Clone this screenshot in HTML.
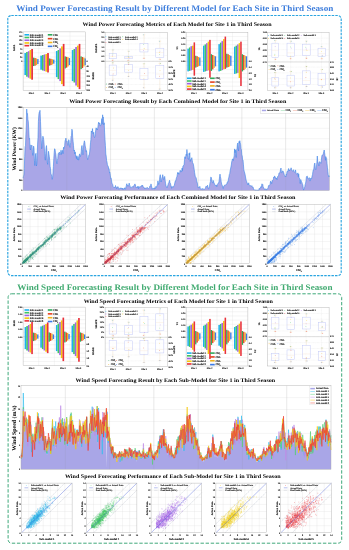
<!DOCTYPE html>
<html lang="en"><head><meta charset="utf-8"><title>Wind Power and Wind Speed Forecasting Result</title>
<style>html,body{margin:0;padding:0;background:#fff;}body{width:349px;height:550px;overflow:hidden;}svg{display:block;text-rendering:geometricPrecision;}</style>
</head><body>
<svg width="349" height="550" viewBox="0 0 349 550" font-family='"Liberation Serif","DejaVu Serif",serif'>
<defs><filter id="soft" x="0" y="0" width="349" height="550" filterUnits="userSpaceOnUse"><feGaussianBlur stdDeviation="0.3"/></filter></defs>
<rect x="0" y="0" width="349" height="550" fill="#fff"/>
<g filter="url(#soft)">
<text x="16.3" y="10.8" font-size="8.4" font-weight="bold" fill="#3d7ddc" text-anchor="start" textLength="317" lengthAdjust="spacingAndGlyphs">Wind Power Forecasting Result by Different Model for Each Site in Third Season</text>
<rect x="7.8" y="15.5" width="333.4" height="260.1" rx="3.5" fill="none" stroke="#2ba5e0" stroke-width="1.15" stroke-dasharray="2.5 1.1"/>
<text x="17.2" y="289.9" font-size="8.4" font-weight="bold" fill="#40aa70" text-anchor="start" textLength="315.3" lengthAdjust="spacingAndGlyphs">Wind Speed Forecasting Result by Different Model for Each Site in Third Season</text>
<rect x="8.1" y="293.8" width="333.6" height="249.4" rx="3.5" fill="none" stroke="#3fa87a" stroke-width="1.0" stroke-dasharray="3.4 1.7"/>
<text x="82.6" y="25.7" font-size="5.5" font-weight="bold" fill="#000" text-anchor="start" textLength="188.9" lengthAdjust="spacingAndGlyphs">Wind Power Forecating Metrics of Each Model for Site 1 in Third Season</text>
<text x="69.3" y="103.1" font-size="5.5" font-weight="bold" fill="#000" text-anchor="start" textLength="217" lengthAdjust="spacingAndGlyphs">Wind Power Forecating Result by Each Combined Model for Site 1 in Third Season</text>
<text x="60.2" y="198.8" font-size="5.5" font-weight="bold" fill="#000" text-anchor="start" textLength="235.2" lengthAdjust="spacingAndGlyphs">Wind Power Forecating Performance of Each Combined Model for Site 1 in Third Season</text>
<text x="83.7" y="302.7" font-size="5.5" font-weight="bold" fill="#000" text-anchor="start" textLength="189.3" lengthAdjust="spacingAndGlyphs">Wind Speed Forecating Metrics of Each Model for Site 1 in Third Season</text>
<text x="75.5" y="381.8" font-size="5.5" font-weight="bold" fill="#000" text-anchor="start" textLength="199.7" lengthAdjust="spacingAndGlyphs">Wind Speed Forecating Result by Each Sub-Model for Site 1 in Third Season</text>
<text x="64.9" y="477.5" font-size="5.5" font-weight="bold" fill="#000" text-anchor="start" textLength="215.8" lengthAdjust="spacingAndGlyphs">Wind Speed Forecating Performance of Each Sub-Model for Site 1 in Third Season</text>
<rect x="23.1" y="31.9" width="62.5" height="58.6" fill="#fff" stroke="none"/>
<line x1="38.73" y1="31.9" x2="38.73" y2="90.5" stroke="#dcdcdc" stroke-width="0.3"/>
<line x1="54.35" y1="31.9" x2="54.35" y2="90.5" stroke="#dcdcdc" stroke-width="0.3"/>
<line x1="69.97" y1="31.9" x2="69.97" y2="90.5" stroke="#dcdcdc" stroke-width="0.3"/>
<line x1="23.1" y1="36.09" x2="85.6" y2="36.09" stroke="#dcdcdc" stroke-width="0.3"/>
<line x1="23.1" y1="40.27" x2="85.6" y2="40.27" stroke="#dcdcdc" stroke-width="0.3"/>
<line x1="23.1" y1="44.46" x2="85.6" y2="44.46" stroke="#dcdcdc" stroke-width="0.3"/>
<line x1="23.1" y1="48.64" x2="85.6" y2="48.64" stroke="#dcdcdc" stroke-width="0.3"/>
<line x1="23.1" y1="52.83" x2="85.6" y2="52.83" stroke="#dcdcdc" stroke-width="0.3"/>
<line x1="23.1" y1="57.01" x2="85.6" y2="57.01" stroke="#dcdcdc" stroke-width="0.3"/>
<line x1="23.1" y1="61.2" x2="85.6" y2="61.2" stroke="#dcdcdc" stroke-width="0.3"/>
<line x1="23.1" y1="65.39" x2="85.6" y2="65.39" stroke="#dcdcdc" stroke-width="0.3"/>
<line x1="23.1" y1="69.57" x2="85.6" y2="69.57" stroke="#dcdcdc" stroke-width="0.3"/>
<line x1="23.1" y1="73.76" x2="85.6" y2="73.76" stroke="#dcdcdc" stroke-width="0.3"/>
<line x1="23.1" y1="77.94" x2="85.6" y2="77.94" stroke="#dcdcdc" stroke-width="0.3"/>
<line x1="23.1" y1="82.13" x2="85.6" y2="82.13" stroke="#dcdcdc" stroke-width="0.3"/>
<line x1="23.1" y1="86.31" x2="85.6" y2="86.31" stroke="#dcdcdc" stroke-width="0.3"/>
<line x1="23.1" y1="61.5" x2="85.6" y2="61.5" stroke="#bbb" stroke-width="0.3"/>
<rect x="24.37" y="53.03" width="1.72" height="22.06" fill="#1fb0ee"/>
<rect x="26.09" y="52.02" width="1.72" height="24.67" fill="#3fc564"/>
<rect x="27.81" y="51.22" width="1.72" height="26.47" fill="#a262e2"/>
<rect x="29.53" y="50.02" width="1.72" height="28.68" fill="#f4c70a"/>
<rect x="31.25" y="49.01" width="1.72" height="30.69" fill="#e8303a"/>
<rect x="32.97" y="57.64" width="1.4" height="8.42" fill="#2fa95a"/>
<rect x="34.37" y="58.04" width="1.4" height="7.62" fill="#e5401f"/>
<rect x="35.77" y="58.44" width="1.4" height="6.62" fill="#f1b21f"/>
<rect x="37.17" y="59.04" width="1.4" height="5.01" fill="#3b7ae8"/>
<text x="31.47" y="93.8" font-size="2.4" font-weight="bold" fill="#222" text-anchor="middle" stroke="#222" stroke-width="0.1">Site 1</text>
<rect x="40.26" y="55.63" width="1.72" height="14.04" fill="#1fb0ee"/>
<rect x="41.98" y="55.03" width="1.72" height="15.44" fill="#3fc564"/>
<rect x="43.7" y="54.43" width="1.72" height="16.65" fill="#a262e2"/>
<rect x="45.42" y="54.03" width="1.72" height="17.65" fill="#f4c70a"/>
<rect x="47.14" y="53.03" width="1.72" height="19.45" fill="#e8303a"/>
<rect x="48.86" y="58.44" width="1.4" height="7.22" fill="#2fa95a"/>
<rect x="50.26" y="58.84" width="1.4" height="6.22" fill="#e5401f"/>
<rect x="51.66" y="59.24" width="1.4" height="5.21" fill="#f1b21f"/>
<rect x="53.06" y="59.64" width="1.4" height="4.01" fill="#3b7ae8"/>
<text x="47.36" y="93.8" font-size="2.4" font-weight="bold" fill="#222" text-anchor="middle" stroke="#222" stroke-width="0.1">Site 2</text>
<rect x="55.89" y="51.02" width="1.72" height="26.07" fill="#1fb0ee"/>
<rect x="57.61" y="50.02" width="1.72" height="29.08" fill="#3fc564"/>
<rect x="59.33" y="48.41" width="1.72" height="32.69" fill="#a262e2"/>
<rect x="61.05" y="46.41" width="1.72" height="37.71" fill="#f4c70a"/>
<rect x="62.77" y="43.9" width="1.72" height="42.22" fill="#e8303a"/>
<rect x="64.49" y="56.43" width="1.4" height="12.03" fill="#2fa95a"/>
<rect x="65.89" y="56.84" width="1.4" height="10.83" fill="#e5401f"/>
<rect x="67.29" y="57.24" width="1.4" height="9.23" fill="#f1b21f"/>
<rect x="68.69" y="58.04" width="1.4" height="7.02" fill="#3b7ae8"/>
<text x="62.99" y="93.8" font-size="2.4" font-weight="bold" fill="#222" text-anchor="middle" stroke="#222" stroke-width="0.1">Site 3</text>
<rect x="71.78" y="50.02" width="1.72" height="31.09" fill="#1fb0ee"/>
<rect x="73.5" y="49.01" width="1.72" height="33.49" fill="#3fc564"/>
<rect x="75.22" y="47.01" width="1.72" height="38.51" fill="#a262e2"/>
<rect x="76.94" y="45.6" width="1.72" height="41.52" fill="#f4c70a"/>
<rect x="78.66" y="43.9" width="1.72" height="45.23" fill="#e8303a"/>
<rect x="80.38" y="56.43" width="1.4" height="12.64" fill="#2fa95a"/>
<rect x="81.78" y="57.04" width="1.4" height="11.03" fill="#e5401f"/>
<rect x="83.18" y="57.64" width="1.4" height="8.82" fill="#f1b21f"/>
<rect x="84.58" y="58.44" width="1.4" height="6.62" fill="#3b7ae8"/>
<text x="78.88" y="93.8" font-size="2.4" font-weight="bold" fill="#222" text-anchor="middle" stroke="#222" stroke-width="0.1">Site 4</text>
<rect x="23.1" y="31.9" width="62.5" height="58.6" fill="none" stroke="#a8a8a8" stroke-width="0.4"/>
<rect x="24.5" y="34" width="4.6" height="1.6" fill="#1fb0ee"/>
<text x="29.8" y="35.6" font-size="2.5" font-weight="bold" fill="#222" text-anchor="start" stroke="#222" stroke-width="0.1">Sub-model 1</text>
<rect x="24.5" y="36.72" width="4.6" height="1.6" fill="#3fc564"/>
<text x="29.8" y="38.32" font-size="2.5" font-weight="bold" fill="#222" text-anchor="start" stroke="#222" stroke-width="0.1">Sub-model 2</text>
<rect x="24.5" y="39.44" width="4.6" height="1.6" fill="#a262e2"/>
<text x="29.8" y="41.04" font-size="2.5" font-weight="bold" fill="#222" text-anchor="start" stroke="#222" stroke-width="0.1">Sub-model 3</text>
<rect x="24.5" y="42.16" width="4.6" height="1.6" fill="#f4c70a"/>
<text x="29.8" y="43.76" font-size="2.5" font-weight="bold" fill="#222" text-anchor="start" stroke="#222" stroke-width="0.1">Sub-model 4</text>
<rect x="24.5" y="44.88" width="4.6" height="1.6" fill="#e8303a"/>
<text x="29.8" y="46.48" font-size="2.5" font-weight="bold" fill="#222" text-anchor="start" stroke="#222" stroke-width="0.1">Sub-model 5</text>
<rect x="47.8" y="34" width="4.6" height="1.6" fill="#2fa95a"/>
<text x="53.1" y="35.65" font-size="2.5" font-weight="bold" fill="#222" text-anchor="start" stroke="#222" stroke-width="0.1">CM<tspan font-size="1.8" dy="0.6">1</tspan></text>
<rect x="47.8" y="37.85" width="4.6" height="1.6" fill="#e5401f"/>
<text x="53.1" y="39.5" font-size="2.5" font-weight="bold" fill="#222" text-anchor="start" stroke="#222" stroke-width="0.1">CM<tspan font-size="1.8" dy="0.6">2</tspan></text>
<rect x="47.8" y="41.7" width="4.6" height="1.6" fill="#f1b21f"/>
<text x="53.1" y="43.35" font-size="2.5" font-weight="bold" fill="#222" text-anchor="start" stroke="#222" stroke-width="0.1">CM<tspan font-size="1.8" dy="0.6">3</tspan></text>
<rect x="47.8" y="45.55" width="4.6" height="1.6" fill="#3b7ae8"/>
<text x="53.1" y="47.2" font-size="2.5" font-weight="bold" fill="#222" text-anchor="start" stroke="#222" stroke-width="0.1">CM<tspan font-size="1.8" dy="0.6">4</tspan></text>
<text x="22.3" y="32.7" font-size="2.25" font-weight="bold" fill="#111" text-anchor="end" stroke="#111" stroke-width="0.1">175</text>
<text x="22.3" y="36.93" font-size="2.25" font-weight="bold" fill="#111" text-anchor="end" stroke="#111" stroke-width="0.1">150</text>
<text x="22.3" y="41.16" font-size="2.25" font-weight="bold" fill="#111" text-anchor="end" stroke="#111" stroke-width="0.1">125</text>
<text x="22.3" y="45.39" font-size="2.25" font-weight="bold" fill="#111" text-anchor="end" stroke="#111" stroke-width="0.1">100</text>
<text x="22.3" y="49.61" font-size="2.25" font-weight="bold" fill="#111" text-anchor="end" stroke="#111" stroke-width="0.1">75</text>
<text x="22.3" y="53.84" font-size="2.25" font-weight="bold" fill="#111" text-anchor="end" stroke="#111" stroke-width="0.1">50</text>
<text x="22.3" y="58.07" font-size="2.25" font-weight="bold" fill="#111" text-anchor="end" stroke="#111" stroke-width="0.1">25</text>
<text x="22.3" y="62.3" font-size="2.25" font-weight="bold" fill="#111" text-anchor="end" stroke="#111" stroke-width="0.1">0</text>
<text x="86.4" y="62.3" font-size="2.25" font-weight="bold" fill="#111" text-anchor="start" stroke="#111" stroke-width="0.1">0</text>
<text x="86.4" y="67.13" font-size="2.25" font-weight="bold" fill="#111" text-anchor="start" stroke="#111" stroke-width="0.1">40</text>
<text x="86.4" y="71.97" font-size="2.25" font-weight="bold" fill="#111" text-anchor="start" stroke="#111" stroke-width="0.1">80</text>
<text x="86.4" y="76.8" font-size="2.25" font-weight="bold" fill="#111" text-anchor="start" stroke="#111" stroke-width="0.1">120</text>
<text x="86.4" y="81.63" font-size="2.25" font-weight="bold" fill="#111" text-anchor="start" stroke="#111" stroke-width="0.1">160</text>
<text x="86.4" y="86.47" font-size="2.25" font-weight="bold" fill="#111" text-anchor="start" stroke="#111" stroke-width="0.1">200</text>
<text x="86.4" y="91.3" font-size="2.25" font-weight="bold" fill="#111" text-anchor="start" stroke="#111" stroke-width="0.1">240</text>
<text x="15.3" y="47.9" font-size="2.6" font-weight="bold" fill="#222" text-anchor="middle" transform="rotate(-90 15.3 47.9)" stroke="#222" stroke-width="0.1">MAE</text>
<text x="93.9" y="75.7" font-size="2.6" font-weight="bold" fill="#222" text-anchor="middle" transform="rotate(-90 93.9 75.7)" stroke="#222" stroke-width="0.1">RMSE</text>
<rect x="186.1" y="32.3" width="61.8" height="58" fill="#fff" stroke="none"/>
<line x1="201.55" y1="32.3" x2="201.55" y2="90.3" stroke="#dcdcdc" stroke-width="0.3"/>
<line x1="217" y1="32.3" x2="217" y2="90.3" stroke="#dcdcdc" stroke-width="0.3"/>
<line x1="232.45" y1="32.3" x2="232.45" y2="90.3" stroke="#dcdcdc" stroke-width="0.3"/>
<line x1="186.1" y1="36.44" x2="247.9" y2="36.44" stroke="#dcdcdc" stroke-width="0.3"/>
<line x1="186.1" y1="40.59" x2="247.9" y2="40.59" stroke="#dcdcdc" stroke-width="0.3"/>
<line x1="186.1" y1="44.73" x2="247.9" y2="44.73" stroke="#dcdcdc" stroke-width="0.3"/>
<line x1="186.1" y1="48.87" x2="247.9" y2="48.87" stroke="#dcdcdc" stroke-width="0.3"/>
<line x1="186.1" y1="53.01" x2="247.9" y2="53.01" stroke="#dcdcdc" stroke-width="0.3"/>
<line x1="186.1" y1="57.16" x2="247.9" y2="57.16" stroke="#dcdcdc" stroke-width="0.3"/>
<line x1="186.1" y1="61.3" x2="247.9" y2="61.3" stroke="#dcdcdc" stroke-width="0.3"/>
<line x1="186.1" y1="65.44" x2="247.9" y2="65.44" stroke="#dcdcdc" stroke-width="0.3"/>
<line x1="186.1" y1="69.59" x2="247.9" y2="69.59" stroke="#dcdcdc" stroke-width="0.3"/>
<line x1="186.1" y1="73.73" x2="247.9" y2="73.73" stroke="#dcdcdc" stroke-width="0.3"/>
<line x1="186.1" y1="77.87" x2="247.9" y2="77.87" stroke="#dcdcdc" stroke-width="0.3"/>
<line x1="186.1" y1="82.01" x2="247.9" y2="82.01" stroke="#dcdcdc" stroke-width="0.3"/>
<line x1="186.1" y1="86.16" x2="247.9" y2="86.16" stroke="#dcdcdc" stroke-width="0.3"/>
<line x1="186.1" y1="61.3" x2="247.9" y2="61.3" stroke="#bbb" stroke-width="0.3"/>
<rect x="187.35" y="48.69" width="1.55" height="22.69" fill="#1fb0ee"/>
<rect x="188.9" y="47.43" width="1.55" height="23.45" fill="#3fc564"/>
<rect x="190.45" y="46.17" width="1.55" height="24.21" fill="#a262e2"/>
<rect x="192" y="45.67" width="1.55" height="24.21" fill="#f4c70a"/>
<rect x="193.55" y="42.39" width="1.55" height="33.28" fill="#e8303a"/>
<rect x="195.1" y="55.75" width="1.35" height="11.85" fill="#2fa95a"/>
<rect x="196.45" y="56.26" width="1.35" height="10.59" fill="#e5401f"/>
<rect x="197.8" y="57.01" width="1.35" height="9.33" fill="#f1b21f"/>
<rect x="199.15" y="57.52" width="1.35" height="8.32" fill="#3b7ae8"/>
<text x="193.92" y="93.6" font-size="2.4" font-weight="bold" fill="#222" text-anchor="middle" stroke="#222" stroke-width="0.1">Site 1</text>
<rect x="202.98" y="45.67" width="1.55" height="26.22" fill="#1fb0ee"/>
<rect x="204.53" y="44.41" width="1.55" height="26.98" fill="#3fc564"/>
<rect x="206.08" y="43.15" width="1.55" height="27.74" fill="#a262e2"/>
<rect x="207.63" y="41.63" width="1.55" height="28.74" fill="#f4c70a"/>
<rect x="209.18" y="39.87" width="1.55" height="37.82" fill="#e8303a"/>
<rect x="210.73" y="54.24" width="1.35" height="16.64" fill="#2fa95a"/>
<rect x="212.08" y="55" width="1.35" height="14.37" fill="#e5401f"/>
<rect x="213.43" y="55.75" width="1.35" height="12.1" fill="#f1b21f"/>
<rect x="214.78" y="56.26" width="1.35" height="10.09" fill="#3b7ae8"/>
<text x="209.55" y="93.6" font-size="2.4" font-weight="bold" fill="#222" text-anchor="middle" stroke="#222" stroke-width="0.1">Site 2</text>
<rect x="218.36" y="44.15" width="1.55" height="27.23" fill="#1fb0ee"/>
<rect x="219.91" y="42.64" width="1.55" height="28.24" fill="#3fc564"/>
<rect x="221.46" y="41.13" width="1.55" height="29" fill="#a262e2"/>
<rect x="223.01" y="39.11" width="1.55" height="30.26" fill="#f4c70a"/>
<rect x="224.56" y="36.59" width="1.55" height="32.27" fill="#e8303a"/>
<rect x="226.11" y="53.74" width="1.35" height="13.87" fill="#2fa95a"/>
<rect x="227.46" y="54.24" width="1.35" height="12.86" fill="#e5401f"/>
<rect x="228.81" y="55" width="1.35" height="11.6" fill="#f1b21f"/>
<rect x="230.16" y="55.75" width="1.35" height="10.09" fill="#3b7ae8"/>
<text x="224.94" y="93.6" font-size="2.4" font-weight="bold" fill="#222" text-anchor="middle" stroke="#222" stroke-width="0.1">Site 3</text>
<rect x="233.99" y="46.68" width="1.55" height="27.23" fill="#1fb0ee"/>
<rect x="235.54" y="45.67" width="1.55" height="27.74" fill="#3fc564"/>
<rect x="237.09" y="44.41" width="1.55" height="28.49" fill="#a262e2"/>
<rect x="238.64" y="43.15" width="1.55" height="34.8" fill="#f4c70a"/>
<rect x="240.19" y="41.63" width="1.55" height="44.38" fill="#e8303a"/>
<rect x="241.74" y="54.24" width="1.35" height="17.15" fill="#2fa95a"/>
<rect x="243.09" y="55" width="1.35" height="15.13" fill="#e5401f"/>
<rect x="244.44" y="55.75" width="1.35" height="13.11" fill="#f1b21f"/>
<rect x="245.79" y="56.26" width="1.35" height="11.35" fill="#3b7ae8"/>
<text x="240.57" y="93.6" font-size="2.4" font-weight="bold" fill="#222" text-anchor="middle" stroke="#222" stroke-width="0.1">Site 4</text>
<rect x="186.1" y="32.3" width="61.8" height="58" fill="none" stroke="#a8a8a8" stroke-width="0.4"/>
<rect x="187" y="77.5" width="4.6" height="1.6" fill="#1fb0ee"/>
<text x="192.3" y="79.1" font-size="2.5" font-weight="bold" fill="#222" text-anchor="start" stroke="#222" stroke-width="0.1">Sub-model 1</text>
<rect x="187" y="80.2" width="4.6" height="1.6" fill="#3fc564"/>
<text x="192.3" y="81.8" font-size="2.5" font-weight="bold" fill="#222" text-anchor="start" stroke="#222" stroke-width="0.1">Sub-model 2</text>
<rect x="187" y="82.9" width="4.6" height="1.6" fill="#a262e2"/>
<text x="192.3" y="84.5" font-size="2.5" font-weight="bold" fill="#222" text-anchor="start" stroke="#222" stroke-width="0.1">Sub-model 3</text>
<rect x="187" y="85.6" width="4.6" height="1.6" fill="#f4c70a"/>
<text x="192.3" y="87.2" font-size="2.5" font-weight="bold" fill="#222" text-anchor="start" stroke="#222" stroke-width="0.1">Sub-model 4</text>
<rect x="187" y="88.3" width="4.6" height="1.6" fill="#e8303a"/>
<text x="192.3" y="89.9" font-size="2.5" font-weight="bold" fill="#222" text-anchor="start" stroke="#222" stroke-width="0.1">Sub-model 5</text>
<rect x="210.1" y="77.5" width="4.6" height="1.6" fill="#2fa95a"/>
<text x="215.4" y="79.15" font-size="2.5" font-weight="bold" fill="#222" text-anchor="start" stroke="#222" stroke-width="0.1">CM<tspan font-size="1.8" dy="0.6">1</tspan></text>
<rect x="210.1" y="81.3" width="4.6" height="1.6" fill="#e5401f"/>
<text x="215.4" y="82.95" font-size="2.5" font-weight="bold" fill="#222" text-anchor="start" stroke="#222" stroke-width="0.1">CM<tspan font-size="1.8" dy="0.6">2</tspan></text>
<rect x="210.1" y="85.1" width="4.6" height="1.6" fill="#f1b21f"/>
<text x="215.4" y="86.75" font-size="2.5" font-weight="bold" fill="#222" text-anchor="start" stroke="#222" stroke-width="0.1">CM<tspan font-size="1.8" dy="0.6">3</tspan></text>
<rect x="210.1" y="88.9" width="4.6" height="1.6" fill="#3b7ae8"/>
<text x="215.4" y="90.55" font-size="2.5" font-weight="bold" fill="#222" text-anchor="start" stroke="#222" stroke-width="0.1">CM<tspan font-size="1.8" dy="0.6">4</tspan></text>
<text x="185.3" y="33.1" font-size="2.25" font-weight="bold" fill="#111" text-anchor="end" stroke="#111" stroke-width="0.1">0.25</text>
<text x="185.3" y="38.9" font-size="2.25" font-weight="bold" fill="#111" text-anchor="end" stroke="#111" stroke-width="0.1">0.20</text>
<text x="185.3" y="44.7" font-size="2.25" font-weight="bold" fill="#111" text-anchor="end" stroke="#111" stroke-width="0.1">0.15</text>
<text x="185.3" y="50.5" font-size="2.25" font-weight="bold" fill="#111" text-anchor="end" stroke="#111" stroke-width="0.1">0.10</text>
<text x="185.3" y="56.3" font-size="2.25" font-weight="bold" fill="#111" text-anchor="end" stroke="#111" stroke-width="0.1">0.05</text>
<text x="185.3" y="62.1" font-size="2.25" font-weight="bold" fill="#111" text-anchor="end" stroke="#111" stroke-width="0.1">0.00</text>
<text x="248.7" y="62.1" font-size="2.25" font-weight="bold" fill="#111" text-anchor="start" stroke="#111" stroke-width="0.1">0.0</text>
<text x="248.7" y="67.9" font-size="2.25" font-weight="bold" fill="#111" text-anchor="start" stroke="#111" stroke-width="0.1">0.4</text>
<text x="248.7" y="73.7" font-size="2.25" font-weight="bold" fill="#111" text-anchor="start" stroke="#111" stroke-width="0.1">0.8</text>
<text x="248.7" y="79.5" font-size="2.25" font-weight="bold" fill="#111" text-anchor="start" stroke="#111" stroke-width="0.1">1.2</text>
<text x="248.7" y="85.3" font-size="2.25" font-weight="bold" fill="#111" text-anchor="start" stroke="#111" stroke-width="0.1">1.6</text>
<text x="248.7" y="91.1" font-size="2.25" font-weight="bold" fill="#111" text-anchor="start" stroke="#111" stroke-width="0.1">2.0</text>
<text x="178.3" y="48" font-size="2.6" font-weight="bold" fill="#222" text-anchor="middle" transform="rotate(-90 178.3 48)" stroke="#222" stroke-width="0.1">U1</text>
<text x="256.2" y="75.5" font-size="2.6" font-weight="bold" fill="#222" text-anchor="middle" transform="rotate(-90 256.2 75.5)" stroke="#222" stroke-width="0.1">U2</text>
<rect x="23.1" y="307.1" width="62.5" height="58.6" fill="#fff" stroke="none"/>
<line x1="38.73" y1="307.1" x2="38.73" y2="365.7" stroke="#dcdcdc" stroke-width="0.3"/>
<line x1="54.35" y1="307.1" x2="54.35" y2="365.7" stroke="#dcdcdc" stroke-width="0.3"/>
<line x1="69.97" y1="307.1" x2="69.97" y2="365.7" stroke="#dcdcdc" stroke-width="0.3"/>
<line x1="23.1" y1="311.29" x2="85.6" y2="311.29" stroke="#dcdcdc" stroke-width="0.3"/>
<line x1="23.1" y1="315.47" x2="85.6" y2="315.47" stroke="#dcdcdc" stroke-width="0.3"/>
<line x1="23.1" y1="319.66" x2="85.6" y2="319.66" stroke="#dcdcdc" stroke-width="0.3"/>
<line x1="23.1" y1="323.84" x2="85.6" y2="323.84" stroke="#dcdcdc" stroke-width="0.3"/>
<line x1="23.1" y1="328.03" x2="85.6" y2="328.03" stroke="#dcdcdc" stroke-width="0.3"/>
<line x1="23.1" y1="332.21" x2="85.6" y2="332.21" stroke="#dcdcdc" stroke-width="0.3"/>
<line x1="23.1" y1="336.4" x2="85.6" y2="336.4" stroke="#dcdcdc" stroke-width="0.3"/>
<line x1="23.1" y1="340.59" x2="85.6" y2="340.59" stroke="#dcdcdc" stroke-width="0.3"/>
<line x1="23.1" y1="344.77" x2="85.6" y2="344.77" stroke="#dcdcdc" stroke-width="0.3"/>
<line x1="23.1" y1="348.96" x2="85.6" y2="348.96" stroke="#dcdcdc" stroke-width="0.3"/>
<line x1="23.1" y1="353.14" x2="85.6" y2="353.14" stroke="#dcdcdc" stroke-width="0.3"/>
<line x1="23.1" y1="357.33" x2="85.6" y2="357.33" stroke="#dcdcdc" stroke-width="0.3"/>
<line x1="23.1" y1="361.51" x2="85.6" y2="361.51" stroke="#dcdcdc" stroke-width="0.3"/>
<line x1="23.1" y1="336.8" x2="85.6" y2="336.8" stroke="#bbb" stroke-width="0.3"/>
<rect x="24.62" y="327.03" width="1.65" height="22.06" fill="#1fb0ee"/>
<rect x="26.27" y="326.03" width="1.65" height="24.47" fill="#3fc564"/>
<rect x="27.92" y="325.03" width="1.65" height="26.67" fill="#a262e2"/>
<rect x="29.57" y="324.02" width="1.65" height="28.48" fill="#f4c70a"/>
<rect x="31.22" y="322.02" width="1.65" height="32.09" fill="#e8303a"/>
<rect x="32.87" y="332.65" width="1.4" height="8.42" fill="#2fa95a"/>
<rect x="34.27" y="333.05" width="1.4" height="7.42" fill="#e5401f"/>
<rect x="35.67" y="333.65" width="1.4" height="6.02" fill="#f1b21f"/>
<rect x="37.07" y="334.45" width="1.4" height="4.21" fill="#3b7ae8"/>
<text x="31.55" y="369" font-size="2.4" font-weight="bold" fill="#222" text-anchor="middle" stroke="#222" stroke-width="0.1">Site 1</text>
<rect x="40.26" y="326.43" width="1.65" height="21.26" fill="#1fb0ee"/>
<rect x="41.91" y="325.63" width="1.65" height="23.47" fill="#3fc564"/>
<rect x="43.56" y="324.82" width="1.65" height="25.67" fill="#a262e2"/>
<rect x="45.21" y="324.02" width="1.65" height="27.68" fill="#f4c70a"/>
<rect x="46.86" y="322.42" width="1.65" height="30.69" fill="#e8303a"/>
<rect x="48.51" y="332.45" width="1.4" height="9.23" fill="#2fa95a"/>
<rect x="49.91" y="333.05" width="1.4" height="7.82" fill="#e5401f"/>
<rect x="51.31" y="333.65" width="1.4" height="6.42" fill="#f1b21f"/>
<rect x="52.71" y="334.45" width="1.4" height="4.61" fill="#3b7ae8"/>
<text x="47.18" y="369" font-size="2.4" font-weight="bold" fill="#222" text-anchor="middle" stroke="#222" stroke-width="0.1">Site 2</text>
<rect x="55.89" y="325.03" width="1.65" height="26.07" fill="#1fb0ee"/>
<rect x="57.54" y="323.62" width="1.65" height="29.48" fill="#3fc564"/>
<rect x="59.19" y="322.02" width="1.65" height="33.09" fill="#a262e2"/>
<rect x="60.84" y="320.41" width="1.65" height="37.71" fill="#f4c70a"/>
<rect x="62.49" y="317.6" width="1.65" height="43.52" fill="#e8303a"/>
<rect x="64.14" y="331.64" width="1.4" height="10.83" fill="#2fa95a"/>
<rect x="65.54" y="332.45" width="1.4" height="9.23" fill="#e5401f"/>
<rect x="66.94" y="333.05" width="1.4" height="7.42" fill="#f1b21f"/>
<rect x="68.34" y="334.05" width="1.4" height="5.21" fill="#3b7ae8"/>
<text x="62.82" y="369" font-size="2.4" font-weight="bold" fill="#222" text-anchor="middle" stroke="#222" stroke-width="0.1">Site 3</text>
<rect x="71.52" y="325.63" width="1.65" height="26.47" fill="#1fb0ee"/>
<rect x="73.17" y="324.02" width="1.65" height="30.08" fill="#3fc564"/>
<rect x="74.82" y="322.42" width="1.65" height="33.69" fill="#a262e2"/>
<rect x="76.47" y="320.41" width="1.65" height="37.71" fill="#f4c70a"/>
<rect x="78.12" y="318.01" width="1.65" height="43.72" fill="#e8303a"/>
<rect x="79.77" y="332.45" width="1.4" height="9.23" fill="#2fa95a"/>
<rect x="81.17" y="333.05" width="1.4" height="7.82" fill="#e5401f"/>
<rect x="82.57" y="333.65" width="1.4" height="6.42" fill="#f1b21f"/>
<rect x="83.97" y="334.45" width="1.4" height="4.61" fill="#3b7ae8"/>
<text x="78.45" y="369" font-size="2.4" font-weight="bold" fill="#222" text-anchor="middle" stroke="#222" stroke-width="0.1">Site 4</text>
<rect x="23.1" y="307.1" width="62.5" height="58.6" fill="none" stroke="#a8a8a8" stroke-width="0.4"/>
<rect x="24.5" y="309.2" width="4.6" height="1.6" fill="#1fb0ee"/>
<text x="29.8" y="310.8" font-size="2.5" font-weight="bold" fill="#222" text-anchor="start" stroke="#222" stroke-width="0.1">Sub-model 1</text>
<rect x="24.5" y="311.92" width="4.6" height="1.6" fill="#3fc564"/>
<text x="29.8" y="313.52" font-size="2.5" font-weight="bold" fill="#222" text-anchor="start" stroke="#222" stroke-width="0.1">Sub-model 2</text>
<rect x="24.5" y="314.64" width="4.6" height="1.6" fill="#a262e2"/>
<text x="29.8" y="316.24" font-size="2.5" font-weight="bold" fill="#222" text-anchor="start" stroke="#222" stroke-width="0.1">Sub-model 3</text>
<rect x="24.5" y="317.36" width="4.6" height="1.6" fill="#f4c70a"/>
<text x="29.8" y="318.96" font-size="2.5" font-weight="bold" fill="#222" text-anchor="start" stroke="#222" stroke-width="0.1">Sub-model 4</text>
<rect x="24.5" y="320.08" width="4.6" height="1.6" fill="#e8303a"/>
<text x="29.8" y="321.68" font-size="2.5" font-weight="bold" fill="#222" text-anchor="start" stroke="#222" stroke-width="0.1">Sub-model 5</text>
<rect x="47.8" y="309.2" width="4.6" height="1.6" fill="#2fa95a"/>
<text x="53.1" y="310.85" font-size="2.5" font-weight="bold" fill="#222" text-anchor="start" stroke="#222" stroke-width="0.1">CM<tspan font-size="1.8" dy="0.6">1</tspan></text>
<rect x="47.8" y="313.05" width="4.6" height="1.6" fill="#e5401f"/>
<text x="53.1" y="314.7" font-size="2.5" font-weight="bold" fill="#222" text-anchor="start" stroke="#222" stroke-width="0.1">CM<tspan font-size="1.8" dy="0.6">2</tspan></text>
<rect x="47.8" y="316.9" width="4.6" height="1.6" fill="#f1b21f"/>
<text x="53.1" y="318.55" font-size="2.5" font-weight="bold" fill="#222" text-anchor="start" stroke="#222" stroke-width="0.1">CM<tspan font-size="1.8" dy="0.6">3</tspan></text>
<rect x="47.8" y="320.75" width="4.6" height="1.6" fill="#3b7ae8"/>
<text x="53.1" y="322.4" font-size="2.5" font-weight="bold" fill="#222" text-anchor="start" stroke="#222" stroke-width="0.1">CM<tspan font-size="1.8" dy="0.6">4</tspan></text>
<text x="22.3" y="307.9" font-size="2.25" font-weight="bold" fill="#111" text-anchor="end" stroke="#111" stroke-width="0.1">2.00</text>
<text x="22.3" y="315.33" font-size="2.25" font-weight="bold" fill="#111" text-anchor="end" stroke="#111" stroke-width="0.1">1.50</text>
<text x="22.3" y="322.75" font-size="2.25" font-weight="bold" fill="#111" text-anchor="end" stroke="#111" stroke-width="0.1">1.00</text>
<text x="22.3" y="330.18" font-size="2.25" font-weight="bold" fill="#111" text-anchor="end" stroke="#111" stroke-width="0.1">0.50</text>
<text x="22.3" y="337.6" font-size="2.25" font-weight="bold" fill="#111" text-anchor="end" stroke="#111" stroke-width="0.1">0.00</text>
<text x="86.4" y="337.6" font-size="2.25" font-weight="bold" fill="#111" text-anchor="start" stroke="#111" stroke-width="0.1">0.0</text>
<text x="86.4" y="344.82" font-size="2.25" font-weight="bold" fill="#111" text-anchor="start" stroke="#111" stroke-width="0.1">0.6</text>
<text x="86.4" y="352.05" font-size="2.25" font-weight="bold" fill="#111" text-anchor="start" stroke="#111" stroke-width="0.1">1.2</text>
<text x="86.4" y="359.28" font-size="2.25" font-weight="bold" fill="#111" text-anchor="start" stroke="#111" stroke-width="0.1">1.8</text>
<text x="86.4" y="366.5" font-size="2.25" font-weight="bold" fill="#111" text-anchor="start" stroke="#111" stroke-width="0.1">2.4</text>
<text x="15.3" y="323.15" font-size="2.6" font-weight="bold" fill="#222" text-anchor="middle" transform="rotate(-90 15.3 323.15)" stroke="#222" stroke-width="0.1">MAE</text>
<text x="93.9" y="350.95" font-size="2.6" font-weight="bold" fill="#222" text-anchor="middle" transform="rotate(-90 93.9 350.95)" stroke="#222" stroke-width="0.1">RMSE</text>
<rect x="186.1" y="307.6" width="61.8" height="58.4" fill="#fff" stroke="none"/>
<line x1="201.55" y1="307.6" x2="201.55" y2="366" stroke="#dcdcdc" stroke-width="0.3"/>
<line x1="217" y1="307.6" x2="217" y2="366" stroke="#dcdcdc" stroke-width="0.3"/>
<line x1="232.45" y1="307.6" x2="232.45" y2="366" stroke="#dcdcdc" stroke-width="0.3"/>
<line x1="186.1" y1="311.77" x2="247.9" y2="311.77" stroke="#dcdcdc" stroke-width="0.3"/>
<line x1="186.1" y1="315.94" x2="247.9" y2="315.94" stroke="#dcdcdc" stroke-width="0.3"/>
<line x1="186.1" y1="320.11" x2="247.9" y2="320.11" stroke="#dcdcdc" stroke-width="0.3"/>
<line x1="186.1" y1="324.29" x2="247.9" y2="324.29" stroke="#dcdcdc" stroke-width="0.3"/>
<line x1="186.1" y1="328.46" x2="247.9" y2="328.46" stroke="#dcdcdc" stroke-width="0.3"/>
<line x1="186.1" y1="332.63" x2="247.9" y2="332.63" stroke="#dcdcdc" stroke-width="0.3"/>
<line x1="186.1" y1="336.8" x2="247.9" y2="336.8" stroke="#dcdcdc" stroke-width="0.3"/>
<line x1="186.1" y1="340.97" x2="247.9" y2="340.97" stroke="#dcdcdc" stroke-width="0.3"/>
<line x1="186.1" y1="345.14" x2="247.9" y2="345.14" stroke="#dcdcdc" stroke-width="0.3"/>
<line x1="186.1" y1="349.31" x2="247.9" y2="349.31" stroke="#dcdcdc" stroke-width="0.3"/>
<line x1="186.1" y1="353.49" x2="247.9" y2="353.49" stroke="#dcdcdc" stroke-width="0.3"/>
<line x1="186.1" y1="357.66" x2="247.9" y2="357.66" stroke="#dcdcdc" stroke-width="0.3"/>
<line x1="186.1" y1="361.83" x2="247.9" y2="361.83" stroke="#dcdcdc" stroke-width="0.3"/>
<line x1="186.1" y1="337.3" x2="247.9" y2="337.3" stroke="#bbb" stroke-width="0.3"/>
<rect x="187.35" y="326.48" width="1.55" height="19.67" fill="#1fb0ee"/>
<rect x="188.9" y="325.72" width="1.55" height="21.18" fill="#3fc564"/>
<rect x="190.45" y="324.71" width="1.55" height="23.2" fill="#a262e2"/>
<rect x="192" y="323.45" width="1.55" height="26.22" fill="#f4c70a"/>
<rect x="193.55" y="321.43" width="1.55" height="30.26" fill="#e8303a"/>
<rect x="195.1" y="331.01" width="1.35" height="13.36" fill="#2fa95a"/>
<rect x="196.45" y="331.77" width="1.35" height="10.84" fill="#e5401f"/>
<rect x="197.8" y="332.53" width="1.35" height="8.32" fill="#f1b21f"/>
<rect x="199.15" y="333.28" width="1.35" height="6.05" fill="#3b7ae8"/>
<text x="193.92" y="369.3" font-size="2.4" font-weight="bold" fill="#222" text-anchor="middle" stroke="#222" stroke-width="0.1">Site 1</text>
<rect x="202.98" y="325.72" width="1.55" height="21.18" fill="#1fb0ee"/>
<rect x="204.53" y="324.71" width="1.55" height="23.7" fill="#3fc564"/>
<rect x="206.08" y="323.45" width="1.55" height="26.48" fill="#a262e2"/>
<rect x="207.63" y="321.94" width="1.55" height="32.02" fill="#f4c70a"/>
<rect x="209.18" y="318.91" width="1.55" height="40.09" fill="#e8303a"/>
<rect x="210.73" y="330.01" width="1.35" height="14.88" fill="#2fa95a"/>
<rect x="212.08" y="330.76" width="1.35" height="12.36" fill="#e5401f"/>
<rect x="213.43" y="331.52" width="1.35" height="10.09" fill="#f1b21f"/>
<rect x="214.78" y="332.53" width="1.35" height="7.56" fill="#3b7ae8"/>
<text x="209.55" y="369.3" font-size="2.4" font-weight="bold" fill="#222" text-anchor="middle" stroke="#222" stroke-width="0.1">Site 2</text>
<rect x="218.36" y="324.96" width="1.55" height="20.68" fill="#1fb0ee"/>
<rect x="219.91" y="323.95" width="1.55" height="22.95" fill="#3fc564"/>
<rect x="221.46" y="322.95" width="1.55" height="25.47" fill="#a262e2"/>
<rect x="223.01" y="320.93" width="1.55" height="30.01" fill="#f4c70a"/>
<rect x="224.56" y="317.65" width="1.55" height="36.31" fill="#e8303a"/>
<rect x="226.11" y="329.75" width="1.35" height="14.62" fill="#2fa95a"/>
<rect x="227.46" y="330.51" width="1.35" height="12.1" fill="#e5401f"/>
<rect x="228.81" y="331.52" width="1.35" height="9.33" fill="#f1b21f"/>
<rect x="230.16" y="332.53" width="1.35" height="6.81" fill="#3b7ae8"/>
<text x="224.94" y="369.3" font-size="2.4" font-weight="bold" fill="#222" text-anchor="middle" stroke="#222" stroke-width="0.1">Site 3</text>
<rect x="233.99" y="326.98" width="1.55" height="21.94" fill="#1fb0ee"/>
<rect x="235.54" y="325.97" width="1.55" height="24.46" fill="#3fc564"/>
<rect x="237.09" y="324.96" width="1.55" height="26.73" fill="#a262e2"/>
<rect x="238.64" y="323.7" width="1.55" height="30.01" fill="#f4c70a"/>
<rect x="240.19" y="321.43" width="1.55" height="34.54" fill="#e8303a"/>
<rect x="241.74" y="331.01" width="1.35" height="13.87" fill="#2fa95a"/>
<rect x="243.09" y="331.77" width="1.35" height="11.35" fill="#e5401f"/>
<rect x="244.44" y="332.53" width="1.35" height="9.08" fill="#f1b21f"/>
<rect x="245.79" y="333.54" width="1.35" height="6.56" fill="#3b7ae8"/>
<text x="240.57" y="369.3" font-size="2.4" font-weight="bold" fill="#222" text-anchor="middle" stroke="#222" stroke-width="0.1">Site 4</text>
<rect x="186.1" y="307.6" width="61.8" height="58.4" fill="none" stroke="#a8a8a8" stroke-width="0.4"/>
<rect x="187" y="352.3" width="4.6" height="1.6" fill="#1fb0ee"/>
<text x="192.3" y="353.9" font-size="2.5" font-weight="bold" fill="#222" text-anchor="start" stroke="#222" stroke-width="0.1">Sub-model 1</text>
<rect x="187" y="355.02" width="4.6" height="1.6" fill="#3fc564"/>
<text x="192.3" y="356.62" font-size="2.5" font-weight="bold" fill="#222" text-anchor="start" stroke="#222" stroke-width="0.1">Sub-model 2</text>
<rect x="187" y="357.74" width="4.6" height="1.6" fill="#a262e2"/>
<text x="192.3" y="359.34" font-size="2.5" font-weight="bold" fill="#222" text-anchor="start" stroke="#222" stroke-width="0.1">Sub-model 3</text>
<rect x="187" y="360.46" width="4.6" height="1.6" fill="#f4c70a"/>
<text x="192.3" y="362.06" font-size="2.5" font-weight="bold" fill="#222" text-anchor="start" stroke="#222" stroke-width="0.1">Sub-model 4</text>
<rect x="187" y="363.18" width="4.6" height="1.6" fill="#e8303a"/>
<text x="192.3" y="364.78" font-size="2.5" font-weight="bold" fill="#222" text-anchor="start" stroke="#222" stroke-width="0.1">Sub-model 5</text>
<rect x="210.1" y="352.3" width="4.6" height="1.6" fill="#2fa95a"/>
<text x="215.4" y="353.95" font-size="2.5" font-weight="bold" fill="#222" text-anchor="start" stroke="#222" stroke-width="0.1">CM<tspan font-size="1.8" dy="0.6">1</tspan></text>
<rect x="210.1" y="356.13" width="4.6" height="1.6" fill="#e5401f"/>
<text x="215.4" y="357.78" font-size="2.5" font-weight="bold" fill="#222" text-anchor="start" stroke="#222" stroke-width="0.1">CM<tspan font-size="1.8" dy="0.6">2</tspan></text>
<rect x="210.1" y="359.96" width="4.6" height="1.6" fill="#f1b21f"/>
<text x="215.4" y="361.61" font-size="2.5" font-weight="bold" fill="#222" text-anchor="start" stroke="#222" stroke-width="0.1">CM<tspan font-size="1.8" dy="0.6">3</tspan></text>
<rect x="210.1" y="363.79" width="4.6" height="1.6" fill="#3b7ae8"/>
<text x="215.4" y="365.44" font-size="2.5" font-weight="bold" fill="#222" text-anchor="start" stroke="#222" stroke-width="0.1">CM<tspan font-size="1.8" dy="0.6">4</tspan></text>
<text x="185.3" y="308.4" font-size="2.25" font-weight="bold" fill="#111" text-anchor="end" stroke="#111" stroke-width="0.1">0.25</text>
<text x="185.3" y="314.34" font-size="2.25" font-weight="bold" fill="#111" text-anchor="end" stroke="#111" stroke-width="0.1">0.20</text>
<text x="185.3" y="320.28" font-size="2.25" font-weight="bold" fill="#111" text-anchor="end" stroke="#111" stroke-width="0.1">0.15</text>
<text x="185.3" y="326.22" font-size="2.25" font-weight="bold" fill="#111" text-anchor="end" stroke="#111" stroke-width="0.1">0.10</text>
<text x="185.3" y="332.16" font-size="2.25" font-weight="bold" fill="#111" text-anchor="end" stroke="#111" stroke-width="0.1">0.05</text>
<text x="185.3" y="338.1" font-size="2.25" font-weight="bold" fill="#111" text-anchor="end" stroke="#111" stroke-width="0.1">0.00</text>
<text x="248.7" y="338.1" font-size="2.25" font-weight="bold" fill="#111" text-anchor="start" stroke="#111" stroke-width="0.1">0.0</text>
<text x="248.7" y="343.84" font-size="2.25" font-weight="bold" fill="#111" text-anchor="start" stroke="#111" stroke-width="0.1">0.4</text>
<text x="248.7" y="349.58" font-size="2.25" font-weight="bold" fill="#111" text-anchor="start" stroke="#111" stroke-width="0.1">0.8</text>
<text x="248.7" y="355.32" font-size="2.25" font-weight="bold" fill="#111" text-anchor="start" stroke="#111" stroke-width="0.1">1.2</text>
<text x="248.7" y="361.06" font-size="2.25" font-weight="bold" fill="#111" text-anchor="start" stroke="#111" stroke-width="0.1">1.6</text>
<text x="248.7" y="366.8" font-size="2.25" font-weight="bold" fill="#111" text-anchor="start" stroke="#111" stroke-width="0.1">2.0</text>
<text x="178.3" y="323.65" font-size="2.6" font-weight="bold" fill="#222" text-anchor="middle" transform="rotate(-90 178.3 323.65)" stroke="#222" stroke-width="0.1">U1</text>
<text x="256.2" y="351.35" font-size="2.6" font-weight="bold" fill="#222" text-anchor="middle" transform="rotate(-90 256.2 351.35)" stroke="#222" stroke-width="0.1">U2</text>
<rect x="105.1" y="32.3" width="62.5" height="58" fill="#fff" stroke="none"/>
<line x1="112.91" y1="32.3" x2="112.91" y2="90.3" stroke="#dcdcdc" stroke-width="0.3" stroke-dasharray="0.8 0.5"/>
<line x1="128.54" y1="32.3" x2="128.54" y2="90.3" stroke="#dcdcdc" stroke-width="0.3" stroke-dasharray="0.8 0.5"/>
<line x1="144.16" y1="32.3" x2="144.16" y2="90.3" stroke="#dcdcdc" stroke-width="0.3" stroke-dasharray="0.8 0.5"/>
<line x1="159.79" y1="32.3" x2="159.79" y2="90.3" stroke="#dcdcdc" stroke-width="0.3" stroke-dasharray="0.8 0.5"/>
<line x1="105.1" y1="38.1" x2="167.6" y2="38.1" stroke="#dcdcdc" stroke-width="0.3" stroke-dasharray="0.8 0.5"/>
<line x1="105.1" y1="43.9" x2="167.6" y2="43.9" stroke="#dcdcdc" stroke-width="0.3" stroke-dasharray="0.8 0.5"/>
<line x1="105.1" y1="49.7" x2="167.6" y2="49.7" stroke="#dcdcdc" stroke-width="0.3" stroke-dasharray="0.8 0.5"/>
<line x1="105.1" y1="55.5" x2="167.6" y2="55.5" stroke="#dcdcdc" stroke-width="0.3" stroke-dasharray="0.8 0.5"/>
<line x1="105.1" y1="61.3" x2="167.6" y2="61.3" stroke="#dcdcdc" stroke-width="0.3" stroke-dasharray="0.8 0.5"/>
<line x1="105.1" y1="67.1" x2="167.6" y2="67.1" stroke="#dcdcdc" stroke-width="0.3" stroke-dasharray="0.8 0.5"/>
<line x1="105.1" y1="72.9" x2="167.6" y2="72.9" stroke="#dcdcdc" stroke-width="0.3" stroke-dasharray="0.8 0.5"/>
<line x1="105.1" y1="78.7" x2="167.6" y2="78.7" stroke="#dcdcdc" stroke-width="0.3" stroke-dasharray="0.8 0.5"/>
<line x1="105.1" y1="84.5" x2="167.6" y2="84.5" stroke="#dcdcdc" stroke-width="0.3" stroke-dasharray="0.8 0.5"/>
<line x1="105.1" y1="61.3" x2="167.6" y2="61.3" stroke="#aaa" stroke-width="0.35"/>
<line x1="112.8" y1="49.95" x2="112.8" y2="53.74" stroke="#f5d29a" stroke-width="0.35" stroke-dasharray="0.7 0.5"/>
<line x1="112.8" y1="58.78" x2="112.8" y2="60.29" stroke="#f5d29a" stroke-width="0.35" stroke-dasharray="0.7 0.5"/>
<line x1="111.5" y1="49.95" x2="114.1" y2="49.95" stroke="#f5d29a" stroke-width="0.35"/>
<line x1="111.5" y1="60.29" x2="114.1" y2="60.29" stroke="#f5d29a" stroke-width="0.35"/>
<rect x="109.15" y="53.74" width="7.31" height="5.04" fill="#fff" fill-opacity="0.6" stroke="#bcc4f5" stroke-width="0.45"/>
<line x1="109.15" y1="56.49" x2="116.46" y2="56.49" stroke="#f6dcc0" stroke-width="0.25"/>
<circle cx="112.98" cy="49.95" r="0.4" fill="#1fb0ee" fill-opacity="0.75"/>
<circle cx="112.84" cy="54.1" r="0.4" fill="#3fc564" fill-opacity="0.75"/>
<circle cx="112.27" cy="55.58" r="0.4" fill="#a262e2" fill-opacity="0.75"/>
<circle cx="112.25" cy="56.29" r="0.4" fill="#f4c70a" fill-opacity="0.75"/>
<circle cx="112.29" cy="60.29" r="0.4" fill="#e8303a" fill-opacity="0.75"/>
<line x1="128.56" y1="51.21" x2="128.56" y2="56.26" stroke="#f5d29a" stroke-width="0.35" stroke-dasharray="0.7 0.5"/>
<line x1="128.56" y1="58.78" x2="128.56" y2="60.29" stroke="#f5d29a" stroke-width="0.35" stroke-dasharray="0.7 0.5"/>
<line x1="127.26" y1="51.21" x2="129.86" y2="51.21" stroke="#f5d29a" stroke-width="0.35"/>
<line x1="127.26" y1="60.29" x2="129.86" y2="60.29" stroke="#f5d29a" stroke-width="0.35"/>
<rect x="124.78" y="56.26" width="7.56" height="2.52" fill="#fff" fill-opacity="0.6" stroke="#bcc4f5" stroke-width="0.45"/>
<line x1="124.78" y1="57.46" x2="132.34" y2="57.46" stroke="#f6dcc0" stroke-width="0.25"/>
<circle cx="128.95" cy="51.21" r="0.4" fill="#1fb0ee" fill-opacity="0.75"/>
<circle cx="128.23" cy="56.57" r="0.4" fill="#3fc564" fill-opacity="0.75"/>
<circle cx="129.1" cy="57.84" r="0.4" fill="#a262e2" fill-opacity="0.75"/>
<circle cx="128.44" cy="57.71" r="0.4" fill="#f4c70a" fill-opacity="0.75"/>
<circle cx="128.02" cy="60.29" r="0.4" fill="#e8303a" fill-opacity="0.75"/>
<line x1="143.94" y1="34.83" x2="143.94" y2="43.65" stroke="#f5d29a" stroke-width="0.35" stroke-dasharray="0.7 0.5"/>
<line x1="143.94" y1="51.97" x2="143.94" y2="58.27" stroke="#f5d29a" stroke-width="0.35" stroke-dasharray="0.7 0.5"/>
<line x1="142.64" y1="34.83" x2="145.24" y2="34.83" stroke="#f5d29a" stroke-width="0.35"/>
<line x1="142.64" y1="58.27" x2="145.24" y2="58.27" stroke="#f5d29a" stroke-width="0.35"/>
<rect x="139.91" y="43.65" width="8.07" height="8.32" fill="#fff" fill-opacity="0.6" stroke="#bcc4f5" stroke-width="0.45"/>
<line x1="139.91" y1="49.54" x2="147.98" y2="49.54" stroke="#f6dcc0" stroke-width="0.25"/>
<circle cx="143.51" cy="34.83" r="0.4" fill="#1fb0ee" fill-opacity="0.75"/>
<circle cx="143.71" cy="44.63" r="0.4" fill="#3fc564" fill-opacity="0.75"/>
<circle cx="143.56" cy="50.44" r="0.4" fill="#a262e2" fill-opacity="0.75"/>
<circle cx="144.11" cy="48.49" r="0.4" fill="#f4c70a" fill-opacity="0.75"/>
<circle cx="144" cy="58.27" r="0.4" fill="#e8303a" fill-opacity="0.75"/>
<line x1="159.83" y1="41.13" x2="159.83" y2="48.19" stroke="#f5d29a" stroke-width="0.35" stroke-dasharray="0.7 0.5"/>
<line x1="159.83" y1="57.52" x2="159.83" y2="59.28" stroke="#f5d29a" stroke-width="0.35" stroke-dasharray="0.7 0.5"/>
<line x1="158.53" y1="41.13" x2="161.13" y2="41.13" stroke="#f5d29a" stroke-width="0.35"/>
<line x1="158.53" y1="59.28" x2="161.13" y2="59.28" stroke="#f5d29a" stroke-width="0.35"/>
<rect x="155.79" y="48.19" width="8.07" height="9.33" fill="#fff" fill-opacity="0.6" stroke="#bcc4f5" stroke-width="0.45"/>
<line x1="155.79" y1="52.56" x2="163.86" y2="52.56" stroke="#f6dcc0" stroke-width="0.25"/>
<circle cx="159.47" cy="41.13" r="0.4" fill="#1fb0ee" fill-opacity="0.75"/>
<circle cx="159.74" cy="54.54" r="0.4" fill="#3fc564" fill-opacity="0.75"/>
<circle cx="159.93" cy="51.12" r="0.4" fill="#a262e2" fill-opacity="0.75"/>
<circle cx="159.59" cy="52.42" r="0.4" fill="#f4c70a" fill-opacity="0.75"/>
<circle cx="160.07" cy="59.28" r="0.4" fill="#e8303a" fill-opacity="0.75"/>
<line x1="112.8" y1="62.81" x2="112.8" y2="65.08" stroke="#f5d29a" stroke-width="0.35" stroke-dasharray="0.7 0.5"/>
<line x1="112.8" y1="75.17" x2="112.8" y2="80.21" stroke="#f5d29a" stroke-width="0.35" stroke-dasharray="0.7 0.5"/>
<line x1="111.5" y1="62.81" x2="114.1" y2="62.81" stroke="#f5d29a" stroke-width="0.35"/>
<line x1="111.5" y1="80.21" x2="114.1" y2="80.21" stroke="#f5d29a" stroke-width="0.35"/>
<rect x="109.15" y="65.08" width="7.31" height="10.09" fill="#fff" fill-opacity="0.6" stroke="#bcc4f5" stroke-width="0.45"/>
<line x1="109.15" y1="70.36" x2="116.46" y2="70.36" stroke="#f6dcc0" stroke-width="0.25"/>
<circle cx="112.83" cy="62.81" r="0.4" fill="#2fa95a" fill-opacity="0.75"/>
<circle cx="113.08" cy="73.91" r="0.4" fill="#e5401f" fill-opacity="0.75"/>
<circle cx="113.38" cy="67.99" r="0.4" fill="#f1b21f" fill-opacity="0.75"/>
<circle cx="112.7" cy="80.21" r="0.4" fill="#3b7ae8" fill-opacity="0.75"/>
<line x1="128.56" y1="62.81" x2="128.56" y2="64.33" stroke="#f5d29a" stroke-width="0.35" stroke-dasharray="0.7 0.5"/>
<line x1="128.56" y1="72.14" x2="128.56" y2="76.43" stroke="#f5d29a" stroke-width="0.35" stroke-dasharray="0.7 0.5"/>
<line x1="127.26" y1="62.81" x2="129.86" y2="62.81" stroke="#f5d29a" stroke-width="0.35"/>
<line x1="127.26" y1="76.43" x2="129.86" y2="76.43" stroke="#f5d29a" stroke-width="0.35"/>
<rect x="124.78" y="64.33" width="7.56" height="7.82" fill="#fff" fill-opacity="0.6" stroke="#bcc4f5" stroke-width="0.45"/>
<line x1="124.78" y1="69.62" x2="132.34" y2="69.62" stroke="#f6dcc0" stroke-width="0.25"/>
<circle cx="128.55" cy="62.81" r="0.4" fill="#2fa95a" fill-opacity="0.75"/>
<circle cx="128.76" cy="64.63" r="0.4" fill="#e5401f" fill-opacity="0.75"/>
<circle cx="128.65" cy="70.3" r="0.4" fill="#f1b21f" fill-opacity="0.75"/>
<circle cx="128.34" cy="76.43" r="0.4" fill="#3b7ae8" fill-opacity="0.75"/>
<line x1="143.94" y1="63.82" x2="143.94" y2="68.36" stroke="#f5d29a" stroke-width="0.35" stroke-dasharray="0.7 0.5"/>
<line x1="143.94" y1="79.45" x2="143.94" y2="87.78" stroke="#f5d29a" stroke-width="0.35" stroke-dasharray="0.7 0.5"/>
<line x1="142.64" y1="63.82" x2="145.24" y2="63.82" stroke="#f5d29a" stroke-width="0.35"/>
<line x1="142.64" y1="87.78" x2="145.24" y2="87.78" stroke="#f5d29a" stroke-width="0.35"/>
<rect x="139.91" y="68.36" width="8.07" height="11.09" fill="#fff" fill-opacity="0.6" stroke="#bcc4f5" stroke-width="0.45"/>
<line x1="139.91" y1="75.67" x2="147.98" y2="75.67" stroke="#f6dcc0" stroke-width="0.25"/>
<circle cx="144.04" cy="63.82" r="0.4" fill="#2fa95a" fill-opacity="0.75"/>
<circle cx="144.35" cy="73.42" r="0.4" fill="#e5401f" fill-opacity="0.75"/>
<circle cx="143.91" cy="78.84" r="0.4" fill="#f1b21f" fill-opacity="0.75"/>
<circle cx="143.41" cy="87.78" r="0.4" fill="#3b7ae8" fill-opacity="0.75"/>
<line x1="159.83" y1="63.32" x2="159.83" y2="65.59" stroke="#f5d29a" stroke-width="0.35" stroke-dasharray="0.7 0.5"/>
<line x1="159.83" y1="78.45" x2="159.83" y2="89.04" stroke="#f5d29a" stroke-width="0.35" stroke-dasharray="0.7 0.5"/>
<line x1="158.53" y1="63.32" x2="161.13" y2="63.32" stroke="#f5d29a" stroke-width="0.35"/>
<line x1="158.53" y1="89.04" x2="161.13" y2="89.04" stroke="#f5d29a" stroke-width="0.35"/>
<rect x="155.79" y="65.59" width="8.07" height="12.86" fill="#fff" fill-opacity="0.6" stroke="#bcc4f5" stroke-width="0.45"/>
<line x1="155.79" y1="74.08" x2="163.86" y2="74.08" stroke="#f6dcc0" stroke-width="0.25"/>
<circle cx="160.42" cy="63.32" r="0.4" fill="#2fa95a" fill-opacity="0.75"/>
<circle cx="159.57" cy="76.16" r="0.4" fill="#e5401f" fill-opacity="0.75"/>
<circle cx="160.03" cy="70.55" r="0.4" fill="#f1b21f" fill-opacity="0.75"/>
<circle cx="159.78" cy="89.04" r="0.4" fill="#3b7ae8" fill-opacity="0.75"/>
<text x="112.91" y="93.6" font-size="2.4" font-weight="bold" fill="#222" text-anchor="middle" stroke="#222" stroke-width="0.1">Site 1</text>
<text x="128.54" y="93.6" font-size="2.4" font-weight="bold" fill="#222" text-anchor="middle" stroke="#222" stroke-width="0.1">Site 2</text>
<text x="144.16" y="93.6" font-size="2.4" font-weight="bold" fill="#222" text-anchor="middle" stroke="#222" stroke-width="0.1">Site 3</text>
<text x="159.79" y="93.6" font-size="2.4" font-weight="bold" fill="#222" text-anchor="middle" stroke="#222" stroke-width="0.1">Site 4</text>
<rect x="105.1" y="32.3" width="62.5" height="58" fill="none" stroke="#a8a8a8" stroke-width="0.4"/>
<text x="104.3" y="33.1" font-size="2.25" font-weight="bold" fill="#111" text-anchor="end" stroke="#111" stroke-width="0.1">3.0</text>
<text x="104.3" y="37.93" font-size="2.25" font-weight="bold" fill="#111" text-anchor="end" stroke="#111" stroke-width="0.1">2.5</text>
<text x="104.3" y="42.77" font-size="2.25" font-weight="bold" fill="#111" text-anchor="end" stroke="#111" stroke-width="0.1">2.0</text>
<text x="104.3" y="47.6" font-size="2.25" font-weight="bold" fill="#111" text-anchor="end" stroke="#111" stroke-width="0.1">1.5</text>
<text x="104.3" y="52.43" font-size="2.25" font-weight="bold" fill="#111" text-anchor="end" stroke="#111" stroke-width="0.1">1.0</text>
<text x="104.3" y="57.27" font-size="2.25" font-weight="bold" fill="#111" text-anchor="end" stroke="#111" stroke-width="0.1">0.5</text>
<text x="104.3" y="62.1" font-size="2.25" font-weight="bold" fill="#111" text-anchor="end" stroke="#111" stroke-width="0.1">0.0</text>
<text x="168.4" y="62.1" font-size="2.25" font-weight="bold" fill="#111" text-anchor="start" stroke="#111" stroke-width="0.1">0%</text>
<text x="168.4" y="67.9" font-size="2.25" font-weight="bold" fill="#111" text-anchor="start" stroke="#111" stroke-width="0.1">10%</text>
<text x="168.4" y="73.7" font-size="2.25" font-weight="bold" fill="#111" text-anchor="start" stroke="#111" stroke-width="0.1">20%</text>
<text x="168.4" y="79.5" font-size="2.25" font-weight="bold" fill="#111" text-anchor="start" stroke="#111" stroke-width="0.1">30%</text>
<text x="168.4" y="85.3" font-size="2.25" font-weight="bold" fill="#111" text-anchor="start" stroke="#111" stroke-width="0.1">40%</text>
<text x="168.4" y="91.1" font-size="2.25" font-weight="bold" fill="#111" text-anchor="start" stroke="#111" stroke-width="0.1">50%</text>
<text x="97.3" y="48.4" font-size="2.6" font-weight="bold" fill="#222" text-anchor="middle" transform="rotate(-90 97.3 48.4)" stroke="#222" stroke-width="0.1">SMAPE</text>
<text x="174.6" y="73.3" font-size="2.6" font-weight="bold" fill="#222" text-anchor="middle" transform="rotate(-90 174.6 73.3)" stroke="#222" stroke-width="0.1">MAPE</text>
<circle cx="105.9" cy="36.75" r="0.45" fill="#1fb0ee"/>
<text x="108.2" y="37.5" font-size="2.35" font-weight="bold" fill="#222" text-anchor="start" stroke="#222" stroke-width="0.1">Sub-model 1</text>
<circle cx="122.8" cy="36.75" r="0.45" fill="#3fc564"/>
<text x="125.1" y="37.5" font-size="2.35" font-weight="bold" fill="#222" text-anchor="start" stroke="#222" stroke-width="0.1">Sub-model 2</text>
<circle cx="105.9" cy="39.55" r="0.45" fill="#a262e2"/>
<text x="108.2" y="40.3" font-size="2.35" font-weight="bold" fill="#222" text-anchor="start" stroke="#222" stroke-width="0.1">Sub-model 3</text>
<circle cx="122.8" cy="39.55" r="0.45" fill="#f4c70a"/>
<text x="125.1" y="40.3" font-size="2.35" font-weight="bold" fill="#222" text-anchor="start" stroke="#222" stroke-width="0.1">Sub-model 4</text>
<circle cx="105.9" cy="42.35" r="0.45" fill="#e8303a"/>
<text x="108.2" y="43.1" font-size="2.35" font-weight="bold" fill="#222" text-anchor="start" stroke="#222" stroke-width="0.1">Sub-model 5</text>
<circle cx="106.3" cy="84.05" r="0.45" fill="#2fa95a"/>
<text x="108.6" y="84.8" font-size="2.5" font-weight="bold" fill="#222" text-anchor="start" stroke="#222" stroke-width="0.1">CM<tspan font-size="1.7" dy="0.55">1</tspan></text>
<circle cx="115.2" cy="84.05" r="0.45" fill="#e5401f"/>
<text x="117.5" y="84.8" font-size="2.5" font-weight="bold" fill="#222" text-anchor="start" stroke="#222" stroke-width="0.1">CM<tspan font-size="1.7" dy="0.55">2</tspan></text>
<circle cx="106.3" cy="87.65" r="0.45" fill="#f1b21f"/>
<text x="108.6" y="88.4" font-size="2.5" font-weight="bold" fill="#222" text-anchor="start" stroke="#222" stroke-width="0.1">CM<tspan font-size="1.7" dy="0.55">3</tspan></text>
<circle cx="115.2" cy="87.65" r="0.45" fill="#3b7ae8"/>
<text x="117.5" y="88.4" font-size="2.5" font-weight="bold" fill="#222" text-anchor="start" stroke="#222" stroke-width="0.1">CM<tspan font-size="1.7" dy="0.55">4</tspan></text>
<rect x="267.6" y="32.3" width="61.5" height="58" fill="#fff" stroke="none"/>
<line x1="275.29" y1="32.3" x2="275.29" y2="90.3" stroke="#dcdcdc" stroke-width="0.3" stroke-dasharray="0.8 0.5"/>
<line x1="290.66" y1="32.3" x2="290.66" y2="90.3" stroke="#dcdcdc" stroke-width="0.3" stroke-dasharray="0.8 0.5"/>
<line x1="306.04" y1="32.3" x2="306.04" y2="90.3" stroke="#dcdcdc" stroke-width="0.3" stroke-dasharray="0.8 0.5"/>
<line x1="321.41" y1="32.3" x2="321.41" y2="90.3" stroke="#dcdcdc" stroke-width="0.3" stroke-dasharray="0.8 0.5"/>
<line x1="267.6" y1="38.1" x2="329.1" y2="38.1" stroke="#dcdcdc" stroke-width="0.3" stroke-dasharray="0.8 0.5"/>
<line x1="267.6" y1="43.9" x2="329.1" y2="43.9" stroke="#dcdcdc" stroke-width="0.3" stroke-dasharray="0.8 0.5"/>
<line x1="267.6" y1="49.7" x2="329.1" y2="49.7" stroke="#dcdcdc" stroke-width="0.3" stroke-dasharray="0.8 0.5"/>
<line x1="267.6" y1="55.5" x2="329.1" y2="55.5" stroke="#dcdcdc" stroke-width="0.3" stroke-dasharray="0.8 0.5"/>
<line x1="267.6" y1="61.3" x2="329.1" y2="61.3" stroke="#dcdcdc" stroke-width="0.3" stroke-dasharray="0.8 0.5"/>
<line x1="267.6" y1="67.1" x2="329.1" y2="67.1" stroke="#dcdcdc" stroke-width="0.3" stroke-dasharray="0.8 0.5"/>
<line x1="267.6" y1="72.9" x2="329.1" y2="72.9" stroke="#dcdcdc" stroke-width="0.3" stroke-dasharray="0.8 0.5"/>
<line x1="267.6" y1="78.7" x2="329.1" y2="78.7" stroke="#dcdcdc" stroke-width="0.3" stroke-dasharray="0.8 0.5"/>
<line x1="267.6" y1="84.5" x2="329.1" y2="84.5" stroke="#dcdcdc" stroke-width="0.3" stroke-dasharray="0.8 0.5"/>
<line x1="267.6" y1="62" x2="329.1" y2="62" stroke="#aaa" stroke-width="0.35"/>
<line x1="275.27" y1="40.62" x2="275.27" y2="43.15" stroke="#f5d29a" stroke-width="0.35" stroke-dasharray="0.7 0.5"/>
<line x1="275.27" y1="57.52" x2="275.27" y2="59.28" stroke="#f5d29a" stroke-width="0.35" stroke-dasharray="0.7 0.5"/>
<line x1="273.97" y1="40.62" x2="276.57" y2="40.62" stroke="#f5d29a" stroke-width="0.35"/>
<line x1="273.97" y1="59.28" x2="276.57" y2="59.28" stroke="#f5d29a" stroke-width="0.35"/>
<rect x="271.87" y="43.15" width="6.81" height="14.37" fill="#fff" fill-opacity="0.6" stroke="#bcc4f5" stroke-width="0.45"/>
<line x1="271.87" y1="50.34" x2="278.68" y2="50.34" stroke="#f6dcc0" stroke-width="0.25"/>
<circle cx="274.74" cy="40.62" r="0.4" fill="#1fb0ee" fill-opacity="0.75"/>
<circle cx="274.83" cy="54.19" r="0.4" fill="#3fc564" fill-opacity="0.75"/>
<circle cx="275.14" cy="46.7" r="0.4" fill="#a262e2" fill-opacity="0.75"/>
<circle cx="274.77" cy="55.67" r="0.4" fill="#f4c70a" fill-opacity="0.75"/>
<circle cx="275.33" cy="59.28" r="0.4" fill="#e8303a" fill-opacity="0.75"/>
<line x1="290.78" y1="41.13" x2="290.78" y2="43.15" stroke="#f5d29a" stroke-width="0.35" stroke-dasharray="0.7 0.5"/>
<line x1="290.78" y1="56.76" x2="290.78" y2="58.78" stroke="#f5d29a" stroke-width="0.35" stroke-dasharray="0.7 0.5"/>
<line x1="289.48" y1="41.13" x2="292.08" y2="41.13" stroke="#f5d29a" stroke-width="0.35"/>
<line x1="289.48" y1="58.78" x2="292.08" y2="58.78" stroke="#f5d29a" stroke-width="0.35"/>
<rect x="287" y="43.15" width="7.56" height="13.62" fill="#fff" fill-opacity="0.6" stroke="#bcc4f5" stroke-width="0.45"/>
<line x1="287" y1="52.88" x2="294.56" y2="52.88" stroke="#f6dcc0" stroke-width="0.25"/>
<circle cx="291.22" cy="41.13" r="0.4" fill="#1fb0ee" fill-opacity="0.75"/>
<circle cx="290.68" cy="46.94" r="0.4" fill="#3fc564" fill-opacity="0.75"/>
<circle cx="291.24" cy="48.03" r="0.4" fill="#a262e2" fill-opacity="0.75"/>
<circle cx="290.36" cy="56.19" r="0.4" fill="#f4c70a" fill-opacity="0.75"/>
<circle cx="290.46" cy="58.78" r="0.4" fill="#e8303a" fill-opacity="0.75"/>
<line x1="306.41" y1="41.13" x2="306.41" y2="44.15" stroke="#f5d29a" stroke-width="0.35" stroke-dasharray="0.7 0.5"/>
<line x1="306.41" y1="55.75" x2="306.41" y2="58.27" stroke="#f5d29a" stroke-width="0.35" stroke-dasharray="0.7 0.5"/>
<line x1="305.11" y1="41.13" x2="307.71" y2="41.13" stroke="#f5d29a" stroke-width="0.35"/>
<line x1="305.11" y1="58.27" x2="307.71" y2="58.27" stroke="#f5d29a" stroke-width="0.35"/>
<rect x="302.63" y="44.15" width="7.56" height="11.6" fill="#fff" fill-opacity="0.6" stroke="#bcc4f5" stroke-width="0.45"/>
<line x1="302.63" y1="50.19" x2="310.19" y2="50.19" stroke="#f6dcc0" stroke-width="0.25"/>
<circle cx="306.52" cy="41.13" r="0.4" fill="#1fb0ee" fill-opacity="0.75"/>
<circle cx="305.82" cy="47.2" r="0.4" fill="#3fc564" fill-opacity="0.75"/>
<circle cx="306.25" cy="49.01" r="0.4" fill="#a262e2" fill-opacity="0.75"/>
<circle cx="306.96" cy="50.72" r="0.4" fill="#f4c70a" fill-opacity="0.75"/>
<circle cx="306.43" cy="58.27" r="0.4" fill="#e8303a" fill-opacity="0.75"/>
<line x1="321.79" y1="46.68" x2="321.79" y2="48.19" stroke="#f5d29a" stroke-width="0.35" stroke-dasharray="0.7 0.5"/>
<line x1="321.79" y1="56.76" x2="321.79" y2="58.78" stroke="#f5d29a" stroke-width="0.35" stroke-dasharray="0.7 0.5"/>
<line x1="320.49" y1="46.68" x2="323.09" y2="46.68" stroke="#f5d29a" stroke-width="0.35"/>
<line x1="320.49" y1="58.78" x2="323.09" y2="58.78" stroke="#f5d29a" stroke-width="0.35"/>
<rect x="318.01" y="48.19" width="7.56" height="8.57" fill="#fff" fill-opacity="0.6" stroke="#bcc4f5" stroke-width="0.45"/>
<line x1="318.01" y1="53.63" x2="325.57" y2="53.63" stroke="#f6dcc0" stroke-width="0.25"/>
<circle cx="321.26" cy="46.68" r="0.4" fill="#1fb0ee" fill-opacity="0.75"/>
<circle cx="322.13" cy="55.9" r="0.4" fill="#3fc564" fill-opacity="0.75"/>
<circle cx="322.15" cy="55.69" r="0.4" fill="#a262e2" fill-opacity="0.75"/>
<circle cx="321.67" cy="51.55" r="0.4" fill="#f4c70a" fill-opacity="0.75"/>
<circle cx="321.95" cy="58.78" r="0.4" fill="#e8303a" fill-opacity="0.75"/>
<line x1="275.27" y1="72.65" x2="275.27" y2="77.69" stroke="#f5d29a" stroke-width="0.35" stroke-dasharray="0.7 0.5"/>
<line x1="275.27" y1="86.01" x2="275.27" y2="87.78" stroke="#f5d29a" stroke-width="0.35" stroke-dasharray="0.7 0.5"/>
<line x1="273.97" y1="72.65" x2="276.57" y2="72.65" stroke="#f5d29a" stroke-width="0.35"/>
<line x1="273.97" y1="87.78" x2="276.57" y2="87.78" stroke="#f5d29a" stroke-width="0.35"/>
<rect x="271.87" y="77.69" width="6.81" height="8.32" fill="#fff" fill-opacity="0.6" stroke="#bcc4f5" stroke-width="0.45"/>
<line x1="271.87" y1="81.59" x2="278.68" y2="81.59" stroke="#f6dcc0" stroke-width="0.25"/>
<circle cx="274.92" cy="72.65" r="0.4" fill="#2fa95a" fill-opacity="0.75"/>
<circle cx="275.08" cy="79.04" r="0.4" fill="#e5401f" fill-opacity="0.75"/>
<circle cx="274.67" cy="78.13" r="0.4" fill="#f1b21f" fill-opacity="0.75"/>
<circle cx="274.79" cy="87.78" r="0.4" fill="#3b7ae8" fill-opacity="0.75"/>
<line x1="290.78" y1="71.39" x2="290.78" y2="75.17" stroke="#f5d29a" stroke-width="0.35" stroke-dasharray="0.7 0.5"/>
<line x1="290.78" y1="86.01" x2="290.78" y2="87.78" stroke="#f5d29a" stroke-width="0.35" stroke-dasharray="0.7 0.5"/>
<line x1="289.48" y1="71.39" x2="292.08" y2="71.39" stroke="#f5d29a" stroke-width="0.35"/>
<line x1="289.48" y1="87.78" x2="292.08" y2="87.78" stroke="#f5d29a" stroke-width="0.35"/>
<rect x="287" y="75.17" width="7.56" height="10.84" fill="#fff" fill-opacity="0.6" stroke="#bcc4f5" stroke-width="0.45"/>
<line x1="287" y1="81.23" x2="294.56" y2="81.23" stroke="#f6dcc0" stroke-width="0.25"/>
<circle cx="291.23" cy="71.39" r="0.4" fill="#2fa95a" fill-opacity="0.75"/>
<circle cx="290.36" cy="81.83" r="0.4" fill="#e5401f" fill-opacity="0.75"/>
<circle cx="290.6" cy="77.9" r="0.4" fill="#f1b21f" fill-opacity="0.75"/>
<circle cx="290.33" cy="87.78" r="0.4" fill="#3b7ae8" fill-opacity="0.75"/>
<line x1="306.41" y1="66.34" x2="306.41" y2="70.88" stroke="#f5d29a" stroke-width="0.35" stroke-dasharray="0.7 0.5"/>
<line x1="306.41" y1="84.5" x2="306.41" y2="86.51" stroke="#f5d29a" stroke-width="0.35" stroke-dasharray="0.7 0.5"/>
<line x1="305.11" y1="66.34" x2="307.71" y2="66.34" stroke="#f5d29a" stroke-width="0.35"/>
<line x1="305.11" y1="86.51" x2="307.71" y2="86.51" stroke="#f5d29a" stroke-width="0.35"/>
<rect x="302.63" y="70.88" width="7.56" height="13.62" fill="#fff" fill-opacity="0.6" stroke="#bcc4f5" stroke-width="0.45"/>
<line x1="302.63" y1="80.48" x2="310.19" y2="80.48" stroke="#f6dcc0" stroke-width="0.25"/>
<circle cx="306.37" cy="66.34" r="0.4" fill="#2fa95a" fill-opacity="0.75"/>
<circle cx="305.91" cy="77.47" r="0.4" fill="#e5401f" fill-opacity="0.75"/>
<circle cx="306.22" cy="72.27" r="0.4" fill="#f1b21f" fill-opacity="0.75"/>
<circle cx="306.81" cy="86.51" r="0.4" fill="#3b7ae8" fill-opacity="0.75"/>
<line x1="321.79" y1="69.37" x2="321.79" y2="73.4" stroke="#f5d29a" stroke-width="0.35" stroke-dasharray="0.7 0.5"/>
<line x1="321.79" y1="85.25" x2="321.79" y2="87.02" stroke="#f5d29a" stroke-width="0.35" stroke-dasharray="0.7 0.5"/>
<line x1="320.49" y1="69.37" x2="323.09" y2="69.37" stroke="#f5d29a" stroke-width="0.35"/>
<line x1="320.49" y1="87.02" x2="323.09" y2="87.02" stroke="#f5d29a" stroke-width="0.35"/>
<rect x="318.01" y="73.4" width="7.56" height="11.85" fill="#fff" fill-opacity="0.6" stroke="#bcc4f5" stroke-width="0.45"/>
<line x1="318.01" y1="79.31" x2="325.57" y2="79.31" stroke="#f6dcc0" stroke-width="0.25"/>
<circle cx="322.33" cy="69.37" r="0.4" fill="#2fa95a" fill-opacity="0.75"/>
<circle cx="321.37" cy="79.66" r="0.4" fill="#e5401f" fill-opacity="0.75"/>
<circle cx="321.22" cy="79.84" r="0.4" fill="#f1b21f" fill-opacity="0.75"/>
<circle cx="322.37" cy="87.02" r="0.4" fill="#3b7ae8" fill-opacity="0.75"/>
<text x="275.29" y="93.6" font-size="2.4" font-weight="bold" fill="#222" text-anchor="middle" stroke="#222" stroke-width="0.1">Site 1</text>
<text x="290.66" y="93.6" font-size="2.4" font-weight="bold" fill="#222" text-anchor="middle" stroke="#222" stroke-width="0.1">Site 2</text>
<text x="306.04" y="93.6" font-size="2.4" font-weight="bold" fill="#222" text-anchor="middle" stroke="#222" stroke-width="0.1">Site 3</text>
<text x="321.41" y="93.6" font-size="2.4" font-weight="bold" fill="#222" text-anchor="middle" stroke="#222" stroke-width="0.1">Site 4</text>
<rect x="267.6" y="32.3" width="61.5" height="58" fill="none" stroke="#a8a8a8" stroke-width="0.4"/>
<text x="266.8" y="33.1" font-size="2.25" font-weight="bold" fill="#111" text-anchor="end" stroke="#111" stroke-width="0.1">1.00</text>
<text x="266.8" y="39.04" font-size="2.25" font-weight="bold" fill="#111" text-anchor="end" stroke="#111" stroke-width="0.1">0.95</text>
<text x="266.8" y="44.98" font-size="2.25" font-weight="bold" fill="#111" text-anchor="end" stroke="#111" stroke-width="0.1">0.90</text>
<text x="266.8" y="50.92" font-size="2.25" font-weight="bold" fill="#111" text-anchor="end" stroke="#111" stroke-width="0.1">0.85</text>
<text x="266.8" y="56.86" font-size="2.25" font-weight="bold" fill="#111" text-anchor="end" stroke="#111" stroke-width="0.1">0.80</text>
<text x="266.8" y="62.8" font-size="2.25" font-weight="bold" fill="#111" text-anchor="end" stroke="#111" stroke-width="0.1">0.75</text>
<text x="329.9" y="62.8" font-size="2.25" font-weight="bold" fill="#111" text-anchor="start" stroke="#111" stroke-width="0.1">0.75</text>
<text x="329.9" y="68.46" font-size="2.25" font-weight="bold" fill="#111" text-anchor="start" stroke="#111" stroke-width="0.1">0.60</text>
<text x="329.9" y="74.12" font-size="2.25" font-weight="bold" fill="#111" text-anchor="start" stroke="#111" stroke-width="0.1">0.45</text>
<text x="329.9" y="79.78" font-size="2.25" font-weight="bold" fill="#111" text-anchor="start" stroke="#111" stroke-width="0.1">0.30</text>
<text x="329.9" y="85.44" font-size="2.25" font-weight="bold" fill="#111" text-anchor="start" stroke="#111" stroke-width="0.1">0.15</text>
<text x="329.9" y="91.1" font-size="2.25" font-weight="bold" fill="#111" text-anchor="start" stroke="#111" stroke-width="0.1">0.00</text>
<text x="259.8" y="48.75" font-size="2.6" font-weight="bold" fill="#222" text-anchor="middle" transform="rotate(-90 259.8 48.75)" stroke="#222" stroke-width="0.1">IA</text>
<text x="338.1" y="79.15" font-size="2.6" font-weight="bold" fill="#222" text-anchor="middle" transform="rotate(-90 338.1 79.15)" stroke="#222" stroke-width="0.1">R²</text>
<circle cx="268.4" cy="35.35" r="0.45" fill="#1fb0ee"/>
<text x="270.6" y="36.1" font-size="2.35" font-weight="bold" fill="#222" text-anchor="start" stroke="#222" stroke-width="0.1">Sub-model 1</text>
<circle cx="284.8" cy="35.35" r="0.45" fill="#3fc564"/>
<text x="287" y="36.1" font-size="2.35" font-weight="bold" fill="#222" text-anchor="start" stroke="#222" stroke-width="0.1">Sub-model 2</text>
<circle cx="301.2" cy="35.35" r="0.45" fill="#a262e2"/>
<text x="303.4" y="36.1" font-size="2.35" font-weight="bold" fill="#222" text-anchor="start" stroke="#222" stroke-width="0.1">Sub-model 3</text>
<circle cx="268.4" cy="38.35" r="0.45" fill="#f4c70a"/>
<text x="270.6" y="39.1" font-size="2.35" font-weight="bold" fill="#222" text-anchor="start" stroke="#222" stroke-width="0.1">Sub-model 4</text>
<circle cx="284.8" cy="38.35" r="0.45" fill="#e8303a"/>
<text x="287" y="39.1" font-size="2.35" font-weight="bold" fill="#222" text-anchor="start" stroke="#222" stroke-width="0.1">Sub-model 5</text>
<circle cx="269.1" cy="65.85" r="0.45" fill="#2fa95a"/>
<text x="270.6" y="66.6" font-size="2.5" font-weight="bold" fill="#222" text-anchor="start" stroke="#222" stroke-width="0.1">CM<tspan font-size="1.7" dy="0.55">1</tspan></text>
<circle cx="277.9" cy="65.85" r="0.45" fill="#e5401f"/>
<text x="279.4" y="66.6" font-size="2.5" font-weight="bold" fill="#222" text-anchor="start" stroke="#222" stroke-width="0.1">CM<tspan font-size="1.7" dy="0.55">2</tspan></text>
<circle cx="269.1" cy="69.65" r="0.45" fill="#f1b21f"/>
<text x="270.6" y="70.4" font-size="2.5" font-weight="bold" fill="#222" text-anchor="start" stroke="#222" stroke-width="0.1">CM<tspan font-size="1.7" dy="0.55">3</tspan></text>
<circle cx="277.9" cy="69.65" r="0.45" fill="#3b7ae8"/>
<text x="279.4" y="70.4" font-size="2.5" font-weight="bold" fill="#222" text-anchor="start" stroke="#222" stroke-width="0.1">CM<tspan font-size="1.7" dy="0.55">4</tspan></text>
<rect x="105.1" y="307.6" width="62.5" height="59.2" fill="#fff" stroke="none"/>
<line x1="112.91" y1="307.6" x2="112.91" y2="366.8" stroke="#dcdcdc" stroke-width="0.3" stroke-dasharray="0.8 0.5"/>
<line x1="128.54" y1="307.6" x2="128.54" y2="366.8" stroke="#dcdcdc" stroke-width="0.3" stroke-dasharray="0.8 0.5"/>
<line x1="144.16" y1="307.6" x2="144.16" y2="366.8" stroke="#dcdcdc" stroke-width="0.3" stroke-dasharray="0.8 0.5"/>
<line x1="159.79" y1="307.6" x2="159.79" y2="366.8" stroke="#dcdcdc" stroke-width="0.3" stroke-dasharray="0.8 0.5"/>
<line x1="105.1" y1="313.52" x2="167.6" y2="313.52" stroke="#dcdcdc" stroke-width="0.3" stroke-dasharray="0.8 0.5"/>
<line x1="105.1" y1="319.44" x2="167.6" y2="319.44" stroke="#dcdcdc" stroke-width="0.3" stroke-dasharray="0.8 0.5"/>
<line x1="105.1" y1="325.36" x2="167.6" y2="325.36" stroke="#dcdcdc" stroke-width="0.3" stroke-dasharray="0.8 0.5"/>
<line x1="105.1" y1="331.28" x2="167.6" y2="331.28" stroke="#dcdcdc" stroke-width="0.3" stroke-dasharray="0.8 0.5"/>
<line x1="105.1" y1="337.2" x2="167.6" y2="337.2" stroke="#dcdcdc" stroke-width="0.3" stroke-dasharray="0.8 0.5"/>
<line x1="105.1" y1="343.12" x2="167.6" y2="343.12" stroke="#dcdcdc" stroke-width="0.3" stroke-dasharray="0.8 0.5"/>
<line x1="105.1" y1="349.04" x2="167.6" y2="349.04" stroke="#dcdcdc" stroke-width="0.3" stroke-dasharray="0.8 0.5"/>
<line x1="105.1" y1="354.96" x2="167.6" y2="354.96" stroke="#dcdcdc" stroke-width="0.3" stroke-dasharray="0.8 0.5"/>
<line x1="105.1" y1="360.88" x2="167.6" y2="360.88" stroke="#dcdcdc" stroke-width="0.3" stroke-dasharray="0.8 0.5"/>
<line x1="105.1" y1="337.3" x2="167.6" y2="337.3" stroke="#aaa" stroke-width="0.35"/>
<line x1="112.8" y1="320.17" x2="112.8" y2="323.95" stroke="#f5d29a" stroke-width="0.35" stroke-dasharray="0.7 0.5"/>
<line x1="112.8" y1="334.04" x2="112.8" y2="335.8" stroke="#f5d29a" stroke-width="0.35" stroke-dasharray="0.7 0.5"/>
<line x1="111.5" y1="320.17" x2="114.1" y2="320.17" stroke="#f5d29a" stroke-width="0.35"/>
<line x1="111.5" y1="335.8" x2="114.1" y2="335.8" stroke="#f5d29a" stroke-width="0.35"/>
<rect x="109.15" y="323.95" width="7.31" height="10.09" fill="#fff" fill-opacity="0.6" stroke="#bcc4f5" stroke-width="0.45"/>
<line x1="109.15" y1="331.1" x2="116.46" y2="331.1" stroke="#f6dcc0" stroke-width="0.25"/>
<circle cx="112.52" cy="320.17" r="0.4" fill="#1fb0ee" fill-opacity="0.75"/>
<circle cx="112.4" cy="327.65" r="0.4" fill="#3fc564" fill-opacity="0.75"/>
<circle cx="112.84" cy="331.74" r="0.4" fill="#a262e2" fill-opacity="0.75"/>
<circle cx="112.6" cy="331.81" r="0.4" fill="#f4c70a" fill-opacity="0.75"/>
<circle cx="113.18" cy="335.8" r="0.4" fill="#e8303a" fill-opacity="0.75"/>
<line x1="128.56" y1="322.19" x2="128.56" y2="325.21" stroke="#f5d29a" stroke-width="0.35" stroke-dasharray="0.7 0.5"/>
<line x1="128.56" y1="334.8" x2="128.56" y2="335.8" stroke="#f5d29a" stroke-width="0.35" stroke-dasharray="0.7 0.5"/>
<line x1="127.26" y1="322.19" x2="129.86" y2="322.19" stroke="#f5d29a" stroke-width="0.35"/>
<line x1="127.26" y1="335.8" x2="129.86" y2="335.8" stroke="#f5d29a" stroke-width="0.35"/>
<rect x="124.78" y="325.21" width="7.56" height="9.58" fill="#fff" fill-opacity="0.6" stroke="#bcc4f5" stroke-width="0.45"/>
<line x1="124.78" y1="332.36" x2="132.34" y2="332.36" stroke="#f6dcc0" stroke-width="0.25"/>
<circle cx="128.93" cy="322.19" r="0.4" fill="#1fb0ee" fill-opacity="0.75"/>
<circle cx="128.85" cy="333.06" r="0.4" fill="#3fc564" fill-opacity="0.75"/>
<circle cx="128.58" cy="327.39" r="0.4" fill="#a262e2" fill-opacity="0.75"/>
<circle cx="128" cy="328.62" r="0.4" fill="#f4c70a" fill-opacity="0.75"/>
<circle cx="128.3" cy="335.8" r="0.4" fill="#e8303a" fill-opacity="0.75"/>
<line x1="143.94" y1="310.09" x2="143.94" y2="316.39" stroke="#f5d29a" stroke-width="0.35" stroke-dasharray="0.7 0.5"/>
<line x1="143.94" y1="332.78" x2="143.94" y2="335.3" stroke="#f5d29a" stroke-width="0.35" stroke-dasharray="0.7 0.5"/>
<line x1="142.64" y1="310.09" x2="145.24" y2="310.09" stroke="#f5d29a" stroke-width="0.35"/>
<line x1="142.64" y1="335.3" x2="145.24" y2="335.3" stroke="#f5d29a" stroke-width="0.35"/>
<rect x="139.91" y="316.39" width="8.07" height="16.39" fill="#fff" fill-opacity="0.6" stroke="#bcc4f5" stroke-width="0.45"/>
<line x1="139.91" y1="325.04" x2="147.98" y2="325.04" stroke="#f6dcc0" stroke-width="0.25"/>
<circle cx="144.49" cy="310.09" r="0.4" fill="#1fb0ee" fill-opacity="0.75"/>
<circle cx="144.47" cy="323.72" r="0.4" fill="#3fc564" fill-opacity="0.75"/>
<circle cx="144.49" cy="332.58" r="0.4" fill="#a262e2" fill-opacity="0.75"/>
<circle cx="143.61" cy="322.37" r="0.4" fill="#f4c70a" fill-opacity="0.75"/>
<circle cx="143.58" cy="335.3" r="0.4" fill="#e8303a" fill-opacity="0.75"/>
<line x1="159.83" y1="308.83" x2="159.83" y2="313.87" stroke="#f5d29a" stroke-width="0.35" stroke-dasharray="0.7 0.5"/>
<line x1="159.83" y1="330.76" x2="159.83" y2="334.04" stroke="#f5d29a" stroke-width="0.35" stroke-dasharray="0.7 0.5"/>
<line x1="158.53" y1="308.83" x2="161.13" y2="308.83" stroke="#f5d29a" stroke-width="0.35"/>
<line x1="158.53" y1="334.04" x2="161.13" y2="334.04" stroke="#f5d29a" stroke-width="0.35"/>
<rect x="155.79" y="313.87" width="8.07" height="16.89" fill="#fff" fill-opacity="0.6" stroke="#bcc4f5" stroke-width="0.45"/>
<line x1="155.79" y1="322.51" x2="163.86" y2="322.51" stroke="#f6dcc0" stroke-width="0.25"/>
<circle cx="160.31" cy="308.83" r="0.4" fill="#1fb0ee" fill-opacity="0.75"/>
<circle cx="159.8" cy="328.07" r="0.4" fill="#3fc564" fill-opacity="0.75"/>
<circle cx="160.19" cy="324.9" r="0.4" fill="#a262e2" fill-opacity="0.75"/>
<circle cx="160.02" cy="315.3" r="0.4" fill="#f4c70a" fill-opacity="0.75"/>
<circle cx="160.17" cy="334.04" r="0.4" fill="#e8303a" fill-opacity="0.75"/>
<line x1="112.8" y1="338.33" x2="112.8" y2="340.34" stroke="#f5d29a" stroke-width="0.35" stroke-dasharray="0.7 0.5"/>
<line x1="112.8" y1="350.43" x2="112.8" y2="356.73" stroke="#f5d29a" stroke-width="0.35" stroke-dasharray="0.7 0.5"/>
<line x1="111.5" y1="338.33" x2="114.1" y2="338.33" stroke="#f5d29a" stroke-width="0.35"/>
<line x1="111.5" y1="356.73" x2="114.1" y2="356.73" stroke="#f5d29a" stroke-width="0.35"/>
<rect x="109.15" y="340.34" width="7.31" height="10.09" fill="#fff" fill-opacity="0.6" stroke="#bcc4f5" stroke-width="0.45"/>
<line x1="109.15" y1="347.15" x2="116.46" y2="347.15" stroke="#f6dcc0" stroke-width="0.25"/>
<circle cx="112.42" cy="338.33" r="0.4" fill="#2fa95a" fill-opacity="0.75"/>
<circle cx="112.6" cy="348.3" r="0.4" fill="#e5401f" fill-opacity="0.75"/>
<circle cx="113.37" cy="348.42" r="0.4" fill="#f1b21f" fill-opacity="0.75"/>
<circle cx="112.68" cy="356.73" r="0.4" fill="#3b7ae8" fill-opacity="0.75"/>
<line x1="128.56" y1="338.33" x2="128.56" y2="340.85" stroke="#f5d29a" stroke-width="0.35" stroke-dasharray="0.7 0.5"/>
<line x1="128.56" y1="350.43" x2="128.56" y2="356.73" stroke="#f5d29a" stroke-width="0.35" stroke-dasharray="0.7 0.5"/>
<line x1="127.26" y1="338.33" x2="129.86" y2="338.33" stroke="#f5d29a" stroke-width="0.35"/>
<line x1="127.26" y1="356.73" x2="129.86" y2="356.73" stroke="#f5d29a" stroke-width="0.35"/>
<rect x="124.78" y="340.85" width="7.56" height="9.58" fill="#fff" fill-opacity="0.6" stroke="#bcc4f5" stroke-width="0.45"/>
<line x1="124.78" y1="347.88" x2="132.34" y2="347.88" stroke="#f6dcc0" stroke-width="0.25"/>
<circle cx="128.16" cy="338.33" r="0.4" fill="#2fa95a" fill-opacity="0.75"/>
<circle cx="128.14" cy="342.06" r="0.4" fill="#e5401f" fill-opacity="0.75"/>
<circle cx="128.93" cy="349.52" r="0.4" fill="#f1b21f" fill-opacity="0.75"/>
<circle cx="128.95" cy="356.73" r="0.4" fill="#3b7ae8" fill-opacity="0.75"/>
<line x1="143.94" y1="338.33" x2="143.94" y2="340.34" stroke="#f5d29a" stroke-width="0.35" stroke-dasharray="0.7 0.5"/>
<line x1="143.94" y1="354.21" x2="143.94" y2="362.53" stroke="#f5d29a" stroke-width="0.35" stroke-dasharray="0.7 0.5"/>
<line x1="142.64" y1="338.33" x2="145.24" y2="338.33" stroke="#f5d29a" stroke-width="0.35"/>
<line x1="142.64" y1="362.53" x2="145.24" y2="362.53" stroke="#f5d29a" stroke-width="0.35"/>
<rect x="139.91" y="340.34" width="8.07" height="13.87" fill="#fff" fill-opacity="0.6" stroke="#bcc4f5" stroke-width="0.45"/>
<line x1="139.91" y1="350.66" x2="147.98" y2="350.66" stroke="#f6dcc0" stroke-width="0.25"/>
<circle cx="143.76" cy="338.33" r="0.4" fill="#2fa95a" fill-opacity="0.75"/>
<circle cx="143.5" cy="347.95" r="0.4" fill="#e5401f" fill-opacity="0.75"/>
<circle cx="144.51" cy="340.54" r="0.4" fill="#f1b21f" fill-opacity="0.75"/>
<circle cx="143.97" cy="362.53" r="0.4" fill="#3b7ae8" fill-opacity="0.75"/>
<line x1="159.83" y1="337.82" x2="159.83" y2="339.84" stroke="#f5d29a" stroke-width="0.35" stroke-dasharray="0.7 0.5"/>
<line x1="159.83" y1="352.95" x2="159.83" y2="360.51" stroke="#f5d29a" stroke-width="0.35" stroke-dasharray="0.7 0.5"/>
<line x1="158.53" y1="337.82" x2="161.13" y2="337.82" stroke="#f5d29a" stroke-width="0.35"/>
<line x1="158.53" y1="360.51" x2="161.13" y2="360.51" stroke="#f5d29a" stroke-width="0.35"/>
<rect x="155.79" y="339.84" width="8.07" height="13.11" fill="#fff" fill-opacity="0.6" stroke="#bcc4f5" stroke-width="0.45"/>
<line x1="155.79" y1="349.41" x2="163.86" y2="349.41" stroke="#f6dcc0" stroke-width="0.25"/>
<circle cx="160.27" cy="337.82" r="0.4" fill="#2fa95a" fill-opacity="0.75"/>
<circle cx="159.48" cy="350.67" r="0.4" fill="#e5401f" fill-opacity="0.75"/>
<circle cx="159.58" cy="343.14" r="0.4" fill="#f1b21f" fill-opacity="0.75"/>
<circle cx="159.93" cy="360.51" r="0.4" fill="#3b7ae8" fill-opacity="0.75"/>
<text x="112.91" y="370.1" font-size="2.4" font-weight="bold" fill="#222" text-anchor="middle" stroke="#222" stroke-width="0.1">Site 1</text>
<text x="128.54" y="370.1" font-size="2.4" font-weight="bold" fill="#222" text-anchor="middle" stroke="#222" stroke-width="0.1">Site 2</text>
<text x="144.16" y="370.1" font-size="2.4" font-weight="bold" fill="#222" text-anchor="middle" stroke="#222" stroke-width="0.1">Site 3</text>
<text x="159.79" y="370.1" font-size="2.4" font-weight="bold" fill="#222" text-anchor="middle" stroke="#222" stroke-width="0.1">Site 4</text>
<rect x="105.1" y="307.6" width="62.5" height="59.2" fill="none" stroke="#a8a8a8" stroke-width="0.4"/>
<text x="104.3" y="308.4" font-size="2.25" font-weight="bold" fill="#111" text-anchor="end" stroke="#111" stroke-width="0.1">30%</text>
<text x="104.3" y="313.35" font-size="2.25" font-weight="bold" fill="#111" text-anchor="end" stroke="#111" stroke-width="0.1">25%</text>
<text x="104.3" y="318.3" font-size="2.25" font-weight="bold" fill="#111" text-anchor="end" stroke="#111" stroke-width="0.1">20%</text>
<text x="104.3" y="323.25" font-size="2.25" font-weight="bold" fill="#111" text-anchor="end" stroke="#111" stroke-width="0.1">15%</text>
<text x="104.3" y="328.2" font-size="2.25" font-weight="bold" fill="#111" text-anchor="end" stroke="#111" stroke-width="0.1">10%</text>
<text x="104.3" y="333.15" font-size="2.25" font-weight="bold" fill="#111" text-anchor="end" stroke="#111" stroke-width="0.1">5%</text>
<text x="104.3" y="338.1" font-size="2.25" font-weight="bold" fill="#111" text-anchor="end" stroke="#111" stroke-width="0.1">0%</text>
<text x="168.4" y="338.1" font-size="2.25" font-weight="bold" fill="#111" text-anchor="start" stroke="#111" stroke-width="0.1">0%</text>
<text x="168.4" y="344" font-size="2.25" font-weight="bold" fill="#111" text-anchor="start" stroke="#111" stroke-width="0.1">10%</text>
<text x="168.4" y="349.9" font-size="2.25" font-weight="bold" fill="#111" text-anchor="start" stroke="#111" stroke-width="0.1">20%</text>
<text x="168.4" y="355.8" font-size="2.25" font-weight="bold" fill="#111" text-anchor="start" stroke="#111" stroke-width="0.1">30%</text>
<text x="168.4" y="361.7" font-size="2.25" font-weight="bold" fill="#111" text-anchor="start" stroke="#111" stroke-width="0.1">40%</text>
<text x="168.4" y="367.6" font-size="2.25" font-weight="bold" fill="#111" text-anchor="start" stroke="#111" stroke-width="0.1">50%</text>
<text x="97.3" y="324.05" font-size="2.6" font-weight="bold" fill="#222" text-anchor="middle" transform="rotate(-90 97.3 324.05)" stroke="#222" stroke-width="0.1">SMAPE</text>
<text x="174.6" y="349.55" font-size="2.6" font-weight="bold" fill="#222" text-anchor="middle" transform="rotate(-90 174.6 349.55)" stroke="#222" stroke-width="0.1">MAPE</text>
<circle cx="105.9" cy="311.25" r="0.45" fill="#1fb0ee"/>
<text x="108.2" y="312" font-size="2.35" font-weight="bold" fill="#222" text-anchor="start" stroke="#222" stroke-width="0.1">Sub-model 1</text>
<circle cx="122.8" cy="311.25" r="0.45" fill="#3fc564"/>
<text x="125.1" y="312" font-size="2.35" font-weight="bold" fill="#222" text-anchor="start" stroke="#222" stroke-width="0.1">Sub-model 2</text>
<circle cx="105.9" cy="313.95" r="0.45" fill="#a262e2"/>
<text x="108.2" y="314.7" font-size="2.35" font-weight="bold" fill="#222" text-anchor="start" stroke="#222" stroke-width="0.1">Sub-model 3</text>
<circle cx="122.8" cy="313.95" r="0.45" fill="#f4c70a"/>
<text x="125.1" y="314.7" font-size="2.35" font-weight="bold" fill="#222" text-anchor="start" stroke="#222" stroke-width="0.1">Sub-model 4</text>
<circle cx="105.9" cy="316.65" r="0.45" fill="#e8303a"/>
<text x="108.2" y="317.4" font-size="2.35" font-weight="bold" fill="#222" text-anchor="start" stroke="#222" stroke-width="0.1">Sub-model 5</text>
<circle cx="108.8" cy="360.65" r="0.45" fill="#2fa95a"/>
<text x="110.7" y="361.4" font-size="2.5" font-weight="bold" fill="#222" text-anchor="start" stroke="#222" stroke-width="0.1">CM<tspan font-size="1.7" dy="0.55">1</tspan></text>
<circle cx="116.5" cy="360.65" r="0.45" fill="#e5401f"/>
<text x="118.4" y="361.4" font-size="2.5" font-weight="bold" fill="#222" text-anchor="start" stroke="#222" stroke-width="0.1">CM<tspan font-size="1.7" dy="0.55">2</tspan></text>
<circle cx="108.8" cy="364.45" r="0.45" fill="#f1b21f"/>
<text x="110.7" y="365.2" font-size="2.5" font-weight="bold" fill="#222" text-anchor="start" stroke="#222" stroke-width="0.1">CM<tspan font-size="1.7" dy="0.55">3</tspan></text>
<circle cx="116.5" cy="364.45" r="0.45" fill="#3b7ae8"/>
<text x="118.4" y="365.2" font-size="2.5" font-weight="bold" fill="#222" text-anchor="start" stroke="#222" stroke-width="0.1">CM<tspan font-size="1.7" dy="0.55">4</tspan></text>
<rect x="267.6" y="307.6" width="61.5" height="58.4" fill="#fff" stroke="none"/>
<line x1="275.29" y1="307.6" x2="275.29" y2="366" stroke="#dcdcdc" stroke-width="0.3" stroke-dasharray="0.8 0.5"/>
<line x1="290.66" y1="307.6" x2="290.66" y2="366" stroke="#dcdcdc" stroke-width="0.3" stroke-dasharray="0.8 0.5"/>
<line x1="306.04" y1="307.6" x2="306.04" y2="366" stroke="#dcdcdc" stroke-width="0.3" stroke-dasharray="0.8 0.5"/>
<line x1="321.41" y1="307.6" x2="321.41" y2="366" stroke="#dcdcdc" stroke-width="0.3" stroke-dasharray="0.8 0.5"/>
<line x1="267.6" y1="313.44" x2="329.1" y2="313.44" stroke="#dcdcdc" stroke-width="0.3" stroke-dasharray="0.8 0.5"/>
<line x1="267.6" y1="319.28" x2="329.1" y2="319.28" stroke="#dcdcdc" stroke-width="0.3" stroke-dasharray="0.8 0.5"/>
<line x1="267.6" y1="325.12" x2="329.1" y2="325.12" stroke="#dcdcdc" stroke-width="0.3" stroke-dasharray="0.8 0.5"/>
<line x1="267.6" y1="330.96" x2="329.1" y2="330.96" stroke="#dcdcdc" stroke-width="0.3" stroke-dasharray="0.8 0.5"/>
<line x1="267.6" y1="336.8" x2="329.1" y2="336.8" stroke="#dcdcdc" stroke-width="0.3" stroke-dasharray="0.8 0.5"/>
<line x1="267.6" y1="342.64" x2="329.1" y2="342.64" stroke="#dcdcdc" stroke-width="0.3" stroke-dasharray="0.8 0.5"/>
<line x1="267.6" y1="348.48" x2="329.1" y2="348.48" stroke="#dcdcdc" stroke-width="0.3" stroke-dasharray="0.8 0.5"/>
<line x1="267.6" y1="354.32" x2="329.1" y2="354.32" stroke="#dcdcdc" stroke-width="0.3" stroke-dasharray="0.8 0.5"/>
<line x1="267.6" y1="360.16" x2="329.1" y2="360.16" stroke="#dcdcdc" stroke-width="0.3" stroke-dasharray="0.8 0.5"/>
<line x1="267.6" y1="336.6" x2="329.1" y2="336.6" stroke="#aaa" stroke-width="0.35"/>
<line x1="275.15" y1="315.13" x2="275.15" y2="317.65" stroke="#f5d29a" stroke-width="0.35" stroke-dasharray="0.7 0.5"/>
<line x1="275.15" y1="329" x2="275.15" y2="331.52" stroke="#f5d29a" stroke-width="0.35" stroke-dasharray="0.7 0.5"/>
<line x1="273.85" y1="315.13" x2="276.45" y2="315.13" stroke="#f5d29a" stroke-width="0.35"/>
<line x1="273.85" y1="331.52" x2="276.45" y2="331.52" stroke="#f5d29a" stroke-width="0.35"/>
<rect x="271.36" y="317.65" width="7.56" height="11.35" fill="#fff" fill-opacity="0.6" stroke="#bcc4f5" stroke-width="0.45"/>
<line x1="271.36" y1="323.64" x2="278.93" y2="323.64" stroke="#f6dcc0" stroke-width="0.25"/>
<circle cx="274.7" cy="315.13" r="0.4" fill="#1fb0ee" fill-opacity="0.75"/>
<circle cx="274.97" cy="327.98" r="0.4" fill="#3fc564" fill-opacity="0.75"/>
<circle cx="275.25" cy="322.85" r="0.4" fill="#a262e2" fill-opacity="0.75"/>
<circle cx="275.05" cy="327.91" r="0.4" fill="#f4c70a" fill-opacity="0.75"/>
<circle cx="275.15" cy="331.52" r="0.4" fill="#e8303a" fill-opacity="0.75"/>
<line x1="290.78" y1="314.62" x2="290.78" y2="317.15" stroke="#f5d29a" stroke-width="0.35" stroke-dasharray="0.7 0.5"/>
<line x1="290.78" y1="329.75" x2="290.78" y2="332.27" stroke="#f5d29a" stroke-width="0.35" stroke-dasharray="0.7 0.5"/>
<line x1="289.48" y1="314.62" x2="292.08" y2="314.62" stroke="#f5d29a" stroke-width="0.35"/>
<line x1="289.48" y1="332.27" x2="292.08" y2="332.27" stroke="#f5d29a" stroke-width="0.35"/>
<rect x="287" y="317.15" width="7.56" height="12.61" fill="#fff" fill-opacity="0.6" stroke="#bcc4f5" stroke-width="0.45"/>
<line x1="287" y1="324.83" x2="294.56" y2="324.83" stroke="#f6dcc0" stroke-width="0.25"/>
<circle cx="290.2" cy="314.62" r="0.4" fill="#1fb0ee" fill-opacity="0.75"/>
<circle cx="290.4" cy="322.69" r="0.4" fill="#3fc564" fill-opacity="0.75"/>
<circle cx="291.14" cy="317.2" r="0.4" fill="#a262e2" fill-opacity="0.75"/>
<circle cx="290.75" cy="319.32" r="0.4" fill="#f4c70a" fill-opacity="0.75"/>
<circle cx="290.85" cy="332.27" r="0.4" fill="#e8303a" fill-opacity="0.75"/>
<line x1="306.41" y1="313.87" x2="306.41" y2="317.15" stroke="#f5d29a" stroke-width="0.35" stroke-dasharray="0.7 0.5"/>
<line x1="306.41" y1="329" x2="306.41" y2="331.52" stroke="#f5d29a" stroke-width="0.35" stroke-dasharray="0.7 0.5"/>
<line x1="305.11" y1="313.87" x2="307.71" y2="313.87" stroke="#f5d29a" stroke-width="0.35"/>
<line x1="305.11" y1="331.52" x2="307.71" y2="331.52" stroke="#f5d29a" stroke-width="0.35"/>
<rect x="302.63" y="317.15" width="7.56" height="11.85" fill="#fff" fill-opacity="0.6" stroke="#bcc4f5" stroke-width="0.45"/>
<line x1="302.63" y1="323.64" x2="310.19" y2="323.64" stroke="#f6dcc0" stroke-width="0.25"/>
<circle cx="306.48" cy="313.87" r="0.4" fill="#1fb0ee" fill-opacity="0.75"/>
<circle cx="305.94" cy="326.44" r="0.4" fill="#3fc564" fill-opacity="0.75"/>
<circle cx="306.11" cy="323.79" r="0.4" fill="#a262e2" fill-opacity="0.75"/>
<circle cx="306.74" cy="320.43" r="0.4" fill="#f4c70a" fill-opacity="0.75"/>
<circle cx="306.49" cy="331.52" r="0.4" fill="#e8303a" fill-opacity="0.75"/>
<line x1="322.04" y1="321.18" x2="322.04" y2="322.69" stroke="#f5d29a" stroke-width="0.35" stroke-dasharray="0.7 0.5"/>
<line x1="322.04" y1="330.76" x2="322.04" y2="333.28" stroke="#f5d29a" stroke-width="0.35" stroke-dasharray="0.7 0.5"/>
<line x1="320.74" y1="321.18" x2="323.34" y2="321.18" stroke="#f5d29a" stroke-width="0.35"/>
<line x1="320.74" y1="333.28" x2="323.34" y2="333.28" stroke="#f5d29a" stroke-width="0.35"/>
<rect x="318.51" y="322.69" width="7.06" height="8.07" fill="#fff" fill-opacity="0.6" stroke="#bcc4f5" stroke-width="0.45"/>
<line x1="318.51" y1="328.16" x2="325.57" y2="328.16" stroke="#f6dcc0" stroke-width="0.25"/>
<circle cx="321.98" cy="321.18" r="0.4" fill="#1fb0ee" fill-opacity="0.75"/>
<circle cx="322.05" cy="327.64" r="0.4" fill="#3fc564" fill-opacity="0.75"/>
<circle cx="322.28" cy="326.83" r="0.4" fill="#a262e2" fill-opacity="0.75"/>
<circle cx="322.08" cy="326.34" r="0.4" fill="#f4c70a" fill-opacity="0.75"/>
<circle cx="322.57" cy="333.28" r="0.4" fill="#e8303a" fill-opacity="0.75"/>
<line x1="275.15" y1="348.41" x2="275.15" y2="353.45" stroke="#f5d29a" stroke-width="0.35" stroke-dasharray="0.7 0.5"/>
<line x1="275.15" y1="360.51" x2="275.15" y2="362.53" stroke="#f5d29a" stroke-width="0.35" stroke-dasharray="0.7 0.5"/>
<line x1="273.85" y1="348.41" x2="276.45" y2="348.41" stroke="#f5d29a" stroke-width="0.35"/>
<line x1="273.85" y1="362.53" x2="276.45" y2="362.53" stroke="#f5d29a" stroke-width="0.35"/>
<rect x="271.36" y="353.45" width="7.56" height="7.06" fill="#fff" fill-opacity="0.6" stroke="#bcc4f5" stroke-width="0.45"/>
<line x1="271.36" y1="358.11" x2="278.93" y2="358.11" stroke="#f6dcc0" stroke-width="0.25"/>
<circle cx="275.68" cy="348.41" r="0.4" fill="#2fa95a" fill-opacity="0.75"/>
<circle cx="275.22" cy="355.29" r="0.4" fill="#e5401f" fill-opacity="0.75"/>
<circle cx="275.55" cy="360.11" r="0.4" fill="#f1b21f" fill-opacity="0.75"/>
<circle cx="274.69" cy="362.53" r="0.4" fill="#3b7ae8" fill-opacity="0.75"/>
<line x1="290.78" y1="346.65" x2="290.78" y2="349.92" stroke="#f5d29a" stroke-width="0.35" stroke-dasharray="0.7 0.5"/>
<line x1="290.78" y1="359.25" x2="290.78" y2="361.78" stroke="#f5d29a" stroke-width="0.35" stroke-dasharray="0.7 0.5"/>
<line x1="289.48" y1="346.65" x2="292.08" y2="346.65" stroke="#f5d29a" stroke-width="0.35"/>
<line x1="289.48" y1="361.78" x2="292.08" y2="361.78" stroke="#f5d29a" stroke-width="0.35"/>
<rect x="287" y="349.92" width="7.56" height="9.33" fill="#fff" fill-opacity="0.6" stroke="#bcc4f5" stroke-width="0.45"/>
<line x1="287" y1="355.36" x2="294.56" y2="355.36" stroke="#f6dcc0" stroke-width="0.25"/>
<circle cx="290.47" cy="346.65" r="0.4" fill="#2fa95a" fill-opacity="0.75"/>
<circle cx="290.98" cy="350.61" r="0.4" fill="#e5401f" fill-opacity="0.75"/>
<circle cx="291.26" cy="357.24" r="0.4" fill="#f1b21f" fill-opacity="0.75"/>
<circle cx="291.04" cy="361.78" r="0.4" fill="#3b7ae8" fill-opacity="0.75"/>
<line x1="306.41" y1="340.85" x2="306.41" y2="345.39" stroke="#f5d29a" stroke-width="0.35" stroke-dasharray="0.7 0.5"/>
<line x1="306.41" y1="358.5" x2="306.41" y2="361.02" stroke="#f5d29a" stroke-width="0.35" stroke-dasharray="0.7 0.5"/>
<line x1="305.11" y1="340.85" x2="307.71" y2="340.85" stroke="#f5d29a" stroke-width="0.35"/>
<line x1="305.11" y1="361.02" x2="307.71" y2="361.02" stroke="#f5d29a" stroke-width="0.35"/>
<rect x="302.63" y="345.39" width="7.56" height="13.11" fill="#fff" fill-opacity="0.6" stroke="#bcc4f5" stroke-width="0.45"/>
<line x1="302.63" y1="353.88" x2="310.19" y2="353.88" stroke="#f6dcc0" stroke-width="0.25"/>
<circle cx="306.87" cy="340.85" r="0.4" fill="#2fa95a" fill-opacity="0.75"/>
<circle cx="306.08" cy="358.07" r="0.4" fill="#e5401f" fill-opacity="0.75"/>
<circle cx="306.29" cy="357.87" r="0.4" fill="#f1b21f" fill-opacity="0.75"/>
<circle cx="307" cy="361.02" r="0.4" fill="#3b7ae8" fill-opacity="0.75"/>
<line x1="322.04" y1="347.91" x2="322.04" y2="351.69" stroke="#f5d29a" stroke-width="0.35" stroke-dasharray="0.7 0.5"/>
<line x1="322.04" y1="360.51" x2="322.04" y2="362.53" stroke="#f5d29a" stroke-width="0.35" stroke-dasharray="0.7 0.5"/>
<line x1="320.74" y1="347.91" x2="323.34" y2="347.91" stroke="#f5d29a" stroke-width="0.35"/>
<line x1="320.74" y1="362.53" x2="323.34" y2="362.53" stroke="#f5d29a" stroke-width="0.35"/>
<rect x="318.51" y="351.69" width="7.06" height="8.83" fill="#fff" fill-opacity="0.6" stroke="#bcc4f5" stroke-width="0.45"/>
<line x1="318.51" y1="357.86" x2="325.57" y2="357.86" stroke="#f6dcc0" stroke-width="0.25"/>
<circle cx="321.96" cy="347.91" r="0.4" fill="#2fa95a" fill-opacity="0.75"/>
<circle cx="321.85" cy="356.24" r="0.4" fill="#e5401f" fill-opacity="0.75"/>
<circle cx="321.83" cy="353.42" r="0.4" fill="#f1b21f" fill-opacity="0.75"/>
<circle cx="321.47" cy="362.53" r="0.4" fill="#3b7ae8" fill-opacity="0.75"/>
<text x="275.29" y="369.3" font-size="2.4" font-weight="bold" fill="#222" text-anchor="middle" stroke="#222" stroke-width="0.1">Site 1</text>
<text x="290.66" y="369.3" font-size="2.4" font-weight="bold" fill="#222" text-anchor="middle" stroke="#222" stroke-width="0.1">Site 2</text>
<text x="306.04" y="369.3" font-size="2.4" font-weight="bold" fill="#222" text-anchor="middle" stroke="#222" stroke-width="0.1">Site 3</text>
<text x="321.41" y="369.3" font-size="2.4" font-weight="bold" fill="#222" text-anchor="middle" stroke="#222" stroke-width="0.1">Site 4</text>
<rect x="267.6" y="307.6" width="61.5" height="58.4" fill="none" stroke="#a8a8a8" stroke-width="0.4"/>
<text x="266.8" y="308.4" font-size="2.25" font-weight="bold" fill="#111" text-anchor="end" stroke="#111" stroke-width="0.1">1.00</text>
<text x="266.8" y="314.2" font-size="2.25" font-weight="bold" fill="#111" text-anchor="end" stroke="#111" stroke-width="0.1">0.95</text>
<text x="266.8" y="320" font-size="2.25" font-weight="bold" fill="#111" text-anchor="end" stroke="#111" stroke-width="0.1">0.90</text>
<text x="266.8" y="325.8" font-size="2.25" font-weight="bold" fill="#111" text-anchor="end" stroke="#111" stroke-width="0.1">0.85</text>
<text x="266.8" y="331.6" font-size="2.25" font-weight="bold" fill="#111" text-anchor="end" stroke="#111" stroke-width="0.1">0.80</text>
<text x="266.8" y="337.4" font-size="2.25" font-weight="bold" fill="#111" text-anchor="end" stroke="#111" stroke-width="0.1">0.75</text>
<text x="329.9" y="337.4" font-size="2.25" font-weight="bold" fill="#111" text-anchor="start" stroke="#111" stroke-width="0.1">0.75</text>
<text x="329.9" y="343.28" font-size="2.25" font-weight="bold" fill="#111" text-anchor="start" stroke="#111" stroke-width="0.1">0.60</text>
<text x="329.9" y="349.16" font-size="2.25" font-weight="bold" fill="#111" text-anchor="start" stroke="#111" stroke-width="0.1">0.45</text>
<text x="329.9" y="355.04" font-size="2.25" font-weight="bold" fill="#111" text-anchor="start" stroke="#111" stroke-width="0.1">0.30</text>
<text x="329.9" y="360.92" font-size="2.25" font-weight="bold" fill="#111" text-anchor="start" stroke="#111" stroke-width="0.1">0.15</text>
<text x="329.9" y="366.8" font-size="2.25" font-weight="bold" fill="#111" text-anchor="start" stroke="#111" stroke-width="0.1">0.00</text>
<text x="259.8" y="323.7" font-size="2.6" font-weight="bold" fill="#222" text-anchor="middle" transform="rotate(-90 259.8 323.7)" stroke="#222" stroke-width="0.1">IA</text>
<text x="338.1" y="354.3" font-size="2.6" font-weight="bold" fill="#222" text-anchor="middle" transform="rotate(-90 338.1 354.3)" stroke="#222" stroke-width="0.1">R²</text>
<circle cx="268.4" cy="310.65" r="0.45" fill="#1fb0ee"/>
<text x="270.6" y="311.4" font-size="2.35" font-weight="bold" fill="#222" text-anchor="start" stroke="#222" stroke-width="0.1">Sub-model 1</text>
<circle cx="284.8" cy="310.65" r="0.45" fill="#3fc564"/>
<text x="287" y="311.4" font-size="2.35" font-weight="bold" fill="#222" text-anchor="start" stroke="#222" stroke-width="0.1">Sub-model 2</text>
<circle cx="301.2" cy="310.65" r="0.45" fill="#a262e2"/>
<text x="303.4" y="311.4" font-size="2.35" font-weight="bold" fill="#222" text-anchor="start" stroke="#222" stroke-width="0.1">Sub-model 3</text>
<circle cx="268.4" cy="313.65" r="0.45" fill="#f4c70a"/>
<text x="270.6" y="314.4" font-size="2.35" font-weight="bold" fill="#222" text-anchor="start" stroke="#222" stroke-width="0.1">Sub-model 4</text>
<circle cx="284.8" cy="313.65" r="0.45" fill="#e8303a"/>
<text x="287" y="314.4" font-size="2.35" font-weight="bold" fill="#222" text-anchor="start" stroke="#222" stroke-width="0.1">Sub-model 5</text>
<circle cx="269.1" cy="340.05" r="0.45" fill="#2fa95a"/>
<text x="270.6" y="340.8" font-size="2.5" font-weight="bold" fill="#222" text-anchor="start" stroke="#222" stroke-width="0.1">CM<tspan font-size="1.7" dy="0.55">1</tspan></text>
<circle cx="277.9" cy="340.05" r="0.45" fill="#e5401f"/>
<text x="279.4" y="340.8" font-size="2.5" font-weight="bold" fill="#222" text-anchor="start" stroke="#222" stroke-width="0.1">CM<tspan font-size="1.7" dy="0.55">2</tspan></text>
<circle cx="269.1" cy="343.75" r="0.45" fill="#f1b21f"/>
<text x="270.6" y="344.5" font-size="2.5" font-weight="bold" fill="#222" text-anchor="start" stroke="#222" stroke-width="0.1">CM<tspan font-size="1.7" dy="0.55">3</tspan></text>
<circle cx="277.9" cy="343.75" r="0.45" fill="#3b7ae8"/>
<text x="279.4" y="344.5" font-size="2.5" font-weight="bold" fill="#222" text-anchor="start" stroke="#222" stroke-width="0.1">CM<tspan font-size="1.7" dy="0.55">4</tspan></text>
<rect x="23.1" y="107.6" width="306.3" height="82.9" fill="#fff" stroke="none"/>
<line x1="66.86" y1="107.6" x2="66.86" y2="190.5" stroke="#dcdcdc" stroke-width="0.3"/>
<line x1="110.61" y1="107.6" x2="110.61" y2="190.5" stroke="#dcdcdc" stroke-width="0.3"/>
<line x1="154.37" y1="107.6" x2="154.37" y2="190.5" stroke="#dcdcdc" stroke-width="0.3"/>
<line x1="198.13" y1="107.6" x2="198.13" y2="190.5" stroke="#dcdcdc" stroke-width="0.3"/>
<line x1="241.89" y1="107.6" x2="241.89" y2="190.5" stroke="#dcdcdc" stroke-width="0.3"/>
<line x1="285.64" y1="107.6" x2="285.64" y2="190.5" stroke="#dcdcdc" stroke-width="0.3"/>
<line x1="23.1" y1="117.96" x2="329.4" y2="117.96" stroke="#dcdcdc" stroke-width="0.3"/>
<line x1="23.1" y1="128.32" x2="329.4" y2="128.32" stroke="#dcdcdc" stroke-width="0.3"/>
<line x1="23.1" y1="138.69" x2="329.4" y2="138.69" stroke="#dcdcdc" stroke-width="0.3"/>
<line x1="23.1" y1="149.05" x2="329.4" y2="149.05" stroke="#dcdcdc" stroke-width="0.3"/>
<line x1="23.1" y1="159.41" x2="329.4" y2="159.41" stroke="#dcdcdc" stroke-width="0.3"/>
<line x1="23.1" y1="169.78" x2="329.4" y2="169.78" stroke="#dcdcdc" stroke-width="0.3"/>
<line x1="23.1" y1="180.14" x2="329.4" y2="180.14" stroke="#dcdcdc" stroke-width="0.3"/>
<path d="M23.1 190.5 L23.1 178.1 L23.5 176.2 L23.9 175.0 L24.3 168.3 L24.7 156.8 L25.1 146.8 L25.5 145.8 L25.9 134.8 L26.3 125.9 L26.7 109.1 L27.1 114.2 L27.5 113.6 L27.9 119.6 L28.3 121.4 L28.7 129.0 L29.2 139.2 L29.6 138.4 L30.0 148.2 L30.4 150.0 L30.8 144.9 L31.2 145.6 L31.6 145.9 L32.0 145.4 L32.4 152.5 L32.8 155.4 L33.2 151.2 L33.6 146.1 L34.0 147.9 L34.4 160.1 L34.8 165.5 L35.2 160.0 L35.6 153.9 L36.0 153.3 L36.4 166.0 L36.8 164.3 L37.2 155.1 L37.6 144.1 L38.0 137.4 L38.4 121.4 L38.8 115.2 L39.2 112.2 L39.6 112.3 L40.0 110.3 L40.5 121.3 L40.9 132.5 L41.3 140.3 L41.7 148.8 L42.1 146.2 L42.5 139.5 L42.9 136.2 L43.3 137.5 L43.7 139.7 L44.1 144.3 L44.5 151.1 L44.9 156.6 L45.3 160.2 L45.7 153.6 L46.1 147.4 L46.5 145.6 L46.9 151.9 L47.3 162.6 L47.7 164.4 L48.1 158.0 L48.5 151.3 L48.9 153.9 L49.3 156.5 L49.7 160.3 L50.1 166.4 L50.5 168.5 L50.9 173.5 L51.3 174.6 L51.8 176.2 L52.2 179.4 L52.6 178.0 L53.0 172.6 L53.4 166.3 L53.8 158.7 L54.2 152.6 L54.6 148.8 L55.0 149.1 L55.4 152.2 L55.8 154.1 L56.2 157.8 L56.6 163.4 L57.0 163.9 L57.4 160.7 L57.8 158.4 L58.2 153.5 L58.6 153.3 L59.0 153.4 L59.4 152.1 L59.8 154.8 L60.2 153.9 L60.6 153.3 L61.0 150.2 L61.4 154.5 L61.8 152.6 L62.2 150.5 L62.6 150.4 L63.1 153.7 L63.5 147.2 L63.9 148.6 L64.3 148.0 L64.7 145.3 L65.1 140.4 L65.5 140.2 L65.9 138.1 L66.3 140.9 L66.7 141.4 L67.1 141.1 L67.5 144.4 L67.9 145.3 L68.3 144.1 L68.7 139.7 L69.1 140.7 L69.5 146.5 L69.9 147.4 L70.3 145.2 L70.7 142.4 L71.1 136.0 L71.5 135.5 L71.9 129.2 L72.3 130.6 L72.7 137.5 L73.1 141.4 L73.5 145.6 L73.9 150.8 L74.4 150.0 L74.8 154.0 L75.2 151.9 L75.6 156.0 L76.0 156.1 L76.4 158.5 L76.8 155.7 L77.2 159.2 L77.6 159.8 L78.0 156.5 L78.4 160.0 L78.8 160.1 L79.2 155.3 L79.6 153.9 L80.0 155.5 L80.4 156.6 L80.8 154.9 L81.2 151.8 L81.6 147.0 L82.0 145.5 L82.4 149.6 L82.8 154.8 L83.2 154.3 L83.6 145.5 L84.0 142.4 L84.4 140.8 L84.8 142.4 L85.2 145.9 L85.7 148.3 L86.1 151.6 L86.5 150.6 L86.9 153.7 L87.3 158.0 L87.7 159.7 L88.1 158.4 L88.5 157.5 L88.9 154.9 L89.3 154.8 L89.7 151.8 L90.1 147.9 L90.5 142.7 L90.9 139.6 L91.3 131.0 L91.7 132.3 L92.1 132.2 L92.5 128.6 L92.9 133.4 L93.3 134.1 L93.7 132.2 L94.1 136.4 L94.5 137.5 L94.9 136.4 L95.3 133.9 L95.7 130.2 L96.1 127.8 L96.5 129.1 L97.0 128.7 L97.4 129.9 L97.8 128.0 L98.2 124.7 L98.6 122.2 L99.0 123.9 L99.4 123.2 L99.8 122.9 L100.2 126.0 L100.6 125.7 L101.0 124.8 L101.4 123.5 L101.8 118.6 L102.2 124.2 L102.6 114.8 L103.0 118.1 L103.4 117.3 L103.8 124.8 L104.2 122.8 L104.6 132.1 L105.0 139.4 L105.4 145.4 L105.8 154.0 L106.2 156.1 L106.6 160.5 L107.0 162.1 L107.4 164.7 L107.8 165.8 L108.3 166.6 L108.7 169.0 L109.1 168.8 L109.5 172.8 L109.9 172.2 L110.3 175.1 L110.7 178.3 L111.1 178.0 L111.5 180.3 L111.9 183.1 L112.3 183.8 L112.7 184.5 L113.1 186.4 L113.5 187.2 L113.9 187.6 L114.3 187.2 L114.7 187.9 L115.1 187.1 L115.5 185.5 L115.9 186.7 L116.3 187.3 L116.7 188.9 L117.1 187.2 L117.5 187.3 L117.9 186.6 L118.3 187.3 L118.7 188.8 L119.1 189.4 L119.6 188.5 L120.0 187.9 L120.4 188.5 L120.8 187.9 L121.2 187.9 L121.6 188.7 L122.0 188.6 L122.4 188.0 L122.8 189.6 L123.2 188.7 L123.6 189.2 L124.0 188.4 L124.4 188.6 L124.8 187.7 L125.2 189.4 L125.6 189.1 L126.0 186.9 L126.4 185.3 L126.8 183.7 L127.2 185.5 L127.6 185.3 L128.0 186.4 L128.4 185.5 L128.8 184.7 L129.2 183.1 L129.6 185.2 L130.0 185.7 L130.4 187.6 L130.8 187.7 L131.3 187.7 L131.7 187.2 L132.1 186.7 L132.5 187.1 L132.9 186.5 L133.3 187.2 L133.7 186.2 L134.1 185.2 L134.5 184.5 L134.9 183.9 L135.3 184.6 L135.7 186.2 L136.1 187.8 L136.5 187.6 L136.9 187.2 L137.3 187.8 L137.7 186.3 L138.1 187.0 L138.5 188.7 L138.9 186.3 L139.3 187.3 L139.7 187.6 L140.1 187.2 L140.5 186.9 L140.9 186.1 L141.3 186.1 L141.7 185.5 L142.1 186.2 L142.6 185.2 L143.0 186.3 L143.4 187.3 L143.8 187.3 L144.2 187.8 L144.6 188.6 L145.0 187.8 L145.4 188.3 L145.8 188.3 L146.2 187.9 L146.6 188.0 L147.0 187.9 L147.4 187.4 L147.8 188.3 L148.2 188.8 L148.6 188.5 L149.0 188.2 L149.4 187.8 L149.8 186.1 L150.2 186.2 L150.6 186.2 L151.0 183.9 L151.4 185.8 L151.8 187.1 L152.2 189.2 L152.6 188.6 L153.0 189.0 L153.4 188.3 L153.9 188.7 L154.3 188.8 L154.7 187.7 L155.1 189.0 L155.5 188.3 L155.9 186.4 L156.3 187.4 L156.7 186.5 L157.1 185.5 L157.5 183.8 L157.9 180.9 L158.3 182.6 L158.7 184.5 L159.1 183.4 L159.5 179.7 L159.9 176.1 L160.3 174.7 L160.7 178.5 L161.1 182.0 L161.5 180.9 L161.9 178.0 L162.3 177.1 L162.7 174.7 L163.1 176.6 L163.5 179.7 L163.9 179.5 L164.3 177.3 L164.7 176.4 L165.2 180.7 L165.6 183.8 L166.0 185.8 L166.4 186.9 L166.8 187.1 L167.2 187.6 L167.6 186.1 L168.0 184.9 L168.4 183.3 L168.8 182.7 L169.2 181.4 L169.6 180.3 L170.0 182.8 L170.4 183.3 L170.8 185.2 L171.2 186.8 L171.6 188.4 L172.0 186.3 L172.4 186.9 L172.8 187.4 L173.2 186.7 L173.6 186.7 L174.0 185.5 L174.4 185.2 L174.8 183.0 L175.2 181.1 L175.6 181.1 L176.0 179.7 L176.5 177.4 L176.9 177.1 L177.3 174.4 L177.7 172.4 L178.1 173.9 L178.5 172.7 L178.9 174.4 L179.3 173.4 L179.7 172.7 L180.1 170.4 L180.5 171.3 L180.9 170.6 L181.3 171.6 L181.7 171.9 L182.1 168.0 L182.5 170.6 L182.9 166.2 L183.3 166.2 L183.7 165.1 L184.1 164.6 L184.5 159.9 L184.9 156.7 L185.3 158.6 L185.7 156.9 L186.1 154.3 L186.5 155.4 L186.9 149.5 L187.3 153.2 L187.8 157.8 L188.2 159.1 L188.6 159.5 L189.0 153.4 L189.4 154.9 L189.8 152.7 L190.2 161.5 L190.6 159.6 L191.0 159.5 L191.4 159.4 L191.8 157.7 L192.2 160.2 L192.6 162.7 L193.0 163.3 L193.4 164.3 L193.8 166.9 L194.2 169.4 L194.6 172.6 L195.0 175.1 L195.4 176.9 L195.8 177.3 L196.2 178.0 L196.6 180.7 L197.0 182.1 L197.4 183.2 L197.8 186.5 L198.2 187.5 L198.6 186.9 L199.1 187.6 L199.5 186.8 L199.9 186.4 L200.3 188.9 L200.7 189.0 L201.1 189.3 L201.5 189.1 L201.9 189.0 L202.3 188.4 L202.7 189.7 L203.1 189.3 L203.5 189.0 L203.9 189.3 L204.3 189.0 L204.7 189.3 L205.1 188.7 L205.5 188.3 L205.9 186.3 L206.3 186.4 L206.7 186.6 L207.1 186.6 L207.5 185.2 L207.9 186.7 L208.3 188.9 L208.7 188.8 L209.1 187.6 L209.5 186.5 L209.9 183.4 L210.4 181.5 L210.8 177.1 L211.2 177.3 L211.6 179.1 L212.0 181.3 L212.4 182.5 L212.8 183.1 L213.2 180.4 L213.6 181.3 L214.0 183.3 L214.4 183.5 L214.8 184.9 L215.2 185.4 L215.6 185.2 L216.0 186.1 L216.4 185.3 L216.8 186.7 L217.2 184.6 L217.6 184.2 L218.0 183.5 L218.4 182.8 L218.8 182.9 L219.2 180.1 L219.6 176.5 L220.0 174.1 L220.4 176.7 L220.8 178.4 L221.2 181.9 L221.7 184.2 L222.1 185.2 L222.5 185.8 L222.9 188.4 L223.3 188.6 L223.7 186.3 L224.1 186.2 L224.5 185.2 L224.9 185.0 L225.3 185.2 L225.7 185.0 L226.1 184.3 L226.5 184.2 L226.9 184.0 L227.3 182.0 L227.7 181.7 L228.1 182.0 L228.5 178.3 L228.9 177.2 L229.3 174.6 L229.7 173.9 L230.1 171.1 L230.5 169.0 L230.9 167.1 L231.3 165.1 L231.7 161.9 L232.1 160.4 L232.5 159.0 L232.9 158.9 L233.4 160.5 L233.8 157.6 L234.2 155.9 L234.6 148.9 L235.0 152.7 L235.4 149.8 L235.8 153.8 L236.2 157.5 L236.6 150.1 L237.0 148.7 L237.4 144.4 L237.8 143.0 L238.2 149.0 L238.6 150.9 L239.0 141.5 L239.4 143.1 L239.8 140.7 L240.2 142.9 L240.6 144.4 L241.0 148.8 L241.4 149.6 L241.8 155.1 L242.2 155.7 L242.6 159.8 L243.0 160.0 L243.4 164.2 L243.8 169.6 L244.2 171.2 L244.7 173.0 L245.1 174.5 L245.5 177.0 L245.9 179.0 L246.3 180.8 L246.7 181.6 L247.1 182.9 L247.5 183.7 L247.9 184.9 L248.3 183.3 L248.7 182.8 L249.1 184.6 L249.5 185.2 L249.9 186.2 L250.3 185.8 L250.7 185.6 L251.1 185.8 L251.5 186.1 L251.9 185.7 L252.3 187.1 L252.7 187.3 L253.1 187.1 L253.5 188.8 L253.9 189.1 L254.3 189.8 L254.7 190.2 L255.1 190.2 L255.5 190.0 L256.0 190.2 L256.4 190.2 L256.8 190.2 L257.2 190.2 L257.6 190.2 L258.0 189.9 L258.4 190.2 L258.8 190.2 L259.2 188.3 L259.6 188.7 L260.0 188.6 L260.4 187.6 L260.8 186.7 L261.2 187.7 L261.6 185.7 L262.0 183.8 L262.4 185.1 L262.8 184.7 L263.2 187.6 L263.6 187.5 L264.0 188.3 L264.4 189.3 L264.8 189.1 L265.2 188.8 L265.6 189.0 L266.0 190.2 L266.4 189.9 L266.8 188.9 L267.3 189.2 L267.7 188.5 L268.1 188.0 L268.5 185.6 L268.9 185.8 L269.3 185.8 L269.7 184.9 L270.1 184.2 L270.5 181.2 L270.9 182.7 L271.3 182.5 L271.7 183.6 L272.1 180.6 L272.5 180.7 L272.9 180.0 L273.3 179.5 L273.7 177.2 L274.1 178.0 L274.5 175.9 L274.9 176.5 L275.3 177.0 L275.7 178.8 L276.1 179.0 L276.5 177.9 L276.9 179.7 L277.3 178.4 L277.7 176.4 L278.1 175.9 L278.6 175.6 L279.0 172.9 L279.4 173.0 L279.8 172.6 L280.2 171.4 L280.6 169.2 L281.0 168.0 L281.4 172.8 L281.8 173.0 L282.2 172.0 L282.6 170.9 L283.0 170.9 L283.4 171.8 L283.8 172.9 L284.2 174.6 L284.6 175.5 L285.0 176.4 L285.4 176.0 L285.8 176.8 L286.2 174.2 L286.6 174.7 L287.0 171.4 L287.4 171.3 L287.8 171.7 L288.2 170.0 L288.6 168.5 L289.0 170.1 L289.4 171.0 L289.9 169.7 L290.3 169.7 L290.7 169.3 L291.1 167.8 L291.5 169.3 L291.9 170.8 L292.3 171.2 L292.7 170.9 L293.1 170.2 L293.5 169.7 L293.9 171.2 L294.3 172.1 L294.7 172.2 L295.1 171.9 L295.5 169.9 L295.9 172.3 L296.3 173.9 L296.7 174.1 L297.1 174.2 L297.5 173.9 L297.9 172.9 L298.3 176.7 L298.7 173.9 L299.1 177.7 L299.5 178.1 L299.9 181.9 L300.3 183.7 L300.7 179.5 L301.2 181.0 L301.6 182.0 L302.0 182.6 L302.4 184.4 L302.8 184.6 L303.2 188.4 L303.6 190.1 L304.0 188.8 L304.4 187.2 L304.8 186.7 L305.2 184.4 L305.6 183.2 L306.0 180.8 L306.4 176.9 L306.8 176.3 L307.2 176.0 L307.6 178.1 L308.0 178.3 L308.4 179.1 L308.8 178.8 L309.2 177.6 L309.6 179.4 L310.0 181.1 L310.4 180.0 L310.8 178.1 L311.2 179.1 L311.6 178.5 L312.0 176.4 L312.5 174.7 L312.9 171.7 L313.3 169.9 L313.7 170.1 L314.1 166.4 L314.5 163.6 L314.9 163.0 L315.3 168.2 L315.7 169.7 L316.1 169.1 L316.5 166.0 L316.9 162.3 L317.3 156.0 L317.7 161.5 L318.1 162.8 L318.5 164.4 L318.9 165.9 L319.3 161.8 L319.7 161.8 L320.1 162.3 L320.5 162.7 L320.9 163.4 L321.3 160.4 L321.7 157.1 L322.1 155.1 L322.5 155.2 L322.9 154.7 L323.3 153.8 L323.8 151.5 L324.2 150.0 L324.6 152.8 L325.0 155.8 L325.4 160.3 L325.8 156.6 L326.2 157.8 L326.6 158.4 L327.0 163.2 L327.4 167.2 L327.8 171.1 L328.2 174.7 L328.6 176.2 L329.0 177.0 L329.4 175.6 L329.4 190.5 Z" fill="#a9a6e7" stroke="none"/>
<path d="M23.1 178.1 L23.5 176.2 L23.9 175.0 L24.3 168.3 L24.7 156.8 L25.1 146.8 L25.5 145.8 L25.9 134.8 L26.3 125.9 L26.7 109.1 L27.1 114.2 L27.5 113.6 L27.9 119.6 L28.3 121.4 L28.7 129.0 L29.2 139.2 L29.6 138.4 L30.0 148.2 L30.4 150.0 L30.8 144.9 L31.2 145.6 L31.6 145.9 L32.0 145.4 L32.4 152.5 L32.8 155.4 L33.2 151.2 L33.6 146.1 L34.0 147.9 L34.4 160.1 L34.8 165.5 L35.2 160.0 L35.6 153.9 L36.0 153.3 L36.4 166.0 L36.8 164.3 L37.2 155.1 L37.6 144.1 L38.0 137.4 L38.4 121.4 L38.8 115.2 L39.2 112.2 L39.6 112.3 L40.0 110.3 L40.5 121.3 L40.9 132.5 L41.3 140.3 L41.7 148.8 L42.1 146.2 L42.5 139.5 L42.9 136.2 L43.3 137.5 L43.7 139.7 L44.1 144.3 L44.5 151.1 L44.9 156.6 L45.3 160.2 L45.7 153.6 L46.1 147.4 L46.5 145.6 L46.9 151.9 L47.3 162.6 L47.7 164.4 L48.1 158.0 L48.5 151.3 L48.9 153.9 L49.3 156.5 L49.7 160.3 L50.1 166.4 L50.5 168.5 L50.9 173.5 L51.3 174.6 L51.8 176.2 L52.2 179.4 L52.6 178.0 L53.0 172.6 L53.4 166.3 L53.8 158.7 L54.2 152.6 L54.6 148.8 L55.0 149.1 L55.4 152.2 L55.8 154.1 L56.2 157.8 L56.6 163.4 L57.0 163.9 L57.4 160.7 L57.8 158.4 L58.2 153.5 L58.6 153.3 L59.0 153.4 L59.4 152.1 L59.8 154.8 L60.2 153.9 L60.6 153.3 L61.0 150.2 L61.4 154.5 L61.8 152.6 L62.2 150.5 L62.6 150.4 L63.1 153.7 L63.5 147.2 L63.9 148.6 L64.3 148.0 L64.7 145.3 L65.1 140.4 L65.5 140.2 L65.9 138.1 L66.3 140.9 L66.7 141.4 L67.1 141.1 L67.5 144.4 L67.9 145.3 L68.3 144.1 L68.7 139.7 L69.1 140.7 L69.5 146.5 L69.9 147.4 L70.3 145.2 L70.7 142.4 L71.1 136.0 L71.5 135.5 L71.9 129.2 L72.3 130.6 L72.7 137.5 L73.1 141.4 L73.5 145.6 L73.9 150.8 L74.4 150.0 L74.8 154.0 L75.2 151.9 L75.6 156.0 L76.0 156.1 L76.4 158.5 L76.8 155.7 L77.2 159.2 L77.6 159.8 L78.0 156.5 L78.4 160.0 L78.8 160.1 L79.2 155.3 L79.6 153.9 L80.0 155.5 L80.4 156.6 L80.8 154.9 L81.2 151.8 L81.6 147.0 L82.0 145.5 L82.4 149.6 L82.8 154.8 L83.2 154.3 L83.6 145.5 L84.0 142.4 L84.4 140.8 L84.8 142.4 L85.2 145.9 L85.7 148.3 L86.1 151.6 L86.5 150.6 L86.9 153.7 L87.3 158.0 L87.7 159.7 L88.1 158.4 L88.5 157.5 L88.9 154.9 L89.3 154.8 L89.7 151.8 L90.1 147.9 L90.5 142.7 L90.9 139.6 L91.3 131.0 L91.7 132.3 L92.1 132.2 L92.5 128.6 L92.9 133.4 L93.3 134.1 L93.7 132.2 L94.1 136.4 L94.5 137.5 L94.9 136.4 L95.3 133.9 L95.7 130.2 L96.1 127.8 L96.5 129.1 L97.0 128.7 L97.4 129.9 L97.8 128.0 L98.2 124.7 L98.6 122.2 L99.0 123.9 L99.4 123.2 L99.8 122.9 L100.2 126.0 L100.6 125.7 L101.0 124.8 L101.4 123.5 L101.8 118.6 L102.2 124.2 L102.6 114.8 L103.0 118.1 L103.4 117.3 L103.8 124.8 L104.2 122.8 L104.6 132.1 L105.0 139.4 L105.4 145.4 L105.8 154.0 L106.2 156.1 L106.6 160.5 L107.0 162.1 L107.4 164.7 L107.8 165.8 L108.3 166.6 L108.7 169.0 L109.1 168.8 L109.5 172.8 L109.9 172.2 L110.3 175.1 L110.7 178.3 L111.1 178.0 L111.5 180.3 L111.9 183.1 L112.3 183.8 L112.7 184.5 L113.1 186.4 L113.5 187.2 L113.9 187.6 L114.3 187.2 L114.7 187.9 L115.1 187.1 L115.5 185.5 L115.9 186.7 L116.3 187.3 L116.7 188.9 L117.1 187.2 L117.5 187.3 L117.9 186.6 L118.3 187.3 L118.7 188.8 L119.1 189.4 L119.6 188.5 L120.0 187.9 L120.4 188.5 L120.8 187.9 L121.2 187.9 L121.6 188.7 L122.0 188.6 L122.4 188.0 L122.8 189.6 L123.2 188.7 L123.6 189.2 L124.0 188.4 L124.4 188.6 L124.8 187.7 L125.2 189.4 L125.6 189.1 L126.0 186.9 L126.4 185.3 L126.8 183.7 L127.2 185.5 L127.6 185.3 L128.0 186.4 L128.4 185.5 L128.8 184.7 L129.2 183.1 L129.6 185.2 L130.0 185.7 L130.4 187.6 L130.8 187.7 L131.3 187.7 L131.7 187.2 L132.1 186.7 L132.5 187.1 L132.9 186.5 L133.3 187.2 L133.7 186.2 L134.1 185.2 L134.5 184.5 L134.9 183.9 L135.3 184.6 L135.7 186.2 L136.1 187.8 L136.5 187.6 L136.9 187.2 L137.3 187.8 L137.7 186.3 L138.1 187.0 L138.5 188.7 L138.9 186.3 L139.3 187.3 L139.7 187.6 L140.1 187.2 L140.5 186.9 L140.9 186.1 L141.3 186.1 L141.7 185.5 L142.1 186.2 L142.6 185.2 L143.0 186.3 L143.4 187.3 L143.8 187.3 L144.2 187.8 L144.6 188.6 L145.0 187.8 L145.4 188.3 L145.8 188.3 L146.2 187.9 L146.6 188.0 L147.0 187.9 L147.4 187.4 L147.8 188.3 L148.2 188.8 L148.6 188.5 L149.0 188.2 L149.4 187.8 L149.8 186.1 L150.2 186.2 L150.6 186.2 L151.0 183.9 L151.4 185.8 L151.8 187.1 L152.2 189.2 L152.6 188.6 L153.0 189.0 L153.4 188.3 L153.9 188.7 L154.3 188.8 L154.7 187.7 L155.1 189.0 L155.5 188.3 L155.9 186.4 L156.3 187.4 L156.7 186.5 L157.1 185.5 L157.5 183.8 L157.9 180.9 L158.3 182.6 L158.7 184.5 L159.1 183.4 L159.5 179.7 L159.9 176.1 L160.3 174.7 L160.7 178.5 L161.1 182.0 L161.5 180.9 L161.9 178.0 L162.3 177.1 L162.7 174.7 L163.1 176.6 L163.5 179.7 L163.9 179.5 L164.3 177.3 L164.7 176.4 L165.2 180.7 L165.6 183.8 L166.0 185.8 L166.4 186.9 L166.8 187.1 L167.2 187.6 L167.6 186.1 L168.0 184.9 L168.4 183.3 L168.8 182.7 L169.2 181.4 L169.6 180.3 L170.0 182.8 L170.4 183.3 L170.8 185.2 L171.2 186.8 L171.6 188.4 L172.0 186.3 L172.4 186.9 L172.8 187.4 L173.2 186.7 L173.6 186.7 L174.0 185.5 L174.4 185.2 L174.8 183.0 L175.2 181.1 L175.6 181.1 L176.0 179.7 L176.5 177.4 L176.9 177.1 L177.3 174.4 L177.7 172.4 L178.1 173.9 L178.5 172.7 L178.9 174.4 L179.3 173.4 L179.7 172.7 L180.1 170.4 L180.5 171.3 L180.9 170.6 L181.3 171.6 L181.7 171.9 L182.1 168.0 L182.5 170.6 L182.9 166.2 L183.3 166.2 L183.7 165.1 L184.1 164.6 L184.5 159.9 L184.9 156.7 L185.3 158.6 L185.7 156.9 L186.1 154.3 L186.5 155.4 L186.9 149.5 L187.3 153.2 L187.8 157.8 L188.2 159.1 L188.6 159.5 L189.0 153.4 L189.4 154.9 L189.8 152.7 L190.2 161.5 L190.6 159.6 L191.0 159.5 L191.4 159.4 L191.8 157.7 L192.2 160.2 L192.6 162.7 L193.0 163.3 L193.4 164.3 L193.8 166.9 L194.2 169.4 L194.6 172.6 L195.0 175.1 L195.4 176.9 L195.8 177.3 L196.2 178.0 L196.6 180.7 L197.0 182.1 L197.4 183.2 L197.8 186.5 L198.2 187.5 L198.6 186.9 L199.1 187.6 L199.5 186.8 L199.9 186.4 L200.3 188.9 L200.7 189.0 L201.1 189.3 L201.5 189.1 L201.9 189.0 L202.3 188.4 L202.7 189.7 L203.1 189.3 L203.5 189.0 L203.9 189.3 L204.3 189.0 L204.7 189.3 L205.1 188.7 L205.5 188.3 L205.9 186.3 L206.3 186.4 L206.7 186.6 L207.1 186.6 L207.5 185.2 L207.9 186.7 L208.3 188.9 L208.7 188.8 L209.1 187.6 L209.5 186.5 L209.9 183.4 L210.4 181.5 L210.8 177.1 L211.2 177.3 L211.6 179.1 L212.0 181.3 L212.4 182.5 L212.8 183.1 L213.2 180.4 L213.6 181.3 L214.0 183.3 L214.4 183.5 L214.8 184.9 L215.2 185.4 L215.6 185.2 L216.0 186.1 L216.4 185.3 L216.8 186.7 L217.2 184.6 L217.6 184.2 L218.0 183.5 L218.4 182.8 L218.8 182.9 L219.2 180.1 L219.6 176.5 L220.0 174.1 L220.4 176.7 L220.8 178.4 L221.2 181.9 L221.7 184.2 L222.1 185.2 L222.5 185.8 L222.9 188.4 L223.3 188.6 L223.7 186.3 L224.1 186.2 L224.5 185.2 L224.9 185.0 L225.3 185.2 L225.7 185.0 L226.1 184.3 L226.5 184.2 L226.9 184.0 L227.3 182.0 L227.7 181.7 L228.1 182.0 L228.5 178.3 L228.9 177.2 L229.3 174.6 L229.7 173.9 L230.1 171.1 L230.5 169.0 L230.9 167.1 L231.3 165.1 L231.7 161.9 L232.1 160.4 L232.5 159.0 L232.9 158.9 L233.4 160.5 L233.8 157.6 L234.2 155.9 L234.6 148.9 L235.0 152.7 L235.4 149.8 L235.8 153.8 L236.2 157.5 L236.6 150.1 L237.0 148.7 L237.4 144.4 L237.8 143.0 L238.2 149.0 L238.6 150.9 L239.0 141.5 L239.4 143.1 L239.8 140.7 L240.2 142.9 L240.6 144.4 L241.0 148.8 L241.4 149.6 L241.8 155.1 L242.2 155.7 L242.6 159.8 L243.0 160.0 L243.4 164.2 L243.8 169.6 L244.2 171.2 L244.7 173.0 L245.1 174.5 L245.5 177.0 L245.9 179.0 L246.3 180.8 L246.7 181.6 L247.1 182.9 L247.5 183.7 L247.9 184.9 L248.3 183.3 L248.7 182.8 L249.1 184.6 L249.5 185.2 L249.9 186.2 L250.3 185.8 L250.7 185.6 L251.1 185.8 L251.5 186.1 L251.9 185.7 L252.3 187.1 L252.7 187.3 L253.1 187.1 L253.5 188.8 L253.9 189.1 L254.3 189.8 L254.7 190.2 L255.1 190.2 L255.5 190.0 L256.0 190.2 L256.4 190.2 L256.8 190.2 L257.2 190.2 L257.6 190.2 L258.0 189.9 L258.4 190.2 L258.8 190.2 L259.2 188.3 L259.6 188.7 L260.0 188.6 L260.4 187.6 L260.8 186.7 L261.2 187.7 L261.6 185.7 L262.0 183.8 L262.4 185.1 L262.8 184.7 L263.2 187.6 L263.6 187.5 L264.0 188.3 L264.4 189.3 L264.8 189.1 L265.2 188.8 L265.6 189.0 L266.0 190.2 L266.4 189.9 L266.8 188.9 L267.3 189.2 L267.7 188.5 L268.1 188.0 L268.5 185.6 L268.9 185.8 L269.3 185.8 L269.7 184.9 L270.1 184.2 L270.5 181.2 L270.9 182.7 L271.3 182.5 L271.7 183.6 L272.1 180.6 L272.5 180.7 L272.9 180.0 L273.3 179.5 L273.7 177.2 L274.1 178.0 L274.5 175.9 L274.9 176.5 L275.3 177.0 L275.7 178.8 L276.1 179.0 L276.5 177.9 L276.9 179.7 L277.3 178.4 L277.7 176.4 L278.1 175.9 L278.6 175.6 L279.0 172.9 L279.4 173.0 L279.8 172.6 L280.2 171.4 L280.6 169.2 L281.0 168.0 L281.4 172.8 L281.8 173.0 L282.2 172.0 L282.6 170.9 L283.0 170.9 L283.4 171.8 L283.8 172.9 L284.2 174.6 L284.6 175.5 L285.0 176.4 L285.4 176.0 L285.8 176.8 L286.2 174.2 L286.6 174.7 L287.0 171.4 L287.4 171.3 L287.8 171.7 L288.2 170.0 L288.6 168.5 L289.0 170.1 L289.4 171.0 L289.9 169.7 L290.3 169.7 L290.7 169.3 L291.1 167.8 L291.5 169.3 L291.9 170.8 L292.3 171.2 L292.7 170.9 L293.1 170.2 L293.5 169.7 L293.9 171.2 L294.3 172.1 L294.7 172.2 L295.1 171.9 L295.5 169.9 L295.9 172.3 L296.3 173.9 L296.7 174.1 L297.1 174.2 L297.5 173.9 L297.9 172.9 L298.3 176.7 L298.7 173.9 L299.1 177.7 L299.5 178.1 L299.9 181.9 L300.3 183.7 L300.7 179.5 L301.2 181.0 L301.6 182.0 L302.0 182.6 L302.4 184.4 L302.8 184.6 L303.2 188.4 L303.6 190.1 L304.0 188.8 L304.4 187.2 L304.8 186.7 L305.2 184.4 L305.6 183.2 L306.0 180.8 L306.4 176.9 L306.8 176.3 L307.2 176.0 L307.6 178.1 L308.0 178.3 L308.4 179.1 L308.8 178.8 L309.2 177.6 L309.6 179.4 L310.0 181.1 L310.4 180.0 L310.8 178.1 L311.2 179.1 L311.6 178.5 L312.0 176.4 L312.5 174.7 L312.9 171.7 L313.3 169.9 L313.7 170.1 L314.1 166.4 L314.5 163.6 L314.9 163.0 L315.3 168.2 L315.7 169.7 L316.1 169.1 L316.5 166.0 L316.9 162.3 L317.3 156.0 L317.7 161.5 L318.1 162.8 L318.5 164.4 L318.9 165.9 L319.3 161.8 L319.7 161.8 L320.1 162.3 L320.5 162.7 L320.9 163.4 L321.3 160.4 L321.7 157.1 L322.1 155.1 L322.5 155.2 L322.9 154.7 L323.3 153.8 L323.8 151.5 L324.2 150.0 L324.6 152.8 L325.0 155.8 L325.4 160.3 L325.8 156.6 L326.2 157.8 L326.6 158.4 L327.0 163.2 L327.4 167.2 L327.8 171.1 L328.2 174.7 L328.6 176.2 L329.0 177.0 L329.4 175.6" fill="none" stroke="#4389e8" stroke-width="0.62" stroke-linejoin="round"/>
<line x1="66.86" y1="107.6" x2="66.86" y2="190.5" stroke="#888" stroke-opacity="0.35" stroke-width="0.3"/>
<line x1="110.61" y1="107.6" x2="110.61" y2="190.5" stroke="#888" stroke-opacity="0.35" stroke-width="0.3"/>
<line x1="154.37" y1="107.6" x2="154.37" y2="190.5" stroke="#888" stroke-opacity="0.35" stroke-width="0.3"/>
<line x1="198.13" y1="107.6" x2="198.13" y2="190.5" stroke="#888" stroke-opacity="0.35" stroke-width="0.3"/>
<line x1="241.89" y1="107.6" x2="241.89" y2="190.5" stroke="#888" stroke-opacity="0.35" stroke-width="0.3"/>
<line x1="285.64" y1="107.6" x2="285.64" y2="190.5" stroke="#888" stroke-opacity="0.35" stroke-width="0.3"/>
<rect x="23.1" y="107.6" width="306.3" height="82.9" fill="none" stroke="#a8a8a8" stroke-width="0.4"/>
<text x="22.3" y="108.4" font-size="2.25" font-weight="bold" fill="#111" text-anchor="end" stroke="#111" stroke-width="0.1">1600</text>
<text x="22.3" y="118.76" font-size="2.25" font-weight="bold" fill="#111" text-anchor="end" stroke="#111" stroke-width="0.1">1400</text>
<text x="22.3" y="129.12" font-size="2.25" font-weight="bold" fill="#111" text-anchor="end" stroke="#111" stroke-width="0.1">1200</text>
<text x="22.3" y="139.49" font-size="2.25" font-weight="bold" fill="#111" text-anchor="end" stroke="#111" stroke-width="0.1">1000</text>
<text x="22.3" y="149.85" font-size="2.25" font-weight="bold" fill="#111" text-anchor="end" stroke="#111" stroke-width="0.1">800</text>
<text x="22.3" y="160.21" font-size="2.25" font-weight="bold" fill="#111" text-anchor="end" stroke="#111" stroke-width="0.1">600</text>
<text x="22.3" y="170.58" font-size="2.25" font-weight="bold" fill="#111" text-anchor="end" stroke="#111" stroke-width="0.1">400</text>
<text x="22.3" y="180.94" font-size="2.25" font-weight="bold" fill="#111" text-anchor="end" stroke="#111" stroke-width="0.1">200</text>
<text x="22.3" y="191.3" font-size="2.25" font-weight="bold" fill="#111" text-anchor="end" stroke="#111" stroke-width="0.1">0</text>
<text x="16.2" y="148.85" font-size="5.4" font-weight="bold" fill="#000" text-anchor="middle" transform="rotate(-90 16.2 148.85)">Wind Power (KW)</text>
<rect x="260.7" y="107.9" width="68.5" height="5.3" fill="#fff" stroke="#bbb" stroke-width="0.3"/>
<rect x="261.9" y="109.7" width="4.2" height="1.5" fill="#a9a6e7"/>
<text x="266.9" y="111.2" font-size="2.35" font-weight="bold" fill="#222" text-anchor="start" stroke="#222" stroke-width="0.1">Actual Data</text>
<line x1="280.7" y1="110.5" x2="285" y2="110.5" stroke="#7fd49c" stroke-width="0.45"/>
<text x="285.4" y="111.3" font-size="2.8" font-weight="bold" fill="#222" text-anchor="start" stroke="#222" stroke-width="0.1">CM<tspan font-size="2" dy="0.6">1</tspan></text>
<line x1="292.9" y1="110.5" x2="297.2" y2="110.5" stroke="#f09a88" stroke-width="0.45"/>
<text x="297.6" y="111.3" font-size="2.8" font-weight="bold" fill="#222" text-anchor="start" stroke="#222" stroke-width="0.1">CM<tspan font-size="2" dy="0.6">2</tspan></text>
<line x1="305.1" y1="110.5" x2="309.4" y2="110.5" stroke="#f0cc66" stroke-width="0.45"/>
<text x="309.8" y="111.3" font-size="2.8" font-weight="bold" fill="#222" text-anchor="start" stroke="#222" stroke-width="0.1">CM<tspan font-size="2" dy="0.6">3</tspan></text>
<line x1="317.3" y1="110.5" x2="321.6" y2="110.5" stroke="#92b8f0" stroke-width="0.45"/>
<text x="322" y="111.3" font-size="2.8" font-weight="bold" fill="#222" text-anchor="start" stroke="#222" stroke-width="0.1">CM<tspan font-size="2" dy="0.6">4</tspan></text>
<rect x="21" y="385.7" width="310" height="83.5" fill="#fff" stroke="none"/>
<line x1="65.29" y1="385.7" x2="65.29" y2="469.2" stroke="#dcdcdc" stroke-width="0.3"/>
<line x1="109.57" y1="385.7" x2="109.57" y2="469.2" stroke="#dcdcdc" stroke-width="0.3"/>
<line x1="153.86" y1="385.7" x2="153.86" y2="469.2" stroke="#dcdcdc" stroke-width="0.3"/>
<line x1="198.14" y1="385.7" x2="198.14" y2="469.2" stroke="#dcdcdc" stroke-width="0.3"/>
<line x1="242.43" y1="385.7" x2="242.43" y2="469.2" stroke="#dcdcdc" stroke-width="0.3"/>
<line x1="286.71" y1="385.7" x2="286.71" y2="469.2" stroke="#dcdcdc" stroke-width="0.3"/>
<line x1="21" y1="397.63" x2="331" y2="397.63" stroke="#dcdcdc" stroke-width="0.3"/>
<line x1="21" y1="409.56" x2="331" y2="409.56" stroke="#dcdcdc" stroke-width="0.3"/>
<line x1="21" y1="421.49" x2="331" y2="421.49" stroke="#dcdcdc" stroke-width="0.3"/>
<line x1="21" y1="433.41" x2="331" y2="433.41" stroke="#dcdcdc" stroke-width="0.3"/>
<line x1="21" y1="445.34" x2="331" y2="445.34" stroke="#dcdcdc" stroke-width="0.3"/>
<line x1="21" y1="457.27" x2="331" y2="457.27" stroke="#dcdcdc" stroke-width="0.3"/>
<path d="M21 469.2 L21.0 457.2 L21.5 457.7 L21.9 456.9 L22.4 453.1 L22.8 443.1 L23.3 406.2 L23.7 407.7 L24.2 429.6 L24.7 425.1 L25.1 424.3 L25.6 427.2 L26.0 427.2 L26.5 423.4 L26.9 426.1 L27.4 430.8 L27.8 443.4 L28.3 429.8 L28.8 421.7 L29.2 428.9 L29.7 431.0 L30.1 429.4 L30.6 427.4 L31.0 433.0 L31.5 449.0 L32.0 437.7 L32.4 446.9 L32.9 438.0 L33.3 444.1 L33.8 447.4 L34.2 441.6 L34.7 439.0 L35.2 430.9 L35.6 438.1 L36.1 431.3 L36.5 431.6 L37.0 429.1 L37.4 424.7 L37.9 419.0 L38.3 424.4 L38.8 424.9 L39.3 432.1 L39.7 438.4 L40.2 438.5 L40.6 425.1 L41.1 432.7 L41.5 435.1 L42.0 426.0 L42.5 423.5 L42.9 431.9 L43.4 435.3 L43.8 437.7 L44.3 437.5 L44.7 444.1 L45.2 450.1 L45.7 439.1 L46.1 447.1 L46.6 447.1 L47.0 455.3 L47.5 449.6 L47.9 447.7 L48.4 439.7 L48.8 438.1 L49.3 443.1 L49.8 443.6 L50.2 440.4 L50.7 452.7 L51.1 449.8 L51.6 437.8 L52.0 430.6 L52.5 420.6 L53.0 437.3 L53.4 439.3 L53.9 433.8 L54.3 429.9 L54.8 437.8 L55.2 438.8 L55.7 448.7 L56.2 445.0 L56.6 434.5 L57.1 427.5 L57.5 432.3 L58.0 434.1 L58.4 427.9 L58.9 426.9 L59.4 437.5 L59.8 428.6 L60.3 430.5 L60.7 420.7 L61.2 429.5 L61.6 428.7 L62.1 435.0 L62.5 422.2 L63.0 426.3 L63.5 425.5 L63.9 430.8 L64.4 423.7 L64.8 437.1 L65.3 441.2 L65.7 422.6 L66.2 430.4 L66.7 420.5 L67.1 441.3 L67.6 446.2 L68.0 446.0 L68.5 440.1 L68.9 432.1 L69.4 431.0 L69.9 438.9 L70.3 420.5 L70.8 426.4 L71.2 416.0 L71.7 430.1 L72.1 436.1 L72.6 423.7 L73.0 439.0 L73.5 433.0 L74.0 427.4 L74.4 440.6 L74.9 435.0 L75.3 441.5 L75.8 441.4 L76.2 438.7 L76.7 439.8 L77.2 432.8 L77.6 440.9 L78.1 439.4 L78.5 444.8 L79.0 430.2 L79.4 428.9 L79.9 423.0 L80.4 426.1 L80.8 435.1 L81.3 438.5 L81.7 442.2 L82.2 435.4 L82.6 430.5 L83.1 428.8 L83.5 430.7 L84.0 440.0 L84.5 434.0 L84.9 434.7 L85.4 425.9 L85.8 439.2 L86.3 430.1 L86.7 418.4 L87.2 436.1 L87.7 435.6 L88.1 443.7 L88.6 441.2 L89.0 444.0 L89.5 431.6 L89.9 434.8 L90.4 424.2 L90.9 416.5 L91.3 434.3 L91.8 418.9 L92.2 414.7 L92.7 415.3 L93.1 419.5 L93.6 417.3 L94.0 428.3 L94.5 410.3 L95.0 421.7 L95.4 424.4 L95.9 415.1 L96.3 411.8 L96.8 428.9 L97.2 407.4 L97.7 445.0 L98.2 416.6 L98.6 421.0 L99.1 428.5 L99.5 448.8 L100.0 431.8 L100.4 423.7 L100.9 425.3 L101.4 433.1 L101.8 429.5 L102.3 431.7 L102.7 422.0 L103.2 419.8 L103.6 436.0 L104.1 416.6 L104.5 431.0 L105.0 415.1 L105.5 429.6 L105.9 432.0 L106.4 468.8 L106.8 418.3 L107.3 414.5 L107.7 428.6 L108.2 433.8 L108.7 431.7 L109.1 431.7 L109.6 437.1 L110.0 441.5 L110.5 449.8 L110.9 444.7 L111.4 451.8 L111.9 449.3 L112.3 451.8 L112.8 447.0 L113.2 454.1 L113.7 456.1 L114.1 456.6 L114.6 453.0 L115.1 454.2 L115.5 456.2 L116.0 456.2 L116.4 455.4 L116.9 462.4 L117.3 458.3 L117.8 457.7 L118.2 458.2 L118.7 459.7 L119.2 455.5 L119.6 451.3 L120.1 457.4 L120.5 456.4 L121.0 455.2 L121.4 456.4 L121.9 453.4 L122.4 454.5 L122.8 456.1 L123.3 458.4 L123.7 454.9 L124.2 456.6 L124.6 454.7 L125.1 457.7 L125.6 451.4 L126.0 454.4 L126.5 453.8 L126.9 453.2 L127.4 457.1 L127.8 456.3 L128.3 456.2 L128.7 457.6 L129.2 453.9 L129.7 457.5 L130.1 450.7 L130.6 456.9 L131.0 451.1 L131.5 450.3 L131.9 454.4 L132.4 453.3 L132.9 454.2 L133.3 453.9 L133.8 458.3 L134.2 454.8 L134.7 453.1 L135.1 454.4 L135.6 456.6 L136.1 462.0 L136.5 454.7 L137.0 458.5 L137.4 453.0 L137.9 455.6 L138.3 455.4 L138.8 456.3 L139.2 454.1 L139.7 454.5 L140.2 453.7 L140.6 455.0 L141.1 456.8 L141.5 455.9 L142.0 456.4 L142.4 455.9 L142.9 457.5 L143.4 450.0 L143.8 454.6 L144.3 458.3 L144.7 456.5 L145.2 457.8 L145.6 458.5 L146.1 455.6 L146.6 459.6 L147.0 455.0 L147.5 455.9 L147.9 455.6 L148.4 455.2 L148.8 448.5 L149.3 448.3 L149.7 453.0 L150.2 452.1 L150.7 447.4 L151.1 451.6 L151.6 453.8 L152.0 453.4 L152.5 457.4 L152.9 456.4 L153.4 460.4 L153.9 456.6 L154.3 460.0 L154.8 456.3 L155.2 451.7 L155.7 455.1 L156.1 452.5 L156.6 455.1 L157.1 456.1 L157.5 456.1 L158.0 453.8 L158.4 443.3 L158.9 446.4 L159.3 450.7 L159.8 436.4 L160.2 448.3 L160.7 434.6 L161.2 436.3 L161.6 442.9 L162.1 442.6 L162.5 439.8 L163.0 441.0 L163.4 435.8 L163.9 436.5 L164.4 438.1 L164.8 445.2 L165.3 444.9 L165.7 446.0 L166.2 444.4 L166.6 448.3 L167.1 454.9 L167.6 452.4 L168.0 450.8 L168.5 450.5 L168.9 451.5 L169.4 455.4 L169.8 450.5 L170.3 454.1 L170.7 453.8 L171.2 447.5 L171.7 451.1 L172.1 456.1 L172.6 455.2 L173.0 456.1 L173.5 456.1 L173.9 459.3 L174.4 456.1 L174.9 455.9 L175.3 453.2 L175.8 451.7 L176.2 452.3 L176.7 445.9 L177.1 440.3 L177.6 447.1 L178.1 440.4 L178.5 444.5 L179.0 450.0 L179.4 441.3 L179.9 437.0 L180.3 439.2 L180.8 429.3 L181.3 428.2 L181.7 433.5 L182.2 451.7 L182.6 434.8 L183.1 428.8 L183.5 435.9 L184.0 443.3 L184.4 432.4 L184.9 432.9 L185.4 442.4 L185.8 430.3 L186.3 432.2 L186.7 429.7 L187.2 411.2 L187.6 427.1 L188.1 430.7 L188.6 426.4 L189.0 429.7 L189.5 419.3 L189.9 424.2 L190.4 429.8 L190.8 423.0 L191.3 435.1 L191.8 437.3 L192.2 429.9 L192.7 436.3 L193.1 429.8 L193.6 441.5 L194.0 434.1 L194.5 437.5 L194.9 442.1 L195.4 441.2 L195.9 444.4 L196.3 445.9 L196.8 446.6 L197.2 446.2 L197.7 443.2 L198.1 452.9 L198.6 450.9 L199.1 451.1 L199.5 457.9 L200.0 455.6 L200.4 456.9 L200.9 458.3 L201.3 456.7 L201.8 457.9 L202.3 461.5 L202.7 459.7 L203.2 461.9 L203.6 460.1 L204.1 459.3 L204.5 460.6 L205.0 459.9 L205.4 458.0 L205.9 458.2 L206.4 458.3 L206.8 457.7 L207.3 456.1 L207.7 449.6 L208.2 451.2 L208.6 447.8 L209.1 452.2 L209.6 457.7 L210.0 457.0 L210.5 453.1 L210.9 456.3 L211.4 453.8 L211.8 450.0 L212.3 451.6 L212.8 437.7 L213.2 443.5 L213.7 450.7 L214.1 445.9 L214.6 452.2 L215.0 457.6 L215.5 453.3 L215.9 449.8 L216.4 457.4 L216.9 453.5 L217.3 458.2 L217.8 456.8 L218.2 454.7 L218.7 452.6 L219.1 455.6 L219.6 449.8 L220.1 447.4 L220.5 448.7 L221.0 445.9 L221.4 448.4 L221.9 447.2 L222.3 457.7 L222.8 450.8 L223.3 454.2 L223.7 456.5 L224.2 454.0 L224.6 459.1 L225.1 457.9 L225.5 455.6 L226.0 461.9 L226.4 454.7 L226.9 452.8 L227.4 450.3 L227.8 446.9 L228.3 446.5 L228.7 445.2 L229.2 454.5 L229.6 449.0 L230.1 451.3 L230.6 437.9 L231.0 442.6 L231.5 445.0 L231.9 435.1 L232.4 446.6 L232.8 441.8 L233.3 429.3 L233.8 438.3 L234.2 439.0 L234.7 419.8 L235.1 439.6 L235.6 433.5 L236.0 432.6 L236.5 430.4 L236.9 440.8 L237.4 424.2 L237.9 418.5 L238.3 422.7 L238.8 425.5 L239.2 443.2 L239.7 424.3 L240.1 427.7 L240.6 423.8 L241.1 434.8 L241.5 425.1 L242.0 433.0 L242.4 430.2 L242.9 424.1 L243.3 437.4 L243.8 435.2 L244.3 435.6 L244.7 433.9 L245.2 437.5 L245.6 438.4 L246.1 447.1 L246.5 443.3 L247.0 448.1 L247.5 450.2 L247.9 450.5 L248.4 451.5 L248.8 454.5 L249.3 454.7 L249.7 451.5 L250.2 454.7 L250.6 458.1 L251.1 450.2 L251.6 452.2 L252.0 453.9 L252.5 450.7 L252.9 457.7 L253.4 453.9 L253.8 455.7 L254.3 455.0 L254.8 453.7 L255.2 458.6 L255.7 458.9 L256.1 458.8 L256.6 461.9 L257.0 462.1 L257.5 461.1 L258.0 459.9 L258.4 460.3 L258.9 459.5 L259.3 460.4 L259.8 460.9 L260.2 458.2 L260.7 459.2 L261.1 457.1 L261.6 461.5 L262.1 456.2 L262.5 455.8 L263.0 453.7 L263.4 452.0 L263.9 448.5 L264.3 453.5 L264.8 457.4 L265.3 452.9 L265.7 456.9 L266.2 451.1 L266.6 453.9 L267.1 450.4 L267.5 454.4 L268.0 452.3 L268.5 451.0 L268.9 447.1 L269.4 446.3 L269.8 450.8 L270.3 447.2 L270.7 454.3 L271.2 449.7 L271.6 451.1 L272.1 452.9 L272.6 451.0 L273.0 451.7 L273.5 452.4 L273.9 449.0 L274.4 450.1 L274.8 446.8 L275.3 450.9 L275.8 447.7 L276.2 443.2 L276.7 440.8 L277.1 440.3 L277.6 441.3 L278.0 448.4 L278.5 441.5 L279.0 440.5 L279.4 452.4 L279.9 442.6 L280.3 440.6 L280.8 436.7 L281.2 447.8 L281.7 444.7 L282.1 431.4 L282.6 422.5 L283.1 428.3 L283.5 420.7 L284.0 435.2 L284.4 438.8 L284.9 441.4 L285.3 438.4 L285.8 446.5 L286.3 446.5 L286.7 449.1 L287.2 442.9 L287.6 443.5 L288.1 442.5 L288.5 437.3 L289.0 436.8 L289.5 446.6 L289.9 445.8 L290.4 447.0 L290.8 444.1 L291.3 442.1 L291.7 444.2 L292.2 440.1 L292.6 431.4 L293.1 443.7 L293.6 445.0 L294.0 431.1 L294.5 436.1 L294.9 428.9 L295.4 435.1 L295.8 434.7 L296.3 446.9 L296.8 440.7 L297.2 434.3 L297.7 441.8 L298.1 439.8 L298.6 447.8 L299.0 437.3 L299.5 442.4 L300.0 432.8 L300.4 441.1 L300.9 441.8 L301.3 439.8 L301.8 443.3 L302.2 443.7 L302.7 440.3 L303.2 444.3 L303.6 448.8 L304.1 448.8 L304.5 450.9 L305.0 442.5 L305.4 451.0 L305.9 451.3 L306.3 450.4 L306.8 453.6 L307.3 459.3 L307.7 455.5 L308.2 453.5 L308.6 450.3 L309.1 451.4 L309.5 449.4 L310.0 447.0 L310.5 436.9 L310.9 455.0 L311.4 447.7 L311.8 444.5 L312.3 441.3 L312.7 448.4 L313.2 443.4 L313.7 445.8 L314.1 445.2 L314.6 439.9 L315.0 438.2 L315.5 440.9 L315.9 442.9 L316.4 434.4 L316.8 443.4 L317.3 439.0 L317.8 436.6 L318.2 438.4 L318.7 440.3 L319.1 438.9 L319.6 439.1 L320.0 428.0 L320.5 437.7 L321.0 437.7 L321.4 439.5 L321.9 436.6 L322.3 435.7 L322.8 431.2 L323.2 435.4 L323.7 425.4 L324.2 432.9 L324.6 429.7 L325.1 429.2 L325.5 439.3 L326.0 424.0 L326.4 435.3 L326.9 423.1 L327.3 433.7 L327.8 431.9 L328.3 439.5 L328.7 433.0 L329.2 441.2 L329.6 438.3 L330.1 440.9 L330.5 443.5 L331.0 444.1 L331 469.2 Z" fill="#a9a6e7" stroke="none"/>
<line x1="65.29" y1="385.7" x2="65.29" y2="469.2" stroke="#888" stroke-opacity="0.35" stroke-width="0.3"/>
<line x1="109.57" y1="385.7" x2="109.57" y2="469.2" stroke="#888" stroke-opacity="0.35" stroke-width="0.3"/>
<line x1="153.86" y1="385.7" x2="153.86" y2="469.2" stroke="#888" stroke-opacity="0.35" stroke-width="0.3"/>
<line x1="198.14" y1="385.7" x2="198.14" y2="469.2" stroke="#888" stroke-opacity="0.35" stroke-width="0.3"/>
<line x1="242.43" y1="385.7" x2="242.43" y2="469.2" stroke="#888" stroke-opacity="0.35" stroke-width="0.3"/>
<line x1="286.71" y1="385.7" x2="286.71" y2="469.2" stroke="#888" stroke-opacity="0.35" stroke-width="0.3"/>
<path d="M21.0 456.1 L21.5 453.4 L21.9 457.3 L22.4 451.1 L22.8 441.2 L23.3 393.0 L23.7 409.4 L24.2 430.6 L24.7 421.4 L25.1 424.7 L25.6 425.9 L26.0 430.5 L26.5 417.6 L26.9 427.6 L27.4 428.4 L27.8 436.7 L28.3 427.0 L28.8 427.7 L29.2 422.6 L29.7 425.9 L30.1 421.9 L30.6 431.3 L31.0 437.0 L31.5 452.1 L32.0 434.7 L32.4 439.3 L32.9 438.1 L33.3 443.6 L33.8 442.9 L34.2 438.5 L34.7 438.0 L35.2 431.4 L35.6 433.5 L36.1 436.8 L36.5 435.8 L37.0 436.0 L37.4 420.9 L37.9 415.5 L38.3 413.4 L38.8 428.4 L39.3 443.2 L39.7 436.1 L40.2 425.1 L40.6 427.5 L41.1 428.8 L41.5 431.2 L42.0 427.4 L42.5 437.4 L42.9 438.3 L43.4 432.5 L43.8 437.3 L44.3 436.3 L44.7 446.5 L45.2 449.3 L45.7 439.4 L46.1 445.8 L46.6 443.4 L47.0 454.0 L47.5 450.4 L47.9 439.5 L48.4 443.0 L48.8 441.3 L49.3 437.6 L49.8 442.0 L50.2 443.2 L50.7 451.2 L51.1 451.4 L51.6 437.8 L52.0 431.6 L52.5 420.2 L53.0 431.5 L53.4 446.1 L53.9 435.5 L54.3 426.3 L54.8 443.1 L55.2 439.4 L55.7 421.5 L56.2 443.0 L56.6 434.0 L57.1 437.0 L57.5 432.9 L58.0 436.0 L58.4 422.8 L58.9 428.7 L59.4 436.6 L59.8 435.9 L60.3 428.7 L60.7 427.1 L61.2 435.6 L61.6 419.7 L62.1 428.6 L62.5 422.2 L63.0 433.5 L63.5 424.7 L63.9 429.2 L64.4 435.7 L64.8 422.0 L65.3 436.9 L65.7 427.6 L66.2 423.1 L66.7 419.1 L67.1 429.5 L67.6 445.9 L68.0 440.3 L68.5 432.3 L68.9 427.3 L69.4 425.9 L69.9 429.8 L70.3 415.1 L70.8 413.9 L71.2 420.8 L71.7 432.5 L72.1 424.5 L72.6 420.1 L73.0 439.9 L73.5 440.2 L74.0 435.1 L74.4 437.5 L74.9 428.6 L75.3 437.8 L75.8 439.3 L76.2 436.8 L76.7 435.7 L77.2 429.4 L77.6 435.0 L78.1 437.8 L78.5 436.1 L79.0 429.7 L79.4 434.4 L79.9 427.3 L80.4 423.7 L80.8 431.7 L81.3 436.0 L81.7 446.9 L82.2 432.5 L82.6 426.7 L83.1 429.5 L83.5 427.4 L84.0 434.1 L84.5 433.7 L84.9 433.7 L85.4 430.3 L85.8 437.4 L86.3 427.2 L86.7 418.3 L87.2 435.5 L87.7 437.4 L88.1 445.7 L88.6 441.0 L89.0 436.9 L89.5 427.5 L89.9 423.6 L90.4 422.2 L90.9 427.6 L91.3 424.3 L91.8 417.6 L92.2 406.7 L92.7 414.1 L93.1 417.0 L93.6 427.7 L94.0 414.8 L94.5 424.6 L95.0 420.6 L95.4 427.3 L95.9 421.1 L96.3 414.5 L96.8 431.9 L97.2 406.0 L97.7 442.1 L98.2 409.8 L98.6 408.0 L99.1 425.7 L99.5 440.2 L100.0 424.9 L100.4 430.5 L100.9 427.0 L101.4 436.3 L101.8 431.5 L102.3 454.2 L102.7 427.3 L103.2 427.1 L103.6 432.7 L104.1 422.0 L104.5 429.8 L105.0 419.5 L105.5 436.9 L105.9 437.5 L106.4 412.6 L106.8 411.9 L107.3 411.9 L107.7 430.8 L108.2 442.8 L108.7 435.5 L109.1 434.7 L109.6 437.8 L110.0 438.6 L110.5 449.2 L110.9 449.3 L111.4 450.5 L111.9 450.6 L112.3 455.5 L112.8 446.8 L113.2 456.7 L113.7 454.8 L114.1 456.4 L114.6 455.1 L115.1 452.0 L115.5 457.8 L116.0 456.8 L116.4 457.0 L116.9 456.6 L117.3 457.0 L117.8 456.5 L118.2 457.5 L118.7 458.8 L119.2 454.4 L119.6 452.2 L120.1 461.8 L120.5 455.3 L121.0 452.1 L121.4 453.7 L121.9 455.2 L122.4 454.0 L122.8 458.4 L123.3 456.9 L123.7 455.9 L124.2 457.5 L124.6 454.8 L125.1 455.0 L125.6 450.0 L126.0 455.3 L126.5 451.5 L126.9 450.1 L127.4 457.0 L127.8 458.6 L128.3 457.2 L128.7 456.3 L129.2 452.2 L129.7 454.7 L130.1 451.7 L130.6 453.9 L131.0 449.6 L131.5 458.4 L131.9 449.4 L132.4 450.3 L132.9 453.4 L133.3 457.6 L133.8 455.2 L134.2 454.3 L134.7 450.4 L135.1 457.1 L135.6 457.8 L136.1 460.1 L136.5 451.2 L137.0 457.6 L137.4 452.4 L137.9 453.8 L138.3 452.3 L138.8 452.6 L139.2 450.3 L139.7 453.5 L140.2 452.8 L140.6 455.8 L141.1 458.8 L141.5 454.0 L142.0 456.3 L142.4 457.2 L142.9 454.2 L143.4 450.8 L143.8 455.2 L144.3 454.0 L144.7 457.4 L145.2 458.3 L145.6 458.4 L146.1 456.1 L146.6 457.7 L147.0 452.2 L147.5 456.9 L147.9 453.5 L148.4 457.7 L148.8 450.2 L149.3 450.4 L149.7 449.8 L150.2 451.6 L150.7 450.9 L151.1 449.9 L151.6 452.2 L152.0 453.4 L152.5 457.2 L152.9 456.8 L153.4 458.7 L153.9 456.6 L154.3 457.8 L154.8 454.8 L155.2 453.1 L155.7 453.3 L156.1 453.4 L156.6 453.3 L157.1 452.5 L157.5 451.4 L158.0 448.8 L158.4 441.2 L158.9 450.7 L159.3 453.6 L159.8 438.9 L160.2 448.9 L160.7 436.3 L161.2 441.2 L161.6 438.7 L162.1 443.2 L162.5 434.8 L163.0 432.4 L163.4 429.1 L163.9 438.2 L164.4 439.1 L164.8 447.4 L165.3 447.8 L165.7 443.7 L166.2 449.6 L166.6 442.1 L167.1 451.7 L167.6 452.0 L168.0 452.1 L168.5 448.9 L168.9 451.8 L169.4 456.4 L169.8 451.0 L170.3 453.5 L170.7 453.1 L171.2 447.6 L171.7 453.7 L172.1 457.3 L172.6 455.5 L173.0 455.0 L173.5 455.8 L173.9 458.2 L174.4 453.1 L174.9 453.0 L175.3 452.8 L175.8 453.3 L176.2 449.3 L176.7 444.8 L177.1 443.4 L177.6 453.4 L178.1 444.6 L178.5 436.6 L179.0 442.6 L179.4 442.3 L179.9 440.2 L180.3 438.6 L180.8 435.5 L181.3 432.8 L181.7 439.4 L182.2 441.6 L182.6 434.1 L183.1 432.2 L183.5 432.7 L184.0 451.0 L184.4 435.4 L184.9 427.0 L185.4 431.6 L185.8 426.9 L186.3 437.0 L186.7 426.3 L187.2 414.5 L187.6 432.6 L188.1 433.4 L188.6 428.1 L189.0 426.1 L189.5 418.8 L189.9 428.1 L190.4 426.3 L190.8 423.3 L191.3 426.4 L191.8 434.4 L192.2 433.6 L192.7 439.8 L193.1 433.5 L193.6 435.1 L194.0 434.9 L194.5 428.4 L194.9 447.4 L195.4 436.3 L195.9 432.0 L196.3 445.4 L196.8 439.9 L197.2 448.5 L197.7 448.7 L198.1 449.9 L198.6 449.3 L199.1 451.5 L199.5 455.3 L200.0 452.6 L200.4 455.1 L200.9 457.3 L201.3 456.3 L201.8 457.5 L202.3 457.5 L202.7 458.1 L203.2 459.8 L203.6 459.3 L204.1 460.3 L204.5 458.9 L205.0 457.0 L205.4 456.9 L205.9 457.1 L206.4 457.3 L206.8 457.5 L207.3 454.7 L207.7 449.1 L208.2 451.9 L208.6 447.3 L209.1 451.7 L209.6 458.2 L210.0 454.2 L210.5 454.2 L210.9 456.9 L211.4 452.8 L211.8 448.3 L212.3 449.4 L212.8 434.6 L213.2 442.8 L213.7 448.5 L214.1 450.1 L214.6 450.9 L215.0 452.3 L215.5 454.0 L215.9 451.7 L216.4 456.0 L216.9 452.6 L217.3 456.1 L217.8 452.6 L218.2 454.3 L218.7 451.8 L219.1 454.3 L219.6 449.7 L220.1 447.4 L220.5 444.2 L221.0 446.6 L221.4 447.9 L221.9 450.4 L222.3 454.0 L222.8 452.0 L223.3 454.4 L223.7 455.4 L224.2 455.3 L224.6 457.3 L225.1 457.5 L225.5 456.3 L226.0 455.5 L226.4 457.2 L226.9 449.5 L227.4 449.0 L227.8 449.5 L228.3 449.3 L228.7 444.8 L229.2 455.5 L229.6 445.2 L230.1 448.3 L230.6 444.5 L231.0 438.9 L231.5 448.7 L231.9 442.3 L232.4 450.1 L232.8 443.1 L233.3 427.3 L233.8 438.4 L234.2 434.0 L234.7 433.1 L235.1 437.7 L235.6 434.2 L236.0 437.1 L236.5 422.8 L236.9 427.8 L237.4 430.7 L237.9 416.8 L238.3 418.2 L238.8 426.1 L239.2 426.3 L239.7 435.7 L240.1 420.9 L240.6 420.3 L241.1 435.0 L241.5 415.8 L242.0 432.5 L242.4 440.1 L242.9 428.9 L243.3 432.4 L243.8 427.1 L244.3 431.9 L244.7 424.9 L245.2 432.3 L245.6 439.8 L246.1 441.0 L246.5 448.5 L247.0 443.2 L247.5 451.3 L247.9 452.4 L248.4 450.7 L248.8 459.4 L249.3 453.0 L249.7 449.4 L250.2 451.2 L250.6 453.7 L251.1 450.3 L251.6 449.1 L252.0 454.7 L252.5 450.4 L252.9 456.7 L253.4 454.8 L253.8 454.6 L254.3 455.4 L254.8 454.5 L255.2 458.0 L255.7 458.3 L256.1 459.2 L256.6 459.8 L257.0 460.5 L257.5 458.9 L258.0 456.3 L258.4 458.6 L258.9 461.9 L259.3 458.7 L259.8 458.1 L260.2 456.9 L260.7 459.4 L261.1 454.9 L261.6 460.8 L262.1 457.0 L262.5 454.0 L263.0 453.2 L263.4 451.2 L263.9 451.1 L264.3 451.9 L264.8 454.5 L265.3 454.3 L265.7 454.3 L266.2 452.7 L266.6 453.5 L267.1 449.5 L267.5 453.0 L268.0 449.7 L268.5 449.0 L268.9 442.2 L269.4 449.1 L269.8 448.1 L270.3 451.4 L270.7 454.3 L271.2 450.2 L271.6 450.7 L272.1 452.4 L272.6 452.0 L273.0 453.1 L273.5 450.2 L273.9 452.0 L274.4 447.5 L274.8 444.9 L275.3 446.3 L275.8 446.8 L276.2 439.3 L276.7 436.2 L277.1 446.1 L277.6 453.1 L278.0 448.8 L278.5 447.5 L279.0 440.8 L279.4 439.6 L279.9 446.4 L280.3 437.8 L280.8 439.5 L281.2 449.8 L281.7 441.5 L282.1 437.0 L282.6 433.6 L283.1 435.8 L283.5 420.4 L284.0 430.6 L284.4 435.6 L284.9 439.8 L285.3 440.8 L285.8 444.1 L286.3 441.0 L286.7 445.3 L287.2 440.3 L287.6 438.2 L288.1 443.3 L288.5 429.7 L289.0 442.7 L289.5 442.7 L289.9 441.8 L290.4 441.4 L290.8 439.5 L291.3 447.1 L291.7 445.6 L292.2 437.6 L292.6 426.8 L293.1 441.2 L293.6 438.0 L294.0 435.8 L294.5 430.1 L294.9 435.5 L295.4 432.2 L295.8 438.5 L296.3 440.1 L296.8 439.7 L297.2 433.4 L297.7 443.8 L298.1 444.3 L298.6 439.9 L299.0 438.5 L299.5 438.6 L300.0 433.4 L300.4 443.1 L300.9 444.5 L301.3 442.2 L301.8 442.6 L302.2 447.6 L302.7 439.6 L303.2 446.9 L303.6 443.6 L304.1 454.8 L304.5 456.1 L305.0 448.0 L305.4 453.1 L305.9 447.2 L306.3 449.1 L306.8 453.9 L307.3 457.4 L307.7 455.6 L308.2 452.6 L308.6 449.4 L309.1 454.9 L309.5 447.7 L310.0 445.2 L310.5 439.6 L310.9 452.1 L311.4 450.1 L311.8 443.4 L312.3 437.5 L312.7 451.5 L313.2 438.8 L313.7 442.2 L314.1 441.3 L314.6 442.9 L315.0 439.4 L315.5 437.6 L315.9 438.3 L316.4 437.8 L316.8 435.7 L317.3 438.9 L317.8 439.1 L318.2 438.4 L318.7 426.5 L319.1 435.9 L319.6 443.0 L320.0 426.8 L320.5 440.1 L321.0 431.3 L321.4 436.1 L321.9 437.0 L322.3 431.7 L322.8 434.5 L323.2 430.8 L323.7 429.6 L324.2 431.6 L324.6 437.7 L325.1 431.5 L325.5 437.7 L326.0 419.6 L326.4 431.2 L326.9 421.9 L327.3 443.8 L327.8 437.8 L328.3 442.6 L328.7 432.6 L329.2 432.2 L329.6 437.2 L330.1 436.0 L330.5 440.5 L331.0 441.7" fill="none" stroke="#35c0ee" stroke-width="0.68" stroke-linejoin="round" stroke-opacity="0.95"/>
<path d="M21.0 457.7 L21.5 458.5 L21.9 455.0 L22.4 449.6 L22.8 446.1 L23.3 407.3 L23.7 419.2 L24.2 421.6 L24.7 417.8 L25.1 429.0 L25.6 419.9 L26.0 426.5 L26.5 426.0 L26.9 418.9 L27.4 425.0 L27.8 437.0 L28.3 420.1 L28.8 424.7 L29.2 421.8 L29.7 436.5 L30.1 424.4 L30.6 422.0 L31.0 431.6 L31.5 443.5 L32.0 437.5 L32.4 439.6 L32.9 433.8 L33.3 442.2 L33.8 448.6 L34.2 434.9 L34.7 439.3 L35.2 434.9 L35.6 441.9 L36.1 422.6 L36.5 438.7 L37.0 436.1 L37.4 429.9 L37.9 420.0 L38.3 417.5 L38.8 432.4 L39.3 427.3 L39.7 433.9 L40.2 430.7 L40.6 423.8 L41.1 426.0 L41.5 427.8 L42.0 417.3 L42.5 434.0 L42.9 431.7 L43.4 440.7 L43.8 436.6 L44.3 444.7 L44.7 443.7 L45.2 451.5 L45.7 441.2 L46.1 444.6 L46.6 453.0 L47.0 452.6 L47.5 443.4 L47.9 446.8 L48.4 441.9 L48.8 442.3 L49.3 444.3 L49.8 440.7 L50.2 448.2 L50.7 453.3 L51.1 447.7 L51.6 441.8 L52.0 428.6 L52.5 427.6 L53.0 431.2 L53.4 438.4 L53.9 434.0 L54.3 431.6 L54.8 433.5 L55.2 438.1 L55.7 443.0 L56.2 447.0 L56.6 431.4 L57.1 434.8 L57.5 429.1 L58.0 439.7 L58.4 429.7 L58.9 433.4 L59.4 421.3 L59.8 433.4 L60.3 441.9 L60.7 427.1 L61.2 434.2 L61.6 438.0 L62.1 436.9 L62.5 418.2 L63.0 426.6 L63.5 427.4 L63.9 431.7 L64.4 427.5 L64.8 444.6 L65.3 424.8 L65.7 428.6 L66.2 422.9 L66.7 417.0 L67.1 430.8 L67.6 437.1 L68.0 441.0 L68.5 436.7 L68.9 438.9 L69.4 424.8 L69.9 438.3 L70.3 425.3 L70.8 419.6 L71.2 412.6 L71.7 432.2 L72.1 433.9 L72.6 423.6 L73.0 435.9 L73.5 439.8 L74.0 430.5 L74.4 439.1 L74.9 431.5 L75.3 437.1 L75.8 441.4 L76.2 432.4 L76.7 439.4 L77.2 436.1 L77.6 441.7 L78.1 434.6 L78.5 435.1 L79.0 432.3 L79.4 433.2 L79.9 425.0 L80.4 430.5 L80.8 442.3 L81.3 434.9 L81.7 437.0 L82.2 439.4 L82.6 437.1 L83.1 434.1 L83.5 432.2 L84.0 435.7 L84.5 435.9 L84.9 424.8 L85.4 428.6 L85.8 437.7 L86.3 428.0 L86.7 416.9 L87.2 437.2 L87.7 432.1 L88.1 445.6 L88.6 443.4 L89.0 437.8 L89.5 431.6 L89.9 438.8 L90.4 425.2 L90.9 419.1 L91.3 433.1 L91.8 423.9 L92.2 411.8 L92.7 409.4 L93.1 418.5 L93.6 422.1 L94.0 415.6 L94.5 412.8 L95.0 432.2 L95.4 425.7 L95.9 415.8 L96.3 417.9 L96.8 422.3 L97.2 415.1 L97.7 427.8 L98.2 425.4 L98.6 424.4 L99.1 422.7 L99.5 431.0 L100.0 426.5 L100.4 420.8 L100.9 424.2 L101.4 427.6 L101.8 424.0 L102.3 433.8 L102.7 422.8 L103.2 421.2 L103.6 432.8 L104.1 421.3 L104.5 420.8 L105.0 417.0 L105.5 421.7 L105.9 427.0 L106.4 411.7 L106.8 414.9 L107.3 418.8 L107.7 428.2 L108.2 440.2 L108.7 437.6 L109.1 437.7 L109.6 440.9 L110.0 440.4 L110.5 447.2 L110.9 450.1 L111.4 451.0 L111.9 446.1 L112.3 449.7 L112.8 447.4 L113.2 454.6 L113.7 455.7 L114.1 456.7 L114.6 452.8 L115.1 453.1 L115.5 454.1 L116.0 457.8 L116.4 454.5 L116.9 459.1 L117.3 454.3 L117.8 456.6 L118.2 454.7 L118.7 458.5 L119.2 452.6 L119.6 451.6 L120.1 456.2 L120.5 453.3 L121.0 457.0 L121.4 453.2 L121.9 460.5 L122.4 454.0 L122.8 456.1 L123.3 455.2 L123.7 454.2 L124.2 455.7 L124.6 453.1 L125.1 454.5 L125.6 449.1 L126.0 452.1 L126.5 453.6 L126.9 449.2 L127.4 452.6 L127.8 454.0 L128.3 455.1 L128.7 452.9 L129.2 448.9 L129.7 454.4 L130.1 451.4 L130.6 455.0 L131.0 450.2 L131.5 452.7 L131.9 453.2 L132.4 453.1 L132.9 454.0 L133.3 454.9 L133.8 455.1 L134.2 452.7 L134.7 454.4 L135.1 448.1 L135.6 450.8 L136.1 459.8 L136.5 454.5 L137.0 454.5 L137.4 452.0 L137.9 456.5 L138.3 455.2 L138.8 454.5 L139.2 450.3 L139.7 456.5 L140.2 453.0 L140.6 456.9 L141.1 453.8 L141.5 454.1 L142.0 457.7 L142.4 451.3 L142.9 453.8 L143.4 448.0 L143.8 452.3 L144.3 452.7 L144.7 454.2 L145.2 458.6 L145.6 457.7 L146.1 454.6 L146.6 458.5 L147.0 451.8 L147.5 453.0 L147.9 453.2 L148.4 454.9 L148.8 449.6 L149.3 447.9 L149.7 451.3 L150.2 447.1 L150.7 448.1 L151.1 451.6 L151.6 453.2 L152.0 450.7 L152.5 464.5 L152.9 454.7 L153.4 458.7 L153.9 453.8 L154.3 459.5 L154.8 452.6 L155.2 451.4 L155.7 453.8 L156.1 453.2 L156.6 452.2 L157.1 453.4 L157.5 450.6 L158.0 451.4 L158.4 442.6 L158.9 450.0 L159.3 450.1 L159.8 435.6 L160.2 439.9 L160.7 437.4 L161.2 444.1 L161.6 443.9 L162.1 443.5 L162.5 437.3 L163.0 442.1 L163.4 444.6 L163.9 432.0 L164.4 438.6 L164.8 445.4 L165.3 447.7 L165.7 444.9 L166.2 447.4 L166.6 450.0 L167.1 449.4 L167.6 450.3 L168.0 452.2 L168.5 448.9 L168.9 452.5 L169.4 452.3 L169.8 448.4 L170.3 455.7 L170.7 454.3 L171.2 452.4 L171.7 450.8 L172.1 456.2 L172.6 454.3 L173.0 456.0 L173.5 457.1 L173.9 457.7 L174.4 454.4 L174.9 453.8 L175.3 447.7 L175.8 452.9 L176.2 448.2 L176.7 449.8 L177.1 439.0 L177.6 445.2 L178.1 436.7 L178.5 448.6 L179.0 445.4 L179.4 439.0 L179.9 436.1 L180.3 437.0 L180.8 434.5 L181.3 427.8 L181.7 432.5 L182.2 442.1 L182.6 429.4 L183.1 430.2 L183.5 440.2 L184.0 440.2 L184.4 433.8 L184.9 440.2 L185.4 431.1 L185.8 442.0 L186.3 438.0 L186.7 431.3 L187.2 420.0 L187.6 421.4 L188.1 422.3 L188.6 432.8 L189.0 419.7 L189.5 425.0 L189.9 423.7 L190.4 423.4 L190.8 422.8 L191.3 424.3 L191.8 435.0 L192.2 431.5 L192.7 437.8 L193.1 428.9 L193.6 449.1 L194.0 430.2 L194.5 427.5 L194.9 443.2 L195.4 441.9 L195.9 439.9 L196.3 444.4 L196.8 446.6 L197.2 445.3 L197.7 438.7 L198.1 447.6 L198.6 449.9 L199.1 454.5 L199.5 453.4 L200.0 455.0 L200.4 454.0 L200.9 452.7 L201.3 457.7 L201.8 457.5 L202.3 459.8 L202.7 456.9 L203.2 458.5 L203.6 459.9 L204.1 458.4 L204.5 459.9 L205.0 458.3 L205.4 457.7 L205.9 455.4 L206.4 457.7 L206.8 454.1 L207.3 458.5 L207.7 451.6 L208.2 450.0 L208.6 450.9 L209.1 450.2 L209.6 452.9 L210.0 453.9 L210.5 450.1 L210.9 452.7 L211.4 449.7 L211.8 449.4 L212.3 448.3 L212.8 443.5 L213.2 441.1 L213.7 451.5 L214.1 446.3 L214.6 452.7 L215.0 451.4 L215.5 453.8 L215.9 452.2 L216.4 455.1 L216.9 454.3 L217.3 454.1 L217.8 455.2 L218.2 453.4 L218.7 452.8 L219.1 455.6 L219.6 446.6 L220.1 448.0 L220.5 450.7 L221.0 447.3 L221.4 441.2 L221.9 446.3 L222.3 451.4 L222.8 453.5 L223.3 452.5 L223.7 454.6 L224.2 453.9 L224.6 456.8 L225.1 457.7 L225.5 457.4 L226.0 458.7 L226.4 453.7 L226.9 452.6 L227.4 450.0 L227.8 448.6 L228.3 446.0 L228.7 442.0 L229.2 454.7 L229.6 443.4 L230.1 446.8 L230.6 440.3 L231.0 440.2 L231.5 439.5 L231.9 433.2 L232.4 440.6 L232.8 440.0 L233.3 435.4 L233.8 439.3 L234.2 443.2 L234.7 422.8 L235.1 434.9 L235.6 435.0 L236.0 432.4 L236.5 435.2 L236.9 432.3 L237.4 428.1 L237.9 425.5 L238.3 426.7 L238.8 428.5 L239.2 430.2 L239.7 425.3 L240.1 426.2 L240.6 440.4 L241.1 438.7 L241.5 434.2 L242.0 431.1 L242.4 447.1 L242.9 423.7 L243.3 434.8 L243.8 431.1 L244.3 436.9 L244.7 434.7 L245.2 428.3 L245.6 438.7 L246.1 446.2 L246.5 443.3 L247.0 454.9 L247.5 449.0 L247.9 454.3 L248.4 450.7 L248.8 454.0 L249.3 453.0 L249.7 450.9 L250.2 452.9 L250.6 454.8 L251.1 452.2 L251.6 454.2 L252.0 453.7 L252.5 451.8 L252.9 454.9 L253.4 449.7 L253.8 454.2 L254.3 455.2 L254.8 455.3 L255.2 455.7 L255.7 458.7 L256.1 459.3 L256.6 461.0 L257.0 461.0 L257.5 460.4 L258.0 459.3 L258.4 457.2 L258.9 458.0 L259.3 459.6 L259.8 458.4 L260.2 457.9 L260.7 455.8 L261.1 456.1 L261.6 457.6 L262.1 455.8 L262.5 453.3 L263.0 451.4 L263.4 454.0 L263.9 448.7 L264.3 454.0 L264.8 456.9 L265.3 456.9 L265.7 453.9 L266.2 451.2 L266.6 454.8 L267.1 452.8 L267.5 452.9 L268.0 451.0 L268.5 450.1 L268.9 446.0 L269.4 444.8 L269.8 449.6 L270.3 446.6 L270.7 448.6 L271.2 446.2 L271.6 459.0 L272.1 451.2 L272.6 448.8 L273.0 451.8 L273.5 448.4 L273.9 450.9 L274.4 449.5 L274.8 450.2 L275.3 444.1 L275.8 440.8 L276.2 450.2 L276.7 443.9 L277.1 443.7 L277.6 444.2 L278.0 445.4 L278.5 438.8 L279.0 440.1 L279.4 446.8 L279.9 435.7 L280.3 444.0 L280.8 438.4 L281.2 448.2 L281.7 436.0 L282.1 426.0 L282.6 424.3 L283.1 429.8 L283.5 420.2 L284.0 440.5 L284.4 436.7 L284.9 449.1 L285.3 438.2 L285.8 447.1 L286.3 444.8 L286.7 444.1 L287.2 445.8 L287.6 442.6 L288.1 440.5 L288.5 435.0 L289.0 435.7 L289.5 448.6 L289.9 445.5 L290.4 445.1 L290.8 438.4 L291.3 440.1 L291.7 446.3 L292.2 434.6 L292.6 436.2 L293.1 434.9 L293.6 438.7 L294.0 431.5 L294.5 436.5 L294.9 429.7 L295.4 455.1 L295.8 432.8 L296.3 441.2 L296.8 442.4 L297.2 435.9 L297.7 430.9 L298.1 443.6 L298.6 439.4 L299.0 441.1 L299.5 437.6 L300.0 431.6 L300.4 438.4 L300.9 442.1 L301.3 437.8 L301.8 437.8 L302.2 451.5 L302.7 434.8 L303.2 443.8 L303.6 444.8 L304.1 443.6 L304.5 450.5 L305.0 446.4 L305.4 451.1 L305.9 451.2 L306.3 451.3 L306.8 452.2 L307.3 457.1 L307.7 453.0 L308.2 458.4 L308.6 447.9 L309.1 454.4 L309.5 448.5 L310.0 445.0 L310.5 431.5 L310.9 453.9 L311.4 446.1 L311.8 444.2 L312.3 441.1 L312.7 453.3 L313.2 451.2 L313.7 442.4 L314.1 443.7 L314.6 434.9 L315.0 444.8 L315.5 444.2 L315.9 431.6 L316.4 437.9 L316.8 429.6 L317.3 431.2 L317.8 435.7 L318.2 433.0 L318.7 435.1 L319.1 437.6 L319.6 437.5 L320.0 426.5 L320.5 433.4 L321.0 444.4 L321.4 439.0 L321.9 436.1 L322.3 433.4 L322.8 424.3 L323.2 434.4 L323.7 434.0 L324.2 424.7 L324.6 422.4 L325.1 428.6 L325.5 441.9 L326.0 435.3 L326.4 426.1 L326.9 428.0 L327.3 435.4 L327.8 436.6 L328.3 431.1 L328.7 432.3 L329.2 443.1 L329.6 431.0 L330.1 435.0 L330.5 444.9 L331.0 435.2" fill="none" stroke="#57cf78" stroke-width="0.68" stroke-linejoin="round" stroke-opacity="0.95"/>
<path d="M21.0 455.3 L21.5 457.8 L21.9 454.8 L22.4 449.8 L22.8 439.7 L23.3 409.4 L23.7 413.6 L24.2 418.6 L24.7 423.9 L25.1 429.8 L25.6 424.6 L26.0 434.7 L26.5 426.6 L26.9 433.5 L27.4 423.6 L27.8 446.3 L28.3 427.7 L28.8 423.5 L29.2 428.4 L29.7 425.1 L30.1 424.5 L30.6 431.6 L31.0 424.8 L31.5 440.8 L32.0 437.6 L32.4 447.8 L32.9 436.5 L33.3 437.6 L33.8 450.8 L34.2 440.8 L34.7 434.8 L35.2 433.9 L35.6 440.3 L36.1 434.5 L36.5 423.6 L37.0 427.6 L37.4 428.7 L37.9 418.2 L38.3 422.7 L38.8 424.0 L39.3 420.4 L39.7 444.2 L40.2 428.6 L40.6 421.9 L41.1 429.3 L41.5 430.7 L42.0 430.4 L42.5 422.5 L42.9 417.4 L43.4 435.8 L43.8 431.4 L44.3 441.7 L44.7 439.2 L45.2 451.7 L45.7 442.9 L46.1 448.7 L46.6 447.3 L47.0 449.6 L47.5 451.3 L47.9 442.6 L48.4 438.9 L48.8 437.6 L49.3 437.1 L49.8 442.5 L50.2 439.1 L50.7 449.2 L51.1 451.0 L51.6 440.6 L52.0 435.1 L52.5 428.3 L53.0 428.4 L53.4 438.0 L53.9 440.1 L54.3 433.0 L54.8 439.2 L55.2 446.2 L55.7 434.6 L56.2 448.3 L56.6 431.7 L57.1 428.6 L57.5 430.9 L58.0 430.3 L58.4 441.8 L58.9 425.3 L59.4 417.4 L59.8 432.0 L60.3 425.0 L60.7 405.6 L61.2 429.3 L61.6 439.5 L62.1 432.7 L62.5 424.8 L63.0 430.1 L63.5 428.9 L63.9 431.3 L64.4 418.8 L64.8 424.0 L65.3 432.3 L65.7 423.4 L66.2 428.0 L66.7 430.4 L67.1 437.9 L67.6 437.4 L68.0 437.2 L68.5 437.1 L68.9 424.7 L69.4 433.2 L69.9 431.4 L70.3 418.7 L70.8 418.6 L71.2 420.9 L71.7 420.0 L72.1 440.5 L72.6 428.1 L73.0 431.6 L73.5 434.7 L74.0 434.7 L74.4 439.1 L74.9 442.0 L75.3 437.4 L75.8 437.4 L76.2 434.4 L76.7 440.7 L77.2 434.9 L77.6 446.4 L78.1 433.8 L78.5 442.1 L79.0 433.4 L79.4 419.4 L79.9 422.2 L80.4 430.6 L80.8 438.4 L81.3 431.8 L81.7 433.2 L82.2 440.7 L82.6 430.9 L83.1 421.4 L83.5 428.5 L84.0 431.7 L84.5 432.3 L84.9 423.2 L85.4 426.8 L85.8 434.4 L86.3 423.2 L86.7 429.7 L87.2 436.8 L87.7 439.8 L88.1 447.9 L88.6 434.7 L89.0 440.1 L89.5 430.6 L89.9 433.0 L90.4 427.2 L90.9 415.3 L91.3 428.3 L91.8 431.9 L92.2 411.9 L92.7 420.7 L93.1 407.6 L93.6 415.7 L94.0 421.5 L94.5 415.9 L95.0 435.6 L95.4 415.1 L95.9 424.8 L96.3 419.6 L96.8 428.3 L97.2 412.5 L97.7 432.2 L98.2 414.0 L98.6 410.0 L99.1 422.3 L99.5 449.9 L100.0 433.7 L100.4 420.8 L100.9 421.6 L101.4 440.1 L101.8 423.9 L102.3 432.9 L102.7 412.0 L103.2 415.1 L103.6 441.4 L104.1 423.7 L104.5 429.1 L105.0 422.1 L105.5 418.1 L105.9 423.2 L106.4 419.4 L106.8 421.2 L107.3 412.8 L107.7 436.3 L108.2 435.7 L108.7 430.2 L109.1 436.3 L109.6 439.4 L110.0 443.6 L110.5 446.2 L110.9 442.7 L111.4 447.8 L111.9 448.5 L112.3 448.1 L112.8 449.0 L113.2 453.7 L113.7 455.1 L114.1 456.2 L114.6 452.6 L115.1 453.0 L115.5 454.7 L116.0 454.5 L116.4 453.7 L116.9 458.8 L117.3 456.1 L117.8 455.1 L118.2 456.3 L118.7 461.0 L119.2 453.5 L119.6 455.1 L120.1 458.9 L120.5 454.0 L121.0 454.5 L121.4 451.6 L121.9 451.5 L122.4 454.4 L122.8 457.1 L123.3 453.4 L123.7 453.8 L124.2 455.3 L124.6 456.1 L125.1 456.9 L125.6 452.8 L126.0 452.6 L126.5 452.8 L126.9 454.2 L127.4 458.9 L127.8 454.8 L128.3 455.0 L128.7 456.3 L129.2 452.9 L129.7 454.4 L130.1 450.4 L130.6 455.4 L131.0 448.9 L131.5 451.2 L131.9 456.1 L132.4 454.2 L132.9 452.9 L133.3 453.3 L133.8 453.2 L134.2 451.7 L134.7 455.3 L135.1 450.4 L135.6 456.6 L136.1 460.0 L136.5 454.0 L137.0 456.4 L137.4 454.0 L137.9 450.9 L138.3 453.1 L138.8 454.5 L139.2 452.6 L139.7 453.1 L140.2 453.9 L140.6 455.3 L141.1 457.7 L141.5 453.8 L142.0 456.8 L142.4 453.3 L142.9 456.5 L143.4 443.4 L143.8 451.4 L144.3 455.7 L144.7 455.4 L145.2 457.2 L145.6 457.0 L146.1 454.4 L146.6 458.2 L147.0 456.3 L147.5 456.0 L147.9 453.6 L148.4 453.1 L148.8 447.8 L149.3 449.0 L149.7 450.0 L150.2 447.3 L150.7 446.7 L151.1 449.4 L151.6 454.4 L152.0 452.6 L152.5 458.4 L152.9 453.8 L153.4 459.7 L153.9 456.8 L154.3 458.4 L154.8 454.7 L155.2 453.2 L155.7 455.5 L156.1 452.4 L156.6 450.6 L157.1 452.1 L157.5 451.4 L158.0 452.2 L158.4 445.9 L158.9 445.0 L159.3 445.2 L159.8 436.5 L160.2 445.5 L160.7 439.7 L161.2 435.6 L161.6 450.0 L162.1 441.3 L162.5 437.2 L163.0 436.1 L163.4 438.4 L163.9 434.3 L164.4 440.1 L164.8 441.8 L165.3 447.4 L165.7 436.0 L166.2 441.8 L166.6 449.1 L167.1 453.8 L167.6 447.3 L168.0 452.3 L168.5 450.1 L168.9 450.9 L169.4 457.3 L169.8 450.7 L170.3 457.4 L170.7 449.6 L171.2 448.9 L171.7 454.3 L172.1 454.4 L172.6 457.2 L173.0 456.7 L173.5 456.5 L173.9 458.6 L174.4 455.5 L174.9 454.9 L175.3 454.7 L175.8 453.5 L176.2 448.8 L176.7 444.3 L177.1 440.2 L177.6 447.2 L178.1 446.5 L178.5 443.4 L179.0 448.0 L179.4 435.2 L179.9 435.4 L180.3 436.8 L180.8 432.2 L181.3 434.9 L181.7 437.5 L182.2 448.3 L182.6 434.7 L183.1 433.0 L183.5 429.0 L184.0 440.9 L184.4 434.6 L184.9 434.7 L185.4 442.4 L185.8 425.5 L186.3 435.3 L186.7 429.2 L187.2 416.9 L187.6 425.5 L188.1 432.2 L188.6 437.5 L189.0 435.7 L189.5 415.1 L189.9 419.6 L190.4 414.0 L190.8 423.0 L191.3 427.9 L191.8 425.2 L192.2 429.2 L192.7 436.8 L193.1 433.0 L193.6 445.5 L194.0 433.7 L194.5 428.4 L194.9 431.4 L195.4 443.9 L195.9 447.3 L196.3 449.7 L196.8 445.1 L197.2 443.4 L197.7 445.0 L198.1 450.1 L198.6 453.3 L199.1 451.7 L199.5 454.1 L200.0 452.8 L200.4 453.6 L200.9 457.8 L201.3 457.3 L201.8 457.0 L202.3 458.6 L202.7 458.7 L203.2 460.5 L203.6 459.4 L204.1 459.1 L204.5 457.7 L205.0 458.3 L205.4 455.6 L205.9 457.3 L206.4 457.0 L206.8 455.6 L207.3 455.1 L207.7 447.5 L208.2 450.7 L208.6 447.9 L209.1 448.3 L209.6 451.1 L210.0 457.1 L210.5 453.3 L210.9 454.1 L211.4 455.4 L211.8 443.1 L212.3 447.4 L212.8 436.4 L213.2 441.0 L213.7 451.7 L214.1 443.8 L214.6 453.7 L215.0 454.3 L215.5 451.9 L215.9 447.7 L216.4 455.9 L216.9 452.7 L217.3 457.6 L217.8 456.1 L218.2 454.0 L218.7 451.0 L219.1 454.1 L219.6 450.4 L220.1 455.6 L220.5 446.3 L221.0 445.3 L221.4 444.8 L221.9 450.0 L222.3 456.7 L222.8 451.8 L223.3 453.6 L223.7 455.5 L224.2 453.5 L224.6 456.8 L225.1 456.1 L225.5 456.3 L226.0 459.3 L226.4 454.8 L226.9 449.4 L227.4 451.6 L227.8 448.1 L228.3 448.1 L228.7 445.4 L229.2 454.0 L229.6 446.5 L230.1 448.7 L230.6 438.1 L231.0 444.0 L231.5 447.2 L231.9 434.6 L232.4 439.0 L232.8 439.0 L233.3 434.1 L233.8 444.1 L234.2 430.4 L234.7 421.2 L235.1 444.8 L235.6 419.0 L236.0 428.1 L236.5 423.7 L236.9 434.9 L237.4 432.4 L237.9 418.3 L238.3 427.4 L238.8 426.9 L239.2 443.3 L239.7 427.4 L240.1 435.7 L240.6 424.6 L241.1 426.2 L241.5 430.8 L242.0 433.9 L242.4 419.7 L242.9 425.7 L243.3 434.8 L243.8 427.9 L244.3 436.8 L244.7 433.9 L245.2 434.5 L245.6 436.2 L246.1 450.4 L246.5 440.5 L247.0 452.0 L247.5 449.4 L247.9 449.4 L248.4 450.8 L248.8 450.7 L249.3 453.7 L249.7 450.2 L250.2 454.8 L250.6 458.1 L251.1 449.9 L251.6 454.4 L252.0 452.7 L252.5 449.1 L252.9 451.4 L253.4 450.7 L253.8 458.0 L254.3 455.8 L254.8 453.9 L255.2 455.5 L255.7 458.8 L256.1 459.0 L256.6 460.3 L257.0 458.7 L257.5 460.0 L258.0 460.6 L258.4 459.1 L258.9 457.5 L259.3 459.2 L259.8 458.6 L260.2 455.9 L260.7 457.6 L261.1 456.1 L261.6 457.5 L262.1 453.5 L262.5 451.6 L263.0 453.6 L263.4 451.2 L263.9 446.9 L264.3 449.6 L264.8 453.7 L265.3 456.3 L265.7 452.7 L266.2 451.2 L266.6 451.6 L267.1 452.8 L267.5 450.8 L268.0 452.9 L268.5 447.3 L268.9 449.6 L269.4 446.3 L269.8 449.6 L270.3 444.5 L270.7 450.1 L271.2 450.3 L271.6 452.5 L272.1 451.8 L272.6 448.3 L273.0 452.7 L273.5 457.7 L273.9 445.0 L274.4 448.8 L274.8 444.2 L275.3 446.7 L275.8 443.0 L276.2 441.8 L276.7 443.5 L277.1 444.6 L277.6 443.6 L278.0 446.3 L278.5 440.3 L279.0 431.6 L279.4 441.6 L279.9 436.4 L280.3 437.8 L280.8 431.2 L281.2 434.8 L281.7 438.4 L282.1 428.1 L282.6 433.3 L283.1 421.2 L283.5 426.6 L284.0 437.4 L284.4 434.6 L284.9 438.1 L285.3 432.6 L285.8 460.3 L286.3 445.6 L286.7 449.6 L287.2 442.8 L287.6 447.9 L288.1 445.0 L288.5 433.0 L289.0 437.3 L289.5 443.8 L289.9 439.3 L290.4 444.4 L290.8 438.7 L291.3 432.6 L291.7 439.2 L292.2 437.8 L292.6 426.8 L293.1 445.2 L293.6 435.0 L294.0 424.9 L294.5 433.1 L294.9 433.7 L295.4 441.9 L295.8 434.0 L296.3 448.9 L296.8 431.9 L297.2 436.1 L297.7 443.6 L298.1 437.3 L298.6 441.7 L299.0 440.7 L299.5 451.5 L300.0 439.1 L300.4 440.5 L300.9 433.0 L301.3 442.9 L301.8 445.2 L302.2 440.9 L302.7 440.2 L303.2 440.7 L303.6 450.7 L304.1 443.9 L304.5 457.4 L305.0 442.6 L305.4 455.1 L305.9 449.1 L306.3 452.5 L306.8 454.1 L307.3 457.8 L307.7 455.1 L308.2 453.9 L308.6 450.2 L309.1 450.4 L309.5 447.6 L310.0 445.3 L310.5 441.0 L310.9 450.8 L311.4 442.8 L311.8 440.3 L312.3 443.2 L312.7 444.0 L313.2 440.6 L313.7 446.3 L314.1 442.1 L314.6 441.2 L315.0 441.2 L315.5 445.2 L315.9 437.1 L316.4 442.9 L316.8 441.8 L317.3 442.0 L317.8 437.8 L318.2 433.1 L318.7 439.7 L319.1 429.7 L319.6 447.1 L320.0 433.7 L320.5 429.4 L321.0 433.9 L321.4 438.4 L321.9 430.5 L322.3 429.7 L322.8 428.3 L323.2 427.2 L323.7 427.5 L324.2 437.5 L324.6 438.5 L325.1 431.9 L325.5 435.3 L326.0 428.6 L326.4 431.8 L326.9 431.7 L327.3 433.6 L327.8 431.1 L328.3 439.4 L328.7 433.5 L329.2 440.8 L329.6 429.4 L330.1 440.5 L330.5 443.9 L331.0 439.0" fill="none" stroke="#c08be8" stroke-width="0.68" stroke-linejoin="round" stroke-opacity="0.95"/>
<path d="M21.0 457.0 L21.5 455.9 L21.9 457.4 L22.4 448.9 L22.8 443.9 L23.3 411.1 L23.7 421.9 L24.2 430.2 L24.7 431.5 L25.1 423.0 L25.6 424.9 L26.0 418.4 L26.5 426.6 L26.9 428.2 L27.4 438.6 L27.8 437.1 L28.3 436.3 L28.8 414.8 L29.2 421.7 L29.7 421.2 L30.1 436.4 L30.6 425.8 L31.0 436.0 L31.5 441.1 L32.0 441.9 L32.4 438.2 L32.9 436.5 L33.3 441.6 L33.8 442.3 L34.2 443.8 L34.7 427.1 L35.2 429.8 L35.6 438.3 L36.1 431.7 L36.5 436.2 L37.0 438.5 L37.4 412.3 L37.9 421.3 L38.3 420.7 L38.8 419.1 L39.3 437.6 L39.7 440.7 L40.2 434.0 L40.6 424.6 L41.1 421.1 L41.5 433.3 L42.0 431.8 L42.5 420.0 L42.9 427.4 L43.4 435.8 L43.8 437.6 L44.3 436.2 L44.7 443.1 L45.2 443.2 L45.7 443.8 L46.1 449.2 L46.6 449.2 L47.0 450.8 L47.5 443.3 L47.9 449.2 L48.4 441.8 L48.8 437.1 L49.3 440.4 L49.8 439.4 L50.2 439.5 L50.7 454.0 L51.1 447.7 L51.6 435.0 L52.0 432.9 L52.5 419.3 L53.0 444.8 L53.4 434.7 L53.9 435.6 L54.3 428.6 L54.8 439.5 L55.2 440.9 L55.7 445.0 L56.2 435.2 L56.6 438.6 L57.1 437.1 L57.5 438.2 L58.0 425.9 L58.4 429.1 L58.9 423.8 L59.4 440.3 L59.8 424.3 L60.3 429.2 L60.7 419.5 L61.2 433.1 L61.6 428.6 L62.1 427.0 L62.5 428.2 L63.0 427.2 L63.5 422.2 L63.9 425.3 L64.4 430.4 L64.8 438.2 L65.3 438.0 L65.7 423.3 L66.2 432.8 L66.7 418.6 L67.1 435.1 L67.6 443.2 L68.0 441.3 L68.5 433.2 L68.9 438.0 L69.4 424.9 L69.9 421.1 L70.3 416.5 L70.8 432.8 L71.2 415.6 L71.7 416.1 L72.1 431.9 L72.6 421.2 L73.0 428.0 L73.5 444.9 L74.0 429.3 L74.4 438.7 L74.9 432.7 L75.3 443.2 L75.8 449.2 L76.2 443.4 L76.7 430.0 L77.2 434.9 L77.6 436.2 L78.1 441.4 L78.5 435.5 L79.0 438.0 L79.4 426.0 L79.9 420.5 L80.4 424.7 L80.8 434.0 L81.3 431.9 L81.7 426.4 L82.2 432.7 L82.6 437.4 L83.1 423.4 L83.5 440.0 L84.0 432.3 L84.5 421.5 L84.9 426.3 L85.4 419.7 L85.8 443.6 L86.3 427.6 L86.7 433.2 L87.2 431.8 L87.7 442.7 L88.1 439.9 L88.6 438.2 L89.0 442.4 L89.5 429.4 L89.9 433.2 L90.4 410.6 L90.9 419.8 L91.3 425.6 L91.8 418.0 L92.2 416.2 L92.7 420.3 L93.1 418.6 L93.6 429.5 L94.0 431.4 L94.5 409.1 L95.0 418.7 L95.4 429.8 L95.9 418.0 L96.3 415.6 L96.8 423.3 L97.2 406.3 L97.7 429.9 L98.2 414.4 L98.6 424.2 L99.1 422.8 L99.5 424.6 L100.0 435.9 L100.4 427.0 L100.9 419.8 L101.4 428.6 L101.8 433.1 L102.3 429.0 L102.7 423.5 L103.2 431.3 L103.6 425.4 L104.1 427.7 L104.5 430.7 L105.0 422.7 L105.5 421.6 L105.9 432.8 L106.4 409.3 L106.8 420.2 L107.3 414.4 L107.7 430.1 L108.2 441.0 L108.7 438.2 L109.1 426.9 L109.6 438.5 L110.0 438.0 L110.5 446.6 L110.9 445.6 L111.4 444.5 L111.9 447.7 L112.3 451.7 L112.8 446.3 L113.2 454.5 L113.7 454.3 L114.1 452.4 L114.6 454.6 L115.1 453.3 L115.5 455.8 L116.0 453.7 L116.4 454.7 L116.9 462.0 L117.3 457.4 L117.8 455.3 L118.2 457.8 L118.7 457.2 L119.2 452.7 L119.6 456.4 L120.1 453.6 L120.5 456.0 L121.0 453.5 L121.4 452.3 L121.9 451.4 L122.4 453.1 L122.8 456.8 L123.3 455.3 L123.7 453.0 L124.2 456.4 L124.6 455.6 L125.1 457.6 L125.6 450.9 L126.0 451.7 L126.5 451.7 L126.9 456.5 L127.4 454.1 L127.8 455.1 L128.3 455.8 L128.7 457.7 L129.2 453.1 L129.7 454.8 L130.1 450.8 L130.6 452.4 L131.0 452.7 L131.5 452.4 L131.9 449.5 L132.4 451.1 L132.9 452.9 L133.3 455.1 L133.8 458.1 L134.2 452.3 L134.7 452.7 L135.1 452.1 L135.6 455.7 L136.1 458.8 L136.5 453.2 L137.0 459.9 L137.4 453.8 L137.9 455.7 L138.3 455.1 L138.8 455.6 L139.2 453.0 L139.7 455.7 L140.2 453.5 L140.6 455.5 L141.1 457.8 L141.5 454.6 L142.0 455.8 L142.4 454.1 L142.9 451.6 L143.4 449.4 L143.8 452.5 L144.3 454.6 L144.7 455.3 L145.2 453.8 L145.6 455.1 L146.1 456.1 L146.6 456.5 L147.0 455.6 L147.5 451.8 L147.9 452.5 L148.4 454.8 L148.8 450.7 L149.3 452.5 L149.7 450.9 L150.2 456.3 L150.7 442.9 L151.1 447.6 L151.6 450.9 L152.0 453.9 L152.5 455.0 L152.9 458.7 L153.4 458.0 L153.9 454.8 L154.3 457.8 L154.8 455.4 L155.2 452.8 L155.7 456.0 L156.1 452.7 L156.6 452.8 L157.1 449.9 L157.5 457.6 L158.0 451.4 L158.4 446.8 L158.9 443.9 L159.3 448.4 L159.8 445.0 L160.2 441.6 L160.7 439.8 L161.2 437.1 L161.6 443.8 L162.1 435.5 L162.5 440.6 L163.0 444.1 L163.4 436.2 L163.9 436.6 L164.4 433.6 L164.8 444.8 L165.3 446.9 L165.7 438.7 L166.2 444.9 L166.6 445.6 L167.1 451.4 L167.6 450.6 L168.0 446.2 L168.5 447.6 L168.9 449.3 L169.4 453.0 L169.8 448.7 L170.3 455.2 L170.7 453.9 L171.2 450.8 L171.7 450.0 L172.1 454.7 L172.6 453.4 L173.0 455.4 L173.5 457.0 L173.9 458.2 L174.4 454.7 L174.9 453.7 L175.3 452.3 L175.8 454.4 L176.2 451.9 L176.7 447.4 L177.1 440.2 L177.6 441.4 L178.1 444.1 L178.5 443.8 L179.0 450.1 L179.4 438.1 L179.9 437.3 L180.3 431.8 L180.8 427.9 L181.3 427.6 L181.7 425.8 L182.2 447.9 L182.6 429.0 L183.1 431.8 L183.5 443.4 L184.0 438.5 L184.4 428.8 L184.9 435.3 L185.4 434.7 L185.8 425.0 L186.3 429.8 L186.7 425.6 L187.2 407.0 L187.6 427.3 L188.1 424.1 L188.6 419.2 L189.0 429.0 L189.5 415.9 L189.9 431.4 L190.4 421.4 L190.8 436.8 L191.3 433.7 L191.8 441.4 L192.2 426.2 L192.7 431.5 L193.1 436.4 L193.6 435.8 L194.0 430.4 L194.5 437.2 L194.9 448.6 L195.4 437.6 L195.9 445.0 L196.3 437.8 L196.8 444.5 L197.2 443.8 L197.7 446.2 L198.1 454.7 L198.6 452.9 L199.1 449.5 L199.5 453.3 L200.0 452.5 L200.4 457.2 L200.9 458.9 L201.3 454.9 L201.8 457.2 L202.3 460.7 L202.7 457.8 L203.2 459.0 L203.6 459.0 L204.1 457.2 L204.5 460.3 L205.0 456.3 L205.4 457.4 L205.9 456.8 L206.4 456.5 L206.8 457.2 L207.3 456.0 L207.7 453.5 L208.2 450.0 L208.6 445.8 L209.1 452.3 L209.6 451.3 L210.0 454.1 L210.5 450.4 L210.9 457.7 L211.4 453.1 L211.8 449.7 L212.3 446.3 L212.8 439.9 L213.2 448.2 L213.7 451.8 L214.1 444.2 L214.6 452.6 L215.0 452.8 L215.5 453.2 L215.9 448.1 L216.4 454.6 L216.9 451.7 L217.3 454.8 L217.8 456.4 L218.2 453.9 L218.7 453.0 L219.1 454.5 L219.6 452.0 L220.1 446.4 L220.5 448.0 L221.0 451.6 L221.4 445.2 L221.9 444.3 L222.3 457.2 L222.8 449.7 L223.3 453.9 L223.7 453.0 L224.2 458.5 L224.6 457.2 L225.1 455.5 L225.5 455.8 L226.0 457.4 L226.4 448.4 L226.9 451.1 L227.4 450.7 L227.8 447.0 L228.3 451.3 L228.7 448.7 L229.2 452.0 L229.6 451.8 L230.1 447.6 L230.6 442.2 L231.0 444.0 L231.5 438.0 L231.9 433.1 L232.4 449.4 L232.8 429.6 L233.3 428.4 L233.8 436.5 L234.2 436.2 L234.7 430.8 L235.1 439.4 L235.6 431.6 L236.0 431.6 L236.5 420.0 L236.9 439.3 L237.4 430.5 L237.9 424.0 L238.3 424.8 L238.8 427.3 L239.2 433.3 L239.7 420.4 L240.1 426.2 L240.6 423.7 L241.1 426.1 L241.5 426.7 L242.0 423.3 L242.4 430.8 L242.9 434.0 L243.3 436.9 L243.8 435.4 L244.3 433.7 L244.7 427.1 L245.2 439.7 L245.6 431.7 L246.1 445.7 L246.5 444.2 L247.0 442.3 L247.5 453.2 L247.9 451.0 L248.4 453.7 L248.8 452.4 L249.3 455.2 L249.7 452.7 L250.2 454.2 L250.6 457.2 L251.1 450.9 L251.6 450.9 L252.0 456.0 L252.5 449.2 L252.9 454.6 L253.4 456.3 L253.8 456.6 L254.3 456.8 L254.8 453.2 L255.2 458.0 L255.7 458.5 L256.1 458.4 L256.6 461.0 L257.0 461.2 L257.5 459.5 L258.0 458.5 L258.4 460.0 L258.9 457.7 L259.3 456.0 L259.8 458.0 L260.2 455.4 L260.7 456.4 L261.1 454.9 L261.6 460.7 L262.1 454.3 L262.5 455.3 L263.0 455.7 L263.4 455.3 L263.9 450.4 L264.3 453.8 L264.8 454.4 L265.3 453.3 L265.7 456.6 L266.2 452.7 L266.6 452.2 L267.1 455.3 L267.5 453.3 L268.0 452.6 L268.5 450.8 L268.9 444.9 L269.4 450.2 L269.8 451.2 L270.3 444.6 L270.7 448.1 L271.2 446.0 L271.6 449.3 L272.1 451.5 L272.6 447.5 L273.0 453.2 L273.5 447.3 L273.9 445.6 L274.4 447.8 L274.8 451.4 L275.3 450.0 L275.8 449.8 L276.2 439.9 L276.7 443.7 L277.1 439.4 L277.6 443.6 L278.0 447.6 L278.5 439.7 L279.0 441.8 L279.4 444.3 L279.9 443.1 L280.3 433.2 L280.8 441.1 L281.2 437.7 L281.7 441.3 L282.1 432.2 L282.6 418.7 L283.1 431.2 L283.5 423.4 L284.0 429.8 L284.4 430.4 L284.9 437.7 L285.3 438.3 L285.8 443.8 L286.3 447.5 L286.7 442.3 L287.2 450.0 L287.6 447.1 L288.1 443.4 L288.5 446.6 L289.0 438.8 L289.5 443.1 L289.9 439.2 L290.4 448.7 L290.8 444.6 L291.3 440.8 L291.7 438.7 L292.2 435.5 L292.6 428.9 L293.1 441.0 L293.6 442.0 L294.0 429.2 L294.5 432.5 L294.9 437.1 L295.4 430.9 L295.8 446.8 L296.3 445.6 L296.8 439.2 L297.2 435.5 L297.7 445.2 L298.1 441.7 L298.6 452.8 L299.0 432.4 L299.5 443.9 L300.0 433.3 L300.4 434.3 L300.9 443.5 L301.3 440.3 L301.8 437.0 L302.2 445.9 L302.7 441.2 L303.2 439.5 L303.6 448.6 L304.1 450.6 L304.5 451.3 L305.0 445.3 L305.4 446.2 L305.9 452.0 L306.3 451.8 L306.8 453.7 L307.3 460.4 L307.7 457.9 L308.2 453.1 L308.6 450.4 L309.1 449.1 L309.5 447.0 L310.0 442.9 L310.5 440.5 L310.9 449.8 L311.4 443.1 L311.8 443.5 L312.3 436.2 L312.7 444.9 L313.2 446.0 L313.7 445.0 L314.1 441.1 L314.6 439.6 L315.0 439.3 L315.5 442.0 L315.9 438.2 L316.4 435.0 L316.8 450.2 L317.3 426.4 L317.8 437.1 L318.2 441.3 L318.7 434.6 L319.1 433.9 L319.6 434.9 L320.0 428.8 L320.5 434.7 L321.0 434.5 L321.4 431.5 L321.9 439.4 L322.3 434.2 L322.8 433.6 L323.2 431.8 L323.7 427.8 L324.2 432.0 L324.6 433.2 L325.1 430.9 L325.5 438.7 L326.0 427.2 L326.4 433.8 L326.9 421.6 L327.3 432.9 L327.8 424.6 L328.3 446.3 L328.7 433.8 L329.2 442.3 L329.6 439.3 L330.1 437.8 L330.5 441.1 L331.0 450.0" fill="none" stroke="#f6c80c" stroke-width="0.68" stroke-linejoin="round" stroke-opacity="0.95"/>
<path d="M21.0 458.4 L21.5 454.9 L21.9 456.5 L22.4 444.3 L22.8 440.8 L23.3 416.3 L23.7 416.7 L24.2 426.0 L24.7 414.3 L25.1 411.6 L25.6 416.0 L26.0 421.6 L26.5 422.1 L26.9 427.7 L27.4 438.8 L27.8 442.0 L28.3 427.0 L28.8 424.5 L29.2 415.6 L29.7 433.4 L30.1 416.1 L30.6 425.0 L31.0 434.2 L31.5 436.0 L32.0 436.6 L32.4 456.8 L32.9 440.1 L33.3 440.8 L33.8 442.1 L34.2 442.2 L34.7 449.7 L35.2 433.8 L35.6 441.0 L36.1 426.6 L36.5 433.2 L37.0 428.7 L37.4 420.6 L37.9 416.3 L38.3 423.9 L38.8 418.2 L39.3 430.2 L39.7 438.2 L40.2 438.0 L40.6 424.1 L41.1 436.5 L41.5 429.3 L42.0 424.4 L42.5 421.3 L42.9 440.7 L43.4 427.1 L43.8 435.6 L44.3 450.1 L44.7 445.4 L45.2 440.5 L45.7 436.0 L46.1 442.0 L46.6 447.7 L47.0 445.7 L47.5 441.1 L47.9 444.4 L48.4 433.2 L48.8 436.0 L49.3 441.7 L49.8 442.5 L50.2 441.0 L50.7 450.7 L51.1 447.7 L51.6 441.2 L52.0 432.1 L52.5 427.7 L53.0 434.2 L53.4 438.6 L53.9 432.0 L54.3 431.4 L54.8 435.5 L55.2 438.0 L55.7 441.8 L56.2 444.0 L56.6 432.8 L57.1 428.0 L57.5 427.5 L58.0 426.6 L58.4 422.6 L58.9 432.7 L59.4 438.1 L59.8 428.1 L60.3 434.4 L60.7 423.3 L61.2 424.7 L61.6 437.0 L62.1 433.7 L62.5 435.3 L63.0 426.4 L63.5 427.8 L63.9 434.2 L64.4 428.7 L64.8 441.1 L65.3 440.7 L65.7 426.3 L66.2 427.4 L66.7 427.4 L67.1 443.9 L67.6 443.5 L68.0 440.7 L68.5 438.8 L68.9 434.9 L69.4 431.9 L69.9 441.7 L70.3 423.9 L70.8 433.0 L71.2 420.9 L71.7 434.9 L72.1 436.6 L72.6 432.4 L73.0 444.4 L73.5 424.9 L74.0 432.5 L74.4 437.5 L74.9 433.3 L75.3 443.3 L75.8 443.6 L76.2 440.3 L76.7 437.0 L77.2 430.3 L77.6 435.4 L78.1 435.5 L78.5 432.0 L79.0 435.6 L79.4 432.8 L79.9 425.6 L80.4 431.5 L80.8 435.0 L81.3 435.6 L81.7 443.5 L82.2 436.4 L82.6 432.1 L83.1 434.3 L83.5 425.0 L84.0 437.2 L84.5 430.4 L84.9 434.7 L85.4 431.7 L85.8 431.2 L86.3 429.4 L86.7 416.6 L87.2 435.4 L87.7 434.5 L88.1 450.6 L88.6 442.0 L89.0 437.9 L89.5 424.0 L89.9 424.1 L90.4 422.8 L90.9 416.0 L91.3 417.5 L91.8 430.5 L92.2 414.0 L92.7 418.2 L93.1 430.7 L93.6 429.6 L94.0 425.5 L94.5 417.3 L95.0 425.4 L95.4 427.4 L95.9 422.5 L96.3 420.5 L96.8 426.3 L97.2 409.1 L97.7 434.5 L98.2 425.7 L98.6 411.7 L99.1 432.9 L99.5 449.1 L100.0 426.3 L100.4 419.7 L100.9 423.1 L101.4 430.2 L101.8 434.1 L102.3 421.9 L102.7 424.0 L103.2 417.4 L103.6 437.2 L104.1 412.6 L104.5 426.2 L105.0 416.3 L105.5 415.1 L105.9 419.8 L106.4 408.1 L106.8 438.3 L107.3 426.9 L107.7 436.6 L108.2 431.4 L108.7 433.2 L109.1 436.4 L109.6 440.1 L110.0 446.3 L110.5 447.2 L110.9 448.6 L111.4 453.5 L111.9 446.7 L112.3 450.1 L112.8 446.7 L113.2 453.6 L113.7 458.2 L114.1 457.4 L114.6 453.1 L115.1 452.7 L115.5 455.1 L116.0 455.2 L116.4 457.7 L116.9 456.5 L117.3 456.0 L117.8 455.4 L118.2 453.8 L118.7 457.0 L119.2 455.5 L119.6 451.4 L120.1 455.4 L120.5 457.2 L121.0 456.7 L121.4 454.2 L121.9 455.6 L122.4 454.3 L122.8 455.5 L123.3 456.4 L123.7 454.0 L124.2 452.0 L124.6 448.9 L125.1 457.2 L125.6 449.9 L126.0 453.4 L126.5 454.0 L126.9 451.5 L127.4 451.8 L127.8 454.7 L128.3 456.0 L128.7 456.4 L129.2 447.5 L129.7 451.1 L130.1 448.0 L130.6 456.0 L131.0 451.2 L131.5 450.2 L131.9 457.1 L132.4 454.2 L132.9 453.9 L133.3 451.2 L133.8 454.0 L134.2 451.8 L134.7 450.8 L135.1 450.2 L135.6 453.6 L136.1 457.0 L136.5 452.3 L137.0 457.1 L137.4 452.4 L137.9 454.4 L138.3 454.5 L138.8 453.5 L139.2 451.3 L139.7 451.7 L140.2 453.4 L140.6 456.2 L141.1 456.1 L141.5 454.4 L142.0 456.6 L142.4 454.5 L142.9 453.8 L143.4 452.3 L143.8 456.9 L144.3 455.8 L144.7 458.4 L145.2 455.1 L145.6 453.4 L146.1 456.2 L146.6 455.1 L147.0 456.0 L147.5 457.0 L147.9 454.1 L148.4 454.6 L148.8 451.2 L149.3 447.6 L149.7 451.5 L150.2 447.7 L150.7 444.3 L151.1 452.7 L151.6 452.5 L152.0 456.0 L152.5 457.9 L152.9 455.3 L153.4 458.7 L153.9 456.0 L154.3 460.1 L154.8 457.0 L155.2 452.5 L155.7 453.8 L156.1 454.2 L156.6 454.4 L157.1 450.0 L157.5 452.5 L158.0 446.0 L158.4 446.0 L158.9 447.5 L159.3 448.8 L159.8 439.4 L160.2 442.9 L160.7 440.6 L161.2 435.2 L161.6 447.8 L162.1 438.8 L162.5 435.4 L163.0 438.0 L163.4 445.8 L163.9 429.4 L164.4 440.8 L164.8 445.7 L165.3 443.0 L165.7 445.1 L166.2 444.0 L166.6 446.5 L167.1 452.4 L167.6 453.1 L168.0 448.2 L168.5 444.4 L168.9 450.8 L169.4 450.8 L169.8 454.6 L170.3 453.6 L170.7 452.3 L171.2 445.9 L171.7 452.9 L172.1 456.5 L172.6 456.0 L173.0 454.4 L173.5 455.6 L173.9 458.2 L174.4 457.5 L174.9 457.8 L175.3 453.7 L175.8 450.2 L176.2 454.4 L176.7 446.0 L177.1 448.1 L177.6 445.6 L178.1 441.4 L178.5 442.3 L179.0 447.3 L179.4 435.8 L179.9 435.6 L180.3 440.2 L180.8 429.9 L181.3 430.1 L181.7 437.5 L182.2 438.9 L182.6 428.0 L183.1 424.8 L183.5 429.9 L184.0 445.0 L184.4 424.1 L184.9 432.6 L185.4 443.4 L185.8 432.4 L186.3 431.5 L186.7 429.4 L187.2 416.2 L187.6 425.2 L188.1 441.4 L188.6 420.9 L189.0 415.1 L189.5 418.7 L189.9 414.7 L190.4 432.5 L190.8 428.8 L191.3 436.7 L191.8 443.5 L192.2 425.2 L192.7 430.1 L193.1 433.3 L193.6 430.7 L194.0 437.0 L194.5 433.0 L194.9 434.0 L195.4 439.2 L195.9 443.8 L196.3 445.4 L196.8 440.0 L197.2 440.4 L197.7 443.8 L198.1 450.3 L198.6 448.5 L199.1 446.6 L199.5 453.2 L200.0 458.3 L200.4 456.3 L200.9 456.0 L201.3 455.7 L201.8 457.5 L202.3 460.5 L202.7 459.9 L203.2 459.7 L203.6 458.8 L204.1 458.4 L204.5 459.4 L205.0 458.2 L205.4 457.6 L205.9 457.2 L206.4 458.0 L206.8 458.8 L207.3 455.6 L207.7 451.3 L208.2 453.4 L208.6 448.2 L209.1 448.2 L209.6 457.3 L210.0 455.1 L210.5 451.6 L210.9 456.8 L211.4 451.9 L211.8 450.2 L212.3 451.1 L212.8 437.3 L213.2 439.0 L213.7 451.4 L214.1 444.1 L214.6 453.7 L215.0 454.5 L215.5 453.0 L215.9 452.9 L216.4 455.2 L216.9 452.5 L217.3 455.3 L217.8 456.0 L218.2 451.6 L218.7 454.4 L219.1 449.5 L219.6 451.1 L220.1 448.7 L220.5 447.8 L221.0 441.1 L221.4 448.3 L221.9 445.1 L222.3 457.1 L222.8 452.0 L223.3 452.6 L223.7 453.1 L224.2 456.6 L224.6 460.1 L225.1 457.3 L225.5 454.0 L226.0 459.3 L226.4 453.3 L226.9 448.7 L227.4 448.2 L227.8 448.3 L228.3 448.5 L228.7 446.1 L229.2 450.1 L229.6 451.6 L230.1 454.1 L230.6 439.7 L231.0 439.4 L231.5 441.0 L231.9 431.3 L232.4 434.4 L232.8 444.5 L233.3 431.4 L233.8 430.7 L234.2 438.1 L234.7 423.3 L235.1 431.6 L235.6 436.5 L236.0 433.0 L236.5 426.8 L236.9 440.6 L237.4 424.6 L237.9 429.8 L238.3 424.8 L238.8 427.6 L239.2 439.1 L239.7 430.5 L240.1 432.0 L240.6 437.1 L241.1 434.5 L241.5 436.8 L242.0 432.9 L242.4 424.1 L242.9 435.1 L243.3 433.0 L243.8 436.6 L244.3 433.8 L244.7 433.3 L245.2 428.7 L245.6 431.2 L246.1 446.5 L246.5 451.0 L247.0 446.2 L247.5 449.0 L247.9 450.5 L248.4 448.2 L248.8 454.2 L249.3 453.1 L249.7 451.9 L250.2 452.9 L250.6 456.7 L251.1 453.4 L251.6 451.8 L252.0 452.9 L252.5 452.1 L252.9 458.4 L253.4 448.4 L253.8 454.6 L254.3 455.7 L254.8 454.9 L255.2 456.1 L255.7 458.5 L256.1 458.8 L256.6 458.6 L257.0 460.3 L257.5 461.0 L258.0 457.7 L258.4 459.0 L258.9 458.7 L259.3 458.0 L259.8 458.7 L260.2 456.8 L260.7 456.1 L261.1 457.5 L261.6 459.2 L262.1 455.1 L262.5 454.1 L263.0 454.1 L263.4 448.8 L263.9 451.4 L264.3 453.8 L264.8 453.0 L265.3 451.0 L265.7 455.2 L266.2 453.3 L266.6 447.9 L267.1 449.9 L267.5 449.4 L268.0 451.4 L268.5 446.6 L268.9 449.4 L269.4 447.1 L269.8 449.0 L270.3 440.7 L270.7 451.2 L271.2 448.4 L271.6 453.0 L272.1 455.5 L272.6 451.3 L273.0 452.0 L273.5 452.3 L273.9 452.0 L274.4 451.5 L274.8 444.0 L275.3 450.8 L275.8 443.5 L276.2 440.7 L276.7 443.7 L277.1 439.5 L277.6 443.8 L278.0 451.8 L278.5 439.7 L279.0 439.5 L279.4 443.2 L279.9 440.6 L280.3 441.4 L280.8 439.6 L281.2 439.8 L281.7 439.4 L282.1 439.7 L282.6 423.6 L283.1 429.6 L283.5 416.2 L284.0 438.5 L284.4 437.0 L284.9 441.5 L285.3 440.7 L285.8 446.2 L286.3 446.8 L286.7 446.9 L287.2 443.9 L287.6 444.6 L288.1 443.7 L288.5 439.5 L289.0 435.6 L289.5 449.2 L289.9 440.8 L290.4 442.2 L290.8 442.5 L291.3 435.5 L291.7 444.3 L292.2 440.2 L292.6 437.8 L293.1 434.9 L293.6 442.4 L294.0 427.7 L294.5 430.5 L294.9 438.0 L295.4 436.9 L295.8 433.2 L296.3 442.3 L296.8 440.2 L297.2 434.1 L297.7 439.1 L298.1 438.1 L298.6 447.9 L299.0 440.9 L299.5 450.3 L300.0 435.9 L300.4 442.8 L300.9 443.7 L301.3 438.8 L301.8 442.7 L302.2 442.8 L302.7 443.5 L303.2 445.6 L303.6 447.4 L304.1 447.0 L304.5 448.0 L305.0 440.6 L305.4 451.0 L305.9 449.4 L306.3 453.4 L306.8 453.4 L307.3 456.2 L307.7 453.4 L308.2 452.6 L308.6 454.0 L309.1 446.9 L309.5 451.6 L310.0 448.6 L310.5 444.3 L310.9 451.7 L311.4 443.5 L311.8 449.5 L312.3 438.8 L312.7 445.2 L313.2 444.8 L313.7 442.4 L314.1 446.4 L314.6 440.6 L315.0 438.8 L315.5 447.9 L315.9 435.8 L316.4 434.9 L316.8 438.0 L317.3 430.7 L317.8 441.0 L318.2 434.3 L318.7 435.1 L319.1 432.7 L319.6 437.8 L320.0 437.4 L320.5 433.0 L321.0 435.7 L321.4 436.4 L321.9 446.4 L322.3 428.8 L322.8 436.9 L323.2 439.7 L323.7 427.8 L324.2 430.3 L324.6 432.9 L325.1 430.2 L325.5 441.7 L326.0 420.4 L326.4 435.1 L326.9 427.7 L327.3 429.9 L327.8 432.7 L328.3 440.7 L328.7 432.6 L329.2 436.3 L329.6 435.5 L330.1 438.0 L330.5 440.8 L331.0 442.4" fill="none" stroke="#f03c34" stroke-width="0.68" stroke-linejoin="round" stroke-opacity="0.95"/>
<rect x="21" y="385.7" width="310" height="83.5" fill="none" stroke="#a8a8a8" stroke-width="0.4"/>
<text x="20.2" y="386.5" font-size="2.25" font-weight="bold" fill="#111" text-anchor="end" stroke="#111" stroke-width="0.1">14</text>
<text x="20.2" y="398.43" font-size="2.25" font-weight="bold" fill="#111" text-anchor="end" stroke="#111" stroke-width="0.1">12</text>
<text x="20.2" y="410.36" font-size="2.25" font-weight="bold" fill="#111" text-anchor="end" stroke="#111" stroke-width="0.1">10</text>
<text x="20.2" y="422.29" font-size="2.25" font-weight="bold" fill="#111" text-anchor="end" stroke="#111" stroke-width="0.1">8</text>
<text x="20.2" y="434.21" font-size="2.25" font-weight="bold" fill="#111" text-anchor="end" stroke="#111" stroke-width="0.1">6</text>
<text x="20.2" y="446.14" font-size="2.25" font-weight="bold" fill="#111" text-anchor="end" stroke="#111" stroke-width="0.1">4</text>
<text x="20.2" y="458.07" font-size="2.25" font-weight="bold" fill="#111" text-anchor="end" stroke="#111" stroke-width="0.1">2</text>
<text x="20.2" y="470" font-size="2.25" font-weight="bold" fill="#111" text-anchor="end" stroke="#111" stroke-width="0.1">0</text>
<text x="15.8" y="428.1" font-size="5.95" font-weight="bold" fill="#000" text-anchor="middle" transform="rotate(-90 15.8 428.1)">Wind Speed (m/s)</text>
<rect x="309.3" y="386.0" width="21.6" height="18.8" fill="#fff" stroke="#ccc" stroke-width="0.25"/>
<rect x="310.3" y="387.85" width="4.6" height="1.5" fill="#a9a6e7"/>
<text x="316" y="389.4" font-size="2.45" font-weight="bold" fill="#222" text-anchor="start" stroke="#222" stroke-width="0.1">Actual Data</text>
<line x1="310.3" y1="391.5" x2="314.9" y2="391.5" stroke="#35c0ee" stroke-width="0.45"/>
<text x="316" y="392.3" font-size="2.45" font-weight="bold" fill="#222" text-anchor="start" stroke="#222" stroke-width="0.1">Sub-model 1</text>
<line x1="310.3" y1="394.37" x2="314.9" y2="394.37" stroke="#57cf78" stroke-width="0.45"/>
<text x="316" y="395.17" font-size="2.45" font-weight="bold" fill="#222" text-anchor="start" stroke="#222" stroke-width="0.1">Sub-model 2</text>
<line x1="310.3" y1="397.24" x2="314.9" y2="397.24" stroke="#c08be8" stroke-width="0.45"/>
<text x="316" y="398.04" font-size="2.45" font-weight="bold" fill="#222" text-anchor="start" stroke="#222" stroke-width="0.1">Sub-model 3</text>
<line x1="310.3" y1="400.11" x2="314.9" y2="400.11" stroke="#f6c80c" stroke-width="0.45"/>
<text x="316" y="400.91" font-size="2.45" font-weight="bold" fill="#222" text-anchor="start" stroke="#222" stroke-width="0.1">Sub-model 4</text>
<line x1="310.3" y1="402.98" x2="314.9" y2="402.98" stroke="#f03c34" stroke-width="0.45"/>
<text x="316" y="403.78" font-size="2.45" font-weight="bold" fill="#222" text-anchor="start" stroke="#222" stroke-width="0.1">Sub-model 5</text>
<rect x="22.2" y="204.4" width="63.3" height="59.3" fill="#fff" stroke="none"/>
<line x1="30.11" y1="204.4" x2="30.11" y2="263.7" stroke="#dcdcdc" stroke-width="0.3"/>
<line x1="38.02" y1="204.4" x2="38.02" y2="263.7" stroke="#dcdcdc" stroke-width="0.3"/>
<line x1="45.94" y1="204.4" x2="45.94" y2="263.7" stroke="#dcdcdc" stroke-width="0.3"/>
<line x1="53.85" y1="204.4" x2="53.85" y2="263.7" stroke="#dcdcdc" stroke-width="0.3"/>
<line x1="61.76" y1="204.4" x2="61.76" y2="263.7" stroke="#dcdcdc" stroke-width="0.3"/>
<line x1="69.67" y1="204.4" x2="69.67" y2="263.7" stroke="#dcdcdc" stroke-width="0.3"/>
<line x1="77.59" y1="204.4" x2="77.59" y2="263.7" stroke="#dcdcdc" stroke-width="0.3"/>
<line x1="22.2" y1="211.81" x2="85.5" y2="211.81" stroke="#dcdcdc" stroke-width="0.3"/>
<line x1="22.2" y1="219.22" x2="85.5" y2="219.22" stroke="#dcdcdc" stroke-width="0.3"/>
<line x1="22.2" y1="226.64" x2="85.5" y2="226.64" stroke="#dcdcdc" stroke-width="0.3"/>
<line x1="22.2" y1="234.05" x2="85.5" y2="234.05" stroke="#dcdcdc" stroke-width="0.3"/>
<line x1="22.2" y1="241.46" x2="85.5" y2="241.46" stroke="#dcdcdc" stroke-width="0.3"/>
<line x1="22.2" y1="248.88" x2="85.5" y2="248.88" stroke="#dcdcdc" stroke-width="0.3"/>
<line x1="22.2" y1="256.29" x2="85.5" y2="256.29" stroke="#dcdcdc" stroke-width="0.3"/>
<line x1="26.75" y1="263.7" x2="85.5" y2="208.66" stroke="#8a93a8" stroke-width="0.35" stroke-dasharray="0.5 0.4"/>
<line x1="22.2" y1="259.44" x2="80.95" y2="204.4" stroke="#8a93a8" stroke-width="0.35" stroke-dasharray="0.5 0.4"/>
<path d="M61.7 227.0h0M23.5 262.5h0M59.5 230.3h0M27.7 258.7h0M54.7 229.7h0M28.5 257.6h0M24.9 261.5h0M26.0 259.4h0M27.4 257.6h0M37.8 249.8h0M23.7 262.9h0M23.0 262.7h0M26.7 259.3h0M48.5 239.3h0M49.5 238.2h0M22.8 263.4h0M41.2 247.5h0M75.3 210.8h0M25.0 260.7h0M22.4 263.2h0M37.2 249.0h0M37.5 248.6h0M24.0 262.2h0M26.7 260.1h0M48.7 238.8h0M25.0 259.2h0M54.4 234.2h0M24.5 263.1h0M25.5 260.8h0M26.7 261.5h0M52.6 234.9h0M25.7 260.9h0M36.8 249.9h0M37.9 249.2h0M23.3 262.8h0M43.6 243.9h0M40.2 247.3h0M51.4 236.4h0M49.6 239.9h0M57.7 228.7h0M54.3 237.6h0M31.8 250.0h0M39.8 245.5h0M47.3 240.4h0M25.6 259.7h0M31.4 254.7h0M44.7 244.7h0M36.0 249.8h0M24.1 262.5h0M32.7 253.9h0M60.5 228.8h0M56.4 229.2h0M35.2 256.8h0M44.5 242.9h0M32.1 255.7h0M34.2 252.7h0M37.7 249.0h0M55.7 236.6h0M22.3 263.7h0M56.2 232.1h0M32.4 253.5h0M27.5 258.7h0M30.7 255.2h0M49.3 237.8h0M25.6 260.5h0M23.9 261.1h0M33.6 253.0h0M35.5 250.9h0M27.7 257.5h0M51.6 235.8h0M27.4 258.9h0M65.4 223.8h0M22.3 263.7h0M38.8 247.1h0M29.9 256.6h0M30.7 255.2h0M23.4 262.7h0M57.2 228.3h0M23.4 263.0h0M32.4 254.2h0M30.4 256.6h0M39.3 247.4h0M48.6 238.6h0M28.7 257.3h0M59.8 228.6h0M45.6 241.2h0M26.9 258.2h0M40.9 246.0h0M52.2 235.2h0M22.7 262.4h0M22.3 262.9h0M23.2 262.7h0M43.1 244.2h0M56.8 230.3h0M40.1 247.0h0M25.8 261.4h0M54.8 233.6h0M28.2 259.6h0M41.0 245.4h0M28.5 258.2h0M29.0 259.7h0M40.3 246.0h0M29.6 256.4h0M29.1 257.2h0M25.7 260.2h0M22.6 263.0h0M42.4 245.4h0M33.5 253.8h0M27.8 258.4h0M24.0 262.2h0M38.6 247.4h0M39.2 246.6h0M25.0 261.8h0M53.8 233.1h0M57.0 231.0h0M69.2 220.8h0M60.7 229.7h0M35.2 252.8h0M28.0 257.5h0M24.7 261.4h0M26.3 260.1h0M38.4 248.6h0M50.7 237.7h0M43.8 242.9h0M24.1 261.1h0M27.8 257.7h0M29.6 257.0h0M46.0 240.7h0M69.5 217.7h0M31.9 251.1h0M48.1 238.4h0M44.6 238.4h0M23.7 262.7h0M59.5 228.8h0M32.3 254.5h0M51.5 237.6h0M36.1 251.9h0M51.4 235.8h0M50.8 238.2h0M34.5 252.2h0M26.3 260.2h0M25.4 261.3h0M26.6 262.4h0M57.6 229.4h0M60.4 227.8h0M42.8 245.3h0M23.3 258.3h0M38.3 249.0h0M37.2 251.9h0M52.3 235.1h0M45.8 240.1h0M25.2 260.6h0M32.9 257.7h0M24.3 261.8h0M45.1 238.9h0M34.0 251.8h0M25.4 260.0h0M24.8 260.8h0M26.8 259.6h0M23.1 263.2h0M26.3 260.2h0M61.1 226.1h0M33.5 252.5h0M25.2 260.4h0M36.0 253.7h0M24.2 261.4h0M27.7 258.4h0M51.7 240.2h0M51.4 236.9h0M38.0 247.6h0M23.8 261.1h0M32.4 254.7h0M43.9 243.4h0M30.6 255.3h0M24.0 261.9h0M44.6 242.3h0M29.9 251.8h0M26.7 258.6h0M26.2 260.0h0M22.7 263.1h0M52.0 235.3h0M24.5 261.4h0M23.3 262.2h0M32.6 253.5h0M33.1 252.3h0M51.1 237.7h0M49.4 238.3h0M57.3 230.0h0M58.2 230.0h0M26.6 259.4h0M24.3 261.6h0M31.6 254.8h0M56.7 232.3h0M36.2 252.0h0M27.2 259.9h0M30.7 255.0h0M55.6 232.4h0M55.4 232.7h0M36.8 254.2h0M54.4 233.8h0M23.6 262.4h0M31.5 254.8h0M67.4 220.7h0M33.0 253.4h0M25.2 261.0h0M36.9 249.8h0M26.1 260.6h0M31.7 254.5h0M36.2 251.3h0M30.4 256.4h0M23.2 262.9h0M61.1 227.8h0M31.8 252.7h0M47.6 243.6h0M46.2 240.2h0M30.4 256.1h0M60.3 228.4h0M23.4 263.1h0M25.6 260.2h0M39.5 243.9h0M49.0 237.2h0M24.6 261.1h0M26.7 259.5h0M36.1 251.7h0M44.1 242.4h0M26.4 259.1h0M26.2 262.2h0M23.2 262.5h0M55.1 231.6h0M25.2 261.0h0M24.2 261.5h0M27.3 258.7h0M45.2 244.1h0M54.9 232.8h0M23.7 261.8h0M24.0 262.2h0M27.7 259.4h0M26.8 259.5h0M27.5 259.0h0M45.0 243.3h0M48.0 239.5h0M37.9 247.9h0M24.8 261.6h0M27.2 259.2h0M24.6 261.4h0M54.0 229.5h0M34.9 251.7h0M30.9 255.4h0M38.1 249.5h0M53.7 235.4h0M24.9 261.2h0M65.5 223.7h0M62.0 227.8h0M54.9 233.4h0M26.5 259.9h0M25.9 260.4h0M22.6 263.1h0M23.6 262.1h0M23.8 261.8h0M34.1 252.9h0M37.5 248.6h0M32.9 253.7h0M25.5 258.5h0M49.0 238.6h0M36.9 248.8h0M23.4 262.5h0M26.0 260.3h0M46.7 241.5h0M40.9 245.2h0M60.2 228.6h0M37.3 249.9h0M49.2 236.1h0M42.3 244.5h0M48.6 239.3h0M54.4 231.9h0M40.1 248.5h0M61.7 231.2h0M33.2 254.2h0M30.7 256.1h0M55.1 233.7h0M38.2 249.0h0M25.1 257.1h0M29.4 255.3h0M24.3 261.4h0M25.6 259.8h0M49.1 238.8h0M35.4 250.2h0M24.2 262.1h0M52.1 236.7h0M30.5 254.5h0M31.5 255.3h0M53.7 232.7h0M55.6 237.3h0M32.7 252.0h0M22.3 263.3h0M53.4 234.3h0M33.0 253.4h0M40.7 246.3h0M34.4 251.9h0M51.6 236.9h0M24.3 259.3h0M30.7 256.5h0M37.9 248.7h0M23.8 262.3h0M54.2 236.9h0M68.0 219.6h0M24.4 261.5h0M38.4 247.6h0M57.9 227.7h0M44.2 242.6h0M59.9 228.8h0M36.2 251.1h0M38.1 248.6h0M43.9 244.4h0M27.0 259.4h0M35.1 251.9h0M51.4 238.1h0M69.4 219.0h0M28.5 257.4h0M27.4 257.0h0M52.6 235.9h0M28.2 257.4h0M60.0 228.4h0M26.0 260.6h0M23.2 262.1h0M31.7 257.7h0M32.2 253.6h0M27.3 258.6h0M44.1 244.4h0M27.6 258.5h0M38.4 246.9h0M56.7 230.0h0M34.2 252.6h0M32.2 259.1h0M42.5 245.3h0M48.6 239.3h0M29.5 257.0h0M67.4 222.5h0M54.6 230.2h0M51.7 234.7h0M48.8 238.5h0M30.6 254.5h0M39.3 247.9h0M30.1 256.0h0M23.0 262.7h0M46.9 240.6h0M23.0 260.5h0M39.0 249.2h0M30.0 256.4h0M57.9 231.3h0M27.2 259.6h0M47.6 237.7h0M23.0 262.9h0M22.9 263.1h0M52.3 235.9h0M27.7 258.9h0M22.5 263.1h0M24.9 260.8h0M31.2 255.0h0M26.6 259.2h0M39.0 248.4h0M32.3 253.8h0M26.8 260.0h0M23.1 262.8h0M54.9 233.0h0M59.6 228.2h0M45.8 242.4h0M35.3 251.4h0M53.4 235.5h0M44.0 244.0h0M30.2 257.8h0M37.2 248.0h0M47.9 238.8h0M29.1 257.0h0M23.9 261.5h0M25.1 261.2h0M26.3 259.4h0M26.9 259.2h0M49.1 239.5h0M25.7 262.4h0M45.8 241.1h0M37.0 249.2h0M50.9 236.8h0M25.3 260.6h0M35.3 251.6h0M24.4 262.0h0M32.7 252.1h0M30.6 257.5h0M30.5 255.9h0M50.7 235.6h0M44.4 242.7h0M25.2 259.3h0M38.7 251.2h0M25.5 256.2h0M24.8 261.7h0M50.3 236.9h0M37.7 248.6h0M35.0 252.1h0M31.8 255.4h0M30.1 257.1h0M24.5 261.7h0M27.8 258.5h0M60.6 229.2h0M47.1 241.1h0M24.1 262.0h0M26.6 259.7h0M33.2 254.0h0M41.3 246.5h0M33.8 255.6h0M43.5 244.9h0M52.4 231.2h0M38.7 250.3h0M52.6 234.9h0M24.0 261.8h0M23.8 262.6h0M34.8 252.1h0M41.3 246.7h0M22.4 258.8h0M60.4 228.9h0M78.7 210.3h0M32.8 254.2h0M74.0 216.0h0M23.6 262.3h0M38.7 249.0h0M42.4 245.6h0M50.0 236.2h0M24.7 261.5h0M29.4 255.8h0M45.8 242.9h0M79.0 210.3h0M58.1 229.4h0M28.6 258.2h0M61.6 228.6h0M29.1 256.8h0M56.5 234.2h0M25.0 261.5h0M26.3 259.1h0M52.6 236.1h0M26.7 259.6h0M23.9 262.0h0M46.8 239.6h0M26.9 259.8h0M25.9 260.1h0M25.8 260.7h0M26.5 260.4h0M22.8 262.9h0M26.7 255.5h0M66.4 226.8h0M37.9 249.6h0M40.9 245.7h0M29.5 259.9h0M29.5 256.9h0M55.3 233.9h0M58.7 230.0h0M27.7 259.3h0M55.7 233.1h0M26.1 260.3h0M29.9 255.1h0M36.2 251.2h0M36.7 249.2h0M24.5 261.4h0M24.6 261.7h0M63.3 224.1h0M47.2 237.3h0M31.0 256.1h0M45.2 241.4h0M55.5 233.0h0M37.3 249.5h0M24.1 261.9h0M37.4 247.9h0M36.6 250.6h0M24.3 263.1h0M47.2 238.9h0M43.3 246.8h0M36.0 250.5h0M52.6 236.6h0M60.3 230.0h0M33.0 254.1h0M26.1 260.3h0M49.6 239.3h0M24.0 261.3h0M32.1 252.7h0M52.9 235.3h0M32.4 258.0h0M27.1 259.2h0M58.2 233.4h0M51.6 239.2h0M55.1 229.5h0M23.2 262.3h0M30.1 256.1h0M51.9 236.4h0M52.5 235.6h0M31.3 255.4h0M43.1 243.7h0M42.6 244.0h0M58.7 230.2h0M35.4 253.1h0M55.3 233.7h0M26.5 258.1h0M51.0 238.2h0M37.4 249.1h0M26.0 257.7h0M49.1 237.9h0M48.3 239.4h0M24.2 261.5h0M24.0 262.2h0M27.8 255.8h0M46.8 236.4h0M28.7 257.8h0M27.7 258.9h0M53.8 234.1h0M60.4 228.0h0M35.8 247.7h0M44.1 241.1h0M22.7 263.6h0M45.9 240.7h0M26.0 259.8h0M36.8 250.3h0M32.9 253.0h0M68.8 221.8h0M22.4 263.0h0M52.9 232.9h0M25.5 260.1h0M38.4 248.8h0M33.7 252.9h0M29.8 255.3h0M24.5 261.2h0M41.1 245.5h0M44.6 243.7h0M53.3 234.2h0M23.9 261.9h0M27.7 258.3h0M53.9 235.1h0M24.8 260.5h0M52.3 236.1h0M27.3 258.8h0M58.3 229.4h0M29.5 256.4h0M23.6 263.2h0M47.1 240.3h0M56.6 233.5h0M62.9 225.2h0M28.5 262.0h0M26.8 259.2h0M54.6 233.8h0M35.6 251.6h0M28.3 257.6h0M51.7 235.6h0M54.2 232.7h0M26.9 259.6h0M53.2 235.0h0M38.9 249.0h0M25.9 260.6h0M24.1 262.1h0M43.9 242.2h0M50.1 236.0h0M24.9 261.0h0M26.0 258.1h0M23.0 262.8h0M39.3 248.1h0M63.6 227.9h0M22.4 263.5h0M49.1 238.5h0M47.4 240.4h0M41.5 245.5h0M59.3 228.9h0M45.3 242.1h0M33.9 250.6h0M45.7 242.9h0M25.3 263.3h0M23.5 262.6h0M25.7 259.7h0M24.1 262.3h0M46.0 241.2h0M49.3 238.4h0M24.0 260.0h0M22.6 263.5h0M33.0 253.3h0M33.2 251.8h0M24.9 261.6h0M52.1 235.1h0M50.9 236.5h0M45.4 243.0h0M22.7 262.5h0M44.2 242.8h0M26.7 259.9h0M30.2 259.3h0M23.3 262.1h0M30.5 256.0h0M60.2 228.0h0M24.0 261.6h0M40.6 246.2h0M25.0 261.5h0M22.9 263.0h0M22.4 263.3h0M29.7 256.0h0M49.4 238.6h0M45.6 239.8h0M42.9 245.8h0M38.9 247.3h0M23.8 260.1h0M57.6 229.8h0M42.8 244.3h0M46.0 246.2h0M30.1 256.7h0M57.2 232.3h0M26.9 259.6h0M32.1 254.1h0M52.1 234.2h0M55.0 234.8h0M32.9 251.9h0M23.6 261.2h0M51.2 236.0h0M27.8 258.8h0M27.6 256.6h0M24.2 261.8h0M29.7 261.5h0M70.9 216.0h0M37.1 248.8h0M57.8 228.3h0M64.1 227.4h0M54.5 232.0h0M39.6 247.9h0M39.3 246.6h0M48.1 239.5h0M55.1 232.7h0M33.4 251.8h0M26.3 259.7h0M55.7 232.4h0M52.2 234.3h0M24.7 261.6h0M39.1 247.1h0M24.7 261.3h0M25.6 260.1h0M36.3 250.9h0M58.0 229.4h0M70.8 219.5h0M24.3 261.5h0M53.9 233.3h0M25.3 260.0h0M31.9 254.1h0M25.3 261.3h0M34.6 255.3h0M37.4 249.5h0M30.7 253.6h0M44.8 242.3h0M35.7 250.9h0M43.6 245.8h0M31.2 256.0h0M41.4 246.0h0M50.5 235.8h0M31.4 253.3h0M59.3 228.1h0M26.1 259.4h0M22.8 263.3h0M49.3 244.6h0M26.0 260.2h0M42.4 247.0h0M42.2 244.8h0M31.1 257.4h0M38.3 248.8h0M24.5 261.5h0M47.5 240.3h0M29.9 257.0h0M26.0 259.4h0M63.4 225.5h0M52.7 237.1h0M38.1 248.1h0M68.1 217.3h0M26.2 262.4h0M27.4 259.0h0M28.6 260.0h0M45.9 241.3h0M27.4 259.1h0M42.7 245.2h0M33.0 252.5h0M24.5 262.4h0M36.2 249.6h0M34.5 251.4h0M57.2 232.0h0M25.1 262.5h0M51.6 237.0h0M41.4 246.1h0M26.4 260.2h0M49.6 237.7h0M52.5 234.8h0M38.7 248.9h0M52.2 235.7h0M44.2 241.7h0M22.6 263.2h0M38.8 250.0h0M60.2 226.8h0M37.0 249.6h0M59.9 228.2h0M22.4 263.6h0M48.9 239.2h0M41.9 245.2h0M58.5 228.3h0M22.8 262.2h0M36.1 251.1h0M54.1 233.8h0M41.3 246.3h0M54.5 234.7h0M34.6 252.3h0M51.1 238.8h0M26.9 254.5h0M51.0 236.4h0M23.0 262.9h0M56.2 230.7h0M26.4 260.6h0M41.7 246.2h0M33.5 249.0h0M23.9 261.6h0M27.3 259.1h0M36.6 250.6h0M43.9 243.0h0M70.6 218.4h0M26.1 260.1h0M26.9 260.7h0M51.8 237.5h0M26.9 257.1h0M44.1 243.7h0M23.7 263.3h0M35.8 250.4h0M24.5 262.4h0M77.4 212.3h0M39.9 247.0h0M30.9 255.6h0M55.9 231.2h0M22.6 263.6h0M26.5 259.8h0M52.7 234.8h0M33.0 253.6h0M31.5 255.1h0M31.9 255.0h0M33.1 247.8h0M56.8 231.1h0M25.2 263.2h0M57.1 230.8h0M52.4 235.4h0M24.3 261.8h0M38.1 249.1h0M34.6 253.5h0M39.2 247.0h0M29.4 256.0h0M39.3 246.8h0M30.9 256.1h0M22.2 262.7h0M27.4 259.7h0M49.1 238.8h0M26.7 259.7h0M47.8 238.6h0M22.4 263.4h0M55.4 232.2h0M53.9 234.6h0M48.8 239.0h0M38.2 247.3h0M32.6 252.9h0M24.1 261.0h0M24.8 260.5h0M23.7 262.1h0M47.1 240.2h0M57.6 230.0h0M46.8 240.3h0M24.1 261.5h0M29.0 256.3h0M52.9 234.0h0M22.6 263.2h0M64.0 226.0h0M30.7 256.1h0M32.1 253.3h0M54.7 231.8h0M32.1 254.8h0M52.0 236.0h0M39.3 247.5h0M22.3 263.7h0M33.0 253.9h0M47.1 240.7h0M35.0 252.8h0M32.2 256.3h0M58.1 229.6h0M58.0 229.0h0M25.1 260.8h0M44.3 243.3h0M24.7 261.2h0M38.3 249.1h0M32.4 258.4h0M31.8 254.9h0M38.3 248.1h0M51.7 236.9h0M57.7 230.5h0M35.3 251.0h0M43.5 244.0h0M23.8 262.0h0M49.3 238.8h0M59.3 228.8h0M23.6 261.7h0M55.6 234.4h0M30.6 258.8h0M55.9 231.9h0M43.4 244.7h0M28.2 258.1h0M28.5 258.0h0M42.0 244.8h0M36.9 250.6h0M30.2 256.5h0M37.1 249.5h0M34.0 252.1h0M49.1 238.8h0M27.2 259.1h0M48.1 240.2h0M34.1 254.0h0M35.8 251.6h0M23.6 262.1h0M75.1 213.3h0M26.7 259.6h0M44.5 242.3h0M70.6 223.2h0M66.2 221.3h0M34.7 252.9h0M31.1 254.9h0M45.5 242.9h0M47.9 239.7h0M22.8 263.4h0M36.9 250.0h0M27.2 259.4h0M61.7 228.7h0M28.5 256.6h0M44.2 243.6h0M38.5 244.8h0M24.9 259.8h0M49.3 238.6h0M22.9 262.6h0M62.0 226.4h0M35.5 254.4h0M41.3 245.6h0M44.0 243.3h0M61.9 228.1h0M48.3 240.2h0M44.1 242.9h0M23.7 262.5h0M52.8 233.7h0M23.2 262.9h0M49.7 238.4h0M45.9 242.0h0M26.3 259.7h0M43.2 245.0h0M31.4 255.3h0M46.6 239.7h0M45.2 243.8h0M45.6 240.7h0M59.2 226.3h0M26.7 260.3h0M26.6 259.2h0M34.4 252.8h0M46.2 240.9h0M25.8 260.9h0M28.7 258.2h0M54.7 233.3h0M43.3 244.5h0M22.4 263.4h0M32.8 253.7h0M52.2 235.8h0M38.6 247.9h0M30.7 254.6h0M60.6 227.4h0M54.6 232.6h0M27.9 258.0h0M47.7 239.9h0M58.7 229.7h0M58.4 229.0h0M36.7 251.2h0M56.2 230.4h0M22.4 259.8h0M37.4 248.7h0M28.4 260.8h0M34.3 251.9h0M25.5 260.9h0M26.2 260.6h0M43.2 246.7h0M30.8 256.3h0M36.4 251.0h0M28.1 258.4h0M56.1 229.6h0M46.0 242.5h0M65.3 221.3h0M61.1 227.5h0M32.9 257.3h0M75.4 214.8h0M52.7 237.2h0M25.0 260.9h0M41.0 248.1h0M37.0 250.3h0M26.1 260.0h0M54.1 232.6h0M36.9 250.1h0M27.1 258.8h0M44.7 240.6h0M78.9 211.0h0M56.8 230.1h0M27.9 258.4h0M40.1 246.9h0M22.3 263.5h0M51.2 236.2h0M42.3 244.6h0M39.1 248.2h0M53.9 234.0h0M24.3 261.4h0M32.6 252.9h0M30.6 256.1h0M60.5 229.3h0M35.6 251.0h0M43.1 244.2h0M27.6 260.8h0M60.3 226.7h0M78.6 211.9h0M43.6 244.2h0M24.8 261.6h0M47.6 239.8h0M24.8 260.7h0M30.4 258.1h0M38.7 248.8h0M36.3 250.5h0M40.7 246.2h0M26.9 259.1h0M26.2 259.1h0M77.1 213.3h0M27.2 259.5h0M29.7 257.2h0M33.3 256.0h0M37.1 250.6h0M48.0 239.6h0M44.5 242.2h0M36.6 250.8h0M49.3 238.9h0M29.9 256.6h0M68.9 220.1h0M28.0 258.9h0M45.0 242.6h0M27.9 257.9h0M42.7 244.5h0M32.6 253.5h0M24.8 261.0h0M36.2 251.5h0M49.7 236.1h0M48.3 239.3h0M49.7 238.0h0M64.0 226.3h0M48.5 237.2h0M26.6 258.8h0M68.4 220.3h0M44.6 242.4h0M50.3 237.7h0M30.0 254.6h0M42.1 244.5h0M29.5 258.4h0M48.8 238.2h0M44.1 241.8h0M23.0 263.1h0M33.6 252.7h0M33.7 253.8h0M46.8 237.7h0M48.6 241.3h0M27.0 259.6h0M33.6 259.4h0M53.3 234.3h0M24.3 261.5h0M29.1 256.8h0M42.1 244.9h0M52.5 234.0h0M33.9 253.8h0M40.9 247.1h0M31.9 253.9h0M51.4 235.1h0M22.5 261.9h0M24.7 260.6h0M26.6 258.7h0M39.7 247.3h0M24.4 260.3h0M47.1 241.4h0M25.2 260.6h0M55.4 232.6h0M32.3 258.0h0M26.6 260.7h0M54.5 233.7h0M40.5 245.9h0M38.6 248.8h0M22.6 263.5h0M48.4 239.6h0M28.8 261.5h0M46.3 240.1h0M43.4 244.3h0M26.9 259.4h0M41.0 245.7h0M48.3 241.0h0M26.4 259.3h0M49.5 237.1h0M32.3 253.9h0M43.7 245.1h0M27.0 259.4h0M30.9 255.2h0M45.0 242.1h0M36.8 249.3h0M23.3 262.6h0M34.7 250.9h0M30.1 254.9h0M59.9 229.5h0M57.5 231.4h0M46.8 241.5h0M58.2 230.3h0M39.0 248.5h0M27.0 258.7h0M33.0 253.6h0M28.4 257.1h0M27.6 259.2h0M22.5 262.8h0M24.7 261.0h0M32.3 254.3h0M33.2 252.5h0M27.0 259.7h0M31.1 258.1h0M24.4 261.6h0M36.0 254.0h0M71.8 217.1h0M46.1 241.7h0M52.3 236.4h0M46.6 241.5h0M25.4 261.5h0M27.9 260.4h0M27.4 259.4h0M40.4 248.8h0M31.2 257.0h0M26.1 260.7h0M33.8 253.2h0M42.9 242.4h0M56.6 231.6h0M42.3 244.9h0M45.8 241.9h0M44.4 241.9h0M36.5 250.2h0M35.1 252.2h0M32.1 254.4h0M45.4 244.5h0M51.6 239.4h0M36.5 249.2h0M57.8 229.4h0M29.5 257.7h0M59.5 227.6h0M30.2 256.5h0M36.3 251.5h0M49.5 238.3h0M23.1 263.1h0M24.5 261.1h0M25.5 260.6h0M50.4 237.9h0M26.9 260.0h0M45.7 240.5h0M24.7 261.6h0M37.7 249.6h0M47.2 237.2h0M57.7 230.1h0M42.3 245.3h0M39.2 247.3h0M60.2 229.0h0M46.8 241.5h0M38.7 247.4h0M60.5 228.0h0M23.0 262.9h0M22.6 262.5h0M59.7 227.7h0M25.2 261.3h0" fill="none" stroke="#2e9f6e" stroke-opacity="0.5" stroke-width="0.64" stroke-linecap="round"/>
<line x1="22.2" y1="263.7" x2="85.5" y2="204.4" stroke="#4b63d8" stroke-width="0.4"/>
<rect x="22.2" y="204.4" width="63.3" height="59.3" fill="none" stroke="#a8a8a8" stroke-width="0.4"/>
<text x="22.2" y="266.5" font-size="2.25" font-weight="bold" fill="#111" text-anchor="middle" stroke="#111" stroke-width="0.1">0</text>
<text x="21.4" y="264.5" font-size="2.25" font-weight="bold" fill="#111" text-anchor="end" stroke="#111" stroke-width="0.1">0</text>
<text x="30.11" y="266.5" font-size="2.25" font-weight="bold" fill="#111" text-anchor="middle" stroke="#111" stroke-width="0.1">200</text>
<text x="21.4" y="257.09" font-size="2.25" font-weight="bold" fill="#111" text-anchor="end" stroke="#111" stroke-width="0.1">200</text>
<text x="38.02" y="266.5" font-size="2.25" font-weight="bold" fill="#111" text-anchor="middle" stroke="#111" stroke-width="0.1">400</text>
<text x="21.4" y="249.68" font-size="2.25" font-weight="bold" fill="#111" text-anchor="end" stroke="#111" stroke-width="0.1">400</text>
<text x="45.94" y="266.5" font-size="2.25" font-weight="bold" fill="#111" text-anchor="middle" stroke="#111" stroke-width="0.1">600</text>
<text x="21.4" y="242.26" font-size="2.25" font-weight="bold" fill="#111" text-anchor="end" stroke="#111" stroke-width="0.1">600</text>
<text x="53.85" y="266.5" font-size="2.25" font-weight="bold" fill="#111" text-anchor="middle" stroke="#111" stroke-width="0.1">800</text>
<text x="21.4" y="234.85" font-size="2.25" font-weight="bold" fill="#111" text-anchor="end" stroke="#111" stroke-width="0.1">800</text>
<text x="61.76" y="266.5" font-size="2.25" font-weight="bold" fill="#111" text-anchor="middle" stroke="#111" stroke-width="0.1">1000</text>
<text x="21.4" y="227.44" font-size="2.25" font-weight="bold" fill="#111" text-anchor="end" stroke="#111" stroke-width="0.1">1000</text>
<text x="69.67" y="266.5" font-size="2.25" font-weight="bold" fill="#111" text-anchor="middle" stroke="#111" stroke-width="0.1">1200</text>
<text x="21.4" y="220.03" font-size="2.25" font-weight="bold" fill="#111" text-anchor="end" stroke="#111" stroke-width="0.1">1200</text>
<text x="77.59" y="266.5" font-size="2.25" font-weight="bold" fill="#111" text-anchor="middle" stroke="#111" stroke-width="0.1">1400</text>
<text x="21.4" y="212.61" font-size="2.25" font-weight="bold" fill="#111" text-anchor="end" stroke="#111" stroke-width="0.1">1400</text>
<text x="85.5" y="266.5" font-size="2.25" font-weight="bold" fill="#111" text-anchor="middle" stroke="#111" stroke-width="0.1">1600</text>
<text x="21.4" y="205.2" font-size="2.25" font-weight="bold" fill="#111" text-anchor="end" stroke="#111" stroke-width="0.1">1600</text>
<text x="53.85" y="271" font-size="2.8" font-weight="bold" fill="#111" text-anchor="middle" stroke="#111" stroke-width="0.1">CM<tspan font-size="1.8" dy="0.6">1</tspan></text>
<text x="14.9" y="234.45" font-size="2.65" font-weight="bold" fill="#111" text-anchor="middle" transform="rotate(-90 14.9 234.45)" stroke="#111" stroke-width="0.1">Actual Data</text>
<circle cx="28.9" cy="206.6" r="0.35" fill="#2e9f6e"/>
<text x="33.6" y="207.3" font-size="2.3" font-weight="bold" fill="#222" text-anchor="start" stroke="#222" stroke-width="0.1">CM<tspan font-size="1.6" dy="0.5">1</tspan><tspan dy="-0.5"> vs. Actual Data</tspan></text>
<line x1="27.2" y1="209.1" x2="30.8" y2="209.1" stroke="#4b63d8" stroke-width="0.4"/>
<text x="33.6" y="209.8" font-size="2.3" font-weight="bold" fill="#222" text-anchor="start" stroke="#222" stroke-width="0.1">Actual Data</text>
<line x1="27.2" y1="211.6" x2="30.8" y2="211.6" stroke="#8a93a8" stroke-width="0.35" stroke-dasharray="0.5 0.4"/>
<text x="33.6" y="212.3" font-size="2.3" font-weight="bold" fill="#222" text-anchor="start" stroke="#222" stroke-width="0.1">Pred bnds (95%)</text>
<rect x="104.4" y="204.4" width="63.3" height="59.3" fill="#fff" stroke="none"/>
<line x1="112.31" y1="204.4" x2="112.31" y2="263.7" stroke="#dcdcdc" stroke-width="0.3"/>
<line x1="120.22" y1="204.4" x2="120.22" y2="263.7" stroke="#dcdcdc" stroke-width="0.3"/>
<line x1="128.14" y1="204.4" x2="128.14" y2="263.7" stroke="#dcdcdc" stroke-width="0.3"/>
<line x1="136.05" y1="204.4" x2="136.05" y2="263.7" stroke="#dcdcdc" stroke-width="0.3"/>
<line x1="143.96" y1="204.4" x2="143.96" y2="263.7" stroke="#dcdcdc" stroke-width="0.3"/>
<line x1="151.88" y1="204.4" x2="151.88" y2="263.7" stroke="#dcdcdc" stroke-width="0.3"/>
<line x1="159.79" y1="204.4" x2="159.79" y2="263.7" stroke="#dcdcdc" stroke-width="0.3"/>
<line x1="104.4" y1="211.81" x2="167.7" y2="211.81" stroke="#dcdcdc" stroke-width="0.3"/>
<line x1="104.4" y1="219.22" x2="167.7" y2="219.22" stroke="#dcdcdc" stroke-width="0.3"/>
<line x1="104.4" y1="226.64" x2="167.7" y2="226.64" stroke="#dcdcdc" stroke-width="0.3"/>
<line x1="104.4" y1="234.05" x2="167.7" y2="234.05" stroke="#dcdcdc" stroke-width="0.3"/>
<line x1="104.4" y1="241.46" x2="167.7" y2="241.46" stroke="#dcdcdc" stroke-width="0.3"/>
<line x1="104.4" y1="248.88" x2="167.7" y2="248.88" stroke="#dcdcdc" stroke-width="0.3"/>
<line x1="104.4" y1="256.29" x2="167.7" y2="256.29" stroke="#dcdcdc" stroke-width="0.3"/>
<line x1="110.33" y1="263.7" x2="167.7" y2="209.96" stroke="#8a93a8" stroke-width="0.35" stroke-dasharray="0.5 0.4"/>
<line x1="104.4" y1="258.14" x2="161.77" y2="204.4" stroke="#8a93a8" stroke-width="0.35" stroke-dasharray="0.5 0.4"/>
<path d="M134.9 234.8h0M113.2 257.2h0M129.1 241.8h0M107.9 261.6h0M137.4 231.3h0M110.9 255.7h0M110.1 259.3h0M133.4 235.4h0M132.9 233.0h0M118.7 250.3h0M128.2 242.2h0M124.8 245.9h0M141.7 227.5h0M116.1 252.6h0M106.1 261.2h0M106.0 261.4h0M138.1 230.8h0M125.5 241.3h0M114.8 254.1h0M140.3 231.8h0M113.6 254.4h0M105.1 262.9h0M111.5 256.9h0M120.6 248.1h0M110.6 258.9h0M120.3 247.4h0M142.6 228.1h0M109.2 253.8h0M111.5 257.4h0M131.7 238.6h0M106.4 261.2h0M112.3 255.1h0M130.6 238.8h0M133.0 235.3h0M130.7 242.2h0M110.9 257.4h0M116.6 253.2h0M145.6 227.4h0M154.7 217.1h0M109.3 259.3h0M122.5 248.6h0M113.3 255.9h0M140.3 231.3h0M144.8 217.7h0M108.0 256.3h0M139.1 233.4h0M129.5 241.1h0M131.0 240.5h0M143.2 227.8h0M118.9 250.3h0M127.9 242.7h0M106.1 262.5h0M109.5 259.2h0M142.4 228.4h0M116.5 252.6h0M146.9 227.5h0M119.0 247.0h0M109.6 255.3h0M140.1 228.4h0M105.1 259.2h0M121.6 249.9h0M113.9 253.5h0M139.7 227.7h0M108.5 260.6h0M133.6 236.0h0M129.6 240.4h0M112.8 257.0h0M106.1 262.6h0M115.2 253.6h0M140.7 231.9h0M107.1 261.0h0M111.9 253.6h0M126.0 244.0h0M111.0 256.0h0M105.2 261.7h0M137.4 229.5h0M104.8 261.7h0M129.0 241.6h0M109.2 258.5h0M134.8 234.1h0M113.1 256.1h0M124.5 245.4h0M111.9 249.9h0M128.2 241.7h0M121.0 249.5h0M106.7 261.5h0M105.5 263.1h0M137.0 232.2h0M114.2 254.5h0M145.6 225.0h0M125.2 246.3h0M116.8 251.9h0M132.5 240.6h0M113.2 259.7h0M112.3 259.6h0M138.0 233.1h0M127.1 244.0h0M105.9 262.1h0M135.4 234.9h0M105.9 262.6h0M135.3 234.4h0M105.9 262.9h0M132.1 237.9h0M150.4 219.5h0M114.0 254.7h0M157.3 213.2h0M152.0 218.3h0M117.6 253.2h0M106.3 261.4h0M106.8 260.7h0M148.9 222.0h0M139.4 229.7h0M118.5 250.5h0M132.4 235.5h0M145.0 227.7h0M115.3 256.6h0M132.7 237.5h0M137.5 232.0h0M117.0 253.6h0M117.2 255.2h0M131.9 238.3h0M104.8 262.3h0M111.6 257.4h0M107.1 261.5h0M121.2 246.7h0M120.3 247.6h0M111.9 251.2h0M138.7 230.6h0M134.4 239.3h0M115.4 254.5h0M110.6 257.9h0M108.1 260.1h0M132.0 237.0h0M127.8 243.3h0M140.2 229.8h0M114.0 258.7h0M104.9 263.6h0M109.4 259.2h0M146.9 222.0h0M120.9 249.9h0M110.4 257.8h0M113.1 255.0h0M127.9 240.0h0M122.2 246.0h0M113.9 255.8h0M143.8 229.1h0M121.3 247.4h0M118.0 251.4h0M131.2 238.5h0M132.6 236.9h0M156.6 213.0h0M122.0 247.6h0M106.3 262.2h0M143.1 230.8h0M115.1 253.2h0M127.9 250.4h0M113.1 257.0h0M139.5 235.6h0M160.5 213.5h0M108.0 260.1h0M115.1 254.3h0M129.0 244.3h0M141.6 231.6h0M106.9 261.1h0M114.3 254.3h0M126.1 246.3h0M126.1 245.0h0M129.3 239.5h0M108.2 263.0h0M105.5 259.4h0M116.4 252.9h0M131.9 239.4h0M123.0 250.5h0M144.9 227.8h0M110.4 258.4h0M107.4 261.2h0M112.9 257.7h0M111.8 256.6h0M117.9 251.9h0M130.2 239.0h0M105.6 263.0h0M137.4 232.2h0M110.4 258.7h0M145.5 224.8h0M118.6 252.0h0M123.4 244.5h0M110.1 259.8h0M114.5 252.2h0M110.7 257.0h0M142.0 228.1h0M156.5 215.7h0M112.1 256.2h0M125.9 243.9h0M122.1 246.6h0M142.0 228.3h0M110.6 258.6h0M112.3 256.9h0M120.0 249.6h0M104.8 262.2h0M133.0 236.9h0M140.7 229.9h0M121.1 248.1h0M108.5 259.8h0M110.8 258.2h0M138.9 230.3h0M164.5 211.7h0M110.7 257.1h0M114.1 252.1h0M108.7 253.9h0M129.2 238.9h0M126.8 243.8h0M110.7 259.8h0M146.0 224.6h0M135.1 234.6h0M119.0 249.7h0M139.1 229.2h0M115.0 253.1h0M110.1 257.8h0M114.5 257.5h0M137.7 234.6h0M104.8 263.7h0M122.5 245.7h0M163.4 211.2h0M107.7 259.4h0M107.7 260.5h0M106.8 260.8h0M142.6 229.8h0M126.1 243.0h0M109.4 260.0h0M129.8 238.8h0M108.2 259.3h0M135.6 237.4h0M109.2 259.6h0M140.6 228.9h0M109.5 258.5h0M139.9 230.3h0M110.8 259.0h0M104.8 262.8h0M106.6 262.9h0M105.2 263.3h0M126.2 242.6h0M106.0 263.5h0M109.1 254.0h0M150.7 221.6h0M132.6 236.3h0M135.7 234.4h0M111.6 257.7h0M134.1 236.8h0M111.2 257.9h0M105.7 263.4h0M104.8 262.8h0M111.4 258.4h0M118.0 252.0h0M126.9 243.6h0M104.8 263.6h0M119.6 245.6h0M107.9 260.6h0M130.0 240.0h0M122.2 253.1h0M106.5 262.5h0M135.3 235.1h0M106.8 260.9h0M117.9 251.5h0M140.1 235.3h0M125.0 243.8h0M118.9 248.1h0M111.0 258.1h0M161.4 213.5h0M138.9 230.5h0M115.7 253.7h0M139.8 232.4h0M109.0 259.6h0M126.5 243.1h0M128.6 238.4h0M141.2 228.7h0M107.8 260.7h0M146.0 227.6h0M130.3 239.0h0M127.3 247.3h0M115.6 259.5h0M107.9 260.6h0M147.5 222.8h0M153.6 217.5h0M107.9 260.9h0M109.2 259.9h0M122.1 246.9h0M148.1 222.6h0M124.9 246.3h0M143.9 228.5h0M137.0 230.4h0M137.5 234.7h0M124.4 245.0h0M104.5 263.5h0M121.3 248.6h0M117.0 250.0h0M163.4 211.8h0M150.2 223.0h0M107.3 260.6h0M121.1 248.8h0M122.3 246.1h0M119.5 250.2h0M140.2 231.3h0M140.5 229.9h0M127.5 242.4h0M114.7 256.0h0M109.3 261.7h0M110.7 261.3h0M162.2 210.5h0M129.9 241.1h0M105.2 263.1h0M120.8 249.3h0M144.2 228.0h0M109.4 260.0h0M110.5 257.3h0M130.1 238.8h0M126.4 245.3h0M112.1 256.2h0M126.0 243.3h0M133.3 236.2h0M140.0 231.4h0M136.9 231.3h0M121.3 247.2h0M106.6 261.4h0M111.7 257.9h0M142.7 227.4h0M112.6 253.4h0M119.0 251.5h0M124.3 245.2h0M115.9 254.3h0M140.5 232.3h0M132.6 242.4h0M120.9 247.5h0M140.4 229.1h0M110.6 256.6h0M112.5 256.2h0M107.9 261.0h0M104.8 263.0h0M107.7 260.2h0M124.6 244.9h0M138.3 233.9h0M135.4 237.1h0M108.3 258.7h0M108.4 256.7h0M105.8 262.4h0M110.5 258.3h0M142.2 229.7h0M134.7 236.1h0M110.9 259.1h0M134.4 236.9h0M110.6 258.6h0M124.0 245.8h0M126.7 243.4h0M105.2 261.2h0M110.0 258.7h0M128.2 241.6h0M123.3 246.7h0M105.4 263.5h0M141.4 228.7h0M118.3 244.5h0M104.5 262.1h0M119.8 250.5h0M134.3 236.8h0M127.8 241.6h0M132.6 235.3h0M145.6 228.6h0M123.1 247.1h0M121.1 245.2h0M120.5 252.7h0M119.9 247.8h0M107.7 261.1h0M124.8 242.1h0M109.1 260.9h0M105.9 262.0h0M116.6 251.2h0M137.9 232.8h0M111.3 256.9h0M132.3 236.7h0M124.4 247.4h0M109.9 259.1h0M143.2 229.4h0M121.9 248.7h0M107.3 259.6h0M110.5 258.7h0M107.0 261.8h0M142.5 226.2h0M106.1 262.5h0M126.1 245.7h0M108.8 259.7h0M105.9 262.8h0M124.5 244.8h0M116.5 252.6h0M141.1 228.9h0M106.8 262.1h0M115.8 252.3h0M117.8 252.1h0M114.4 252.6h0M138.5 232.3h0M140.8 229.2h0M116.9 251.8h0M110.6 257.5h0M140.9 230.5h0M108.7 259.3h0M137.2 234.5h0M144.1 228.2h0M115.9 262.0h0M112.7 256.5h0M114.2 254.5h0M132.7 239.7h0M150.6 219.6h0M106.3 262.5h0M110.0 262.9h0M124.9 245.3h0M106.0 262.8h0M108.0 259.3h0M105.6 261.7h0M112.2 255.9h0M133.2 239.4h0M112.1 256.1h0M114.8 254.5h0M129.7 238.5h0M136.1 234.2h0M108.2 259.5h0M140.3 230.1h0M108.3 259.4h0M134.7 234.6h0M132.8 238.4h0M130.7 239.6h0M108.5 260.0h0M108.7 260.9h0M114.8 254.2h0M121.5 248.3h0M142.5 232.4h0M128.5 242.5h0M117.5 250.6h0M117.6 249.6h0M118.4 251.8h0M130.2 241.4h0M140.8 230.2h0M129.7 241.4h0M113.7 253.4h0M116.2 253.8h0M121.6 247.5h0M106.3 260.4h0M121.2 245.9h0M107.6 261.4h0M105.5 262.0h0M108.6 258.6h0M105.0 262.2h0M130.4 240.3h0M109.4 262.0h0M127.2 241.2h0M134.3 236.9h0M107.6 260.9h0M132.5 237.1h0M105.8 262.4h0M125.6 245.9h0M108.7 260.5h0M113.2 256.9h0M107.3 260.5h0M105.7 261.4h0M110.1 258.4h0M107.5 260.8h0M109.1 262.7h0M118.8 250.9h0M113.0 257.5h0M153.6 216.6h0M132.1 234.5h0M106.6 261.7h0M110.5 258.1h0M135.0 232.5h0M112.0 257.1h0M122.6 246.6h0M118.5 248.5h0M110.6 257.5h0M105.1 260.4h0M107.0 261.6h0M105.5 262.4h0M109.4 259.4h0M112.1 256.1h0M141.0 227.4h0M105.3 262.9h0M129.5 238.9h0M112.4 255.5h0M127.5 241.6h0M126.5 243.6h0M119.2 248.1h0M112.9 255.5h0M133.8 235.3h0M132.9 235.4h0M121.7 248.3h0M105.0 263.0h0M121.4 243.4h0M141.1 229.2h0M120.6 246.5h0M107.3 260.9h0M111.8 256.5h0M106.2 261.5h0M120.0 249.1h0M105.4 262.3h0M148.9 220.5h0M110.3 258.3h0M119.0 244.3h0M109.7 258.4h0M110.1 259.7h0M121.1 249.1h0M120.6 248.9h0M110.0 259.2h0M117.2 251.9h0M105.2 263.0h0M129.3 240.9h0M139.7 231.0h0M124.9 242.6h0M111.8 257.8h0M126.8 241.4h0M105.3 262.7h0M140.1 231.2h0M146.1 223.1h0M134.2 233.1h0M106.0 263.5h0M111.5 257.7h0M111.5 256.7h0M117.0 253.1h0M106.1 262.5h0M129.2 240.2h0M136.7 234.6h0M142.4 228.9h0M111.6 257.2h0M118.8 251.1h0M118.5 251.2h0M105.3 263.2h0M109.9 257.4h0M109.9 258.7h0M105.4 262.9h0M106.6 262.3h0M143.2 228.7h0M124.8 244.8h0M139.1 229.9h0M142.1 228.8h0M111.2 256.7h0M112.9 255.2h0M107.3 261.0h0M126.9 242.3h0M120.0 249.0h0M112.2 258.4h0M124.0 245.4h0M116.6 251.4h0M106.0 261.5h0M115.8 254.8h0M140.3 231.1h0M113.0 249.9h0M141.1 229.2h0M112.1 253.5h0M126.9 244.0h0M116.0 253.5h0M106.1 261.9h0M110.9 258.3h0M107.9 260.3h0M139.4 230.8h0M117.0 253.3h0M104.5 263.0h0M110.1 257.3h0M117.0 252.4h0M134.5 236.0h0M104.7 263.5h0M113.5 257.2h0M113.5 253.6h0M118.9 253.4h0M108.2 260.2h0M104.6 255.6h0M107.4 254.7h0M110.5 259.5h0M118.1 251.1h0M110.7 257.2h0M120.0 248.5h0M137.8 232.0h0M130.9 239.4h0M132.1 239.3h0M110.9 256.8h0M105.6 262.9h0M120.7 249.5h0M118.3 251.0h0M104.6 263.0h0M121.7 248.5h0M140.2 228.1h0M125.3 242.5h0M106.2 261.7h0M106.2 262.6h0M132.2 237.9h0M138.7 233.0h0M105.8 262.9h0M138.9 230.3h0M118.2 249.0h0M105.8 262.5h0M116.4 251.1h0M126.9 235.2h0M124.5 244.6h0M121.9 246.0h0M138.0 233.5h0M143.1 227.9h0M104.4 263.3h0M109.2 262.2h0M111.1 257.4h0M105.7 262.1h0M136.1 234.6h0M108.0 260.3h0M121.2 246.2h0M157.0 216.2h0M139.7 231.8h0M147.4 228.1h0M109.4 262.6h0M104.4 262.9h0M154.1 215.4h0M120.1 246.7h0M120.5 246.6h0M107.2 260.5h0M105.2 262.1h0M114.1 255.7h0M137.1 235.0h0M110.4 258.5h0M118.6 249.8h0M124.7 245.1h0M111.8 257.8h0M134.0 234.5h0M106.4 262.4h0M144.4 230.1h0M109.0 259.2h0M109.8 258.5h0M139.1 230.2h0M163.3 212.1h0M114.2 255.4h0M111.9 256.9h0M138.9 231.3h0M136.1 239.0h0M141.8 230.5h0M117.0 251.6h0M111.5 258.3h0M136.0 233.5h0M127.3 241.3h0M108.2 258.7h0M113.0 256.8h0M112.0 256.4h0M122.7 242.6h0M113.3 256.1h0M107.6 261.5h0M113.4 259.2h0M127.0 244.2h0M132.4 229.5h0M125.2 242.8h0M105.5 262.7h0M112.8 256.1h0M115.4 254.3h0M104.9 263.7h0M140.7 230.4h0M106.8 260.8h0M113.4 258.1h0M109.6 258.3h0M112.4 256.8h0M125.7 243.8h0M152.6 218.8h0M105.1 263.5h0M112.6 256.3h0M141.5 228.1h0M134.9 238.1h0M107.6 261.2h0M135.3 234.2h0M133.7 236.5h0M106.2 261.8h0M123.8 244.6h0M126.5 244.3h0M139.5 228.3h0M114.6 254.8h0M113.3 255.2h0M136.4 227.7h0M104.7 263.2h0M114.5 254.9h0M155.7 216.6h0M144.3 228.9h0M120.4 248.5h0M104.5 262.7h0M117.6 251.2h0M116.5 252.7h0M127.1 242.3h0M152.4 218.1h0M123.7 242.4h0M106.6 261.6h0M108.9 259.0h0M144.7 227.4h0M111.8 256.7h0M111.4 257.2h0M115.2 253.2h0M115.2 248.5h0M117.0 252.3h0M159.2 210.3h0M105.7 261.8h0M114.6 248.0h0M116.3 251.8h0M114.6 254.4h0M136.5 233.2h0M139.4 231.9h0M122.4 247.9h0M125.2 243.5h0M110.1 258.1h0M134.5 235.5h0M119.2 249.6h0M136.3 234.3h0M133.7 235.1h0M119.6 248.3h0M107.9 259.8h0M127.9 241.5h0M136.0 234.9h0M118.6 249.5h0M104.7 260.1h0M117.5 258.1h0M110.2 259.5h0M107.8 260.2h0M121.9 247.1h0M141.7 229.8h0M104.5 263.4h0M106.0 262.2h0M156.6 214.9h0M105.6 262.8h0M127.5 241.1h0M142.8 227.1h0M110.2 259.0h0M118.0 252.0h0M123.4 244.2h0M113.4 256.5h0M121.8 246.6h0M128.7 239.7h0M107.5 260.6h0M160.5 210.8h0M132.7 237.9h0M121.5 254.6h0M140.0 231.5h0M114.2 255.0h0M107.8 260.6h0M137.7 230.4h0M159.2 211.6h0M108.8 259.8h0M109.2 259.9h0M140.8 231.6h0M104.7 263.2h0M108.3 259.1h0M144.7 228.0h0M133.2 236.6h0M142.2 227.4h0M107.8 258.9h0M154.9 216.1h0M128.6 240.1h0M106.8 263.3h0M117.3 251.3h0M107.3 260.2h0M109.8 253.5h0M107.7 261.3h0M107.8 260.2h0M136.9 233.5h0M133.5 237.3h0M109.1 259.4h0M122.7 246.9h0M124.8 244.9h0M130.7 237.3h0M110.1 255.6h0M127.8 241.5h0M106.1 261.7h0M108.1 261.8h0M110.5 259.8h0M137.6 230.9h0M120.1 248.9h0M149.2 221.3h0M140.0 227.6h0M115.2 254.1h0M118.5 254.8h0M105.5 261.2h0M109.3 259.4h0M105.5 262.4h0M114.5 252.5h0M108.7 259.0h0M123.0 247.0h0M106.9 262.6h0M157.6 212.2h0M118.2 258.3h0M139.1 232.2h0M125.8 243.3h0M121.7 247.0h0M141.3 227.6h0M117.0 254.2h0M130.7 241.9h0M127.1 242.5h0M116.8 249.0h0M109.2 259.0h0M115.0 254.2h0M117.4 251.8h0M151.1 220.4h0M121.4 246.3h0M125.8 243.7h0M137.9 234.3h0M109.8 259.3h0M106.3 262.8h0M133.7 236.0h0M149.3 225.5h0M112.0 256.5h0M113.0 259.5h0M127.9 244.0h0M108.1 260.2h0M127.9 240.9h0M136.7 232.0h0M104.8 263.3h0M121.2 248.8h0M125.6 243.8h0M114.9 254.6h0M130.8 237.7h0M141.1 228.0h0M151.9 219.5h0M109.6 259.2h0M128.3 239.3h0M123.9 245.7h0M115.8 257.7h0M112.3 257.5h0M114.7 253.7h0M140.7 231.7h0M142.6 227.6h0M147.3 222.5h0M128.3 235.6h0M130.9 238.4h0M118.3 250.7h0M106.7 261.1h0M129.7 242.6h0M139.1 235.7h0M105.7 262.2h0M111.7 256.4h0M110.8 257.7h0M126.9 243.4h0M115.3 253.5h0M140.6 232.9h0M119.3 247.9h0M107.1 260.4h0M109.7 258.8h0M135.0 231.7h0M163.4 210.2h0M138.5 231.6h0M126.7 250.2h0M134.6 236.2h0M120.2 246.4h0M123.5 246.9h0M117.8 250.2h0M118.7 250.7h0M106.4 262.1h0M127.8 242.4h0M116.0 252.2h0M112.0 256.9h0M132.7 235.9h0M148.0 223.2h0M108.2 258.2h0M108.9 260.1h0M131.2 241.7h0M141.2 231.3h0M115.5 252.5h0M104.9 262.9h0M106.6 261.9h0M144.6 228.5h0M124.4 244.6h0M116.2 252.4h0M123.2 246.4h0M121.5 247.3h0M125.4 243.7h0M124.8 242.9h0M109.7 259.5h0M115.3 252.2h0M114.5 251.0h0M111.0 257.4h0M127.8 239.7h0M143.1 222.2h0M114.3 254.6h0M108.0 257.5h0M132.3 238.6h0M117.8 254.6h0M121.1 248.6h0M111.2 258.5h0M140.1 228.6h0M114.3 254.0h0M125.2 244.9h0M118.0 251.5h0M138.8 231.3h0M133.9 234.0h0M111.4 253.4h0M110.0 258.7h0M133.5 242.1h0M107.2 261.7h0M116.8 257.4h0M111.6 255.8h0M112.6 257.2h0M139.2 229.8h0M125.4 242.7h0M117.9 249.9h0M109.4 259.6h0M137.6 231.5h0M111.8 257.3h0M107.1 258.1h0M106.8 260.4h0M138.2 234.1h0M118.2 251.2h0M127.2 242.3h0M134.7 237.3h0M123.6 245.6h0M111.7 254.2h0M113.6 261.4h0M107.3 257.5h0M155.2 213.3h0M117.5 260.8h0M116.5 252.1h0M111.3 257.9h0M141.1 230.3h0M112.2 256.2h0M110.4 260.3h0M130.7 242.0h0M108.2 260.3h0M107.5 261.8h0M137.7 231.5h0M133.8 235.5h0M120.8 247.9h0M131.3 239.4h0M117.2 253.5h0M115.1 253.5h0M128.2 239.6h0M161.0 210.2h0M113.9 253.6h0M131.7 239.6h0M129.4 240.2h0M127.1 243.5h0M124.9 240.9h0M107.7 261.0h0M130.7 243.8h0M120.1 249.9h0M122.7 251.3h0M130.5 237.7h0M152.9 217.3h0M126.5 242.0h0M122.2 244.3h0M143.7 229.7h0M117.9 251.2h0M123.1 250.0h0M141.3 226.0h0M126.1 242.4h0M104.5 263.5h0M112.2 256.3h0M137.7 231.3h0M118.0 250.7h0M126.0 246.5h0M109.2 259.6h0M119.3 253.0h0M105.3 263.4h0M113.2 255.5h0M106.5 259.6h0M107.8 260.5h0M131.8 237.6h0M121.6 247.8h0M113.3 254.9h0M134.9 236.7h0M121.3 248.5h0M132.1 236.0h0M137.9 232.0h0M159.6 211.0h0M113.7 254.8h0M118.5 250.2h0M131.6 237.6h0M110.0 259.6h0M108.9 261.9h0M125.3 245.9h0M118.5 250.9h0M148.5 229.4h0M125.2 244.7h0M120.0 248.8h0M140.1 233.2h0M113.2 259.0h0M135.9 232.8h0M130.3 239.3h0M133.3 236.1h0M113.0 256.8h0M105.7 263.6h0M148.1 226.9h0M138.0 234.8h0M120.8 249.0h0M117.3 250.8h0M117.3 250.7h0M118.8 250.1h0M105.8 262.2h0M112.5 255.6h0M118.5 249.5h0M105.9 262.5h0M109.3 259.3h0M127.7 241.3h0M151.3 219.4h0M105.3 261.6h0M135.9 234.9h0M118.8 250.1h0M116.3 253.3h0M118.6 250.5h0M143.8 228.2h0M127.3 245.0h0M117.2 251.3h0M133.5 235.4h0M107.2 261.0h0M127.7 241.9h0M106.3 262.8h0M127.4 242.3h0M132.0 238.2h0M111.7 257.6h0M108.3 260.4h0M130.7 240.8h0M107.5 260.6h0M130.6 239.7h0M108.9 259.5h0M108.7 259.5h0M130.6 239.5h0M132.3 240.9h0M130.0 240.6h0M131.5 235.4h0M141.3 228.8h0M151.2 219.2h0M107.2 260.7h0M147.5 218.1h0M130.7 238.7h0M106.6 261.2h0M111.2 258.0h0M110.4 257.8h0M141.3 229.9h0M108.5 259.0h0M105.3 262.8h0M118.9 250.7h0M105.9 261.7h0M105.5 263.6h0M109.8 253.9h0M132.0 240.5h0M133.0 237.5h0M144.1 227.7h0M105.8 262.3h0M115.7 253.0h0M118.6 249.7h0M144.9 225.6h0M140.2 230.4h0M154.5 221.6h0M115.3 255.9h0M118.7 250.1h0M131.1 240.1h0M111.3 255.9h0M111.6 257.1h0M132.7 236.8h0M129.1 239.6h0M110.8 259.0h0M110.2 262.3h0M110.9 258.7h0M137.6 231.8h0M136.0 238.6h0M136.2 234.6h0M111.6 256.9h0M135.2 236.5h0M149.6 215.7h0M120.1 247.7h0M118.0 251.2h0M129.0 241.4h0M129.3 240.2h0M155.2 218.3h0M141.9 229.3h0M133.1 241.1h0M114.9 255.3h0M131.3 239.9h0M136.6 229.1h0" fill="none" stroke="#e23a3a" stroke-opacity="0.5" stroke-width="0.64" stroke-linecap="round"/>
<line x1="104.4" y1="263.7" x2="167.7" y2="204.4" stroke="#4b63d8" stroke-width="0.4"/>
<rect x="104.4" y="204.4" width="63.3" height="59.3" fill="none" stroke="#a8a8a8" stroke-width="0.4"/>
<text x="104.4" y="266.5" font-size="2.25" font-weight="bold" fill="#111" text-anchor="middle" stroke="#111" stroke-width="0.1">0</text>
<text x="103.6" y="264.5" font-size="2.25" font-weight="bold" fill="#111" text-anchor="end" stroke="#111" stroke-width="0.1">0</text>
<text x="112.31" y="266.5" font-size="2.25" font-weight="bold" fill="#111" text-anchor="middle" stroke="#111" stroke-width="0.1">200</text>
<text x="103.6" y="257.09" font-size="2.25" font-weight="bold" fill="#111" text-anchor="end" stroke="#111" stroke-width="0.1">200</text>
<text x="120.22" y="266.5" font-size="2.25" font-weight="bold" fill="#111" text-anchor="middle" stroke="#111" stroke-width="0.1">400</text>
<text x="103.6" y="249.68" font-size="2.25" font-weight="bold" fill="#111" text-anchor="end" stroke="#111" stroke-width="0.1">400</text>
<text x="128.14" y="266.5" font-size="2.25" font-weight="bold" fill="#111" text-anchor="middle" stroke="#111" stroke-width="0.1">600</text>
<text x="103.6" y="242.26" font-size="2.25" font-weight="bold" fill="#111" text-anchor="end" stroke="#111" stroke-width="0.1">600</text>
<text x="136.05" y="266.5" font-size="2.25" font-weight="bold" fill="#111" text-anchor="middle" stroke="#111" stroke-width="0.1">800</text>
<text x="103.6" y="234.85" font-size="2.25" font-weight="bold" fill="#111" text-anchor="end" stroke="#111" stroke-width="0.1">800</text>
<text x="143.96" y="266.5" font-size="2.25" font-weight="bold" fill="#111" text-anchor="middle" stroke="#111" stroke-width="0.1">1000</text>
<text x="103.6" y="227.44" font-size="2.25" font-weight="bold" fill="#111" text-anchor="end" stroke="#111" stroke-width="0.1">1000</text>
<text x="151.88" y="266.5" font-size="2.25" font-weight="bold" fill="#111" text-anchor="middle" stroke="#111" stroke-width="0.1">1200</text>
<text x="103.6" y="220.03" font-size="2.25" font-weight="bold" fill="#111" text-anchor="end" stroke="#111" stroke-width="0.1">1200</text>
<text x="159.79" y="266.5" font-size="2.25" font-weight="bold" fill="#111" text-anchor="middle" stroke="#111" stroke-width="0.1">1400</text>
<text x="103.6" y="212.61" font-size="2.25" font-weight="bold" fill="#111" text-anchor="end" stroke="#111" stroke-width="0.1">1400</text>
<text x="167.7" y="266.5" font-size="2.25" font-weight="bold" fill="#111" text-anchor="middle" stroke="#111" stroke-width="0.1">1600</text>
<text x="103.6" y="205.2" font-size="2.25" font-weight="bold" fill="#111" text-anchor="end" stroke="#111" stroke-width="0.1">1600</text>
<text x="136.05" y="271" font-size="2.8" font-weight="bold" fill="#111" text-anchor="middle" stroke="#111" stroke-width="0.1">CM<tspan font-size="1.8" dy="0.6">2</tspan></text>
<text x="97.1" y="234.45" font-size="2.65" font-weight="bold" fill="#111" text-anchor="middle" transform="rotate(-90 97.1 234.45)" stroke="#111" stroke-width="0.1">Actual Data</text>
<circle cx="111.1" cy="206.6" r="0.35" fill="#e23a3a"/>
<text x="115.8" y="207.3" font-size="2.3" font-weight="bold" fill="#222" text-anchor="start" stroke="#222" stroke-width="0.1">CM<tspan font-size="1.6" dy="0.5">2</tspan><tspan dy="-0.5"> vs. Actual Data</tspan></text>
<line x1="109.4" y1="209.1" x2="113" y2="209.1" stroke="#4b63d8" stroke-width="0.4"/>
<text x="115.8" y="209.8" font-size="2.3" font-weight="bold" fill="#222" text-anchor="start" stroke="#222" stroke-width="0.1">Actual Data</text>
<line x1="109.4" y1="211.6" x2="113" y2="211.6" stroke="#8a93a8" stroke-width="0.35" stroke-dasharray="0.5 0.4"/>
<text x="115.8" y="212.3" font-size="2.3" font-weight="bold" fill="#222" text-anchor="start" stroke="#222" stroke-width="0.1">Pred bnds (95%)</text>
<rect x="186" y="204.4" width="63.3" height="59.3" fill="#fff" stroke="none"/>
<line x1="193.91" y1="204.4" x2="193.91" y2="263.7" stroke="#dcdcdc" stroke-width="0.3"/>
<line x1="201.82" y1="204.4" x2="201.82" y2="263.7" stroke="#dcdcdc" stroke-width="0.3"/>
<line x1="209.74" y1="204.4" x2="209.74" y2="263.7" stroke="#dcdcdc" stroke-width="0.3"/>
<line x1="217.65" y1="204.4" x2="217.65" y2="263.7" stroke="#dcdcdc" stroke-width="0.3"/>
<line x1="225.56" y1="204.4" x2="225.56" y2="263.7" stroke="#dcdcdc" stroke-width="0.3"/>
<line x1="233.48" y1="204.4" x2="233.48" y2="263.7" stroke="#dcdcdc" stroke-width="0.3"/>
<line x1="241.39" y1="204.4" x2="241.39" y2="263.7" stroke="#dcdcdc" stroke-width="0.3"/>
<line x1="186" y1="211.81" x2="249.3" y2="211.81" stroke="#dcdcdc" stroke-width="0.3"/>
<line x1="186" y1="219.22" x2="249.3" y2="219.22" stroke="#dcdcdc" stroke-width="0.3"/>
<line x1="186" y1="226.64" x2="249.3" y2="226.64" stroke="#dcdcdc" stroke-width="0.3"/>
<line x1="186" y1="234.05" x2="249.3" y2="234.05" stroke="#dcdcdc" stroke-width="0.3"/>
<line x1="186" y1="241.46" x2="249.3" y2="241.46" stroke="#dcdcdc" stroke-width="0.3"/>
<line x1="186" y1="248.88" x2="249.3" y2="248.88" stroke="#dcdcdc" stroke-width="0.3"/>
<line x1="186" y1="256.29" x2="249.3" y2="256.29" stroke="#dcdcdc" stroke-width="0.3"/>
<line x1="189.96" y1="263.7" x2="249.3" y2="208.11" stroke="#8a93a8" stroke-width="0.35" stroke-dasharray="0.5 0.4"/>
<line x1="186" y1="259.99" x2="245.34" y2="204.4" stroke="#8a93a8" stroke-width="0.35" stroke-dasharray="0.5 0.4"/>
<path d="M197.8 253.2h0M211.6 239.1h0M209.2 242.2h0M192.3 258.0h0M195.8 255.1h0M199.4 250.8h0M196.1 254.4h0M192.2 259.5h0M233.5 219.8h0M192.4 256.9h0M187.5 259.8h0M188.0 261.8h0M196.6 257.2h0M215.0 236.3h0M231.2 222.5h0M188.1 261.4h0M218.3 233.2h0M190.8 259.6h0M190.2 259.8h0M195.3 255.0h0M187.1 261.6h0M200.8 249.8h0M205.4 245.3h0M208.8 242.9h0M188.8 261.3h0M189.7 260.7h0M194.0 255.9h0M216.9 234.7h0M196.2 254.0h0M201.4 251.9h0M190.1 260.1h0M230.3 221.0h0M203.6 248.3h0M196.0 253.5h0M200.2 254.0h0M202.7 245.4h0M190.4 258.8h0M222.4 229.4h0M218.7 232.7h0M187.7 261.2h0M212.6 238.5h0M207.0 244.6h0M188.2 261.2h0M225.3 226.6h0M196.2 253.8h0M196.1 254.0h0M192.3 259.7h0M220.6 231.4h0M187.5 262.5h0M192.2 258.4h0M214.9 236.2h0M199.0 251.9h0M187.1 262.2h0M219.1 234.2h0M200.3 250.4h0M199.1 251.0h0M228.6 225.4h0M207.3 240.6h0M186.1 260.6h0M193.5 256.3h0M206.1 245.0h0M208.4 242.7h0M224.7 227.6h0M193.1 257.2h0M202.5 248.4h0M201.1 249.3h0M201.8 250.3h0M201.0 248.9h0M200.9 251.2h0M239.3 213.0h0M228.9 224.1h0M188.5 261.6h0M210.8 240.6h0M194.5 254.6h0M210.1 241.3h0M207.5 243.4h0M186.5 262.8h0M191.6 258.5h0M188.3 262.2h0M193.3 256.9h0M186.2 262.2h0M205.8 245.9h0M195.0 255.7h0M211.6 240.7h0M216.2 235.3h0M188.5 261.3h0M191.1 259.1h0M187.7 262.3h0M198.0 252.8h0M190.1 260.4h0M190.4 260.3h0M188.3 262.5h0M188.6 260.3h0M219.3 231.6h0M223.1 227.6h0M220.5 230.4h0M222.5 229.6h0M208.5 243.2h0M187.8 261.8h0M209.2 242.0h0M215.8 236.1h0M191.6 258.2h0M217.2 234.2h0M187.9 262.2h0M194.1 258.8h0M191.7 256.0h0M189.2 260.7h0M198.2 252.3h0M218.5 232.7h0M191.6 258.4h0M214.5 238.4h0M191.2 258.4h0M202.0 248.4h0M187.1 262.6h0M187.5 260.6h0M203.4 247.0h0M199.1 249.3h0M216.0 235.3h0M197.1 253.4h0M213.5 238.5h0M191.5 258.6h0M186.8 263.5h0M199.8 251.3h0M194.5 255.2h0M190.5 259.8h0M203.6 247.5h0M220.5 229.9h0M210.1 241.4h0M212.0 238.5h0M211.4 238.3h0M243.9 211.3h0M207.3 244.6h0M200.9 250.0h0M225.3 228.4h0M240.7 210.9h0M201.7 248.5h0M188.5 261.1h0M218.2 232.7h0M195.4 255.0h0M222.5 228.7h0M204.4 245.7h0M213.7 237.8h0M241.5 211.0h0M219.2 232.7h0M197.5 253.6h0M217.4 234.8h0M194.1 255.1h0M222.7 228.9h0M188.8 260.9h0M196.7 254.2h0M187.1 262.8h0M188.2 261.7h0M210.9 238.3h0M211.5 238.9h0M187.5 263.1h0M218.2 231.5h0M190.1 258.9h0M219.9 231.6h0M188.7 261.2h0M197.4 253.0h0M216.8 234.2h0M191.8 258.1h0M191.6 258.2h0M188.9 260.5h0M219.9 232.8h0M186.9 262.8h0M207.9 242.4h0M213.0 238.7h0M225.4 227.1h0M204.1 246.6h0M207.2 242.5h0M199.9 251.7h0M211.5 239.9h0M196.7 254.0h0M223.3 230.5h0M186.8 263.3h0M187.0 263.1h0M211.4 238.3h0M201.1 248.4h0M209.6 241.9h0M200.9 250.5h0M219.5 232.2h0M227.3 224.8h0M204.0 246.8h0M197.9 255.4h0M191.5 258.5h0M202.0 248.3h0M203.5 247.5h0M189.9 259.5h0M212.4 238.0h0M192.8 257.3h0M203.8 247.6h0M203.6 246.4h0M196.5 254.4h0M212.7 243.0h0M201.4 248.7h0M212.9 238.6h0M200.5 251.4h0M190.4 260.4h0M208.7 241.9h0M190.7 263.5h0M191.3 258.5h0M191.6 258.8h0M195.4 254.4h0M230.8 221.8h0M219.8 233.6h0M232.6 218.9h0M192.0 257.5h0M188.7 260.6h0M211.9 237.8h0M190.7 256.0h0M194.9 253.2h0M206.1 246.8h0M225.1 231.2h0M228.6 225.8h0M211.4 240.4h0M186.9 262.6h0M229.1 224.4h0M213.1 239.4h0M204.4 246.3h0M186.3 263.2h0M201.4 250.2h0M198.1 257.0h0M210.4 241.3h0M188.3 260.9h0M187.0 260.4h0M201.0 249.7h0M189.8 259.7h0M190.0 259.8h0M186.6 263.4h0M187.2 262.4h0M200.6 247.7h0M238.7 212.4h0M196.4 256.1h0M189.6 259.8h0M209.5 241.9h0M190.3 260.1h0M205.0 247.1h0M207.9 241.4h0M236.4 217.9h0M188.6 261.7h0M211.0 240.8h0M191.2 258.9h0M187.0 262.8h0M195.6 254.2h0M191.6 258.4h0M202.1 248.8h0M193.0 254.2h0M194.7 254.9h0M238.9 214.0h0M203.7 248.5h0M190.6 259.5h0M202.1 248.6h0M214.9 236.1h0M190.1 259.4h0M193.6 256.3h0M187.4 263.0h0M187.6 262.1h0M213.3 238.6h0M194.6 256.6h0M216.4 234.8h0M190.2 262.8h0M208.4 242.3h0M189.2 260.7h0M205.2 245.7h0M208.7 241.8h0M217.5 232.2h0M197.5 254.1h0M188.1 262.0h0M192.1 258.1h0M187.3 262.7h0M197.2 253.2h0M187.4 263.0h0M197.9 256.4h0M198.7 252.0h0M195.6 252.9h0M202.0 249.7h0M236.3 218.2h0M201.4 249.7h0M194.4 256.5h0M201.6 249.1h0M191.0 260.7h0M208.9 244.3h0M190.9 259.0h0M191.2 258.9h0M187.5 262.6h0M194.0 255.4h0M203.7 246.9h0M200.6 250.4h0M192.7 258.2h0M204.3 245.3h0M227.7 229.9h0M188.9 262.2h0M215.8 236.0h0M191.4 258.5h0M202.3 248.5h0M203.5 247.7h0M209.4 242.6h0M192.4 258.1h0M187.1 263.0h0M200.9 250.0h0M210.3 240.4h0M222.8 231.5h0M191.2 257.6h0M194.1 256.1h0M190.5 259.4h0M200.4 250.3h0M188.7 261.4h0M191.7 258.1h0M190.2 259.3h0M211.7 238.8h0M236.2 216.0h0M189.9 259.8h0M187.7 261.9h0M190.4 259.4h0M224.5 228.0h0M235.7 216.1h0M197.6 253.8h0M205.1 245.4h0M222.6 229.9h0M219.6 235.1h0M187.4 262.5h0M222.4 230.4h0M204.0 246.8h0M208.2 243.4h0M222.3 229.8h0M217.3 233.8h0M196.5 254.3h0M195.1 255.5h0M225.3 227.9h0M189.0 260.7h0M190.7 258.9h0M201.4 248.6h0M187.8 260.9h0M204.9 245.9h0M208.1 244.1h0M217.7 234.7h0M187.3 262.5h0M186.1 262.8h0M188.9 260.8h0M208.8 241.5h0M211.1 240.6h0M187.7 260.4h0M191.3 254.7h0M190.7 259.6h0M224.7 228.3h0M194.5 256.4h0M186.4 263.4h0M197.6 252.6h0M187.8 263.6h0M204.4 247.2h0M204.8 245.1h0M217.5 234.2h0M220.7 231.1h0M193.4 256.6h0M199.7 250.8h0M221.1 230.2h0M220.5 232.4h0M196.0 254.5h0M198.2 253.1h0M205.7 245.0h0M190.9 259.5h0M195.4 257.4h0M219.4 231.6h0M217.3 234.9h0M197.2 253.0h0M186.5 263.2h0M186.3 262.9h0M206.8 245.3h0M197.9 252.0h0M211.3 240.6h0M186.8 263.4h0M191.2 258.6h0M214.8 236.6h0M188.3 261.8h0M193.0 257.3h0M191.4 256.1h0M187.7 262.3h0M237.0 211.9h0M186.3 263.3h0M215.7 235.8h0M199.1 252.4h0M199.8 249.6h0M192.0 258.0h0M189.7 260.2h0M201.9 248.8h0M215.7 235.4h0M205.7 246.1h0M192.4 259.6h0M195.6 254.4h0M205.5 246.1h0M200.4 252.3h0M202.4 247.4h0M191.0 259.1h0M194.5 255.9h0M217.3 230.0h0M191.2 258.8h0M213.2 240.2h0M208.0 244.4h0M186.4 263.2h0M194.9 255.1h0M187.0 262.5h0M205.6 245.4h0M219.1 233.7h0M194.7 254.9h0M221.0 229.9h0M238.4 214.7h0M199.7 250.7h0M189.5 261.1h0M202.1 248.8h0M194.8 255.2h0M195.8 254.0h0M196.1 254.4h0M198.3 251.4h0M202.9 246.9h0M186.1 262.6h0M208.4 242.3h0M212.1 239.1h0M213.0 239.9h0M199.4 251.4h0M187.9 261.6h0M191.6 258.5h0M186.2 263.6h0M190.4 262.5h0M192.7 257.4h0M203.4 246.5h0M192.1 257.4h0M194.2 256.0h0M226.2 228.0h0M191.8 258.7h0M204.6 247.2h0M191.0 259.0h0M193.4 258.0h0M203.7 248.2h0M187.3 262.0h0M212.3 239.2h0M186.7 263.2h0M207.6 244.6h0M226.8 225.3h0M206.8 244.3h0M191.5 262.3h0M213.6 237.0h0M189.5 260.6h0M190.3 259.4h0M219.3 230.9h0M222.6 228.7h0M189.7 259.7h0M186.3 261.0h0M189.3 260.7h0M201.8 248.9h0M194.6 255.5h0M212.2 238.5h0M194.4 255.4h0M216.4 235.0h0M186.5 262.8h0M194.4 254.1h0M197.2 253.1h0M209.7 241.4h0M223.5 228.6h0M217.6 233.3h0M208.6 241.6h0M190.7 260.0h0M186.6 263.0h0M188.8 261.0h0M220.9 227.7h0M196.7 253.9h0M212.8 237.3h0M223.8 230.3h0M190.8 260.2h0M186.4 262.9h0M197.8 252.7h0M221.8 229.6h0M205.0 246.3h0M221.6 230.3h0M208.0 243.0h0M197.9 252.2h0M193.4 255.6h0M202.9 247.7h0M195.1 255.0h0M220.7 229.8h0M193.6 256.1h0M193.7 256.3h0M199.0 251.6h0M200.2 250.8h0M199.4 252.9h0M193.1 257.2h0M210.5 238.1h0M187.3 263.2h0M189.6 260.1h0M215.8 235.5h0M210.4 238.2h0M208.9 241.7h0M200.6 250.6h0M191.5 259.2h0M216.6 235.8h0M190.3 259.2h0M207.9 244.6h0M230.4 221.8h0M194.7 255.7h0M202.2 248.6h0M218.9 232.9h0M199.8 250.7h0M223.1 227.5h0M222.3 229.1h0M211.4 239.6h0M196.8 253.9h0M193.0 257.9h0M216.8 234.7h0M208.7 240.6h0M198.5 252.6h0M219.2 231.7h0M193.1 256.8h0M188.6 259.2h0M192.6 257.6h0M203.5 247.3h0M187.8 262.1h0M196.3 254.0h0M187.0 262.7h0M189.7 261.2h0M193.5 256.6h0M195.3 254.9h0M191.1 258.9h0M223.3 228.4h0M191.4 259.2h0M204.4 247.3h0M187.1 262.3h0M230.9 223.9h0M231.1 222.2h0M191.7 258.4h0M207.7 243.1h0M188.1 261.3h0M203.0 247.2h0M216.5 234.7h0M202.2 249.0h0M191.5 257.7h0M222.6 229.6h0M191.0 259.0h0M190.5 259.5h0M214.0 238.5h0M221.4 232.2h0M192.9 257.6h0M212.7 239.2h0M224.1 229.4h0M221.3 230.4h0M196.7 253.0h0M210.4 242.0h0M196.5 251.3h0M188.7 261.0h0M213.8 237.7h0M191.9 258.4h0M216.3 234.6h0M186.9 263.0h0M208.6 243.1h0M192.8 257.3h0M189.9 261.0h0M193.6 257.3h0M188.2 261.6h0M204.5 246.2h0M209.5 241.9h0M222.2 230.3h0M193.3 261.8h0M198.3 251.4h0M187.8 262.0h0M225.0 227.5h0M194.8 255.5h0M227.0 226.6h0M218.9 232.7h0M192.4 257.9h0M206.1 244.6h0M204.0 246.1h0M220.7 229.9h0M187.1 262.8h0M201.9 248.8h0M190.8 258.7h0M216.1 235.5h0M227.4 227.6h0M211.5 239.4h0M190.2 262.7h0M208.8 242.8h0M200.2 252.8h0M205.6 245.9h0M206.6 244.8h0M219.2 232.0h0M197.5 252.8h0M210.5 241.9h0M221.1 231.7h0M207.3 241.6h0M219.9 229.7h0M215.4 235.4h0M193.8 256.5h0M192.9 256.8h0M212.1 238.7h0M197.6 252.6h0M224.0 228.6h0M244.9 211.1h0M208.8 241.4h0M199.0 249.5h0M206.7 243.1h0M205.3 245.8h0M199.2 253.3h0M196.7 254.6h0M199.2 251.3h0M219.7 232.3h0M224.5 229.3h0M188.8 257.7h0M217.4 235.7h0M186.4 263.4h0M212.9 238.5h0M198.3 251.8h0M209.8 242.2h0M198.8 252.0h0M194.0 256.2h0M191.5 258.2h0M187.7 262.2h0M187.5 261.9h0M193.3 256.9h0M204.4 244.7h0M188.4 261.4h0M215.4 235.7h0M186.0 262.7h0M190.7 259.5h0M186.7 262.2h0M192.5 257.5h0M216.1 235.6h0M211.5 240.2h0M208.7 242.8h0M213.9 237.2h0M188.7 261.2h0M206.3 244.7h0M189.3 260.3h0M199.4 251.6h0M209.0 241.9h0M204.5 244.2h0M219.4 233.2h0M186.9 263.0h0M192.0 258.3h0M195.0 254.9h0M222.6 231.0h0M241.5 212.6h0M189.7 258.1h0M220.9 230.2h0M205.1 245.5h0M204.4 246.2h0M218.3 233.9h0M204.2 246.2h0M194.3 255.5h0M195.4 255.4h0M190.2 259.7h0M212.8 238.2h0M232.2 219.6h0M188.9 261.0h0M212.2 238.7h0M215.8 236.7h0M220.6 229.7h0M188.2 262.8h0M192.1 258.0h0M202.0 248.2h0M187.1 262.8h0M208.7 244.0h0M214.8 236.1h0M204.7 245.4h0M189.2 258.4h0M218.8 233.9h0M200.7 250.5h0M188.4 260.3h0M188.3 261.4h0M208.2 247.3h0M206.1 245.1h0M221.6 228.0h0M186.6 263.1h0M196.4 253.2h0M217.0 234.2h0M186.8 263.2h0M190.4 259.5h0M196.4 255.2h0M205.5 246.9h0M196.7 253.4h0M218.6 233.0h0M186.4 263.6h0M232.3 220.7h0M203.2 247.6h0M190.9 259.4h0M200.6 249.9h0M198.4 252.4h0M204.0 247.5h0M228.7 227.5h0M192.7 256.9h0M199.4 250.5h0M220.2 232.2h0M195.1 255.6h0M187.6 261.7h0M186.2 262.8h0M196.7 253.1h0M197.5 252.7h0M209.6 240.3h0M193.9 256.7h0M197.8 252.5h0M223.2 228.4h0M213.2 238.3h0M210.0 240.9h0M216.4 235.5h0M188.9 258.7h0M199.3 249.8h0M195.1 255.6h0M223.2 229.1h0M211.3 240.0h0M209.6 241.3h0M226.7 225.0h0M213.0 238.3h0M188.3 261.4h0M195.8 254.7h0M189.3 260.2h0M214.8 238.5h0M212.0 239.6h0M190.6 263.5h0M186.9 261.6h0M200.0 251.3h0M205.8 244.4h0M192.2 257.9h0M194.6 255.4h0M189.9 260.3h0M199.1 254.6h0M188.0 261.4h0M220.4 228.9h0M214.1 240.7h0M188.6 257.4h0M195.5 254.7h0M211.6 240.5h0M216.1 236.3h0M203.5 246.0h0M186.5 262.4h0M238.5 215.5h0M204.3 243.8h0M195.5 254.7h0M199.5 251.2h0M206.5 243.9h0M188.7 261.4h0M187.4 262.8h0M190.4 259.5h0M204.4 245.7h0M187.8 260.2h0M193.4 257.0h0M194.1 257.1h0M197.3 255.1h0M229.3 224.0h0M212.2 239.8h0M200.3 249.9h0M196.5 254.0h0M240.4 213.2h0M186.7 263.1h0M187.5 261.8h0M187.9 262.2h0M219.7 231.3h0M191.4 258.8h0M194.2 255.4h0M187.7 261.1h0M210.8 240.9h0M187.3 262.7h0M196.4 253.9h0M198.1 250.4h0M203.4 247.5h0M224.6 225.8h0M217.6 233.5h0M206.9 245.2h0M186.7 263.4h0M221.2 230.6h0M212.4 238.0h0M188.0 261.8h0M188.3 256.6h0M231.4 216.8h0M188.7 260.5h0M242.7 211.2h0M209.8 242.2h0M198.5 251.2h0M201.4 248.8h0M194.1 255.3h0M197.5 252.1h0M223.3 228.6h0M206.0 246.5h0M188.4 261.7h0M235.4 212.7h0M209.3 241.1h0M189.9 259.3h0M220.3 232.2h0M200.1 253.5h0M194.7 257.9h0M192.4 258.0h0M207.7 242.5h0M211.2 240.3h0M222.0 230.0h0M205.0 246.6h0M187.7 261.8h0M186.8 263.5h0M194.4 256.3h0M215.6 235.0h0M215.6 235.3h0M194.5 255.1h0M189.3 260.8h0M202.9 252.1h0M187.3 262.9h0M233.1 218.2h0M203.3 247.0h0M192.5 257.4h0M189.0 261.7h0M187.1 263.6h0M202.9 248.1h0M194.8 255.0h0M196.7 253.7h0M193.3 256.6h0M190.4 260.3h0M198.4 252.0h0M191.9 258.0h0M218.3 233.6h0M187.1 262.1h0M214.5 233.9h0M192.1 258.5h0M214.1 237.4h0M220.1 233.3h0M195.9 251.4h0M200.2 250.3h0M197.9 252.4h0M199.5 250.9h0M219.0 233.0h0M194.6 255.4h0M189.0 258.6h0M198.1 252.2h0M209.5 239.6h0M192.6 257.4h0M201.5 248.6h0M223.7 229.1h0M206.5 245.1h0M217.2 233.5h0M192.9 256.7h0M186.4 263.2h0M196.9 255.5h0M210.0 242.0h0M205.3 246.8h0M203.1 247.9h0M212.9 238.2h0M188.7 262.0h0M188.5 261.1h0M215.6 236.6h0M199.3 250.1h0M199.7 249.6h0M212.3 240.1h0M214.5 236.4h0M193.7 256.8h0M208.7 244.9h0M221.9 231.1h0M186.1 260.4h0M204.0 247.6h0M203.8 245.3h0M195.6 252.3h0M218.7 234.7h0M194.8 255.5h0M203.8 246.6h0M187.4 262.3h0M206.3 244.4h0M195.6 254.4h0M212.3 239.9h0M191.7 256.2h0M200.6 250.1h0M195.7 258.6h0M198.9 247.1h0M186.7 263.2h0M204.8 245.2h0M214.0 235.4h0M205.7 244.9h0M220.7 231.8h0M192.8 257.4h0M190.1 260.4h0M200.1 250.6h0M205.3 245.2h0M211.8 239.8h0M232.4 219.1h0M189.2 260.3h0M189.9 260.5h0M212.8 238.4h0M187.0 262.8h0M206.6 244.1h0M218.5 233.7h0M201.2 249.1h0M219.9 231.3h0M225.5 230.4h0M188.4 261.4h0M190.9 260.0h0M202.9 244.8h0M206.9 243.8h0M222.7 229.4h0M197.9 253.0h0M202.3 249.2h0M196.8 252.0h0M201.0 249.3h0M190.4 259.0h0M186.9 262.7h0M194.5 255.6h0M188.8 261.0h0M195.1 252.3h0M197.3 252.7h0M188.2 261.3h0M226.5 225.4h0M226.9 225.6h0M186.9 263.4h0M188.5 261.6h0M196.6 254.6h0M197.1 252.9h0M207.7 241.3h0M192.2 256.5h0M202.1 247.6h0M188.1 261.9h0M231.3 223.2h0M221.4 230.0h0M189.6 260.1h0M212.3 237.4h0M198.3 252.7h0M204.9 246.1h0M240.7 213.1h0M213.9 237.8h0M193.5 256.2h0M190.9 259.2h0M209.0 244.0h0M199.5 250.4h0M188.3 261.3h0M223.8 228.7h0M205.0 244.9h0M187.5 262.3h0M191.5 258.8h0M191.9 258.7h0M220.9 230.3h0M198.2 252.0h0M187.3 261.9h0M198.0 252.4h0M222.7 229.9h0M198.9 253.3h0M231.5 220.6h0M199.5 250.3h0M188.6 261.4h0M212.6 238.2h0M187.3 262.5h0M206.8 245.0h0M187.9 263.5h0M205.7 245.7h0M189.8 259.9h0M225.0 230.6h0M221.3 232.0h0M191.0 259.6h0M220.1 231.9h0M204.7 245.7h0M199.6 251.5h0M193.9 256.9h0M189.4 260.5h0M202.7 249.1h0M194.1 257.3h0M223.2 227.7h0M215.2 235.4h0M187.9 261.5h0M187.0 262.2h0M189.7 260.2h0M238.0 214.6h0M190.5 258.0h0M187.8 261.9h0M199.1 250.7h0M216.6 235.7h0M189.3 260.5h0M201.0 246.9h0M194.5 255.1h0M188.9 261.0h0M220.5 230.8h0M194.8 259.4h0M190.6 259.1h0M190.1 259.8h0M212.4 239.1h0M219.6 229.1h0M195.6 254.7h0M188.3 261.8h0M208.2 242.3h0M220.1 232.1h0M203.8 247.9h0M195.8 256.6h0M212.8 241.4h0M210.0 242.5h0M238.6 212.2h0M190.3 259.8h0M201.0 250.1h0M211.7 240.2h0M207.7 240.8h0M202.3 248.8h0M191.8 257.8h0M202.5 249.6h0M192.9 256.7h0M190.1 259.5h0M190.8 260.5h0M209.0 241.7h0M195.5 257.8h0M189.8 260.3h0M203.4 247.0h0M219.6 232.3h0M192.4 257.3h0M195.6 255.1h0M196.4 254.3h0M194.7 255.7h0M238.4 214.3h0M198.6 251.1h0M188.7 261.1h0M219.1 233.1h0M209.5 238.5h0M210.0 241.5h0M187.3 262.5h0M206.4 244.3h0M218.6 232.5h0M201.7 247.7h0M201.4 249.7h0M194.3 256.2h0M194.5 255.1h0M205.9 245.6h0M214.4 238.5h0M203.0 248.2h0M195.3 254.7h0M191.5 258.2h0M191.2 256.4h0M239.3 214.5h0M188.8 261.1h0M213.1 239.0h0M213.0 236.3h0M223.0 229.5h0M217.1 235.9h0M189.9 262.6h0M205.5 242.3h0M221.0 230.4h0M205.0 246.2h0M200.1 250.4h0M192.6 257.5h0M213.9 236.9h0M210.6 239.4h0M188.8 261.8h0M217.1 233.8h0M193.8 256.2h0M194.2 256.2h0M189.8 260.1h0M207.5 243.9h0M192.9 257.4h0M187.9 262.3h0M187.1 263.3h0M198.8 252.3h0M200.0 250.7h0M204.0 251.3h0M207.4 243.1h0M196.0 254.7h0M221.0 230.9h0M191.8 259.2h0M197.7 255.8h0M188.6 261.6h0M208.8 242.1h0M189.4 260.2h0M188.4 261.4h0M219.9 231.4h0M216.6 233.9h0M190.3 259.6h0M192.0 257.8h0M192.1 257.7h0M214.4 236.6h0M200.0 250.6h0M198.3 251.9h0M208.8 241.9h0M187.9 261.7h0M239.6 213.7h0M190.8 260.0h0M191.9 261.0h0M202.0 248.3h0M199.4 250.1h0M213.9 237.5h0M192.9 257.1h0M198.7 251.3h0M188.7 261.5h0M211.7 239.1h0M197.0 253.3h0M209.8 246.1h0M187.2 262.9h0" fill="none" stroke="#eeb21c" stroke-opacity="0.5" stroke-width="0.64" stroke-linecap="round"/>
<line x1="186" y1="263.7" x2="249.3" y2="204.4" stroke="#4b63d8" stroke-width="0.4"/>
<rect x="186" y="204.4" width="63.3" height="59.3" fill="none" stroke="#a8a8a8" stroke-width="0.4"/>
<text x="186" y="266.5" font-size="2.25" font-weight="bold" fill="#111" text-anchor="middle" stroke="#111" stroke-width="0.1">0</text>
<text x="185.2" y="264.5" font-size="2.25" font-weight="bold" fill="#111" text-anchor="end" stroke="#111" stroke-width="0.1">0</text>
<text x="193.91" y="266.5" font-size="2.25" font-weight="bold" fill="#111" text-anchor="middle" stroke="#111" stroke-width="0.1">200</text>
<text x="185.2" y="257.09" font-size="2.25" font-weight="bold" fill="#111" text-anchor="end" stroke="#111" stroke-width="0.1">200</text>
<text x="201.82" y="266.5" font-size="2.25" font-weight="bold" fill="#111" text-anchor="middle" stroke="#111" stroke-width="0.1">400</text>
<text x="185.2" y="249.68" font-size="2.25" font-weight="bold" fill="#111" text-anchor="end" stroke="#111" stroke-width="0.1">400</text>
<text x="209.74" y="266.5" font-size="2.25" font-weight="bold" fill="#111" text-anchor="middle" stroke="#111" stroke-width="0.1">600</text>
<text x="185.2" y="242.26" font-size="2.25" font-weight="bold" fill="#111" text-anchor="end" stroke="#111" stroke-width="0.1">600</text>
<text x="217.65" y="266.5" font-size="2.25" font-weight="bold" fill="#111" text-anchor="middle" stroke="#111" stroke-width="0.1">800</text>
<text x="185.2" y="234.85" font-size="2.25" font-weight="bold" fill="#111" text-anchor="end" stroke="#111" stroke-width="0.1">800</text>
<text x="225.56" y="266.5" font-size="2.25" font-weight="bold" fill="#111" text-anchor="middle" stroke="#111" stroke-width="0.1">1000</text>
<text x="185.2" y="227.44" font-size="2.25" font-weight="bold" fill="#111" text-anchor="end" stroke="#111" stroke-width="0.1">1000</text>
<text x="233.48" y="266.5" font-size="2.25" font-weight="bold" fill="#111" text-anchor="middle" stroke="#111" stroke-width="0.1">1200</text>
<text x="185.2" y="220.03" font-size="2.25" font-weight="bold" fill="#111" text-anchor="end" stroke="#111" stroke-width="0.1">1200</text>
<text x="241.39" y="266.5" font-size="2.25" font-weight="bold" fill="#111" text-anchor="middle" stroke="#111" stroke-width="0.1">1400</text>
<text x="185.2" y="212.61" font-size="2.25" font-weight="bold" fill="#111" text-anchor="end" stroke="#111" stroke-width="0.1">1400</text>
<text x="249.3" y="266.5" font-size="2.25" font-weight="bold" fill="#111" text-anchor="middle" stroke="#111" stroke-width="0.1">1600</text>
<text x="185.2" y="205.2" font-size="2.25" font-weight="bold" fill="#111" text-anchor="end" stroke="#111" stroke-width="0.1">1600</text>
<text x="217.65" y="271" font-size="2.8" font-weight="bold" fill="#111" text-anchor="middle" stroke="#111" stroke-width="0.1">CM<tspan font-size="1.8" dy="0.6">3</tspan></text>
<text x="178.7" y="234.45" font-size="2.65" font-weight="bold" fill="#111" text-anchor="middle" transform="rotate(-90 178.7 234.45)" stroke="#111" stroke-width="0.1">Actual Data</text>
<circle cx="192.7" cy="206.6" r="0.35" fill="#eeb21c"/>
<text x="197.4" y="207.3" font-size="2.3" font-weight="bold" fill="#222" text-anchor="start" stroke="#222" stroke-width="0.1">CM<tspan font-size="1.6" dy="0.5">3</tspan><tspan dy="-0.5"> vs. Actual Data</tspan></text>
<line x1="191" y1="209.1" x2="194.6" y2="209.1" stroke="#4b63d8" stroke-width="0.4"/>
<text x="197.4" y="209.8" font-size="2.3" font-weight="bold" fill="#222" text-anchor="start" stroke="#222" stroke-width="0.1">Actual Data</text>
<line x1="191" y1="211.6" x2="194.6" y2="211.6" stroke="#8a93a8" stroke-width="0.35" stroke-dasharray="0.5 0.4"/>
<text x="197.4" y="212.3" font-size="2.3" font-weight="bold" fill="#222" text-anchor="start" stroke="#222" stroke-width="0.1">Pred bnds (95%)</text>
<rect x="267.1" y="204.4" width="63.3" height="59.3" fill="#fff" stroke="none"/>
<line x1="275.01" y1="204.4" x2="275.01" y2="263.7" stroke="#dcdcdc" stroke-width="0.3"/>
<line x1="282.93" y1="204.4" x2="282.93" y2="263.7" stroke="#dcdcdc" stroke-width="0.3"/>
<line x1="290.84" y1="204.4" x2="290.84" y2="263.7" stroke="#dcdcdc" stroke-width="0.3"/>
<line x1="298.75" y1="204.4" x2="298.75" y2="263.7" stroke="#dcdcdc" stroke-width="0.3"/>
<line x1="306.66" y1="204.4" x2="306.66" y2="263.7" stroke="#dcdcdc" stroke-width="0.3"/>
<line x1="314.58" y1="204.4" x2="314.58" y2="263.7" stroke="#dcdcdc" stroke-width="0.3"/>
<line x1="322.49" y1="204.4" x2="322.49" y2="263.7" stroke="#dcdcdc" stroke-width="0.3"/>
<line x1="267.1" y1="211.81" x2="330.4" y2="211.81" stroke="#dcdcdc" stroke-width="0.3"/>
<line x1="267.1" y1="219.22" x2="330.4" y2="219.22" stroke="#dcdcdc" stroke-width="0.3"/>
<line x1="267.1" y1="226.64" x2="330.4" y2="226.64" stroke="#dcdcdc" stroke-width="0.3"/>
<line x1="267.1" y1="234.05" x2="330.4" y2="234.05" stroke="#dcdcdc" stroke-width="0.3"/>
<line x1="267.1" y1="241.46" x2="330.4" y2="241.46" stroke="#dcdcdc" stroke-width="0.3"/>
<line x1="267.1" y1="248.88" x2="330.4" y2="248.88" stroke="#dcdcdc" stroke-width="0.3"/>
<line x1="267.1" y1="256.29" x2="330.4" y2="256.29" stroke="#dcdcdc" stroke-width="0.3"/>
<line x1="271.45" y1="263.7" x2="330.4" y2="208.48" stroke="#8a93a8" stroke-width="0.35" stroke-dasharray="0.5 0.4"/>
<line x1="267.1" y1="259.62" x2="326.05" y2="204.4" stroke="#8a93a8" stroke-width="0.35" stroke-dasharray="0.5 0.4"/>
<path d="M288.8 242.0h0M267.1 263.7h0M283.9 247.7h0M279.7 251.9h0M298.1 235.4h0M274.6 257.0h0M283.3 248.9h0M270.8 260.2h0M277.3 253.0h0M281.5 251.4h0M304.2 229.8h0M273.9 255.2h0M271.0 262.2h0M272.2 259.5h0M286.3 245.8h0M314.4 220.1h0M268.5 262.4h0M314.8 219.0h0M302.9 229.9h0M271.5 258.3h0M294.5 239.7h0M268.6 262.5h0M279.9 252.7h0M288.4 243.3h0M275.7 255.7h0M267.5 263.6h0M267.9 262.5h0M280.2 251.8h0M274.2 260.5h0M293.6 238.4h0M270.8 260.6h0M322.9 210.6h0M295.8 237.0h0M280.3 256.6h0M298.8 234.1h0M271.3 259.5h0M272.0 259.0h0M287.6 245.6h0M271.7 259.1h0M297.0 235.8h0M269.5 261.0h0M285.9 246.2h0M269.7 256.8h0M298.5 233.2h0M279.8 251.8h0M271.5 259.6h0M293.0 238.9h0M290.3 242.9h0M279.3 256.2h0M296.2 235.2h0M268.6 262.7h0M299.2 233.9h0M305.5 228.2h0M297.1 235.8h0M271.4 259.5h0M319.1 214.7h0M287.4 245.3h0M292.8 236.9h0M275.0 255.6h0M284.7 246.3h0M298.8 232.2h0M281.9 249.9h0M292.5 240.2h0M268.4 262.3h0M283.6 249.0h0M300.7 233.3h0M296.7 236.4h0M275.3 256.5h0M269.8 261.4h0M271.5 260.4h0M293.4 239.0h0M280.3 251.4h0M309.5 225.3h0M267.8 262.8h0M271.7 260.2h0M273.0 257.5h0M274.2 256.7h0M308.4 226.0h0M289.0 244.0h0M273.2 257.7h0M271.7 258.4h0M282.7 248.5h0M279.2 253.2h0M292.1 240.4h0M285.0 247.4h0M301.0 232.1h0M289.8 241.9h0M270.6 260.3h0M269.3 260.9h0M269.8 260.5h0M292.1 242.6h0M298.9 233.5h0M275.4 254.9h0M269.3 261.1h0M274.1 257.3h0M272.1 259.1h0M306.9 231.3h0M267.8 262.6h0M274.8 257.4h0M271.3 260.2h0M270.9 260.3h0M288.3 243.7h0M304.8 229.7h0M282.9 248.8h0M273.3 257.3h0M275.1 257.0h0M281.5 250.4h0M275.8 254.9h0M281.5 249.4h0M278.1 253.3h0M277.0 254.6h0M303.8 230.5h0M279.0 255.1h0M270.6 261.1h0M279.3 251.9h0M276.6 254.9h0M313.3 222.4h0M272.1 259.6h0M295.7 237.5h0M268.9 262.6h0M268.8 261.5h0M268.6 262.7h0M280.2 251.3h0M269.3 262.5h0M302.1 231.1h0M269.1 262.2h0M300.0 232.8h0M296.0 237.7h0M324.0 211.9h0M279.3 252.9h0M301.0 231.0h0M294.6 235.4h0M272.0 258.9h0M278.9 252.7h0M297.2 236.1h0M292.5 241.4h0M292.1 241.0h0M268.7 261.3h0M304.3 228.1h0M306.7 228.2h0M301.1 232.2h0M269.0 260.2h0M303.4 231.3h0M292.0 235.2h0M270.8 260.9h0M271.7 258.2h0M279.6 251.6h0M280.2 251.6h0M279.5 254.3h0M276.8 255.5h0M274.0 258.2h0M293.3 239.6h0M284.3 248.2h0M289.3 243.0h0M290.2 242.4h0M301.1 227.7h0M306.7 227.7h0M267.3 262.0h0M280.4 248.7h0M267.6 263.5h0M280.7 251.5h0M300.7 232.0h0M288.6 241.6h0M268.3 262.2h0M269.8 261.2h0M274.0 256.4h0M305.0 229.1h0M282.3 251.7h0M293.2 238.2h0M267.6 263.3h0M301.7 230.2h0M271.2 259.7h0M273.9 256.8h0M289.4 242.6h0M272.0 258.4h0M284.6 246.5h0M285.5 247.1h0M286.3 245.2h0M281.5 250.4h0M286.1 246.5h0M296.5 234.8h0M278.2 253.4h0M301.6 230.2h0M272.9 259.3h0M276.7 254.5h0M271.8 259.3h0M302.3 230.8h0M268.2 261.9h0M268.9 262.4h0M280.1 251.3h0M285.6 245.6h0M291.1 242.2h0M294.1 237.6h0M302.8 231.8h0M273.5 257.8h0M299.3 233.1h0M268.3 262.6h0M272.0 259.6h0M283.9 246.8h0M269.5 261.4h0M271.6 260.3h0M273.3 258.6h0M280.4 254.4h0M283.5 248.2h0M294.4 237.3h0M297.0 236.2h0M302.6 227.9h0M270.8 259.7h0M297.9 234.5h0M274.9 259.5h0M267.5 263.3h0M302.0 231.5h0M274.8 257.5h0M277.3 253.5h0M283.0 244.7h0M282.7 244.5h0M301.8 231.6h0M321.9 213.3h0M273.4 258.6h0M293.8 238.3h0M295.3 237.8h0M269.7 261.1h0M276.1 254.7h0M276.9 254.3h0M267.4 263.3h0M273.8 256.8h0M296.6 236.8h0M275.8 258.5h0M285.2 251.9h0M274.0 261.0h0M271.4 260.6h0M299.4 235.7h0M292.1 240.1h0M282.3 249.2h0M271.3 260.1h0M270.2 261.2h0M268.2 263.2h0M286.7 246.3h0M270.6 260.3h0M279.4 251.6h0M269.9 261.5h0M302.6 230.4h0M305.9 227.5h0M296.0 236.7h0M283.2 247.9h0M275.6 255.6h0M278.3 252.0h0M312.5 222.0h0M274.0 258.1h0M269.6 261.7h0M271.7 259.3h0M294.6 237.9h0M276.1 253.3h0M278.4 253.5h0M303.2 230.4h0M276.0 255.0h0M269.1 261.6h0M304.3 230.1h0M270.7 260.1h0M273.9 256.9h0M294.1 238.0h0M293.5 238.9h0M270.9 260.6h0M281.1 250.8h0M271.6 258.7h0M301.8 229.6h0M270.9 259.3h0M306.5 227.8h0M276.1 260.7h0M274.0 262.5h0M268.6 262.3h0M291.2 242.1h0M288.9 242.9h0M279.1 252.9h0M271.5 259.4h0M305.2 227.6h0M270.9 260.5h0M270.3 260.4h0M283.4 247.7h0M278.4 253.3h0M271.2 258.8h0M278.1 253.2h0M275.1 256.3h0M270.1 260.0h0M270.3 261.0h0M273.1 257.9h0M273.8 258.1h0M280.5 248.7h0M276.5 259.4h0M287.0 245.8h0M298.7 234.8h0M283.3 249.2h0M273.3 257.5h0M298.8 231.0h0M279.0 252.2h0M268.2 262.9h0M279.5 251.8h0M269.4 260.7h0M309.0 225.9h0M269.3 261.6h0M270.2 259.7h0M268.0 262.9h0M278.3 253.6h0M268.9 261.8h0M292.9 239.6h0M288.5 244.3h0M293.2 238.7h0M270.0 260.8h0M296.1 237.6h0M273.8 257.2h0M277.6 252.1h0M296.8 236.0h0M272.9 258.7h0M282.8 250.0h0M267.5 262.2h0M268.6 262.7h0M283.4 248.2h0M287.5 244.8h0M281.4 252.2h0M293.4 239.8h0M288.8 238.1h0M278.2 253.9h0M268.4 261.7h0M299.1 234.2h0M274.4 261.4h0M269.1 262.4h0M309.7 224.5h0M271.4 262.8h0M284.3 248.3h0M269.0 261.3h0M303.0 229.2h0M274.9 257.2h0M304.7 227.2h0M283.6 248.3h0M304.3 228.2h0M271.4 259.4h0M298.2 233.9h0M289.8 244.3h0M276.0 255.4h0M272.7 256.9h0M267.8 262.7h0M302.3 230.9h0M269.4 262.8h0M273.0 258.3h0M278.7 253.8h0M268.7 262.1h0M268.1 263.1h0M272.1 259.5h0M268.4 262.2h0M287.8 243.5h0M318.9 212.8h0M293.3 238.4h0M307.3 229.1h0M282.0 250.2h0M287.9 244.4h0M291.1 241.9h0M285.6 241.4h0M278.6 253.3h0M287.7 246.2h0M271.9 259.7h0M268.4 262.4h0M305.1 227.7h0M302.7 230.0h0M278.1 253.9h0M300.5 231.9h0M303.0 228.9h0M302.5 230.2h0M302.5 229.5h0M280.0 251.9h0M269.3 261.9h0M275.3 255.5h0M297.6 231.9h0M304.0 228.7h0M274.7 256.5h0M271.6 260.3h0M298.5 231.6h0M276.8 255.5h0M269.8 261.3h0M267.2 263.4h0M304.6 228.6h0M298.0 235.7h0M272.5 259.5h0M268.1 262.0h0M278.2 253.5h0M275.9 255.4h0M267.7 263.6h0M268.7 262.4h0M294.6 238.3h0M296.5 234.5h0M308.2 224.8h0M287.0 246.0h0M271.8 259.8h0M315.3 218.0h0M271.0 260.2h0M289.5 242.9h0M280.3 251.7h0M299.2 233.7h0M269.1 263.0h0M286.9 245.0h0M267.8 263.1h0M300.3 231.6h0M302.5 228.9h0M277.8 262.9h0M301.6 233.1h0M297.4 234.4h0M277.2 254.1h0M272.9 262.4h0M295.8 239.8h0M269.2 261.1h0M302.3 229.6h0M306.1 228.0h0M271.2 259.8h0M276.1 254.7h0M293.7 239.7h0M272.5 258.6h0M281.0 250.6h0M284.0 249.1h0M272.8 258.8h0M298.4 232.4h0M281.7 250.2h0M275.0 255.5h0M276.5 254.7h0M288.4 242.9h0M278.2 253.4h0M289.6 242.7h0M271.6 261.8h0M297.9 234.8h0M271.4 260.4h0M268.9 261.6h0M275.1 254.7h0M268.9 261.5h0M274.6 257.6h0M274.5 255.1h0M272.5 259.2h0M294.4 237.3h0M286.7 245.4h0M275.3 255.2h0M297.4 234.7h0M269.3 262.3h0M274.0 257.0h0M282.8 248.0h0M306.1 228.1h0M299.0 234.3h0M280.5 252.5h0M304.2 229.4h0M283.9 248.7h0M274.7 256.9h0M276.9 254.0h0M295.4 237.8h0M269.8 260.8h0M279.7 252.9h0M274.8 257.0h0M320.6 213.0h0M305.7 228.7h0M268.7 262.5h0M275.3 256.3h0M280.7 252.1h0M267.6 262.7h0M295.9 236.9h0M289.2 243.2h0M296.2 236.7h0M268.4 262.7h0M275.9 255.0h0M287.7 244.9h0M301.2 231.5h0M275.1 256.1h0M273.9 261.3h0M274.6 256.6h0M288.3 244.0h0M304.5 228.9h0M268.4 260.1h0M277.5 253.4h0M276.3 255.2h0M269.6 261.9h0M291.1 240.7h0M316.4 219.2h0M318.3 216.8h0M270.6 260.0h0M277.2 254.1h0M291.0 240.9h0M282.4 249.5h0M290.3 241.2h0M301.2 233.6h0M272.7 257.9h0M277.2 253.3h0M269.9 261.3h0M274.5 258.0h0M275.4 256.7h0M285.2 242.8h0M283.6 251.6h0M279.2 251.1h0M279.5 252.4h0M268.9 261.5h0M289.6 241.2h0M287.6 244.3h0M278.3 253.6h0M295.1 234.6h0M279.5 253.1h0M277.7 253.7h0M270.6 263.4h0M282.0 250.1h0M299.6 232.9h0M280.6 250.8h0M272.2 258.7h0M290.9 240.0h0M273.1 258.1h0M269.8 260.9h0M287.0 244.1h0M296.9 236.6h0M288.7 244.7h0M268.1 262.9h0M275.8 253.7h0M273.9 256.9h0M268.1 263.0h0M281.0 250.6h0M269.8 260.9h0M280.6 250.1h0M285.0 247.0h0M280.3 251.8h0M281.6 248.9h0M276.8 254.5h0M289.8 241.1h0M290.3 243.2h0M298.1 236.9h0M290.3 241.7h0M291.7 240.7h0M299.2 233.6h0M274.2 256.8h0M278.9 252.9h0M317.5 218.7h0M268.0 263.5h0M302.7 231.7h0M275.4 256.7h0M275.8 255.2h0M276.0 260.2h0M268.1 262.1h0M292.2 239.3h0M300.7 232.5h0M272.1 258.9h0M283.9 247.5h0M291.6 234.3h0M307.3 225.8h0M322.8 212.3h0M270.5 261.0h0M302.1 232.8h0M280.8 252.3h0M313.9 218.0h0M299.7 232.6h0M294.2 239.3h0M289.0 242.6h0M270.8 259.8h0M287.7 243.6h0M288.0 246.9h0M269.8 260.6h0M283.3 247.8h0M276.7 255.1h0M274.9 256.1h0M281.5 248.5h0M293.6 237.4h0M285.1 246.2h0M273.3 252.2h0M269.5 260.9h0M319.1 212.6h0M268.5 260.9h0M285.5 244.0h0M286.8 243.9h0M302.4 231.0h0M278.1 253.7h0M270.2 260.6h0M290.6 241.3h0M308.8 224.5h0M302.2 231.3h0M270.7 260.0h0M272.9 259.4h0M272.9 258.2h0M321.3 212.8h0M268.2 262.4h0M271.1 260.9h0M286.1 245.6h0M296.3 235.5h0M306.4 227.9h0M273.0 258.3h0M298.0 234.2h0M281.6 250.2h0M299.5 235.5h0M291.6 239.1h0M285.0 245.7h0M313.0 219.4h0M286.8 246.6h0M305.0 228.5h0M280.5 251.0h0M294.4 238.4h0M272.3 258.8h0M287.3 244.2h0M299.5 239.0h0M294.8 237.3h0M269.1 261.5h0M274.1 252.9h0M294.1 239.0h0M291.8 242.0h0M291.9 240.4h0M290.2 242.3h0M280.3 251.3h0M270.8 259.6h0M279.2 253.2h0M273.4 257.4h0M270.4 261.1h0M284.3 247.8h0M275.8 257.1h0M285.1 246.5h0M286.2 245.1h0M283.1 247.7h0M276.5 254.6h0M273.5 257.4h0M270.1 260.9h0M279.1 251.8h0M299.1 234.0h0M302.0 230.8h0M278.9 252.6h0M279.8 254.0h0M289.6 242.5h0M281.5 251.0h0M270.5 260.6h0M280.2 251.8h0M279.6 251.8h0M271.2 260.0h0M299.5 233.8h0M296.4 232.6h0M272.6 259.0h0M277.6 254.1h0M276.6 255.0h0M299.6 236.5h0M277.5 252.6h0M288.5 245.0h0M304.1 229.0h0M288.0 244.1h0M318.5 214.9h0M272.0 259.1h0M267.8 263.2h0M270.8 262.5h0M272.6 258.3h0M285.9 242.4h0M275.5 255.4h0M280.7 252.3h0M275.3 256.5h0M270.7 260.2h0M285.7 245.8h0M295.5 236.7h0M306.5 224.7h0M278.6 253.2h0M284.9 246.9h0M288.8 243.2h0M291.1 239.6h0M282.3 248.1h0M305.0 229.8h0M279.5 250.4h0M269.9 261.6h0M273.1 258.2h0M282.2 249.9h0M279.9 251.0h0M290.2 243.0h0M270.4 261.3h0M268.5 262.9h0M301.5 230.6h0M271.0 259.3h0M296.0 235.4h0M320.2 212.2h0M299.8 233.6h0M270.1 261.3h0M295.3 241.0h0M272.4 261.1h0M276.9 253.5h0M275.0 256.1h0M276.5 255.3h0M278.0 252.1h0M284.6 247.8h0M271.6 254.9h0M292.1 240.8h0M276.5 254.5h0M307.7 225.6h0M281.4 248.8h0M275.7 255.1h0M292.7 241.4h0M296.7 230.7h0M285.6 243.0h0M270.5 261.0h0M273.7 256.4h0M268.3 263.3h0M270.6 260.5h0M271.0 259.6h0M291.2 240.0h0M279.1 251.7h0M298.7 235.0h0M299.8 233.2h0M277.8 252.1h0M301.6 229.8h0M281.3 251.0h0M272.2 258.8h0M273.4 257.6h0M285.2 246.3h0M284.2 244.7h0M271.6 259.9h0M299.9 233.9h0M289.5 242.0h0M271.5 259.4h0M270.0 261.8h0M268.1 262.7h0M269.3 261.4h0M301.9 230.7h0M280.8 250.5h0M282.2 246.5h0M272.4 258.5h0M304.7 228.4h0M288.4 238.7h0M298.2 232.8h0M267.2 263.0h0M284.5 247.7h0M292.6 239.6h0M322.7 211.9h0M295.4 238.7h0M273.9 257.4h0M285.1 247.1h0M268.0 263.2h0M290.6 243.7h0M285.2 246.2h0M288.4 243.5h0M290.5 242.2h0M288.2 243.5h0M286.9 242.0h0M269.3 261.9h0M300.3 231.1h0M288.0 243.9h0M269.8 261.1h0M278.2 253.2h0M269.5 261.6h0M292.2 236.8h0M273.8 258.9h0M288.2 243.4h0M293.2 239.5h0M281.9 249.9h0M269.8 261.2h0M313.3 227.6h0M300.1 232.4h0M275.6 255.7h0M268.1 262.8h0M271.2 259.6h0M271.0 260.3h0M288.5 243.0h0M273.2 257.1h0M269.1 262.0h0M267.8 263.5h0M279.2 253.2h0M274.0 257.5h0M306.8 226.5h0M271.2 259.9h0M269.8 259.7h0M292.1 241.2h0M276.7 255.6h0M295.0 238.0h0M285.3 245.6h0M268.9 261.8h0M271.7 258.8h0M300.1 232.7h0M303.6 230.7h0M282.2 250.0h0M288.9 243.8h0M272.0 259.4h0M276.4 254.4h0M271.6 259.0h0M297.7 236.6h0M297.2 235.0h0M268.7 262.9h0M271.6 262.4h0M306.2 228.2h0M282.1 251.0h0M305.9 227.8h0M268.0 263.6h0M269.3 262.1h0M267.6 262.8h0M270.5 259.8h0M271.7 259.2h0M267.4 263.0h0M284.6 252.5h0M267.9 263.1h0M303.3 229.7h0M280.7 251.2h0M301.7 233.6h0M294.4 238.8h0M272.9 258.7h0M275.7 255.4h0M268.3 262.6h0M270.9 260.3h0M298.6 232.2h0M273.4 258.3h0M277.2 254.0h0M305.3 227.6h0M289.6 241.5h0M272.5 261.9h0M320.6 213.4h0M270.4 260.3h0M292.8 241.4h0M267.4 263.0h0M295.0 236.0h0M285.9 250.2h0M268.3 262.2h0M277.8 253.3h0M287.4 243.8h0M273.1 257.9h0M305.6 228.6h0M300.6 231.0h0M298.9 234.4h0M280.0 258.1h0M284.2 247.3h0M273.1 262.1h0M272.6 257.9h0M280.5 253.3h0M276.4 257.8h0M278.3 252.8h0M277.0 253.8h0M283.0 248.7h0M288.3 242.9h0M267.6 262.2h0M289.3 243.0h0M302.3 233.5h0M272.0 259.3h0M271.5 259.3h0M293.2 240.0h0M289.5 242.4h0M268.1 263.0h0M298.9 234.0h0M280.9 250.6h0M271.7 258.5h0M268.5 261.5h0M294.4 237.1h0M280.5 248.9h0M267.9 263.1h0M307.8 226.2h0M275.7 255.5h0M320.4 210.9h0M274.3 256.6h0M273.7 258.2h0M287.8 243.8h0M281.9 250.4h0M289.8 243.2h0M281.5 249.2h0M268.6 261.4h0M302.0 231.1h0M299.1 232.9h0M271.7 259.6h0M270.7 260.6h0M279.9 252.1h0M274.6 259.8h0M273.8 257.2h0M270.8 261.0h0M324.6 210.1h0M278.9 252.3h0M273.2 258.9h0M317.7 215.5h0M268.6 262.3h0M268.8 261.6h0M306.6 226.2h0M270.3 260.8h0M298.0 235.6h0M305.1 227.9h0M284.0 249.8h0M278.6 253.7h0M293.0 240.2h0M271.0 259.0h0M269.0 262.3h0M300.3 233.4h0M296.1 240.4h0M292.7 240.0h0M304.6 229.5h0M284.1 248.0h0M279.5 251.7h0M322.6 211.6h0M267.8 262.9h0M267.9 262.2h0M282.9 249.3h0M299.6 232.8h0M296.2 236.2h0M268.5 260.8h0M318.1 213.3h0M287.4 247.9h0M268.0 259.2h0M300.3 232.6h0M270.3 261.2h0M303.2 231.1h0M290.4 241.0h0M276.8 254.8h0M275.7 254.7h0M273.9 256.9h0M298.6 233.2h0M303.1 228.8h0M268.4 262.3h0M302.6 228.1h0M267.4 263.5h0M270.3 260.2h0M288.1 244.5h0M276.0 257.6h0M319.2 215.5h0M271.4 259.4h0M276.7 254.5h0M268.7 261.9h0M287.3 243.8h0M281.3 250.6h0M279.4 251.7h0M286.0 244.9h0M269.2 262.4h0M273.5 258.0h0M275.1 257.2h0M281.4 251.2h0M305.0 230.2h0M272.0 259.5h0M274.6 257.6h0M283.4 249.3h0M293.8 238.7h0M273.9 257.1h0M272.3 258.6h0M294.5 244.5h0M286.3 246.2h0M270.9 259.2h0M267.8 262.2h0M288.4 243.1h0M298.0 235.2h0M298.2 233.5h0M285.9 245.1h0M268.5 262.4h0M290.2 242.0h0M301.2 232.0h0M268.2 262.4h0M268.5 262.5h0M298.9 234.4h0M303.0 232.8h0M303.8 230.5h0M283.3 248.4h0M275.2 255.3h0M298.9 234.4h0M284.2 247.0h0M272.5 258.1h0M283.2 248.2h0M273.6 257.4h0M305.6 228.2h0M284.6 246.5h0M300.5 232.0h0M267.6 263.2h0M275.2 257.5h0M271.0 259.9h0M273.9 260.2h0M268.3 261.8h0M272.6 258.1h0M269.4 261.3h0M316.2 218.1h0M284.8 246.9h0M283.4 247.4h0M275.2 257.1h0M281.6 251.1h0M285.6 243.6h0M282.4 249.5h0M299.3 234.0h0M270.6 261.1h0M288.7 244.8h0M274.9 261.8h0M318.3 216.7h0M268.0 262.8h0M299.4 232.2h0M297.0 235.2h0M284.6 247.5h0M273.1 258.8h0M274.6 261.7h0M267.7 263.5h0M278.5 253.1h0M272.6 259.5h0M314.8 220.8h0M280.6 251.5h0M303.2 230.3h0M293.9 237.7h0M306.9 227.7h0M268.1 262.7h0M277.9 249.0h0M269.5 261.3h0M277.7 253.1h0M268.1 262.7h0M268.7 262.6h0M267.1 259.6h0M302.7 230.2h0M269.0 262.4h0M274.5 257.5h0M281.4 251.0h0M299.3 231.0h0M269.4 261.6h0M288.4 247.6h0M270.1 261.5h0M304.6 229.1h0M276.9 254.7h0M278.0 253.5h0M297.5 239.5h0M284.8 248.2h0M274.6 257.0h0M280.3 254.1h0M305.3 231.9h0M268.8 261.5h0M300.1 233.9h0M271.2 260.5h0M268.8 261.5h0M267.4 263.1h0M268.3 262.5h0M303.8 228.8h0M287.7 243.3h0M273.1 258.0h0M270.7 260.3h0M267.4 259.0h0M284.2 247.0h0M302.4 230.7h0M272.6 257.7h0M271.2 259.7h0M267.4 263.5h0M291.8 239.6h0M271.4 260.3h0M318.5 215.0h0M267.2 263.6h0M272.7 258.7h0M277.3 254.8h0M294.9 238.6h0M274.8 255.6h0M278.0 253.3h0M275.7 257.3h0M307.8 226.5h0M276.8 254.1h0M297.1 235.9h0M275.0 256.8h0M292.1 245.4h0M270.0 261.8h0M297.2 236.4h0M295.1 237.1h0M287.3 240.4h0M270.6 261.3h0M275.1 256.5h0M268.0 262.6h0M282.7 251.5h0M308.6 229.7h0M282.8 251.3h0M290.6 244.3h0M298.6 234.6h0M286.3 244.7h0M275.6 255.8h0M270.8 260.0h0M301.7 228.4h0M286.0 245.9h0M277.4 254.5h0M293.6 237.6h0M296.3 236.2h0M317.1 216.4h0M276.2 256.1h0M276.0 254.3h0M285.2 251.2h0M292.6 239.0h0M302.7 231.6h0M298.2 234.5h0M278.6 252.6h0M272.6 260.6h0M304.6 229.2h0M268.4 262.6h0M271.6 259.9h0M272.2 258.7h0M271.6 259.1h0M316.0 218.6h0M296.1 239.7h0M278.8 252.8h0M269.8 260.6h0M307.4 228.2h0M275.4 255.9h0M298.3 234.4h0" fill="none" stroke="#3b86ea" stroke-opacity="0.5" stroke-width="0.64" stroke-linecap="round"/>
<line x1="267.1" y1="263.7" x2="330.4" y2="204.4" stroke="#4b63d8" stroke-width="0.4"/>
<rect x="267.1" y="204.4" width="63.3" height="59.3" fill="none" stroke="#a8a8a8" stroke-width="0.4"/>
<text x="267.1" y="266.5" font-size="2.25" font-weight="bold" fill="#111" text-anchor="middle" stroke="#111" stroke-width="0.1">0</text>
<text x="266.3" y="264.5" font-size="2.25" font-weight="bold" fill="#111" text-anchor="end" stroke="#111" stroke-width="0.1">0</text>
<text x="275.01" y="266.5" font-size="2.25" font-weight="bold" fill="#111" text-anchor="middle" stroke="#111" stroke-width="0.1">200</text>
<text x="266.3" y="257.09" font-size="2.25" font-weight="bold" fill="#111" text-anchor="end" stroke="#111" stroke-width="0.1">200</text>
<text x="282.93" y="266.5" font-size="2.25" font-weight="bold" fill="#111" text-anchor="middle" stroke="#111" stroke-width="0.1">400</text>
<text x="266.3" y="249.68" font-size="2.25" font-weight="bold" fill="#111" text-anchor="end" stroke="#111" stroke-width="0.1">400</text>
<text x="290.84" y="266.5" font-size="2.25" font-weight="bold" fill="#111" text-anchor="middle" stroke="#111" stroke-width="0.1">600</text>
<text x="266.3" y="242.26" font-size="2.25" font-weight="bold" fill="#111" text-anchor="end" stroke="#111" stroke-width="0.1">600</text>
<text x="298.75" y="266.5" font-size="2.25" font-weight="bold" fill="#111" text-anchor="middle" stroke="#111" stroke-width="0.1">800</text>
<text x="266.3" y="234.85" font-size="2.25" font-weight="bold" fill="#111" text-anchor="end" stroke="#111" stroke-width="0.1">800</text>
<text x="306.66" y="266.5" font-size="2.25" font-weight="bold" fill="#111" text-anchor="middle" stroke="#111" stroke-width="0.1">1000</text>
<text x="266.3" y="227.44" font-size="2.25" font-weight="bold" fill="#111" text-anchor="end" stroke="#111" stroke-width="0.1">1000</text>
<text x="314.58" y="266.5" font-size="2.25" font-weight="bold" fill="#111" text-anchor="middle" stroke="#111" stroke-width="0.1">1200</text>
<text x="266.3" y="220.03" font-size="2.25" font-weight="bold" fill="#111" text-anchor="end" stroke="#111" stroke-width="0.1">1200</text>
<text x="322.49" y="266.5" font-size="2.25" font-weight="bold" fill="#111" text-anchor="middle" stroke="#111" stroke-width="0.1">1400</text>
<text x="266.3" y="212.61" font-size="2.25" font-weight="bold" fill="#111" text-anchor="end" stroke="#111" stroke-width="0.1">1400</text>
<text x="330.4" y="266.5" font-size="2.25" font-weight="bold" fill="#111" text-anchor="middle" stroke="#111" stroke-width="0.1">1600</text>
<text x="266.3" y="205.2" font-size="2.25" font-weight="bold" fill="#111" text-anchor="end" stroke="#111" stroke-width="0.1">1600</text>
<text x="298.75" y="271" font-size="2.8" font-weight="bold" fill="#111" text-anchor="middle" stroke="#111" stroke-width="0.1">CM<tspan font-size="1.8" dy="0.6">4</tspan></text>
<text x="259.8" y="234.45" font-size="2.65" font-weight="bold" fill="#111" text-anchor="middle" transform="rotate(-90 259.8 234.45)" stroke="#111" stroke-width="0.1">Actual Data</text>
<circle cx="273.8" cy="206.6" r="0.35" fill="#3b86ea"/>
<text x="278.5" y="207.3" font-size="2.3" font-weight="bold" fill="#222" text-anchor="start" stroke="#222" stroke-width="0.1">CM<tspan font-size="1.6" dy="0.5">4</tspan><tspan dy="-0.5"> vs. Actual Data</tspan></text>
<line x1="272.1" y1="209.1" x2="275.7" y2="209.1" stroke="#4b63d8" stroke-width="0.4"/>
<text x="278.5" y="209.8" font-size="2.3" font-weight="bold" fill="#222" text-anchor="start" stroke="#222" stroke-width="0.1">Actual Data</text>
<line x1="272.1" y1="211.6" x2="275.7" y2="211.6" stroke="#8a93a8" stroke-width="0.35" stroke-dasharray="0.5 0.4"/>
<text x="278.5" y="212.3" font-size="2.3" font-weight="bold" fill="#222" text-anchor="start" stroke="#222" stroke-width="0.1">Pred bnds (95%)</text>
<rect x="21.5" y="483.1" width="50.6" height="49.7" fill="#fff" stroke="none"/>
<line x1="28.73" y1="483.1" x2="28.73" y2="532.8" stroke="#dcdcdc" stroke-width="0.3"/>
<line x1="35.96" y1="483.1" x2="35.96" y2="532.8" stroke="#dcdcdc" stroke-width="0.3"/>
<line x1="43.19" y1="483.1" x2="43.19" y2="532.8" stroke="#dcdcdc" stroke-width="0.3"/>
<line x1="50.41" y1="483.1" x2="50.41" y2="532.8" stroke="#dcdcdc" stroke-width="0.3"/>
<line x1="57.64" y1="483.1" x2="57.64" y2="532.8" stroke="#dcdcdc" stroke-width="0.3"/>
<line x1="64.87" y1="483.1" x2="64.87" y2="532.8" stroke="#dcdcdc" stroke-width="0.3"/>
<line x1="21.5" y1="490.2" x2="72.1" y2="490.2" stroke="#dcdcdc" stroke-width="0.3"/>
<line x1="21.5" y1="497.3" x2="72.1" y2="497.3" stroke="#dcdcdc" stroke-width="0.3"/>
<line x1="21.5" y1="504.4" x2="72.1" y2="504.4" stroke="#dcdcdc" stroke-width="0.3"/>
<line x1="21.5" y1="511.5" x2="72.1" y2="511.5" stroke="#dcdcdc" stroke-width="0.3"/>
<line x1="21.5" y1="518.6" x2="72.1" y2="518.6" stroke="#dcdcdc" stroke-width="0.3"/>
<line x1="21.5" y1="525.7" x2="72.1" y2="525.7" stroke="#dcdcdc" stroke-width="0.3"/>
<line x1="28.73" y1="532.8" x2="72.1" y2="490.2" stroke="#8a93a8" stroke-width="0.35" stroke-dasharray="0.5 0.4"/>
<line x1="21.5" y1="525.7" x2="64.87" y2="483.1" stroke="#8a93a8" stroke-width="0.35" stroke-dasharray="0.5 0.4"/>
<path d="M38.0 518.4h0M40.8 516.2h0M38.9 519.1h0M38.7 519.5h0M34.5 522.0h0M31.0 520.4h0M34.4 518.0h0M37.3 516.1h0M38.0 514.7h0M38.5 519.7h0M33.0 519.2h0M38.3 516.7h0M41.9 510.8h0M34.7 519.8h0M30.8 522.6h0M33.4 520.3h0M34.3 521.3h0M47.8 506.9h0M39.0 518.3h0M38.4 521.6h0M34.1 518.8h0M26.9 525.9h0M40.0 517.1h0M31.8 515.8h0M40.5 511.8h0M44.9 510.9h0M35.9 515.9h0M44.3 512.2h0M37.5 517.4h0M48.9 508.6h0M35.9 517.3h0M31.1 522.7h0M44.5 511.7h0M48.9 500.5h0M28.3 522.3h0M44.1 512.5h0M40.9 512.9h0M34.6 519.1h0M42.0 511.6h0M37.1 513.1h0M35.6 516.9h0M39.0 516.3h0M31.6 521.9h0M30.2 524.3h0M32.6 519.6h0M34.9 517.1h0M38.7 513.1h0M39.3 515.4h0M37.4 512.7h0M44.6 509.5h0M34.5 521.1h0M47.1 507.1h0M45.1 510.5h0M38.7 510.6h0M32.9 519.3h0M32.1 519.1h0M33.7 517.6h0M38.2 515.4h0M35.9 521.5h0M27.6 523.2h0M37.2 515.1h0M32.8 519.3h0M37.4 509.2h0M39.4 516.6h0M32.5 519.3h0M36.4 514.5h0M35.3 518.7h0M30.3 524.6h0M31.6 521.5h0M38.7 515.3h0M38.2 519.0h0M37.4 516.2h0M43.4 508.4h0M41.7 514.6h0M41.4 513.2h0M34.1 526.4h0M29.8 524.1h0M49.9 500.5h0M45.1 508.4h0M34.5 515.4h0M46.0 504.1h0M30.8 520.7h0M29.0 525.9h0M42.7 508.0h0M32.4 521.9h0M39.6 514.8h0M35.2 511.9h0M30.5 524.8h0M38.7 516.0h0M31.5 521.3h0M33.9 516.2h0M44.3 511.3h0M47.2 508.5h0M35.8 520.7h0M34.6 520.1h0M31.9 520.9h0M33.2 519.1h0M37.6 518.0h0M35.9 519.1h0M40.6 510.3h0M39.9 514.1h0M33.7 516.3h0M36.7 519.2h0M37.8 517.4h0M29.0 524.8h0M37.0 520.4h0M26.9 524.3h0M29.6 520.4h0M37.9 514.6h0M43.0 514.3h0M52.6 503.1h0M34.9 519.5h0M42.6 512.9h0M33.6 522.2h0M33.8 524.1h0M46.0 511.0h0M37.8 515.7h0M40.6 513.6h0M36.7 517.1h0M42.5 511.7h0M38.1 515.5h0M33.4 518.8h0M36.3 517.5h0M32.3 520.3h0M39.1 519.9h0M29.9 522.0h0M27.1 525.5h0M33.1 519.0h0M33.5 518.9h0M39.7 514.4h0M30.4 524.8h0M35.7 512.9h0M37.2 515.2h0M39.2 514.6h0M33.0 524.4h0M39.2 522.0h0M35.7 518.0h0M34.6 521.1h0M36.1 518.0h0M35.7 519.0h0M29.1 519.6h0M40.0 516.6h0M42.0 513.5h0M33.5 518.2h0M33.7 518.3h0M32.2 517.8h0M38.3 518.1h0M51.3 503.1h0M35.1 523.1h0M32.6 521.4h0M29.1 525.8h0M31.6 521.9h0M27.1 526.1h0M31.6 519.5h0M41.5 513.2h0M36.5 517.1h0M42.8 508.2h0M40.6 515.1h0M38.9 511.5h0M41.2 510.8h0M29.1 523.6h0M30.8 523.1h0M30.4 522.7h0M37.0 519.2h0M29.4 525.9h0M45.4 506.7h0M39.2 519.3h0M42.0 503.3h0M57.0 497.8h0M35.2 520.6h0M34.9 517.0h0M41.7 509.2h0M50.2 498.7h0M43.1 507.7h0M33.2 520.4h0M30.8 527.2h0M37.6 514.3h0M28.1 526.7h0M33.5 522.6h0M34.6 520.7h0M39.5 512.8h0M47.0 512.1h0M45.4 506.1h0M31.8 520.5h0M31.2 522.6h0M44.3 501.4h0M38.8 511.0h0M30.2 523.7h0M34.1 520.5h0M45.0 504.4h0M26.6 527.1h0M43.8 510.9h0M41.3 510.5h0M46.7 505.8h0M44.9 505.9h0M32.4 517.8h0M41.3 518.5h0M32.1 522.3h0M27.9 527.0h0M42.3 514.0h0M55.0 497.8h0M45.9 505.7h0M37.2 519.0h0M29.5 523.5h0M41.4 508.6h0M32.2 522.6h0M36.5 519.6h0M44.2 510.8h0M37.1 514.4h0M37.7 518.8h0M34.7 516.1h0M34.2 517.6h0M37.9 514.9h0M41.0 511.7h0M31.5 524.8h0M32.3 523.6h0M36.5 515.5h0M40.3 510.8h0M30.2 523.8h0M32.2 523.5h0M27.3 527.9h0M40.2 511.2h0M36.6 520.3h0M39.0 515.1h0M40.6 516.9h0M37.8 512.0h0M33.9 518.6h0M32.6 521.8h0M37.3 515.9h0M32.5 517.0h0M37.5 517.0h0M32.2 521.9h0M30.6 521.5h0M38.1 513.5h0M26.7 527.5h0M26.9 524.0h0M40.9 513.1h0M29.4 525.4h0M31.3 520.1h0M31.2 526.6h0M30.1 523.3h0M40.8 511.1h0M35.3 522.3h0M28.3 521.6h0M34.1 518.5h0M37.4 520.0h0M34.9 523.2h0M29.4 525.2h0M37.2 520.4h0M37.5 520.6h0M55.3 499.2h0M33.9 519.7h0M35.8 519.5h0M31.4 525.8h0M32.5 521.3h0M34.6 516.0h0M34.5 515.2h0M39.6 515.6h0M27.0 527.1h0M31.5 523.6h0M38.2 516.8h0M31.7 517.7h0M36.3 512.8h0M45.4 505.1h0M37.2 521.4h0M37.3 515.6h0M36.0 520.9h0M28.5 527.9h0M38.5 514.7h0M33.8 520.7h0M49.4 507.1h0M28.9 525.9h0M30.3 522.3h0M38.5 515.7h0M37.1 516.7h0M35.3 517.1h0M28.6 521.9h0M35.1 522.0h0M31.7 521.9h0M40.3 514.6h0M34.3 515.6h0M41.0 511.0h0M37.6 515.9h0M31.4 521.7h0M39.3 516.4h0M27.3 526.7h0M35.0 518.9h0M44.1 515.5h0M33.1 520.7h0M37.0 520.0h0M45.2 508.2h0M35.3 516.0h0M33.9 524.0h0M31.6 524.1h0M36.2 518.7h0M40.7 512.4h0M33.4 517.4h0M38.8 514.4h0M37.0 514.8h0M38.6 516.4h0M34.8 519.2h0M33.9 522.3h0M33.5 524.0h0M41.9 509.8h0M31.3 524.7h0M36.1 521.1h0M30.0 522.4h0M28.0 527.0h0M41.7 512.2h0M29.9 519.0h0M27.5 527.5h0M36.1 516.2h0M38.9 512.6h0M29.1 526.4h0M40.0 510.0h0M30.9 523.6h0M28.3 522.9h0M37.6 515.2h0M46.9 507.6h0M29.1 526.5h0M36.6 519.8h0M49.0 503.4h0M52.7 502.0h0M33.2 521.2h0M38.9 516.7h0M41.3 516.4h0M47.4 507.8h0M37.2 516.1h0M29.5 524.1h0M27.2 523.8h0M35.7 517.1h0M36.6 519.8h0M33.6 521.6h0M30.2 521.9h0M37.5 516.3h0M30.7 519.6h0M29.9 526.7h0M35.3 517.0h0M53.9 498.2h0M33.0 525.7h0M42.9 510.5h0M44.3 512.1h0M34.6 522.5h0M30.6 525.4h0M36.7 517.8h0M30.0 526.7h0M31.4 525.7h0M37.2 514.7h0M47.3 507.5h0M36.3 516.6h0M39.2 510.8h0M52.8 503.2h0M30.9 522.8h0M36.9 513.9h0M40.9 515.5h0M50.8 505.6h0M35.0 521.0h0M46.5 507.2h0M39.4 518.4h0M33.1 515.5h0M38.0 516.4h0M33.6 518.5h0M32.3 521.6h0M29.3 525.5h0M40.4 515.8h0M35.9 518.1h0M34.7 520.3h0M31.3 524.7h0M43.9 515.8h0M29.5 525.9h0M51.8 499.7h0M28.0 527.3h0M39.0 516.3h0M36.9 521.1h0M50.5 500.6h0M38.3 515.9h0M46.2 503.8h0M43.8 509.0h0M45.6 502.6h0M33.4 518.2h0M40.7 511.8h0M35.3 519.2h0M32.5 523.7h0M36.4 520.4h0M30.5 523.2h0M54.2 498.5h0M37.6 517.5h0M30.2 524.3h0M31.3 524.6h0M31.4 527.1h0M43.9 513.0h0M36.4 518.1h0M36.7 520.9h0M32.2 521.0h0M28.3 526.1h0M37.8 515.2h0M38.6 515.6h0M38.6 516.2h0M47.8 502.7h0M43.8 511.8h0M33.7 522.1h0M46.6 506.0h0M45.0 506.2h0M45.7 504.9h0M38.4 512.7h0M49.3 508.1h0M32.6 527.6h0M45.9 502.9h0M39.5 516.6h0M36.5 516.4h0M41.5 510.8h0M36.9 523.1h0M28.9 521.7h0M30.0 520.6h0M38.0 517.8h0M32.1 514.9h0M31.1 520.8h0M38.9 517.6h0M31.8 522.5h0M43.3 508.5h0M31.6 522.9h0M28.3 524.8h0M41.0 511.0h0M32.4 524.2h0M35.7 518.2h0M39.7 520.2h0M37.1 520.2h0M37.3 515.0h0M30.8 525.9h0M29.8 525.0h0M36.7 513.8h0M41.1 507.0h0M27.9 523.7h0M34.6 519.0h0M32.8 516.1h0M30.4 523.1h0M29.6 520.5h0M41.4 511.8h0M33.0 518.7h0M40.2 517.9h0M33.9 518.9h0M41.9 506.9h0M43.7 509.0h0M32.7 521.4h0M34.3 519.9h0M36.2 518.6h0M33.4 521.6h0M47.2 511.4h0M33.9 518.3h0M44.2 507.7h0M38.4 512.2h0M31.5 519.7h0M47.7 504.5h0M28.1 526.8h0M37.2 515.2h0M41.5 516.2h0M33.9 521.4h0M40.4 514.0h0M29.7 526.2h0M37.1 517.9h0M37.1 516.1h0M39.2 520.2h0M44.7 510.8h0M33.9 520.7h0M38.0 517.8h0M40.9 512.9h0M38.9 514.9h0M29.4 527.5h0M38.0 517.0h0M32.0 522.8h0M34.6 516.0h0M48.6 507.5h0M40.2 508.2h0M32.2 522.8h0M42.0 516.0h0M39.8 513.9h0M39.4 513.1h0M36.6 512.4h0M27.0 526.0h0M43.5 506.1h0M27.6 527.5h0M36.9 518.4h0M33.8 520.7h0M30.7 523.6h0M28.3 524.8h0M37.5 519.7h0M38.9 515.3h0M35.6 520.2h0M47.4 506.6h0M32.5 523.8h0M37.1 520.0h0M37.6 516.8h0M38.1 514.1h0M37.6 511.6h0M49.5 497.4h0M41.9 504.8h0M37.9 515.5h0M34.1 524.3h0M33.9 518.6h0M36.6 517.8h0M40.2 514.6h0M43.1 511.7h0M29.4 521.9h0M35.3 514.6h0M27.6 522.9h0M37.3 516.2h0M37.7 517.3h0M36.9 517.7h0M40.2 515.1h0M42.0 512.4h0M30.0 524.0h0M40.5 516.3h0M46.8 510.1h0M31.3 524.9h0M33.4 517.5h0M54.2 496.8h0M31.3 521.9h0M28.1 522.4h0M36.4 516.4h0M31.1 525.1h0M33.8 518.3h0M30.1 522.4h0M34.6 518.4h0M38.3 513.7h0M46.9 506.9h0M43.1 512.4h0M30.9 526.4h0M43.4 508.3h0M37.4 514.9h0M37.3 516.0h0M37.2 515.3h0M33.8 515.3h0M38.6 511.4h0M30.1 527.8h0M37.1 521.4h0M34.0 523.7h0M29.6 527.1h0M39.5 510.7h0M38.5 520.2h0M42.1 516.0h0M34.5 519.3h0M33.8 525.5h0M33.5 520.8h0M38.6 517.5h0M32.5 523.8h0M34.2 524.9h0M31.1 521.7h0M39.8 514.6h0M36.0 517.1h0M29.4 523.1h0M36.0 516.6h0M28.5 525.2h0M47.0 501.0h0M49.5 508.7h0M31.4 519.0h0M34.5 520.7h0M38.5 517.6h0M33.9 520.4h0M35.1 522.2h0M32.2 524.4h0M43.2 510.8h0M36.9 513.7h0M33.4 520.0h0M30.6 524.5h0M41.5 512.3h0M30.9 524.1h0M40.3 508.4h0M42.5 513.8h0M31.1 526.3h0M35.6 522.3h0M34.1 525.9h0M28.3 527.9h0M32.1 521.8h0M49.1 505.5h0M31.0 524.9h0M41.4 511.7h0M40.3 515.1h0M31.8 520.0h0M37.6 508.9h0M38.2 515.3h0M40.4 511.4h0M43.0 510.0h0M33.8 522.2h0M35.9 512.8h0M42.6 510.0h0M46.6 511.2h0M54.9 497.5h0M39.5 517.2h0M54.9 498.7h0M35.8 520.2h0M36.5 516.2h0M49.3 501.0h0M48.9 506.0h0M34.5 518.0h0M34.9 520.3h0M50.7 499.8h0M45.5 508.4h0M34.0 523.7h0M38.7 515.3h0M42.3 511.4h0M35.3 523.9h0M31.9 520.7h0M35.5 522.9h0M39.0 511.4h0M31.6 523.9h0M29.8 522.6h0M38.2 510.6h0M41.1 517.8h0M42.3 511.8h0M34.9 515.3h0M31.8 517.7h0M47.6 506.6h0M38.1 516.4h0M33.6 517.1h0M35.5 519.9h0M38.1 519.7h0M26.9 526.3h0M28.0 527.8h0M30.7 523.0h0M37.5 518.7h0M40.7 514.6h0M37.0 516.6h0M46.3 507.0h0M45.2 510.1h0M41.9 510.7h0M41.3 515.0h0M32.0 525.1h0M34.4 519.3h0M38.4 514.0h0M46.3 509.9h0M38.0 518.7h0M41.3 510.7h0M41.0 511.5h0M29.1 523.4h0M39.6 512.3h0M30.2 522.3h0M35.9 522.2h0M44.3 507.1h0M33.6 520.4h0M35.1 520.5h0M37.2 516.6h0M28.5 525.5h0M34.1 523.4h0M35.1 515.4h0M42.5 514.0h0M40.8 511.7h0M31.4 526.6h0M35.2 520.8h0M35.6 516.3h0M38.6 512.4h0M41.4 512.7h0M39.9 513.8h0M47.6 503.0h0M36.5 513.5h0M35.1 518.5h0M33.6 526.4h0M48.4 506.1h0M40.2 512.4h0M45.6 508.7h0M30.4 528.0h0M34.4 517.9h0M33.1 520.6h0M31.9 518.8h0M35.0 515.8h0M47.9 496.3h0M41.3 518.7h0M31.4 520.8h0M41.7 511.6h0M39.7 513.8h0M28.4 526.7h0M36.6 518.4h0M39.2 514.0h0M29.6 526.8h0M40.8 508.3h0M34.5 519.2h0M34.6 518.1h0M35.4 518.1h0M33.3 521.1h0M38.1 515.5h0M43.2 508.6h0M30.9 520.6h0M31.2 522.5h0M46.8 507.9h0M45.4 503.9h0M39.4 513.7h0M34.6 524.2h0M52.9 498.5h0M39.0 514.2h0M34.3 518.3h0M39.0 509.3h0M33.3 517.9h0M38.0 512.6h0M36.2 523.3h0M31.1 519.7h0M44.7 506.9h0M34.2 516.8h0M31.7 521.2h0M40.2 508.1h0M36.7 519.0h0M33.6 522.3h0M30.9 527.8h0M42.0 515.2h0M30.1 526.1h0M26.6 527.9h0M40.6 511.3h0M29.9 523.0h0M41.7 514.2h0M29.9 524.6h0M45.3 504.8h0M40.4 509.1h0M37.7 515.8h0M36.2 524.6h0M37.4 517.7h0M45.8 512.6h0M33.2 520.9h0M29.4 521.7h0M26.9 526.5h0M34.6 516.2h0M44.0 515.6h0M32.3 522.0h0M37.5 517.6h0M40.7 513.7h0M33.3 521.2h0M31.9 523.5h0M27.0 527.9h0M37.2 520.4h0M34.1 515.0h0M39.6 515.7h0M42.0 512.9h0M29.9 522.2h0M32.4 523.0h0M42.9 514.6h0M34.6 519.9h0M33.0 524.4h0M38.5 512.1h0M31.9 521.5h0M47.3 499.0h0M39.4 514.8h0M35.8 518.9h0M41.1 511.2h0M36.9 515.1h0M33.3 516.9h0M41.6 515.2h0M46.9 506.8h0M31.6 527.2h0M39.3 509.4h0M29.8 520.0h0M35.9 515.3h0M34.3 516.8h0M34.2 522.0h0M43.6 510.3h0M28.3 525.7h0M36.5 518.2h0M43.8 509.7h0M28.8 525.7h0M40.9 514.8h0M38.5 518.5h0M26.6 525.7h0M37.6 513.6h0M33.7 520.4h0M37.0 520.9h0M26.9 527.2h0M42.6 507.7h0M36.8 516.5h0M33.8 518.5h0M35.9 523.9h0M38.0 513.2h0M32.1 524.9h0M31.3 524.1h0M38.8 513.9h0M38.3 516.9h0M28.4 526.6h0M35.3 522.0h0M39.5 512.4h0M36.7 510.5h0M34.7 519.1h0M47.7 505.3h0M42.1 514.1h0M39.2 512.3h0M32.5 515.9h0M41.9 511.3h0M43.3 509.4h0M32.2 523.2h0M31.8 524.5h0M33.6 524.1h0M32.3 520.8h0M28.3 527.0h0M31.8 520.2h0M33.2 523.0h0M39.1 515.7h0M32.0 522.0h0M31.0 524.0h0M36.9 516.6h0M36.7 514.7h0M32.3 521.2h0M28.6 527.8h0M34.3 517.5h0M29.3 524.2h0M38.5 516.2h0M34.3 517.1h0M38.1 511.5h0M36.0 516.7h0M37.5 518.0h0M42.5 509.6h0M36.0 520.3h0M30.9 519.2h0M53.0 498.8h0M33.6 526.3h0M33.9 522.4h0M45.6 507.1h0M33.0 522.2h0M45.9 504.5h0M33.5 522.4h0M27.7 525.1h0M32.1 524.1h0M30.5 524.6h0M29.7 526.5h0M31.3 521.4h0M38.5 518.5h0M29.7 526.9h0M38.6 516.2h0M39.3 513.1h0M38.1 514.7h0M37.1 518.8h0M35.5 515.2h0M30.7 517.4h0M30.3 518.3h0M42.0 512.9h0M29.2 525.6h0M39.6 512.9h0M40.9 516.2h0M34.7 515.4h0M41.3 513.4h0M35.2 516.0h0M39.4 511.2h0M33.5 517.3h0M30.3 524.1h0M30.5 524.1h0M40.0 510.6h0M28.0 527.7h0M42.4 513.7h0M31.5 523.4h0M34.3 519.8h0M36.4 514.3h0M40.3 514.0h0M34.6 520.1h0M38.8 514.9h0M35.1 517.5h0M43.1 508.2h0M30.5 522.9h0M31.1 522.3h0M43.3 506.6h0M37.0 513.8h0M34.5 516.7h0M34.1 517.7h0M44.6 503.9h0M42.6 516.0h0M37.1 517.8h0M31.7 518.5h0M43.2 505.1h0M43.7 510.0h0M42.5 511.2h0M36.7 516.2h0M46.7 510.2h0M35.3 520.2h0M43.6 509.7h0M35.7 521.6h0M36.3 515.5h0M43.2 505.5h0M34.2 523.5h0M38.8 518.9h0M41.0 514.9h0M46.0 508.0h0M35.5 516.4h0M43.0 512.7h0M39.0 522.9h0M30.7 518.7h0M32.4 525.9h0M30.9 519.5h0M32.9 518.5h0M33.6 522.5h0M34.0 517.6h0M33.6 520.9h0M40.1 514.5h0M38.1 512.8h0M29.2 525.2h0M32.0 522.3h0M34.4 521.7h0M36.9 523.6h0M44.8 509.4h0M40.7 510.1h0M32.8 518.2h0M37.3 518.4h0M45.0 504.6h0M31.3 523.3h0M31.0 527.4h0M30.0 527.1h0M37.6 516.2h0M40.2 515.9h0M32.3 520.1h0" fill="none" stroke="#2fb6ea" stroke-opacity="0.5" stroke-width="0.72" stroke-linecap="round"/>
<line x1="21.5" y1="532.8" x2="72.1" y2="483.1" stroke="#4b63d8" stroke-width="0.4"/>
<rect x="21.5" y="483.1" width="50.6" height="49.7" fill="none" stroke="#a8a8a8" stroke-width="0.4"/>
<text x="21.5" y="535.6" font-size="2.25" font-weight="bold" fill="#111" text-anchor="middle" stroke="#111" stroke-width="0.1">0</text>
<text x="20.7" y="533.6" font-size="2.25" font-weight="bold" fill="#111" text-anchor="end" stroke="#111" stroke-width="0.1">0</text>
<text x="28.73" y="535.6" font-size="2.25" font-weight="bold" fill="#111" text-anchor="middle" stroke="#111" stroke-width="0.1">2</text>
<text x="20.7" y="526.5" font-size="2.25" font-weight="bold" fill="#111" text-anchor="end" stroke="#111" stroke-width="0.1">2</text>
<text x="35.96" y="535.6" font-size="2.25" font-weight="bold" fill="#111" text-anchor="middle" stroke="#111" stroke-width="0.1">4</text>
<text x="20.7" y="519.4" font-size="2.25" font-weight="bold" fill="#111" text-anchor="end" stroke="#111" stroke-width="0.1">4</text>
<text x="43.19" y="535.6" font-size="2.25" font-weight="bold" fill="#111" text-anchor="middle" stroke="#111" stroke-width="0.1">6</text>
<text x="20.7" y="512.3" font-size="2.25" font-weight="bold" fill="#111" text-anchor="end" stroke="#111" stroke-width="0.1">6</text>
<text x="50.41" y="535.6" font-size="2.25" font-weight="bold" fill="#111" text-anchor="middle" stroke="#111" stroke-width="0.1">8</text>
<text x="20.7" y="505.2" font-size="2.25" font-weight="bold" fill="#111" text-anchor="end" stroke="#111" stroke-width="0.1">8</text>
<text x="57.64" y="535.6" font-size="2.25" font-weight="bold" fill="#111" text-anchor="middle" stroke="#111" stroke-width="0.1">10</text>
<text x="20.7" y="498.1" font-size="2.25" font-weight="bold" fill="#111" text-anchor="end" stroke="#111" stroke-width="0.1">10</text>
<text x="64.87" y="535.6" font-size="2.25" font-weight="bold" fill="#111" text-anchor="middle" stroke="#111" stroke-width="0.1">12</text>
<text x="20.7" y="491" font-size="2.25" font-weight="bold" fill="#111" text-anchor="end" stroke="#111" stroke-width="0.1">12</text>
<text x="72.1" y="535.6" font-size="2.25" font-weight="bold" fill="#111" text-anchor="middle" stroke="#111" stroke-width="0.1">14</text>
<text x="20.7" y="483.9" font-size="2.25" font-weight="bold" fill="#111" text-anchor="end" stroke="#111" stroke-width="0.1">14</text>
<text x="46.8" y="540.1" font-size="2.8" font-weight="bold" fill="#111" text-anchor="middle" stroke="#111" stroke-width="0.1">Sub-model 1</text>
<text x="18.5" y="508.35" font-size="2.65" font-weight="bold" fill="#111" text-anchor="middle" transform="rotate(-90 18.5 508.35)" stroke="#111" stroke-width="0.1">Actual Data</text>
<circle cx="26.2" cy="485.3" r="0.35" fill="#2fb6ea"/>
<text x="30.9" y="486" font-size="2.3" font-weight="bold" fill="#222" text-anchor="start" stroke="#222" stroke-width="0.1">Sub-model 1 vs. Actual Data</text>
<line x1="24.5" y1="487.8" x2="28.1" y2="487.8" stroke="#4b63d8" stroke-width="0.4"/>
<text x="30.9" y="488.5" font-size="2.3" font-weight="bold" fill="#222" text-anchor="start" stroke="#222" stroke-width="0.1">Actual Data</text>
<line x1="24.5" y1="490.3" x2="28.1" y2="490.3" stroke="#8a93a8" stroke-width="0.35" stroke-dasharray="0.5 0.4"/>
<text x="30.9" y="491" font-size="2.3" font-weight="bold" fill="#222" text-anchor="start" stroke="#222" stroke-width="0.1">Pred bnds (95%)</text>
<rect x="86.3" y="483.1" width="50.6" height="49.7" fill="#fff" stroke="none"/>
<line x1="93.53" y1="483.1" x2="93.53" y2="532.8" stroke="#dcdcdc" stroke-width="0.3"/>
<line x1="100.76" y1="483.1" x2="100.76" y2="532.8" stroke="#dcdcdc" stroke-width="0.3"/>
<line x1="107.99" y1="483.1" x2="107.99" y2="532.8" stroke="#dcdcdc" stroke-width="0.3"/>
<line x1="115.21" y1="483.1" x2="115.21" y2="532.8" stroke="#dcdcdc" stroke-width="0.3"/>
<line x1="122.44" y1="483.1" x2="122.44" y2="532.8" stroke="#dcdcdc" stroke-width="0.3"/>
<line x1="129.67" y1="483.1" x2="129.67" y2="532.8" stroke="#dcdcdc" stroke-width="0.3"/>
<line x1="86.3" y1="490.2" x2="136.9" y2="490.2" stroke="#dcdcdc" stroke-width="0.3"/>
<line x1="86.3" y1="497.3" x2="136.9" y2="497.3" stroke="#dcdcdc" stroke-width="0.3"/>
<line x1="86.3" y1="504.4" x2="136.9" y2="504.4" stroke="#dcdcdc" stroke-width="0.3"/>
<line x1="86.3" y1="511.5" x2="136.9" y2="511.5" stroke="#dcdcdc" stroke-width="0.3"/>
<line x1="86.3" y1="518.6" x2="136.9" y2="518.6" stroke="#dcdcdc" stroke-width="0.3"/>
<line x1="86.3" y1="525.7" x2="136.9" y2="525.7" stroke="#dcdcdc" stroke-width="0.3"/>
<line x1="93.53" y1="532.8" x2="136.9" y2="490.2" stroke="#8a93a8" stroke-width="0.35" stroke-dasharray="0.5 0.4"/>
<line x1="86.3" y1="525.7" x2="129.67" y2="483.1" stroke="#8a93a8" stroke-width="0.35" stroke-dasharray="0.5 0.4"/>
<path d="M96.7 523.4h0M94.6 526.8h0M103.2 511.2h0M102.5 514.6h0M113.3 504.8h0M106.6 511.1h0M101.2 515.8h0M96.4 526.5h0M98.8 517.1h0M108.9 504.3h0M102.0 517.1h0M96.7 524.6h0M92.4 527.1h0M92.2 525.0h0M107.0 506.9h0M100.3 518.5h0M102.0 517.3h0M105.5 516.8h0M100.3 514.9h0M100.3 523.5h0M105.2 512.2h0M96.6 520.1h0M100.7 515.2h0M103.4 514.6h0M103.9 512.7h0M107.0 514.4h0M94.4 526.9h0M106.1 505.4h0M94.7 527.3h0M102.5 520.0h0M102.4 516.5h0M106.5 512.5h0M111.8 509.4h0M112.7 509.4h0M112.4 505.6h0M105.0 510.7h0M101.1 519.4h0M112.8 503.4h0M123.7 497.8h0M111.9 504.1h0M103.8 508.7h0M94.1 524.4h0M96.8 516.6h0M103.8 514.3h0M103.0 511.7h0M99.4 520.6h0M97.7 523.2h0M95.8 525.3h0M112.3 505.6h0M105.6 510.4h0M111.3 501.8h0M100.3 518.8h0M113.9 502.7h0M97.2 522.2h0M102.9 523.1h0M101.5 518.3h0M112.1 504.6h0M99.6 521.1h0M99.4 519.6h0M94.4 520.4h0M102.6 520.5h0M110.3 503.9h0M103.5 515.5h0M94.6 523.3h0M93.9 526.8h0M106.1 517.1h0M108.5 512.4h0M97.3 527.2h0M100.0 522.7h0M97.2 514.2h0M106.0 507.6h0M98.9 518.4h0M106.3 514.1h0M106.6 513.7h0M93.5 527.2h0M106.3 517.9h0M95.4 525.3h0M101.2 519.2h0M100.9 519.2h0M103.1 511.8h0M110.6 507.1h0M100.9 520.2h0M96.7 527.4h0M93.7 525.1h0M106.6 512.3h0M109.3 506.0h0M100.6 517.0h0M101.3 515.6h0M102.1 519.4h0M98.8 520.9h0M99.4 518.6h0M101.2 517.4h0M101.0 517.4h0M103.0 515.6h0M100.2 525.5h0M102.6 511.2h0M104.3 516.8h0M100.5 520.2h0M105.0 513.5h0M93.1 523.7h0M94.6 518.3h0M93.2 525.0h0M92.1 525.3h0M113.6 508.1h0M99.8 519.1h0M100.2 524.0h0M98.0 523.1h0M104.9 511.4h0M100.8 517.5h0M100.1 523.3h0M95.9 525.3h0M98.6 523.5h0M97.5 520.5h0M103.2 513.2h0M94.8 526.5h0M92.1 527.6h0M102.6 513.6h0M93.5 524.9h0M104.2 514.9h0M104.1 510.9h0M97.0 519.9h0M106.3 517.0h0M96.1 523.3h0M114.0 500.7h0M94.4 525.9h0M98.9 522.8h0M104.4 513.6h0M98.7 521.4h0M111.2 505.5h0M101.3 517.6h0M96.6 517.7h0M111.0 508.3h0M104.4 510.9h0M95.2 524.5h0M101.9 522.3h0M95.7 519.0h0M101.7 520.1h0M108.2 505.2h0M92.6 523.9h0M99.7 521.1h0M103.5 516.4h0M92.4 526.5h0M102.4 516.5h0M95.5 519.1h0M108.0 511.6h0M104.7 511.2h0M108.1 512.9h0M105.7 515.8h0M93.0 526.7h0M92.8 520.2h0M97.9 520.0h0M106.5 515.6h0M105.3 511.6h0M94.9 524.0h0M97.5 520.9h0M104.5 515.1h0M99.1 520.0h0M98.8 524.2h0M98.3 520.9h0M96.9 520.9h0M91.6 527.9h0M96.4 518.6h0M96.3 522.1h0M102.6 511.6h0M100.0 515.3h0M98.6 519.4h0M97.4 521.4h0M93.7 523.3h0M110.5 511.5h0M102.7 516.3h0M112.7 507.6h0M101.4 515.1h0M99.0 518.0h0M94.5 521.4h0M95.5 524.2h0M103.7 513.5h0M94.9 526.4h0M96.0 519.6h0M97.4 523.9h0M91.5 523.7h0M94.9 524.8h0M105.4 515.8h0M116.2 498.0h0M95.1 522.8h0M97.0 523.3h0M112.0 505.9h0M98.1 519.0h0M114.4 509.8h0M99.6 520.2h0M107.7 509.3h0M113.1 512.3h0M101.6 518.7h0M101.0 523.1h0M98.9 522.3h0M104.2 514.3h0M104.5 513.8h0M98.9 518.7h0M104.0 512.0h0M100.5 521.1h0M103.4 511.0h0M93.2 527.0h0M91.7 528.0h0M99.9 520.5h0M105.9 515.2h0M107.3 513.9h0M94.8 528.1h0M97.1 526.2h0M113.4 505.0h0M107.7 514.8h0M105.6 515.9h0M101.9 519.7h0M100.4 513.7h0M101.0 521.1h0M106.0 511.5h0M110.8 510.2h0M96.8 519.4h0M92.6 522.3h0M99.2 523.3h0M95.0 523.7h0M103.9 510.6h0M108.9 506.3h0M92.4 522.9h0M99.0 516.5h0M96.9 519.3h0M102.6 509.8h0M94.1 523.1h0M109.4 508.8h0M99.7 519.9h0M91.7 525.4h0M93.6 525.1h0M100.8 519.7h0M98.7 515.3h0M100.9 521.1h0M117.6 497.2h0M102.3 519.3h0M100.8 515.9h0M106.5 512.3h0M99.2 518.4h0M96.5 524.8h0M91.7 526.5h0M98.3 521.7h0M114.6 508.8h0M98.8 521.3h0M105.1 511.7h0M95.5 525.6h0M110.0 510.2h0M98.7 519.4h0M107.1 513.5h0M97.5 519.8h0M99.3 519.1h0M101.5 515.9h0M111.3 512.4h0M94.8 521.1h0M100.0 518.1h0M104.7 512.9h0M99.6 514.4h0M106.2 511.2h0M92.6 523.7h0M99.7 519.7h0M99.7 520.0h0M99.7 518.2h0M92.4 527.4h0M94.3 523.2h0M96.1 518.4h0M92.9 527.9h0M104.2 514.2h0M103.3 511.6h0M98.7 520.6h0M105.7 516.4h0M106.5 511.4h0M101.6 513.9h0M92.8 523.3h0M105.4 520.3h0M91.8 525.2h0M110.4 504.3h0M112.0 506.1h0M98.6 518.1h0M103.4 518.4h0M99.0 517.2h0M108.4 506.5h0M98.9 524.4h0M97.4 524.7h0M91.9 525.1h0M96.4 527.5h0M111.1 505.4h0M112.3 507.9h0M116.2 502.8h0M104.5 514.7h0M103.2 511.2h0M106.7 513.2h0M93.2 525.9h0M108.1 507.3h0M104.6 516.2h0M96.0 522.4h0M101.3 519.2h0M106.0 510.3h0M102.7 517.1h0M111.3 508.6h0M102.9 519.4h0M116.4 500.9h0M96.2 523.7h0M95.3 517.5h0M102.0 517.9h0M106.4 515.1h0M99.0 514.0h0M106.6 513.0h0M99.3 521.1h0M95.6 522.9h0M98.0 522.6h0M96.8 523.7h0M105.2 514.0h0M91.7 524.8h0M98.5 521.9h0M95.5 521.0h0M119.5 498.5h0M100.7 518.9h0M100.2 520.6h0M108.0 509.6h0M100.7 517.0h0M103.8 515.0h0M106.8 510.4h0M106.7 508.4h0M99.3 517.8h0M97.9 518.2h0M94.1 527.4h0M98.3 525.8h0M103.5 514.3h0M95.0 522.1h0M99.4 520.6h0M99.0 518.8h0M114.1 501.3h0M102.0 513.7h0M103.6 512.2h0M103.8 518.5h0M111.8 507.7h0M105.4 514.3h0M92.9 526.4h0M95.9 524.9h0M110.5 503.6h0M100.9 513.3h0M103.7 514.3h0M95.6 517.1h0M101.9 511.8h0M97.0 520.3h0M95.6 525.9h0M104.2 509.8h0M94.7 520.5h0M103.0 511.7h0M99.0 518.2h0M93.1 525.4h0M102.3 513.0h0M97.1 522.8h0M95.0 521.9h0M99.5 524.5h0M92.0 520.4h0M99.1 520.9h0M100.0 513.9h0M107.9 509.6h0M106.2 515.4h0M113.7 503.3h0M106.1 513.4h0M96.1 519.2h0M99.1 516.5h0M96.5 518.9h0M100.9 515.6h0M104.6 514.5h0M97.4 519.9h0M104.7 515.0h0M99.6 515.4h0M100.9 512.1h0M94.9 521.1h0M107.6 509.7h0M100.0 517.6h0M99.2 515.3h0M91.6 525.4h0M106.2 513.2h0M103.6 514.3h0M103.2 515.9h0M95.0 522.7h0M95.0 526.9h0M93.2 525.3h0M99.3 522.9h0M101.7 514.1h0M104.3 518.2h0M101.2 526.1h0M103.2 520.2h0M101.3 517.3h0M92.2 525.3h0M105.8 511.8h0M101.2 523.6h0M97.2 521.6h0M99.1 519.6h0M119.3 499.7h0M100.6 525.3h0M93.9 521.0h0M94.1 524.1h0M113.2 501.6h0M97.7 517.8h0M109.2 508.5h0M97.1 519.9h0M102.7 514.6h0M105.6 513.5h0M106.0 507.0h0M104.0 510.4h0M112.8 502.6h0M121.0 499.2h0M99.1 516.7h0M102.8 517.4h0M106.4 507.4h0M104.5 514.4h0M94.1 525.6h0M103.4 517.5h0M102.4 519.3h0M103.2 520.3h0M101.9 517.0h0M98.1 522.8h0M96.9 522.2h0M104.2 513.8h0M94.7 528.0h0M107.5 505.4h0M91.4 526.9h0M99.8 520.1h0M98.3 522.1h0M100.9 516.8h0M98.8 514.7h0M100.7 518.9h0M102.2 509.4h0M99.5 517.4h0M96.2 527.8h0M106.5 508.8h0M112.8 510.5h0M98.8 520.5h0M92.5 525.7h0M99.5 518.3h0M121.1 496.6h0M107.3 507.8h0M99.1 522.2h0M100.8 515.7h0M93.3 525.2h0M91.6 527.0h0M100.6 514.6h0M106.2 511.7h0M95.7 524.3h0M104.6 514.6h0M112.3 507.2h0M98.3 522.4h0M99.9 518.6h0M98.4 520.7h0M102.7 517.3h0M105.5 516.9h0M108.3 513.2h0M97.5 519.0h0M102.6 513.0h0M103.7 512.3h0M96.8 517.7h0M104.5 510.6h0M103.2 517.9h0M102.7 515.1h0M92.7 525.6h0M100.9 518.9h0M106.9 512.1h0M97.3 518.6h0M92.3 525.2h0M108.4 509.8h0M96.2 524.2h0M100.9 517.8h0M108.1 509.8h0M102.3 519.3h0M102.8 515.4h0M92.9 527.0h0M104.1 513.2h0M93.2 527.3h0M105.6 509.9h0M103.9 514.9h0M98.2 522.3h0M99.5 519.1h0M98.2 521.2h0M99.0 520.8h0M91.5 525.3h0M93.2 525.3h0M92.2 525.8h0M100.9 518.8h0M98.2 523.3h0M100.3 516.8h0M98.4 520.8h0M105.3 510.9h0M91.9 526.7h0M109.6 504.8h0M108.3 512.7h0M108.2 509.9h0M96.3 520.7h0M94.0 526.3h0M99.6 520.3h0M97.3 521.0h0M98.7 519.5h0M93.6 526.4h0M96.8 523.7h0M105.6 511.2h0M100.2 521.3h0M100.8 517.8h0M101.5 515.5h0M100.0 521.0h0M100.2 520.2h0M92.1 525.7h0M93.1 522.8h0M101.9 517.2h0M93.2 518.5h0M95.2 526.3h0M100.1 515.4h0M99.1 514.0h0M108.0 509.4h0M103.8 511.1h0M96.0 519.5h0M103.7 509.8h0M95.2 521.6h0M92.7 526.2h0M111.5 510.3h0M95.2 522.6h0M93.8 515.8h0M102.6 516.0h0M96.5 520.5h0M97.7 522.2h0M106.1 511.1h0M106.0 514.0h0M98.6 519.6h0M101.7 514.3h0M97.3 522.5h0M110.5 509.5h0M110.7 508.5h0M102.9 518.5h0M113.4 506.5h0M101.5 514.5h0M96.2 524.4h0M97.7 523.3h0M104.1 509.0h0M92.1 527.4h0M99.5 521.5h0M107.9 503.1h0M109.6 507.2h0M94.4 523.5h0M98.5 517.3h0M98.3 518.7h0M92.4 520.7h0M99.5 519.0h0M108.0 515.5h0M102.1 520.5h0M103.8 512.1h0M93.7 527.0h0M104.4 516.5h0M94.6 520.5h0M98.1 525.5h0M101.2 522.0h0M108.6 507.3h0M100.1 515.0h0M101.9 515.7h0M106.8 506.6h0M112.9 505.6h0M99.5 519.0h0M103.1 515.0h0M105.0 513.7h0M92.0 524.3h0M99.1 520.5h0M96.4 521.9h0M104.1 513.7h0M92.8 524.0h0M97.3 518.9h0M98.4 522.6h0M99.5 515.9h0M100.1 519.2h0M104.8 515.2h0M97.6 527.4h0M108.6 506.0h0M108.4 506.2h0M96.0 524.4h0M105.3 516.3h0M102.3 522.7h0M98.0 516.7h0M96.9 521.7h0M103.2 518.7h0M103.5 514.5h0M103.3 514.2h0M100.9 517.6h0M98.3 518.6h0M102.6 519.3h0M94.1 526.7h0M109.3 510.3h0M105.8 512.0h0M97.4 521.5h0M101.9 513.2h0M99.7 513.0h0M117.8 497.3h0M94.6 525.1h0M103.4 511.7h0M98.3 520.8h0M97.9 521.1h0M107.6 512.5h0M104.6 511.1h0M105.7 507.9h0M101.0 515.9h0M102.3 515.8h0M105.1 512.3h0M96.8 515.8h0M93.1 525.7h0M102.0 516.4h0M104.7 511.1h0M116.3 497.4h0M109.6 506.6h0M106.1 508.7h0M102.7 520.0h0M105.3 512.8h0M106.4 516.0h0M105.4 514.4h0M92.4 527.1h0M104.2 517.1h0M107.4 504.1h0M101.7 515.2h0M93.1 525.7h0M111.6 506.4h0M97.3 520.8h0M95.9 524.0h0M92.8 525.1h0M103.3 512.7h0M106.2 511.5h0M107.7 511.6h0M98.1 521.5h0M99.3 519.2h0M95.8 522.1h0M113.3 505.8h0M100.2 521.3h0M98.2 521.4h0M102.6 515.3h0M101.1 516.2h0M93.7 523.8h0M93.3 522.3h0M100.1 522.2h0M99.9 520.1h0M116.9 506.1h0M97.9 522.6h0M106.4 509.9h0M97.3 520.1h0M98.9 520.5h0M97.9 519.2h0M111.2 508.6h0M103.1 518.8h0M93.0 523.1h0M93.7 527.5h0M113.6 503.0h0M103.7 516.3h0M95.9 522.7h0M101.0 519.6h0M100.5 515.2h0M104.9 505.9h0M103.1 518.2h0M103.3 520.9h0M104.2 510.9h0M95.9 523.1h0M99.0 518.4h0M104.7 509.9h0M100.0 524.4h0M108.7 509.6h0M100.2 522.0h0M96.0 520.5h0M99.0 520.7h0M97.2 518.8h0M111.9 499.9h0M109.3 509.4h0M105.1 511.9h0M97.7 520.0h0M96.2 524.0h0M101.4 516.7h0M113.1 506.5h0M103.6 513.1h0M95.4 523.0h0M96.1 516.9h0M105.0 516.4h0M103.4 511.6h0M98.7 519.2h0M103.1 515.0h0M95.8 519.9h0M97.8 520.4h0M97.2 523.4h0M105.6 512.3h0M108.8 510.8h0M99.1 518.5h0M98.0 523.0h0M104.6 510.8h0M109.4 515.3h0M107.1 513.5h0M97.6 516.4h0M93.7 527.7h0M99.3 522.9h0M108.3 514.5h0M107.5 514.5h0M94.9 527.0h0M93.5 518.9h0M106.0 513.5h0M119.8 498.6h0M104.6 514.5h0M102.7 513.7h0M100.4 521.1h0M105.0 511.9h0M99.2 524.5h0M103.2 509.2h0M98.8 516.9h0M99.5 520.3h0M107.7 510.5h0M109.6 510.0h0M104.0 513.7h0M98.4 519.4h0M99.4 523.1h0M104.3 516.5h0M98.2 526.9h0M99.8 519.8h0M100.4 520.4h0M92.0 527.3h0M102.2 517.0h0M98.0 520.0h0M108.6 511.6h0M114.2 506.8h0M103.6 513.3h0M110.8 509.4h0M113.9 498.9h0M94.8 525.4h0M102.7 514.0h0M103.1 517.3h0M103.9 520.6h0M94.8 525.6h0M93.7 526.7h0M97.2 521.5h0M103.6 516.1h0M108.2 511.7h0M105.3 510.6h0M91.9 526.5h0M114.8 497.9h0M103.5 517.7h0M100.3 513.9h0M115.5 498.2h0M105.3 515.3h0M99.6 521.8h0M97.7 524.7h0M107.5 511.4h0M113.6 504.0h0M108.2 510.3h0M96.0 525.4h0M104.9 513.4h0M102.4 512.8h0M110.1 509.7h0M99.8 523.9h0M101.6 510.2h0M101.9 517.4h0M100.6 516.1h0M103.1 516.9h0M102.9 517.6h0M95.3 520.9h0M97.4 523.2h0M99.7 521.9h0M98.5 523.7h0M104.2 511.7h0M96.5 524.0h0M98.1 516.7h0M98.8 521.6h0M95.2 522.3h0M108.1 513.7h0M98.4 522.3h0M106.2 511.7h0M105.6 513.3h0M109.3 510.4h0M100.4 521.1h0M92.7 526.2h0M104.9 513.8h0M104.7 515.2h0M94.3 526.3h0M107.0 507.8h0M99.3 522.4h0M99.5 523.5h0M101.9 521.1h0M97.4 519.4h0M104.2 515.3h0M97.3 518.5h0M99.6 520.4h0M91.9 527.3h0M105.5 514.3h0M92.6 526.7h0M98.1 520.0h0M96.8 524.6h0M100.5 523.3h0M100.3 520.5h0M97.4 522.9h0M101.9 516.6h0M93.6 522.6h0M101.8 512.8h0M102.9 523.7h0M102.0 515.9h0M99.4 514.6h0M101.1 520.2h0M93.7 521.2h0M103.8 517.0h0M103.8 512.4h0M102.1 520.0h0M104.3 516.2h0M102.1 513.0h0M104.7 517.7h0M97.6 524.8h0M100.5 520.4h0M109.6 509.7h0M102.5 516.3h0M97.4 519.0h0M105.3 508.5h0M111.0 510.3h0M97.9 516.7h0M99.0 521.0h0M117.9 497.6h0M107.3 513.7h0M94.1 527.3h0M102.4 520.2h0M102.6 516.7h0M102.9 514.7h0M95.0 528.1h0M100.0 522.7h0M101.9 520.2h0M103.4 512.5h0M110.6 509.5h0M102.5 511.9h0M102.9 518.0h0M102.9 517.8h0M103.1 510.0h0M103.4 515.0h0M96.1 525.9h0M98.7 524.2h0M101.5 515.2h0M101.1 518.4h0M95.3 527.3h0M101.6 517.8h0M108.1 513.0h0M104.7 511.1h0M98.8 519.6h0M106.6 505.6h0M95.3 520.9h0M94.0 524.5h0M96.6 522.7h0M95.9 523.7h0M105.1 515.4h0M98.3 525.6h0M95.4 521.7h0M112.2 505.9h0M102.5 518.4h0M94.0 526.0h0M99.0 516.3h0M99.4 518.7h0M95.9 524.3h0M110.3 510.4h0M95.2 520.7h0M98.5 522.6h0M103.0 521.2h0M109.7 511.1h0M101.0 524.2h0M99.9 514.1h0M97.4 515.8h0M92.0 527.3h0M106.0 512.3h0M121.9 498.1h0M110.0 511.1h0M108.4 512.4h0M101.9 516.5h0M95.8 522.8h0M101.8 519.8h0M104.3 516.8h0M102.8 520.1h0M101.3 517.2h0M109.1 508.4h0M92.9 524.3h0M91.9 526.3h0M99.8 514.1h0M103.1 510.4h0M112.5 508.9h0M94.9 526.3h0M105.2 512.3h0M100.4 517.7h0M101.7 520.8h0M107.9 511.8h0M99.7 521.0h0M105.1 516.4h0M102.4 516.5h0M99.9 516.9h0M93.1 525.0h0M99.1 523.0h0M103.7 517.1h0M102.9 514.2h0M99.9 517.4h0M93.3 527.1h0M97.5 521.8h0M105.4 505.9h0M95.3 522.3h0M94.4 521.3h0M100.0 516.9h0M102.4 514.7h0M94.5 524.7h0M101.4 516.1h0M102.3 512.7h0M95.2 523.9h0" fill="none" stroke="#43c865" stroke-opacity="0.5" stroke-width="0.72" stroke-linecap="round"/>
<line x1="86.3" y1="532.8" x2="136.9" y2="483.1" stroke="#4b63d8" stroke-width="0.4"/>
<rect x="86.3" y="483.1" width="50.6" height="49.7" fill="none" stroke="#a8a8a8" stroke-width="0.4"/>
<text x="86.3" y="535.6" font-size="2.25" font-weight="bold" fill="#111" text-anchor="middle" stroke="#111" stroke-width="0.1">0</text>
<text x="85.5" y="533.6" font-size="2.25" font-weight="bold" fill="#111" text-anchor="end" stroke="#111" stroke-width="0.1">0</text>
<text x="93.53" y="535.6" font-size="2.25" font-weight="bold" fill="#111" text-anchor="middle" stroke="#111" stroke-width="0.1">2</text>
<text x="85.5" y="526.5" font-size="2.25" font-weight="bold" fill="#111" text-anchor="end" stroke="#111" stroke-width="0.1">2</text>
<text x="100.76" y="535.6" font-size="2.25" font-weight="bold" fill="#111" text-anchor="middle" stroke="#111" stroke-width="0.1">4</text>
<text x="85.5" y="519.4" font-size="2.25" font-weight="bold" fill="#111" text-anchor="end" stroke="#111" stroke-width="0.1">4</text>
<text x="107.99" y="535.6" font-size="2.25" font-weight="bold" fill="#111" text-anchor="middle" stroke="#111" stroke-width="0.1">6</text>
<text x="85.5" y="512.3" font-size="2.25" font-weight="bold" fill="#111" text-anchor="end" stroke="#111" stroke-width="0.1">6</text>
<text x="115.21" y="535.6" font-size="2.25" font-weight="bold" fill="#111" text-anchor="middle" stroke="#111" stroke-width="0.1">8</text>
<text x="85.5" y="505.2" font-size="2.25" font-weight="bold" fill="#111" text-anchor="end" stroke="#111" stroke-width="0.1">8</text>
<text x="122.44" y="535.6" font-size="2.25" font-weight="bold" fill="#111" text-anchor="middle" stroke="#111" stroke-width="0.1">10</text>
<text x="85.5" y="498.1" font-size="2.25" font-weight="bold" fill="#111" text-anchor="end" stroke="#111" stroke-width="0.1">10</text>
<text x="129.67" y="535.6" font-size="2.25" font-weight="bold" fill="#111" text-anchor="middle" stroke="#111" stroke-width="0.1">12</text>
<text x="85.5" y="491" font-size="2.25" font-weight="bold" fill="#111" text-anchor="end" stroke="#111" stroke-width="0.1">12</text>
<text x="136.9" y="535.6" font-size="2.25" font-weight="bold" fill="#111" text-anchor="middle" stroke="#111" stroke-width="0.1">14</text>
<text x="85.5" y="483.9" font-size="2.25" font-weight="bold" fill="#111" text-anchor="end" stroke="#111" stroke-width="0.1">14</text>
<text x="111.6" y="540.1" font-size="2.8" font-weight="bold" fill="#111" text-anchor="middle" stroke="#111" stroke-width="0.1">Sub-model 2</text>
<text x="83.3" y="508.35" font-size="2.65" font-weight="bold" fill="#111" text-anchor="middle" transform="rotate(-90 83.3 508.35)" stroke="#111" stroke-width="0.1">Actual Data</text>
<circle cx="91" cy="485.3" r="0.35" fill="#43c865"/>
<text x="95.7" y="486" font-size="2.3" font-weight="bold" fill="#222" text-anchor="start" stroke="#222" stroke-width="0.1">Sub-model 2 vs. Actual Data</text>
<line x1="89.3" y1="487.8" x2="92.9" y2="487.8" stroke="#4b63d8" stroke-width="0.4"/>
<text x="95.7" y="488.5" font-size="2.3" font-weight="bold" fill="#222" text-anchor="start" stroke="#222" stroke-width="0.1">Actual Data</text>
<line x1="89.3" y1="490.3" x2="92.9" y2="490.3" stroke="#8a93a8" stroke-width="0.35" stroke-dasharray="0.5 0.4"/>
<text x="95.7" y="491" font-size="2.3" font-weight="bold" fill="#222" text-anchor="start" stroke="#222" stroke-width="0.1">Pred bnds (95%)</text>
<rect x="151.1" y="483.1" width="50.6" height="49.7" fill="#fff" stroke="none"/>
<line x1="158.33" y1="483.1" x2="158.33" y2="532.8" stroke="#dcdcdc" stroke-width="0.3"/>
<line x1="165.56" y1="483.1" x2="165.56" y2="532.8" stroke="#dcdcdc" stroke-width="0.3"/>
<line x1="172.79" y1="483.1" x2="172.79" y2="532.8" stroke="#dcdcdc" stroke-width="0.3"/>
<line x1="180.01" y1="483.1" x2="180.01" y2="532.8" stroke="#dcdcdc" stroke-width="0.3"/>
<line x1="187.24" y1="483.1" x2="187.24" y2="532.8" stroke="#dcdcdc" stroke-width="0.3"/>
<line x1="194.47" y1="483.1" x2="194.47" y2="532.8" stroke="#dcdcdc" stroke-width="0.3"/>
<line x1="151.1" y1="490.2" x2="201.7" y2="490.2" stroke="#dcdcdc" stroke-width="0.3"/>
<line x1="151.1" y1="497.3" x2="201.7" y2="497.3" stroke="#dcdcdc" stroke-width="0.3"/>
<line x1="151.1" y1="504.4" x2="201.7" y2="504.4" stroke="#dcdcdc" stroke-width="0.3"/>
<line x1="151.1" y1="511.5" x2="201.7" y2="511.5" stroke="#dcdcdc" stroke-width="0.3"/>
<line x1="151.1" y1="518.6" x2="201.7" y2="518.6" stroke="#dcdcdc" stroke-width="0.3"/>
<line x1="151.1" y1="525.7" x2="201.7" y2="525.7" stroke="#dcdcdc" stroke-width="0.3"/>
<line x1="160.86" y1="532.8" x2="201.7" y2="492.69" stroke="#8a93a8" stroke-width="0.35" stroke-dasharray="0.5 0.4"/>
<line x1="151.1" y1="523.21" x2="191.94" y2="483.1" stroke="#8a93a8" stroke-width="0.35" stroke-dasharray="0.5 0.4"/>
<path d="M166.2 515.3h0M168.2 525.5h0M166.8 523.8h0M163.9 523.4h0M163.8 523.8h0M174.5 504.3h0M164.5 510.6h0M163.5 519.3h0M165.9 512.6h0M156.5 521.1h0M176.1 507.8h0M161.5 515.0h0M158.6 526.0h0M168.7 518.6h0M175.4 513.9h0M159.6 523.8h0M156.5 525.0h0M157.0 527.6h0M168.8 514.4h0M179.8 502.9h0M163.8 515.7h0M162.5 521.9h0M166.7 515.8h0M182.0 500.4h0M159.5 521.1h0M161.4 517.4h0M158.8 522.1h0M167.5 510.5h0M181.8 497.3h0M172.9 513.3h0M175.3 505.8h0M162.2 516.3h0M166.2 513.3h0M156.6 527.9h0M164.7 520.1h0M168.9 509.4h0M167.1 519.6h0M170.7 511.7h0M182.0 502.2h0M169.1 513.2h0M160.0 516.3h0M159.5 521.8h0M165.3 519.2h0M158.1 526.9h0M164.9 516.7h0M166.5 524.8h0M184.7 503.2h0M161.8 519.8h0M161.6 527.2h0M166.1 516.2h0M158.3 527.6h0M171.1 506.5h0M162.6 518.1h0M165.3 516.0h0M171.0 515.1h0M159.7 521.4h0M171.7 510.9h0M175.5 510.9h0M173.0 509.3h0M174.6 513.0h0M172.3 508.5h0M175.7 505.0h0M163.8 515.0h0M167.3 510.7h0M164.8 517.0h0M166.3 518.7h0M164.5 516.8h0M159.8 527.6h0M162.7 513.9h0M169.0 516.3h0M166.2 517.6h0M157.9 521.3h0M157.8 527.0h0M158.0 526.9h0M166.4 520.6h0M174.2 517.3h0M168.6 519.0h0M166.1 513.9h0M161.3 520.3h0M174.2 508.5h0M165.3 518.7h0M166.1 519.1h0M170.1 511.6h0M159.2 521.3h0M172.9 512.7h0M166.9 511.5h0M167.8 515.8h0M163.1 517.0h0M166.2 519.6h0M168.2 520.4h0M171.3 512.6h0M170.7 521.1h0M159.4 513.9h0M161.7 513.9h0M170.0 511.7h0M163.6 528.2h0M172.3 516.6h0M182.1 498.4h0M168.6 516.1h0M168.5 507.7h0M175.7 509.8h0M164.2 518.5h0M159.0 524.7h0M168.4 518.6h0M157.9 524.1h0M161.7 525.7h0M161.6 508.8h0M164.2 520.2h0M171.9 507.2h0M168.9 521.6h0M158.9 517.8h0M169.0 513.4h0M185.5 501.6h0M172.3 515.7h0M164.0 517.9h0M159.4 512.1h0M163.4 513.9h0M168.2 516.0h0M159.3 516.5h0M171.1 512.0h0M164.6 520.1h0M163.4 514.0h0M168.3 514.7h0M163.6 522.9h0M165.9 523.2h0M169.2 518.6h0M165.8 514.5h0M169.4 513.7h0M170.2 508.5h0M165.1 519.5h0M159.3 521.0h0M166.3 514.6h0M170.1 514.1h0M156.9 526.4h0M183.4 502.6h0M161.9 519.8h0M164.8 514.0h0M172.4 507.2h0M173.5 514.5h0M158.8 521.4h0M175.5 510.4h0M158.6 521.7h0M161.1 522.2h0M166.1 515.3h0M175.3 507.6h0M161.2 521.3h0M162.8 518.7h0M156.3 523.3h0M166.5 517.3h0M172.0 508.2h0M162.4 521.1h0M165.2 525.5h0M171.2 510.0h0M174.1 506.8h0M161.9 524.5h0M174.6 510.9h0M166.0 519.3h0M163.7 521.3h0M165.1 525.0h0M166.5 512.0h0M159.5 525.3h0M157.4 520.3h0M175.9 511.2h0M159.4 523.0h0M168.5 512.6h0M169.3 518.6h0M165.6 518.5h0M180.0 504.7h0M181.5 502.5h0M172.0 506.6h0M166.2 516.4h0M172.4 503.7h0M162.1 520.9h0M161.6 519.0h0M158.4 525.0h0M164.5 518.3h0M167.9 510.6h0M159.4 525.5h0M166.9 520.7h0M158.8 524.5h0M165.1 521.6h0M170.0 512.6h0M167.3 516.7h0M165.8 523.0h0M158.8 526.2h0M175.2 512.9h0M160.1 522.2h0M156.6 524.9h0M162.6 519.2h0M164.4 517.7h0M170.2 513.9h0M169.8 511.3h0M168.6 511.8h0M164.1 515.2h0M162.5 523.6h0M159.7 522.1h0M159.5 523.5h0M176.3 509.0h0M168.6 512.2h0M161.7 518.3h0M172.3 507.4h0M167.5 514.0h0M164.1 525.5h0M158.2 519.7h0M161.0 517.3h0M165.9 521.5h0M171.3 519.1h0M167.1 517.1h0M161.8 519.3h0M167.7 512.6h0M158.4 525.2h0M169.2 518.7h0M160.4 523.6h0M162.0 519.1h0M162.0 516.1h0M179.1 505.2h0M163.9 516.3h0M169.1 517.2h0M166.1 516.2h0M164.5 523.8h0M168.1 519.9h0M167.5 513.3h0M172.1 514.2h0M173.2 510.3h0M160.8 526.0h0M164.0 526.3h0M170.0 513.3h0M161.1 524.2h0M169.1 515.5h0M169.5 517.6h0M163.9 520.2h0M171.2 520.5h0M162.4 518.0h0M162.5 516.1h0M162.1 518.7h0M178.9 506.1h0M170.9 518.3h0M167.7 511.9h0M160.9 524.1h0M168.9 516.6h0M159.8 520.6h0M158.8 525.4h0M168.1 513.9h0M167.8 518.8h0M174.0 519.6h0M162.5 523.6h0M168.4 512.1h0M158.1 520.7h0M164.7 517.6h0M173.9 509.2h0M160.9 519.5h0M166.3 514.0h0M166.1 518.9h0M166.8 522.3h0M169.0 518.2h0M156.6 523.1h0M157.5 524.6h0M157.7 524.9h0M164.3 526.6h0M174.6 512.4h0M169.5 516.3h0M159.4 517.9h0M161.1 520.4h0M169.6 510.9h0M158.3 527.3h0M173.9 510.8h0M168.9 513.7h0M166.4 519.8h0M161.6 519.3h0M173.5 520.6h0M181.9 511.8h0M168.9 516.0h0M174.7 510.9h0M164.1 516.9h0M168.1 515.3h0M173.0 511.2h0M162.1 521.0h0M167.9 520.1h0M168.6 515.2h0M167.7 510.7h0M183.1 500.7h0M171.1 506.1h0M169.0 517.8h0M172.7 510.1h0M176.1 500.0h0M169.7 521.4h0M162.5 523.5h0M164.8 512.9h0M169.6 511.9h0M168.0 513.2h0M177.6 507.9h0M168.7 511.9h0M166.7 519.5h0M174.4 506.0h0M184.2 499.6h0M173.0 503.5h0M159.3 526.5h0M158.7 526.8h0M175.0 507.9h0M171.3 510.5h0M176.4 511.8h0M161.9 514.9h0M174.6 510.6h0M157.4 522.4h0M170.2 511.6h0M169.4 514.3h0M171.1 512.8h0M160.0 517.8h0M171.1 516.3h0M164.1 514.7h0M166.6 515.2h0M164.0 523.5h0M163.0 525.0h0M157.6 526.6h0M167.6 508.9h0M165.8 520.1h0M173.8 513.2h0M171.4 515.4h0M174.0 511.9h0M167.9 507.6h0M184.6 497.7h0M156.7 524.1h0M160.5 517.0h0M172.2 513.6h0M170.9 512.2h0M159.9 521.2h0M166.0 516.5h0M173.0 507.8h0M160.3 520.2h0M167.5 518.7h0M168.0 519.9h0M168.7 517.5h0M171.2 511.5h0M162.3 520.5h0M164.5 517.2h0M162.4 519.5h0M171.4 513.5h0M163.3 519.2h0M156.2 523.7h0M185.5 499.3h0M176.4 502.5h0M160.5 525.3h0M162.9 525.4h0M169.7 512.7h0M156.7 526.5h0M168.3 519.6h0M166.3 519.3h0M172.9 511.9h0M172.3 506.0h0M171.6 513.8h0M164.5 521.3h0M160.8 520.0h0M167.8 519.8h0M172.3 516.0h0M165.3 513.4h0M164.2 523.6h0M168.4 512.9h0M172.3 515.0h0M169.8 509.8h0M159.0 515.4h0M168.1 517.7h0M156.3 522.8h0M162.4 525.3h0M171.3 509.4h0M161.3 520.7h0M166.3 519.7h0M167.7 516.3h0M168.0 514.4h0M160.7 520.8h0M172.4 513.9h0M167.1 516.5h0M165.3 521.9h0M162.8 521.9h0M160.4 523.9h0M158.2 522.9h0M169.5 512.8h0M171.1 509.5h0M159.3 520.2h0M178.0 504.0h0M175.6 511.1h0M171.3 513.8h0M164.9 520.5h0M171.4 518.1h0M169.7 513.7h0M162.5 517.6h0M161.7 518.1h0M168.7 516.0h0M163.7 515.9h0M172.1 506.6h0M165.5 514.7h0M175.8 505.6h0M182.3 510.8h0M157.3 524.1h0M169.5 516.9h0M164.5 516.9h0M171.7 512.5h0M166.7 515.7h0M171.7 514.0h0M171.3 506.1h0M164.8 517.4h0M164.9 514.1h0M176.2 509.9h0M166.2 521.3h0M157.4 520.5h0M159.9 524.5h0M166.8 519.3h0M169.7 515.9h0M177.0 509.0h0M174.7 517.7h0M166.6 515.3h0M158.6 516.5h0M158.8 522.2h0M164.3 523.0h0M163.8 525.4h0M160.0 524.0h0M156.9 522.0h0M159.9 523.0h0M167.4 514.3h0M159.8 526.1h0M171.3 506.8h0M163.4 525.2h0M163.3 519.6h0M157.7 526.8h0M159.0 527.5h0M173.0 515.1h0M169.5 515.1h0M168.1 510.7h0M158.8 521.1h0M175.0 507.3h0M170.6 516.8h0M156.5 525.1h0M173.5 513.2h0M165.4 525.3h0M163.4 520.2h0M186.9 500.0h0M157.3 524.5h0M160.7 520.9h0M164.4 514.4h0M169.6 515.5h0M159.1 522.7h0M180.6 509.0h0M162.6 517.2h0M163.8 524.8h0M161.7 516.9h0M173.1 512.4h0M161.7 524.4h0M163.3 513.6h0M162.6 516.4h0M161.2 518.2h0M156.7 519.2h0M170.7 516.3h0M167.2 516.4h0M165.8 525.8h0M162.2 526.8h0M167.8 513.4h0M169.2 514.2h0M178.1 506.0h0M168.6 508.9h0M158.3 526.4h0M156.9 519.9h0M171.8 504.6h0M172.4 519.5h0M159.7 527.8h0M161.4 518.3h0M159.7 527.8h0M172.4 504.1h0M161.2 527.5h0M165.1 525.1h0M172.5 512.7h0M176.8 506.9h0M168.0 520.3h0M158.7 520.5h0M162.2 516.2h0M163.9 523.3h0M160.1 522.6h0M175.9 510.9h0M183.4 500.7h0M172.3 515.3h0M171.2 518.2h0M160.7 524.9h0M171.0 510.4h0M175.8 504.8h0M166.1 518.8h0M163.3 522.4h0M178.2 504.7h0M160.9 521.6h0M160.6 524.3h0M163.7 513.5h0M157.4 520.8h0M158.7 524.0h0M164.1 518.8h0M162.4 526.1h0M166.1 520.1h0M170.1 516.6h0M167.8 511.7h0M160.5 520.8h0M170.9 515.7h0M163.4 517.7h0M157.9 523.8h0M162.1 521.8h0M156.8 526.0h0M157.8 518.4h0M176.3 500.6h0M171.2 513.5h0M174.1 509.1h0M172.0 513.8h0M177.0 510.3h0M177.1 503.4h0M159.3 514.2h0M170.3 511.9h0M180.5 505.6h0M163.0 528.2h0M164.8 522.6h0M162.9 521.0h0M161.4 526.7h0M168.0 512.4h0M182.0 496.5h0M172.7 515.7h0M157.7 523.3h0M174.6 512.0h0M175.8 509.3h0M162.8 520.7h0M164.5 517.6h0M166.4 515.9h0M165.1 523.7h0M173.6 514.5h0M174.1 509.0h0M158.6 528.0h0M169.9 507.1h0M167.7 513.0h0M159.8 517.0h0M168.2 507.8h0M164.0 516.5h0M162.3 520.9h0M180.9 496.2h0M171.1 513.3h0M174.2 507.3h0M165.4 528.1h0M158.7 523.5h0M169.0 517.3h0M166.0 509.4h0M156.9 527.0h0M173.5 511.4h0M175.5 499.9h0M163.5 519.2h0M168.0 516.7h0M162.1 520.9h0M167.8 517.2h0M170.5 511.9h0M175.7 514.9h0M170.6 513.0h0M180.3 504.5h0M161.2 523.6h0M176.1 509.0h0M164.3 517.5h0M157.8 515.3h0M177.1 502.5h0M166.0 518.3h0M159.7 524.3h0M161.0 523.9h0M175.8 510.3h0M172.5 511.6h0M166.2 519.6h0M171.2 501.1h0M162.9 521.8h0M161.0 525.5h0M164.4 518.6h0M168.9 515.1h0M159.4 524.3h0M159.5 523.0h0M172.3 518.4h0M162.6 525.9h0M157.9 523.6h0M162.9 524.1h0M170.0 511.5h0M167.9 504.7h0M168.1 517.1h0M163.7 519.9h0M177.3 505.3h0M158.8 526.8h0M166.4 516.4h0M163.6 511.5h0M157.4 524.6h0M160.3 520.8h0M166.1 518.4h0M172.7 518.6h0M158.3 517.2h0M164.4 517.5h0M169.6 510.2h0M160.2 521.4h0M165.2 519.6h0M165.4 515.9h0M161.0 520.2h0M170.5 517.6h0M178.3 510.2h0M181.3 498.5h0M156.4 523.8h0M156.9 526.5h0M174.6 502.9h0M162.1 514.9h0M165.4 518.9h0M170.9 519.5h0M160.7 515.3h0M168.4 525.2h0M170.2 519.3h0M161.8 522.2h0M158.4 527.7h0M158.1 524.4h0M162.5 526.1h0M176.3 496.8h0M170.6 514.0h0M162.2 520.6h0M172.1 518.5h0M159.0 521.6h0M166.7 518.2h0M174.4 509.6h0M165.4 517.7h0M159.8 525.8h0M171.8 518.3h0M167.9 519.7h0M163.7 513.9h0M161.1 520.8h0M177.9 505.8h0M173.4 508.2h0M156.9 527.5h0M165.7 518.2h0M163.5 519.8h0M165.8 516.9h0M168.3 515.6h0M177.5 514.6h0M179.6 505.1h0M170.3 517.2h0M163.2 514.4h0M165.0 516.0h0M165.3 518.7h0M178.2 502.4h0M159.7 518.7h0M166.5 518.9h0M166.5 515.5h0M162.7 523.3h0M161.5 523.6h0M167.4 515.0h0M157.6 523.3h0M175.2 503.3h0M160.1 516.1h0M167.9 516.7h0M160.9 517.4h0M162.8 525.8h0M167.7 519.1h0M156.7 522.4h0M161.4 522.0h0M158.4 523.4h0M161.8 521.1h0M177.1 496.3h0M156.7 521.8h0M165.5 523.7h0M157.1 523.5h0M170.4 514.3h0M164.1 520.2h0M162.7 519.1h0M168.7 517.0h0M161.9 525.4h0M164.7 517.0h0M175.5 505.5h0M177.9 502.2h0M168.6 512.8h0M171.0 509.9h0M184.8 498.1h0M157.9 525.9h0M176.9 508.9h0M169.0 519.0h0M162.1 519.4h0M161.9 526.0h0M170.0 518.4h0M171.6 507.1h0M156.9 523.2h0M156.9 516.7h0M169.3 514.5h0M179.7 498.0h0M169.3 511.3h0M157.0 526.1h0M173.1 518.1h0M164.3 513.9h0M178.2 500.9h0M159.4 528.0h0M156.3 518.7h0M162.5 519.3h0M166.2 514.8h0M165.4 509.9h0M168.7 513.4h0M166.0 517.1h0M180.8 499.0h0M161.1 525.0h0M174.0 506.1h0M177.3 510.8h0M177.7 501.5h0M182.6 505.4h0M166.0 520.8h0M167.7 511.4h0M173.3 507.5h0M163.8 519.7h0M172.4 514.9h0M163.0 522.8h0M159.6 525.0h0M163.9 521.9h0M176.2 503.5h0M165.0 518.0h0M166.7 520.7h0M166.8 513.4h0M156.7 527.9h0M163.0 525.3h0M184.3 498.7h0M161.8 514.3h0M158.2 522.5h0M156.5 527.2h0M168.5 511.8h0M162.5 520.3h0M169.7 514.3h0M163.5 524.7h0M169.5 514.1h0M165.9 520.6h0M167.9 517.0h0M160.1 521.8h0M163.7 516.1h0M161.8 513.4h0M170.2 514.9h0M176.4 513.3h0M158.9 517.4h0M161.3 518.4h0M163.8 521.0h0M158.7 521.0h0M156.8 526.9h0M176.3 503.3h0M172.1 510.9h0M168.9 516.5h0M164.9 512.2h0M167.2 523.9h0M158.5 526.1h0M167.3 516.1h0M158.2 522.1h0M165.1 515.6h0M174.0 509.1h0M166.6 515.1h0M166.9 521.7h0M174.2 507.5h0M157.2 522.5h0M170.2 512.7h0M174.3 514.0h0M170.1 514.3h0M156.8 524.8h0M167.3 514.9h0M160.5 524.9h0M167.1 510.0h0M166.6 521.8h0M167.3 521.8h0M174.0 507.5h0M164.4 518.8h0M163.7 516.8h0M168.3 511.8h0M167.8 510.0h0M157.4 525.3h0M161.1 515.6h0M167.1 516.9h0M157.2 525.0h0M169.7 516.3h0M170.2 518.6h0M157.8 525.2h0M173.2 511.4h0M179.9 501.8h0M166.7 520.9h0M166.1 519.0h0M167.8 513.9h0M181.7 505.0h0M168.6 519.6h0M159.7 524.8h0M162.4 516.3h0M159.1 522.2h0M161.8 525.5h0M156.8 524.2h0M169.9 510.2h0M169.5 505.5h0M160.4 526.4h0M162.4 515.3h0M157.5 521.9h0M161.8 521.7h0M160.8 519.5h0M157.4 520.2h0M165.4 514.8h0M179.8 512.1h0M161.7 517.4h0M170.1 505.0h0M170.7 513.7h0M165.4 524.7h0M168.0 512.8h0M167.4 510.1h0M168.0 518.1h0M168.5 504.1h0M169.4 511.0h0M184.1 498.7h0M167.8 512.5h0M165.9 524.0h0M157.7 526.9h0M158.3 524.2h0M163.6 522.4h0M160.7 520.6h0M166.0 516.1h0M173.1 510.4h0M167.1 518.0h0M166.6 517.4h0M157.1 522.8h0M156.6 519.6h0M161.1 523.4h0M164.4 519.3h0M170.8 508.0h0M174.5 512.7h0M158.3 527.3h0M159.8 524.9h0M166.4 520.2h0M158.3 520.9h0M162.9 513.4h0M178.2 501.6h0M157.3 522.5h0M174.4 505.0h0M171.3 505.8h0M164.7 513.2h0M164.1 519.1h0M160.6 521.9h0M166.7 513.1h0M164.0 517.7h0M165.6 518.7h0M163.0 514.1h0M172.9 507.5h0M175.0 513.8h0M186.1 499.1h0M158.3 526.8h0M168.8 517.1h0M171.8 520.3h0M172.9 515.6h0M170.8 507.8h0M169.2 512.9h0M161.0 517.0h0M164.5 524.6h0M165.3 527.9h0M163.8 521.6h0M159.7 523.8h0M167.5 514.8h0M168.0 519.2h0M161.4 516.3h0M163.0 519.6h0M174.4 512.1h0M172.9 504.5h0M177.8 503.0h0M167.5 511.8h0M171.3 516.7h0M172.6 516.2h0M176.6 513.4h0M169.0 517.8h0M163.9 518.1h0M163.1 524.7h0M169.7 517.6h0M164.6 515.7h0M169.5 516.8h0M170.8 506.9h0M167.8 515.2h0M177.3 518.0h0M161.3 522.0h0M158.6 527.6h0M166.8 519.9h0M170.0 512.1h0M171.6 516.9h0M158.7 519.6h0M156.8 517.0h0M158.6 522.0h0M158.0 526.3h0M165.5 512.0h0M165.7 515.6h0M168.5 516.5h0M158.6 527.3h0M160.0 524.1h0M164.2 515.9h0M165.5 516.7h0M160.9 519.7h0M162.5 524.6h0M164.1 524.6h0M162.1 522.7h0M162.4 522.4h0M168.5 514.1h0M161.3 521.3h0M175.8 504.3h0M156.4 523.5h0M159.2 522.2h0M172.6 508.1h0M162.7 509.0h0M175.1 516.3h0M164.0 519.1h0M163.6 520.8h0M159.5 522.8h0M169.5 511.6h0M158.0 526.2h0M160.8 518.8h0" fill="none" stroke="#a566e6" stroke-opacity="0.5" stroke-width="0.72" stroke-linecap="round"/>
<line x1="151.1" y1="532.8" x2="201.7" y2="483.1" stroke="#4b63d8" stroke-width="0.4"/>
<rect x="151.1" y="483.1" width="50.6" height="49.7" fill="none" stroke="#a8a8a8" stroke-width="0.4"/>
<text x="151.1" y="535.6" font-size="2.25" font-weight="bold" fill="#111" text-anchor="middle" stroke="#111" stroke-width="0.1">0</text>
<text x="150.3" y="533.6" font-size="2.25" font-weight="bold" fill="#111" text-anchor="end" stroke="#111" stroke-width="0.1">0</text>
<text x="158.33" y="535.6" font-size="2.25" font-weight="bold" fill="#111" text-anchor="middle" stroke="#111" stroke-width="0.1">2</text>
<text x="150.3" y="526.5" font-size="2.25" font-weight="bold" fill="#111" text-anchor="end" stroke="#111" stroke-width="0.1">2</text>
<text x="165.56" y="535.6" font-size="2.25" font-weight="bold" fill="#111" text-anchor="middle" stroke="#111" stroke-width="0.1">4</text>
<text x="150.3" y="519.4" font-size="2.25" font-weight="bold" fill="#111" text-anchor="end" stroke="#111" stroke-width="0.1">4</text>
<text x="172.79" y="535.6" font-size="2.25" font-weight="bold" fill="#111" text-anchor="middle" stroke="#111" stroke-width="0.1">6</text>
<text x="150.3" y="512.3" font-size="2.25" font-weight="bold" fill="#111" text-anchor="end" stroke="#111" stroke-width="0.1">6</text>
<text x="180.01" y="535.6" font-size="2.25" font-weight="bold" fill="#111" text-anchor="middle" stroke="#111" stroke-width="0.1">8</text>
<text x="150.3" y="505.2" font-size="2.25" font-weight="bold" fill="#111" text-anchor="end" stroke="#111" stroke-width="0.1">8</text>
<text x="187.24" y="535.6" font-size="2.25" font-weight="bold" fill="#111" text-anchor="middle" stroke="#111" stroke-width="0.1">10</text>
<text x="150.3" y="498.1" font-size="2.25" font-weight="bold" fill="#111" text-anchor="end" stroke="#111" stroke-width="0.1">10</text>
<text x="194.47" y="535.6" font-size="2.25" font-weight="bold" fill="#111" text-anchor="middle" stroke="#111" stroke-width="0.1">12</text>
<text x="150.3" y="491" font-size="2.25" font-weight="bold" fill="#111" text-anchor="end" stroke="#111" stroke-width="0.1">12</text>
<text x="201.7" y="535.6" font-size="2.25" font-weight="bold" fill="#111" text-anchor="middle" stroke="#111" stroke-width="0.1">14</text>
<text x="150.3" y="483.9" font-size="2.25" font-weight="bold" fill="#111" text-anchor="end" stroke="#111" stroke-width="0.1">14</text>
<text x="176.4" y="540.1" font-size="2.8" font-weight="bold" fill="#111" text-anchor="middle" stroke="#111" stroke-width="0.1">Sub-model 3</text>
<text x="148.1" y="508.35" font-size="2.65" font-weight="bold" fill="#111" text-anchor="middle" transform="rotate(-90 148.1 508.35)" stroke="#111" stroke-width="0.1">Actual Data</text>
<circle cx="155.8" cy="485.3" r="0.35" fill="#a566e6"/>
<text x="160.5" y="486" font-size="2.3" font-weight="bold" fill="#222" text-anchor="start" stroke="#222" stroke-width="0.1">Sub-model 3 vs. Actual Data</text>
<line x1="154.1" y1="487.8" x2="157.7" y2="487.8" stroke="#4b63d8" stroke-width="0.4"/>
<text x="160.5" y="488.5" font-size="2.3" font-weight="bold" fill="#222" text-anchor="start" stroke="#222" stroke-width="0.1">Actual Data</text>
<line x1="154.1" y1="490.3" x2="157.7" y2="490.3" stroke="#8a93a8" stroke-width="0.35" stroke-dasharray="0.5 0.4"/>
<text x="160.5" y="491" font-size="2.3" font-weight="bold" fill="#222" text-anchor="start" stroke="#222" stroke-width="0.1">Pred bnds (95%)</text>
<rect x="215.9" y="483.1" width="50.6" height="49.7" fill="#fff" stroke="none"/>
<line x1="223.13" y1="483.1" x2="223.13" y2="532.8" stroke="#dcdcdc" stroke-width="0.3"/>
<line x1="230.36" y1="483.1" x2="230.36" y2="532.8" stroke="#dcdcdc" stroke-width="0.3"/>
<line x1="237.59" y1="483.1" x2="237.59" y2="532.8" stroke="#dcdcdc" stroke-width="0.3"/>
<line x1="244.81" y1="483.1" x2="244.81" y2="532.8" stroke="#dcdcdc" stroke-width="0.3"/>
<line x1="252.04" y1="483.1" x2="252.04" y2="532.8" stroke="#dcdcdc" stroke-width="0.3"/>
<line x1="259.27" y1="483.1" x2="259.27" y2="532.8" stroke="#dcdcdc" stroke-width="0.3"/>
<line x1="215.9" y1="490.2" x2="266.5" y2="490.2" stroke="#dcdcdc" stroke-width="0.3"/>
<line x1="215.9" y1="497.3" x2="266.5" y2="497.3" stroke="#dcdcdc" stroke-width="0.3"/>
<line x1="215.9" y1="504.4" x2="266.5" y2="504.4" stroke="#dcdcdc" stroke-width="0.3"/>
<line x1="215.9" y1="511.5" x2="266.5" y2="511.5" stroke="#dcdcdc" stroke-width="0.3"/>
<line x1="215.9" y1="518.6" x2="266.5" y2="518.6" stroke="#dcdcdc" stroke-width="0.3"/>
<line x1="215.9" y1="525.7" x2="266.5" y2="525.7" stroke="#dcdcdc" stroke-width="0.3"/>
<line x1="224.94" y1="532.8" x2="266.5" y2="491.98" stroke="#8a93a8" stroke-width="0.35" stroke-dasharray="0.5 0.4"/>
<line x1="215.9" y1="523.92" x2="257.46" y2="483.1" stroke="#8a93a8" stroke-width="0.35" stroke-dasharray="0.5 0.4"/>
<path d="M222.9 523.8h0M232.3 513.2h0M243.3 508.3h0M222.9 526.5h0M226.8 527.2h0M239.5 506.6h0M235.3 511.6h0M232.6 512.3h0M226.5 527.8h0M235.9 516.8h0M232.3 516.5h0M235.4 513.1h0M232.6 510.5h0M231.8 512.9h0M253.3 497.3h0M230.9 515.7h0M232.1 518.1h0M231.0 522.5h0M224.7 522.2h0M238.5 514.3h0M241.6 504.2h0M236.0 514.4h0M228.4 519.1h0M240.6 506.2h0M228.2 524.7h0M227.7 524.1h0M223.1 525.8h0M233.4 514.5h0M227.0 514.0h0M224.5 519.3h0M233.6 517.7h0M235.0 513.7h0M222.6 523.9h0M235.3 512.6h0M222.2 527.4h0M235.9 510.1h0M228.5 520.2h0M231.8 516.4h0M223.6 525.2h0M226.1 520.3h0M235.3 514.3h0M221.4 516.6h0M231.5 512.9h0M229.1 519.7h0M247.5 496.8h0M238.3 510.8h0M224.0 519.9h0M239.7 509.5h0M230.7 518.6h0M234.9 515.2h0M234.0 511.6h0M241.0 506.6h0M230.2 524.5h0M228.9 521.8h0M221.8 527.0h0M230.2 517.7h0M226.8 518.6h0M226.5 517.6h0M237.5 511.3h0M223.1 521.3h0M242.1 504.1h0M234.3 515.0h0M225.0 520.9h0M233.9 515.0h0M225.7 515.4h0M229.2 521.3h0M223.8 526.9h0M230.5 518.0h0M231.9 513.7h0M249.9 497.6h0M231.9 517.2h0M236.0 514.3h0M230.8 516.4h0M228.6 518.5h0M228.3 519.4h0M235.4 511.8h0M222.2 519.3h0M228.9 518.8h0M231.6 521.7h0M233.9 513.7h0M223.1 525.8h0M233.8 513.3h0M240.4 504.8h0M230.7 523.3h0M222.0 523.7h0M227.1 522.3h0M239.7 508.5h0M229.7 523.1h0M243.9 502.8h0M238.0 510.2h0M232.9 515.7h0M230.5 516.8h0M235.7 508.4h0M229.5 518.7h0M242.4 505.2h0M222.5 527.4h0M222.2 527.5h0M221.8 523.6h0M238.4 509.4h0M234.7 516.8h0M238.2 506.3h0M239.4 507.9h0M234.9 514.0h0M225.2 524.6h0M223.3 526.6h0M244.7 507.1h0M225.0 523.3h0M221.8 524.4h0M232.3 517.0h0M240.7 513.7h0M222.1 518.4h0M233.4 512.3h0M233.4 516.0h0M230.4 521.7h0M227.3 524.1h0M228.2 520.4h0M224.0 520.2h0M243.9 505.2h0M224.5 523.6h0M246.5 507.0h0M221.8 523.8h0M224.3 525.2h0M227.9 518.4h0M232.5 522.0h0M231.3 525.3h0M224.7 520.2h0M229.4 518.3h0M230.1 515.4h0M227.0 527.3h0M229.1 520.2h0M231.5 515.5h0M232.6 519.6h0M236.7 513.6h0M234.6 513.9h0M228.0 522.5h0M228.3 513.5h0M223.0 525.5h0M235.0 515.1h0M233.5 514.9h0M224.0 523.4h0M224.8 517.7h0M223.4 516.8h0M228.9 515.5h0M232.2 514.5h0M225.5 525.9h0M228.0 519.1h0M254.1 496.5h0M227.8 516.8h0M228.2 522.7h0M229.7 518.9h0M234.2 511.5h0M233.4 512.1h0M228.6 520.1h0M234.2 516.4h0M223.0 523.5h0M232.9 517.8h0M234.2 514.8h0M225.8 523.2h0M233.5 510.5h0M228.2 516.3h0M244.3 509.0h0M222.1 526.7h0M246.1 501.7h0M226.4 521.4h0M222.0 526.7h0M232.7 515.1h0M231.0 517.0h0M226.7 525.7h0M224.7 526.8h0M230.4 518.4h0M237.7 509.1h0M233.9 514.3h0M234.7 511.6h0M232.0 513.8h0M227.3 520.6h0M236.4 517.6h0M230.2 522.9h0M228.5 512.3h0M230.9 514.4h0M229.2 513.6h0M231.1 518.3h0M229.1 521.9h0M226.9 524.8h0M230.7 517.2h0M230.1 525.6h0M240.3 504.6h0M232.0 513.7h0M231.4 514.1h0M238.4 516.9h0M223.6 520.6h0M238.0 516.6h0M222.8 526.5h0M224.1 524.3h0M238.7 509.6h0M229.4 516.6h0M221.4 528.0h0M224.9 521.1h0M221.7 526.3h0M233.9 522.4h0M227.0 523.8h0M247.7 506.1h0M235.0 518.3h0M236.9 518.1h0M226.1 523.0h0M236.0 508.2h0M224.4 518.6h0M224.5 518.6h0M224.1 516.0h0M229.7 525.2h0M227.4 519.8h0M237.8 513.7h0M230.0 517.0h0M227.2 521.9h0M223.7 527.7h0M224.6 522.3h0M232.7 520.4h0M228.2 525.2h0M235.2 512.8h0M235.4 514.6h0M225.7 523.6h0M223.7 525.5h0M227.9 522.1h0M226.6 522.6h0M233.6 516.0h0M222.3 521.0h0M236.3 512.7h0M238.0 504.6h0M223.8 524.0h0M234.1 519.1h0M226.0 523.5h0M232.3 517.7h0M232.8 516.8h0M236.4 511.0h0M221.2 522.7h0M234.9 515.4h0M222.8 523.9h0M226.2 524.2h0M240.5 512.1h0M237.8 512.5h0M223.9 521.7h0M233.1 514.2h0M230.8 517.4h0M227.7 516.5h0M223.7 521.8h0M223.2 526.5h0M231.3 515.3h0M238.8 510.3h0M229.3 518.8h0M227.7 517.7h0M238.9 511.6h0M227.2 525.4h0M225.4 523.4h0M222.5 524.3h0M247.1 499.3h0M235.5 511.7h0M233.6 516.1h0M231.5 518.0h0M222.9 524.6h0M229.4 523.8h0M234.0 518.9h0M224.3 524.4h0M226.8 519.5h0M229.8 515.1h0M237.8 515.5h0M229.1 517.2h0M226.2 525.5h0M232.0 519.2h0M241.6 512.0h0M256.4 497.0h0M246.1 508.1h0M238.8 502.4h0M228.8 520.5h0M222.1 526.3h0M222.9 522.0h0M235.0 513.9h0M243.7 510.0h0M228.9 521.5h0M230.0 524.9h0M231.6 517.0h0M241.3 510.0h0M232.4 510.5h0M232.4 513.9h0M237.6 513.0h0M224.4 526.5h0M225.1 523.2h0M230.1 523.0h0M233.0 514.4h0M230.3 519.3h0M230.5 509.6h0M233.7 515.7h0M223.9 521.3h0M235.9 515.2h0M229.1 517.8h0M233.1 512.0h0M229.2 517.2h0M225.3 527.0h0M234.0 512.0h0M248.8 499.3h0M232.3 518.3h0M222.9 516.2h0M236.2 517.8h0M233.8 518.2h0M236.8 515.5h0M230.9 520.8h0M226.9 520.7h0M238.5 509.0h0M224.4 522.5h0M230.8 520.7h0M243.1 503.3h0M232.3 518.8h0M233.0 521.6h0M233.6 516.5h0M229.6 523.8h0M226.0 521.1h0M235.4 516.0h0M225.4 523.6h0M233.3 515.4h0M227.0 522.1h0M232.7 515.5h0M238.4 509.9h0M230.6 516.0h0M231.7 521.2h0M237.5 511.2h0M243.9 511.6h0M222.4 526.0h0M250.1 496.6h0M231.3 524.1h0M230.2 519.5h0M239.1 510.8h0M234.3 512.8h0M229.4 525.9h0M230.2 517.6h0M231.1 521.9h0M221.4 524.6h0M234.5 511.2h0M223.2 527.5h0M233.5 517.3h0M233.5 514.6h0M223.2 522.7h0M233.7 518.1h0M224.1 524.9h0M229.8 518.7h0M224.8 523.3h0M225.7 526.0h0M244.7 509.3h0M234.3 519.8h0M228.9 521.5h0M231.1 521.0h0M228.0 522.3h0M223.9 523.8h0M223.3 522.6h0M238.8 510.2h0M229.1 522.4h0M228.0 519.4h0M229.8 512.7h0M223.3 526.5h0M241.9 512.7h0M227.0 515.2h0M232.7 519.0h0M238.5 516.9h0M241.2 512.1h0M232.9 515.7h0M235.4 515.5h0M234.8 511.4h0M228.6 517.0h0M237.9 500.2h0M234.6 514.5h0M223.0 524.5h0M230.3 516.1h0M224.8 516.5h0M229.9 516.7h0M231.4 507.9h0M221.8 525.3h0M232.2 517.3h0M242.0 516.1h0M233.1 517.8h0M224.8 526.2h0M224.0 522.5h0M230.4 513.8h0M229.1 517.4h0M242.3 507.3h0M231.2 509.0h0M221.9 521.0h0M230.2 520.8h0M232.7 510.2h0M229.8 521.5h0M225.1 517.9h0M233.6 517.8h0M228.6 514.4h0M223.1 519.3h0M233.3 516.6h0M232.4 514.7h0M222.4 523.5h0M223.7 518.3h0M223.1 521.8h0M224.1 524.4h0M230.7 520.3h0M235.9 514.0h0M223.5 527.2h0M222.1 526.1h0M235.0 511.1h0M231.7 515.6h0M225.9 525.6h0M227.6 519.9h0M237.1 513.9h0M234.1 510.2h0M238.7 514.8h0M229.3 522.0h0M227.2 527.0h0M223.0 524.4h0M236.0 515.1h0M223.0 518.8h0M223.5 522.8h0M230.9 518.5h0M237.2 505.2h0M236.2 512.5h0M225.8 523.2h0M233.1 516.0h0M231.9 513.9h0M229.7 518.1h0M231.6 523.7h0M229.0 516.2h0M233.2 517.7h0M222.0 522.4h0M237.7 509.6h0M228.9 520.6h0M233.0 520.4h0M226.1 521.0h0M230.0 521.2h0M242.7 498.2h0M223.8 525.9h0M237.5 513.6h0M232.0 522.0h0M237.0 516.8h0M234.4 513.9h0M223.5 527.5h0M231.8 512.1h0M237.3 515.1h0M230.1 520.8h0M236.1 507.5h0M235.9 519.1h0M239.7 515.8h0M227.8 523.5h0M228.7 522.1h0M231.5 516.7h0M222.2 523.7h0M231.2 517.2h0M240.2 506.6h0M245.3 500.4h0M241.1 510.2h0M226.3 525.8h0M237.3 511.8h0M238.0 518.5h0M237.7 503.7h0M237.5 516.0h0M223.7 522.2h0M241.4 509.2h0M232.1 522.3h0M229.0 522.8h0M238.7 502.4h0M225.9 523.2h0M224.6 520.1h0M225.7 519.8h0M222.7 526.5h0M234.9 510.9h0M228.1 519.2h0M247.3 497.6h0M221.4 524.0h0M221.3 525.3h0M230.1 510.0h0M233.5 519.7h0M226.0 522.4h0M235.0 519.0h0M228.2 526.7h0M234.4 520.0h0M239.5 508.2h0M248.1 503.3h0M240.0 505.1h0M239.1 506.6h0M230.9 518.3h0M224.2 525.5h0M236.6 515.2h0M237.3 512.1h0M227.1 523.0h0M238.9 510.7h0M240.0 501.2h0M227.4 522.3h0M229.0 523.1h0M229.8 518.3h0M225.2 522.7h0M232.2 513.9h0M222.6 526.2h0M221.1 525.3h0M230.9 519.5h0M228.1 524.7h0M228.4 523.7h0M234.5 515.7h0M249.7 500.5h0M225.3 521.7h0M236.9 513.5h0M232.1 515.9h0M231.8 519.2h0M222.6 525.1h0M234.2 512.3h0M221.7 525.3h0M229.9 515.6h0M234.8 514.1h0M231.4 511.0h0M222.7 524.7h0M230.5 515.7h0M229.9 515.5h0M229.5 515.2h0M235.6 507.0h0M229.3 511.3h0M228.2 523.1h0M222.0 521.4h0M232.4 516.9h0M224.5 522.6h0M240.7 516.8h0M240.8 500.4h0M237.8 507.8h0M223.9 517.1h0M233.1 517.2h0M232.7 512.8h0M235.3 515.7h0M235.4 512.7h0M226.7 525.2h0M224.7 522.8h0M229.6 526.3h0M240.7 503.2h0M228.2 518.5h0M224.3 519.2h0M237.8 514.7h0M234.6 518.2h0M226.2 524.9h0M231.0 510.8h0M224.1 522.4h0M226.6 519.7h0M221.8 527.3h0M225.0 519.7h0M226.3 519.1h0M226.8 522.3h0M232.1 522.3h0M241.4 511.6h0M233.7 515.3h0M233.1 506.8h0M234.0 516.8h0M230.8 516.2h0M225.7 522.7h0M231.3 514.9h0M227.5 517.5h0M230.8 517.8h0M237.7 508.5h0M234.7 518.6h0M236.4 511.0h0M230.2 516.8h0M236.6 511.3h0M231.1 519.7h0M238.5 501.3h0M223.0 522.0h0M227.7 517.4h0M225.1 521.3h0M234.2 517.8h0M232.6 511.4h0M230.3 516.6h0M231.8 514.3h0M226.4 517.1h0M241.2 504.3h0M222.6 525.0h0M232.6 516.2h0M229.2 519.1h0M221.0 527.0h0M224.9 524.3h0M238.4 509.0h0M226.5 521.1h0M224.5 525.6h0M229.3 523.9h0M221.1 519.4h0M230.9 519.4h0M234.2 512.4h0M225.4 520.6h0M234.6 516.3h0M227.8 525.4h0M232.6 513.2h0M227.2 518.7h0M232.5 518.6h0M234.8 515.1h0M228.2 518.9h0M239.0 507.7h0M242.9 501.9h0M225.0 523.3h0M228.0 517.9h0M228.6 512.2h0M239.5 508.0h0M234.0 510.6h0M233.3 517.5h0M228.4 519.8h0M233.0 514.5h0M233.2 516.9h0M240.5 506.5h0M234.4 521.8h0M239.5 509.5h0M221.6 527.7h0M227.1 517.7h0M244.1 507.7h0M228.7 522.2h0M233.3 514.7h0M223.3 525.1h0M225.1 525.2h0M229.1 523.0h0M222.0 523.9h0M231.2 519.6h0M234.4 510.9h0M227.5 524.1h0M226.4 522.5h0M234.9 515.8h0M228.7 520.5h0M224.5 522.5h0M229.3 514.9h0M221.6 520.1h0M232.1 511.5h0M228.7 512.9h0M240.0 508.5h0M231.5 523.2h0M227.4 526.4h0M225.1 528.0h0M228.4 522.7h0M236.2 517.3h0M232.5 515.2h0M230.5 520.0h0M231.7 519.0h0M236.8 514.8h0M236.3 514.9h0M238.6 508.3h0M250.6 497.4h0M241.4 500.8h0M237.1 510.6h0M233.1 521.7h0M221.0 519.0h0M240.1 513.4h0M238.8 503.2h0M242.1 505.8h0M230.9 520.5h0M234.6 514.0h0M226.2 524.1h0M229.8 523.3h0M228.5 520.3h0M231.7 514.3h0M234.0 512.9h0M228.3 518.7h0M238.1 511.0h0M236.7 509.4h0M239.1 508.5h0M238.6 515.2h0M236.3 509.5h0M237.0 519.5h0M227.8 512.8h0M225.1 521.8h0M234.5 509.6h0M222.7 522.7h0M230.6 516.9h0M232.7 512.9h0M224.4 522.9h0M222.5 527.2h0M243.0 506.5h0M224.6 519.4h0M231.3 514.5h0M236.0 520.2h0M233.6 523.2h0M230.4 521.7h0M227.7 515.1h0M226.7 521.5h0M240.4 508.9h0M231.1 513.0h0M222.3 517.0h0M229.2 511.1h0M227.7 526.5h0M225.3 521.4h0M228.2 523.4h0M222.3 526.4h0M225.2 515.8h0M225.5 522.7h0M230.2 512.8h0M245.4 505.3h0M230.2 519.4h0M229.4 516.3h0M233.1 514.6h0M227.9 521.7h0M230.3 518.1h0M233.1 514.2h0M237.2 512.8h0M242.3 502.1h0M238.5 513.0h0M222.2 524.5h0M229.8 517.1h0M224.5 516.5h0M233.4 514.5h0M238.3 508.3h0M230.1 516.0h0M229.1 522.1h0M222.7 522.9h0M232.2 520.8h0M237.4 511.6h0M234.2 520.5h0M231.3 509.6h0M226.4 519.3h0M243.2 503.0h0M228.9 515.1h0M238.8 515.2h0M222.8 524.3h0M226.9 519.3h0M228.2 518.2h0M234.9 513.6h0M249.9 498.3h0M222.5 526.7h0M225.9 524.5h0M230.2 508.1h0M237.6 512.0h0M222.4 521.8h0M231.9 509.8h0M234.9 517.9h0M238.2 515.9h0M223.5 523.3h0M231.6 519.5h0M237.1 513.8h0M230.0 517.4h0M231.0 516.0h0M230.0 526.9h0M226.0 521.7h0M224.2 524.4h0M241.6 506.6h0M230.7 514.6h0M236.5 515.3h0M221.0 527.5h0M238.5 514.2h0M230.5 523.9h0M229.4 519.2h0M241.7 507.2h0M233.5 513.5h0M228.8 528.1h0M233.9 515.8h0M226.7 524.5h0M229.5 516.0h0M225.0 523.3h0M230.9 523.3h0M223.8 522.6h0M231.5 514.7h0M227.4 518.2h0M235.5 519.2h0M236.2 515.8h0M238.5 513.1h0M227.7 520.5h0M234.4 510.3h0M231.1 522.2h0M226.8 523.6h0M229.0 522.8h0M237.4 510.5h0M227.4 522.4h0M225.9 514.0h0M232.0 518.2h0M223.6 525.9h0M228.3 515.8h0M234.1 512.1h0M227.0 526.2h0M223.1 521.5h0M239.9 512.3h0M233.2 516.8h0M230.5 523.4h0M223.5 522.0h0M231.0 515.5h0M229.2 519.4h0M240.7 503.7h0M232.4 513.5h0M225.2 519.4h0M226.9 521.2h0M229.3 520.6h0M221.1 527.7h0M224.6 521.1h0M233.1 513.9h0M230.6 520.5h0M234.6 510.2h0M224.5 521.5h0M236.9 513.3h0M231.2 512.8h0M229.9 518.8h0M228.6 517.7h0M236.5 505.4h0M226.2 523.3h0M231.9 518.9h0M234.4 515.6h0M227.7 525.3h0M232.6 515.5h0M226.0 527.1h0M236.3 514.9h0M246.5 506.8h0M235.1 511.3h0M235.1 516.3h0M240.1 500.4h0M232.2 522.1h0M224.3 521.4h0M243.7 501.3h0M221.0 524.8h0M227.7 527.2h0M228.0 525.8h0M225.7 521.6h0M234.4 521.8h0M240.9 505.6h0M233.2 519.6h0M235.1 513.9h0M234.8 520.1h0M236.1 514.3h0M238.6 517.2h0M232.1 514.0h0M236.0 508.5h0M223.3 519.0h0M224.2 518.8h0M234.7 505.3h0M237.9 518.4h0M224.5 526.1h0M230.7 516.1h0M225.4 521.7h0M237.2 510.2h0M243.1 504.6h0M226.5 521.7h0M228.1 516.0h0M232.8 517.3h0M237.1 516.1h0M234.5 518.3h0M234.5 515.3h0M230.8 520.5h0M230.9 522.1h0M238.6 509.6h0M224.3 525.7h0M227.0 524.5h0M236.2 511.4h0M237.4 511.5h0M233.6 517.7h0M226.5 523.2h0M228.2 517.7h0M236.6 515.1h0M230.0 526.3h0M238.2 508.9h0M242.9 499.4h0M222.0 524.1h0M239.6 509.6h0M242.0 503.0h0M223.1 522.2h0M232.0 518.3h0M228.9 511.4h0M223.8 526.3h0M230.7 515.3h0M230.2 516.0h0M236.4 506.4h0M228.9 519.2h0M232.7 516.3h0M223.1 520.1h0M231.0 519.1h0M241.2 512.0h0M228.7 520.0h0M228.9 514.1h0M229.3 519.4h0M231.5 513.6h0M237.2 506.2h0M232.2 517.9h0M238.1 510.9h0M227.2 516.4h0M222.7 523.7h0M221.1 527.0h0M224.5 527.8h0M229.0 520.9h0M223.2 526.5h0M229.7 511.8h0M226.1 522.0h0M221.7 521.1h0M237.4 507.2h0M224.1 525.5h0M248.7 498.4h0M234.4 511.7h0M233.3 512.0h0M231.6 513.5h0M227.8 515.0h0M234.2 504.8h0M228.7 518.5h0M223.8 526.1h0M233.3 515.7h0M225.3 523.0h0M225.4 525.1h0M235.3 514.5h0M226.6 520.8h0M229.3 517.4h0M234.2 520.3h0M235.4 515.7h0M234.2 515.5h0M229.7 511.3h0M239.1 510.7h0M234.2 512.9h0M231.4 521.8h0M237.3 507.3h0M229.4 519.7h0M235.7 509.3h0" fill="none" stroke="#f0cf1c" stroke-opacity="0.5" stroke-width="0.72" stroke-linecap="round"/>
<line x1="215.9" y1="532.8" x2="266.5" y2="483.1" stroke="#4b63d8" stroke-width="0.4"/>
<rect x="215.9" y="483.1" width="50.6" height="49.7" fill="none" stroke="#a8a8a8" stroke-width="0.4"/>
<text x="215.9" y="535.6" font-size="2.25" font-weight="bold" fill="#111" text-anchor="middle" stroke="#111" stroke-width="0.1">0</text>
<text x="215.1" y="533.6" font-size="2.25" font-weight="bold" fill="#111" text-anchor="end" stroke="#111" stroke-width="0.1">0</text>
<text x="223.13" y="535.6" font-size="2.25" font-weight="bold" fill="#111" text-anchor="middle" stroke="#111" stroke-width="0.1">2</text>
<text x="215.1" y="526.5" font-size="2.25" font-weight="bold" fill="#111" text-anchor="end" stroke="#111" stroke-width="0.1">2</text>
<text x="230.36" y="535.6" font-size="2.25" font-weight="bold" fill="#111" text-anchor="middle" stroke="#111" stroke-width="0.1">4</text>
<text x="215.1" y="519.4" font-size="2.25" font-weight="bold" fill="#111" text-anchor="end" stroke="#111" stroke-width="0.1">4</text>
<text x="237.59" y="535.6" font-size="2.25" font-weight="bold" fill="#111" text-anchor="middle" stroke="#111" stroke-width="0.1">6</text>
<text x="215.1" y="512.3" font-size="2.25" font-weight="bold" fill="#111" text-anchor="end" stroke="#111" stroke-width="0.1">6</text>
<text x="244.81" y="535.6" font-size="2.25" font-weight="bold" fill="#111" text-anchor="middle" stroke="#111" stroke-width="0.1">8</text>
<text x="215.1" y="505.2" font-size="2.25" font-weight="bold" fill="#111" text-anchor="end" stroke="#111" stroke-width="0.1">8</text>
<text x="252.04" y="535.6" font-size="2.25" font-weight="bold" fill="#111" text-anchor="middle" stroke="#111" stroke-width="0.1">10</text>
<text x="215.1" y="498.1" font-size="2.25" font-weight="bold" fill="#111" text-anchor="end" stroke="#111" stroke-width="0.1">10</text>
<text x="259.27" y="535.6" font-size="2.25" font-weight="bold" fill="#111" text-anchor="middle" stroke="#111" stroke-width="0.1">12</text>
<text x="215.1" y="491" font-size="2.25" font-weight="bold" fill="#111" text-anchor="end" stroke="#111" stroke-width="0.1">12</text>
<text x="266.5" y="535.6" font-size="2.25" font-weight="bold" fill="#111" text-anchor="middle" stroke="#111" stroke-width="0.1">14</text>
<text x="215.1" y="483.9" font-size="2.25" font-weight="bold" fill="#111" text-anchor="end" stroke="#111" stroke-width="0.1">14</text>
<text x="241.2" y="540.1" font-size="2.8" font-weight="bold" fill="#111" text-anchor="middle" stroke="#111" stroke-width="0.1">Sub-model 4</text>
<text x="212.9" y="508.35" font-size="2.65" font-weight="bold" fill="#111" text-anchor="middle" transform="rotate(-90 212.9 508.35)" stroke="#111" stroke-width="0.1">Actual Data</text>
<circle cx="220.6" cy="485.3" r="0.35" fill="#f0cf1c"/>
<text x="225.3" y="486" font-size="2.3" font-weight="bold" fill="#222" text-anchor="start" stroke="#222" stroke-width="0.1">Sub-model 4 vs. Actual Data</text>
<line x1="218.9" y1="487.8" x2="222.5" y2="487.8" stroke="#4b63d8" stroke-width="0.4"/>
<text x="225.3" y="488.5" font-size="2.3" font-weight="bold" fill="#222" text-anchor="start" stroke="#222" stroke-width="0.1">Actual Data</text>
<line x1="218.9" y1="490.3" x2="222.5" y2="490.3" stroke="#8a93a8" stroke-width="0.35" stroke-dasharray="0.5 0.4"/>
<text x="225.3" y="491" font-size="2.3" font-weight="bold" fill="#222" text-anchor="start" stroke="#222" stroke-width="0.1">Pred bnds (95%)</text>
<rect x="280.8" y="483.1" width="50.6" height="49.7" fill="#fff" stroke="none"/>
<line x1="288.03" y1="483.1" x2="288.03" y2="532.8" stroke="#dcdcdc" stroke-width="0.3"/>
<line x1="295.26" y1="483.1" x2="295.26" y2="532.8" stroke="#dcdcdc" stroke-width="0.3"/>
<line x1="302.49" y1="483.1" x2="302.49" y2="532.8" stroke="#dcdcdc" stroke-width="0.3"/>
<line x1="309.71" y1="483.1" x2="309.71" y2="532.8" stroke="#dcdcdc" stroke-width="0.3"/>
<line x1="316.94" y1="483.1" x2="316.94" y2="532.8" stroke="#dcdcdc" stroke-width="0.3"/>
<line x1="324.17" y1="483.1" x2="324.17" y2="532.8" stroke="#dcdcdc" stroke-width="0.3"/>
<line x1="280.8" y1="490.2" x2="331.4" y2="490.2" stroke="#dcdcdc" stroke-width="0.3"/>
<line x1="280.8" y1="497.3" x2="331.4" y2="497.3" stroke="#dcdcdc" stroke-width="0.3"/>
<line x1="280.8" y1="504.4" x2="331.4" y2="504.4" stroke="#dcdcdc" stroke-width="0.3"/>
<line x1="280.8" y1="511.5" x2="331.4" y2="511.5" stroke="#dcdcdc" stroke-width="0.3"/>
<line x1="280.8" y1="518.6" x2="331.4" y2="518.6" stroke="#dcdcdc" stroke-width="0.3"/>
<line x1="280.8" y1="525.7" x2="331.4" y2="525.7" stroke="#dcdcdc" stroke-width="0.3"/>
<line x1="292" y1="532.8" x2="331.4" y2="494.11" stroke="#8a93a8" stroke-width="0.35" stroke-dasharray="0.5 0.4"/>
<line x1="280.8" y1="521.79" x2="320.2" y2="483.1" stroke="#8a93a8" stroke-width="0.35" stroke-dasharray="0.5 0.4"/>
<path d="M295.4 520.4h0M296.1 519.6h0M292.2 520.5h0M287.5 522.6h0M303.6 517.1h0M309.5 512.6h0M318.1 509.6h0M296.2 515.8h0M288.6 527.2h0M316.3 499.9h0M301.9 519.9h0M295.9 517.2h0M297.0 524.6h0M295.8 515.4h0M301.7 511.8h0M298.8 512.9h0M305.8 509.6h0M309.5 515.0h0M287.9 526.3h0M293.1 513.0h0M288.8 512.3h0M296.2 518.9h0M293.7 519.6h0M305.8 510.0h0M294.7 515.5h0M302.5 515.8h0M288.6 516.0h0M287.5 518.3h0M300.6 512.3h0M302.3 517.0h0M306.9 503.0h0M299.7 517.7h0M303.4 517.8h0M293.1 506.9h0M299.5 518.6h0M290.0 523.6h0M287.5 525.2h0M292.9 522.4h0M315.5 514.3h0M294.6 520.4h0M287.5 516.6h0M302.2 512.6h0M304.4 513.6h0M287.8 527.8h0M297.7 514.8h0M299.9 516.0h0M319.4 498.5h0M310.2 501.7h0M291.2 522.6h0M296.0 522.3h0M306.4 501.4h0M290.0 521.2h0M295.4 524.4h0M294.9 515.6h0M286.6 524.1h0M296.7 519.7h0M309.1 506.4h0M300.1 510.3h0M301.9 518.5h0M291.2 514.2h0M304.2 512.4h0M292.6 524.5h0M321.7 500.2h0M299.8 510.7h0M294.6 509.7h0M290.0 510.6h0M294.7 524.6h0M297.3 518.5h0M309.7 509.5h0M297.7 511.8h0M317.8 500.8h0M297.1 515.4h0M292.1 519.0h0M313.1 507.2h0M300.7 515.0h0M298.6 523.5h0M292.9 527.4h0M304.8 510.4h0M289.4 523.5h0M299.6 516.4h0M304.3 506.4h0M294.7 523.5h0M291.2 518.9h0M292.2 518.2h0M306.2 522.3h0M306.5 511.1h0M299.6 513.2h0M303.4 517.0h0M291.3 507.9h0M294.7 506.8h0M305.3 507.1h0M302.2 520.2h0M288.1 527.3h0M286.5 525.5h0M304.5 517.1h0M285.9 520.7h0M309.0 517.4h0M299.4 507.3h0M292.8 525.3h0M288.2 520.1h0M304.7 510.8h0M306.7 503.8h0M286.1 527.3h0M294.7 516.0h0M301.2 518.9h0M300.3 514.8h0M292.5 516.5h0M298.8 502.1h0M301.9 513.8h0M308.0 500.0h0M295.2 523.8h0M287.8 527.1h0M298.4 515.0h0M297.0 508.2h0M298.0 520.7h0M294.1 509.2h0M292.8 514.6h0M292.5 520.5h0M318.5 502.6h0M304.2 517.9h0M289.9 522.3h0M301.3 507.0h0M296.2 516.4h0M291.7 524.6h0M304.8 515.4h0M302.5 513.4h0M304.3 503.4h0M287.3 518.2h0M313.4 497.6h0M295.7 513.4h0M295.6 517.1h0M306.4 508.0h0M307.1 508.3h0M306.7 503.7h0M304.9 503.6h0M298.0 522.6h0M288.4 524.8h0M300.7 516.3h0M297.5 526.6h0M286.0 522.3h0M306.6 510.2h0M287.9 526.2h0M299.5 524.5h0M296.6 521.9h0M291.5 519.7h0M286.1 523.1h0M298.2 518.5h0M298.6 515.7h0M289.1 522.9h0M298.2 510.9h0M296.2 514.2h0M315.5 501.6h0M305.4 510.2h0M307.9 504.4h0M292.6 517.3h0M295.1 518.1h0M317.9 497.9h0M309.9 504.7h0M301.7 525.1h0M292.4 514.2h0M288.7 521.6h0M295.9 522.4h0M294.8 517.3h0M304.9 510.0h0M300.4 520.8h0M295.6 520.9h0M289.2 516.8h0M311.9 502.2h0M293.2 525.8h0M291.2 521.5h0M299.9 515.6h0M299.9 527.1h0M298.2 523.8h0M295.9 517.9h0M289.2 519.3h0M294.0 520.3h0M292.9 523.7h0M311.0 499.7h0M289.0 512.8h0M297.2 518.3h0M301.2 505.2h0M306.8 496.6h0M288.4 520.0h0M290.8 518.7h0M289.5 525.3h0M287.5 519.6h0M290.1 523.9h0M295.0 515.5h0M300.0 515.6h0M287.4 526.1h0M290.4 523.9h0M299.6 521.6h0M297.5 516.5h0M286.0 520.9h0M298.5 508.8h0M300.1 518.7h0M308.7 497.6h0M298.1 515.0h0M302.1 521.7h0M301.0 518.1h0M292.2 521.0h0M295.3 513.3h0M297.5 512.7h0M304.9 522.5h0M302.1 515.6h0M296.9 515.8h0M286.4 526.5h0M291.2 522.8h0M289.1 524.5h0M296.3 515.6h0M292.6 514.3h0M297.2 515.9h0M315.4 506.4h0M303.8 520.3h0M295.4 517.3h0M286.7 527.1h0M290.2 520.2h0M288.9 520.8h0M294.4 517.0h0M290.9 518.8h0M287.4 516.5h0M298.7 515.0h0M295.8 518.4h0M313.7 509.0h0M295.6 519.3h0M291.6 525.2h0M320.9 494.8h0M287.0 527.1h0M299.3 513.5h0M306.6 506.6h0M303.8 511.7h0M304.9 510.1h0M299.6 514.8h0M309.0 511.9h0M297.4 516.6h0M287.0 526.5h0M290.1 513.4h0M293.4 519.0h0M311.4 512.4h0M287.5 525.9h0M304.7 507.7h0M294.8 515.8h0M290.9 517.7h0M299.8 513.4h0M299.4 517.5h0M289.3 521.1h0M290.3 524.6h0M299.4 506.6h0M295.2 516.2h0M310.3 514.0h0M308.6 499.1h0M296.2 515.7h0M296.2 517.8h0M304.5 502.0h0M294.4 502.5h0M294.3 519.9h0M314.3 507.4h0M316.6 510.3h0M293.1 526.4h0M288.2 521.0h0M297.4 512.6h0M299.2 515.1h0M297.2 522.3h0M288.1 517.7h0M288.2 527.1h0M306.2 523.9h0M295.8 522.4h0M300.1 516.3h0M290.4 521.6h0M303.5 510.2h0M296.6 514.0h0M295.3 524.6h0M313.8 498.3h0M297.7 514.3h0M286.7 520.2h0M307.5 501.9h0M292.8 516.1h0M302.6 511.5h0M290.2 527.4h0M298.2 514.7h0M291.5 524.8h0M290.4 521.7h0M290.1 527.3h0M295.4 515.5h0M292.0 522.8h0M302.6 513.9h0M298.6 511.3h0M292.3 524.7h0M306.4 512.8h0M289.0 517.5h0M305.4 505.2h0M300.9 516.7h0M297.7 520.0h0M293.5 513.2h0M304.5 517.9h0M287.6 522.8h0M303.3 515.3h0M313.6 507.6h0M290.2 516.8h0M302.6 519.0h0M311.0 516.7h0M289.3 526.4h0M290.8 526.7h0M296.7 514.4h0M307.9 500.1h0M321.6 499.2h0M295.2 521.2h0M296.3 518.9h0M296.6 519.4h0M298.3 515.7h0M296.9 509.2h0M304.8 502.3h0M287.0 526.7h0M301.8 518.6h0M286.6 516.9h0M302.0 509.4h0M287.3 523.9h0M296.3 517.3h0M294.4 513.5h0M295.0 517.4h0M305.3 502.1h0M310.6 503.1h0M303.9 506.7h0M292.0 521.3h0M302.1 517.4h0M307.1 509.3h0M298.3 508.5h0M297.9 509.4h0M309.0 510.1h0M309.9 509.2h0M296.7 521.7h0M303.1 511.5h0M294.9 517.0h0M288.9 524.5h0M292.1 512.7h0M291.7 524.2h0M286.6 526.7h0M287.9 525.3h0M299.6 511.1h0M286.2 526.5h0M302.1 518.6h0M294.5 522.3h0M288.4 522.1h0M300.4 515.8h0M305.3 509.4h0M291.7 515.0h0M305.9 507.6h0M287.5 525.5h0M304.1 513.3h0M286.7 518.5h0M297.1 509.8h0M289.3 523.1h0M306.6 509.3h0M291.6 505.9h0M291.5 526.0h0M296.9 522.4h0M309.9 492.8h0M293.2 514.2h0M288.7 510.1h0M299.2 516.9h0M291.1 525.1h0M293.3 521.5h0M297.8 518.1h0M298.2 518.9h0M294.5 521.2h0M290.2 519.4h0M288.3 525.6h0M296.0 528.2h0M301.5 514.8h0M315.6 501.6h0M290.0 522.3h0M289.1 525.8h0M287.1 520.2h0M289.2 518.5h0M302.7 498.3h0M292.5 517.7h0M297.7 524.6h0M291.3 518.8h0M299.3 518.5h0M299.6 512.1h0M304.7 519.3h0M287.2 525.9h0M297.0 514.3h0M315.4 500.1h0M309.9 508.2h0M289.2 526.6h0M298.9 512.0h0M309.9 516.0h0M288.6 519.0h0M314.5 511.9h0M306.3 515.1h0M310.7 499.7h0M291.5 519.1h0M291.6 520.6h0M297.5 512.8h0M300.9 510.9h0M302.5 514.4h0M306.2 508.6h0M295.7 514.9h0M286.8 515.5h0M303.1 515.9h0M297.9 513.5h0M293.9 521.9h0M293.1 520.3h0M308.9 515.2h0M300.6 509.1h0M288.3 518.4h0M286.6 525.2h0M295.7 514.7h0M291.0 519.6h0M296.9 512.5h0M299.7 516.0h0M313.3 498.9h0M301.8 507.1h0M290.6 525.6h0M302.4 519.5h0M304.0 515.9h0M286.6 518.4h0M296.9 517.6h0M293.8 519.1h0M305.6 512.3h0M303.6 506.7h0M314.0 504.8h0M303.4 511.5h0M313.7 508.7h0M313.8 506.7h0M289.2 526.7h0M305.5 506.2h0M299.2 523.1h0M298.0 518.1h0M310.9 510.3h0M291.4 519.0h0M295.2 515.8h0M286.8 522.8h0M288.6 521.8h0M295.8 514.5h0M306.6 511.2h0M294.8 522.5h0M294.2 515.9h0M312.8 499.8h0M313.0 495.7h0M302.2 514.9h0M289.2 523.0h0M298.0 518.4h0M305.4 503.2h0M300.5 510.4h0M297.8 514.3h0M287.3 521.5h0M304.0 507.8h0M288.1 523.6h0M286.3 521.1h0M304.9 505.4h0M296.5 516.1h0M311.9 509.7h0M300.3 517.5h0M296.2 520.7h0M308.0 512.9h0M308.1 500.8h0M298.1 519.7h0M297.0 522.9h0M298.3 517.2h0M293.8 522.2h0M311.5 507.8h0M291.2 526.5h0M288.3 524.7h0M318.7 504.0h0M300.0 517.9h0M307.7 510.7h0M301.7 515.2h0M303.6 522.1h0M292.4 520.5h0M306.8 510.3h0M304.6 511.0h0M307.4 503.6h0M298.8 520.5h0M308.5 507.7h0M290.4 519.8h0M309.4 502.3h0M298.3 525.2h0M308.6 509.1h0M292.9 519.8h0M294.0 520.9h0M286.1 522.4h0M300.6 512.4h0M306.7 499.5h0M295.4 517.1h0M288.0 522.6h0M291.3 521.3h0M291.7 522.5h0M300.9 513.6h0M315.0 504.1h0M286.9 523.7h0M294.4 515.7h0M310.1 502.3h0M296.5 517.1h0M310.4 500.8h0M290.2 522.6h0M303.3 508.9h0M305.4 506.2h0M297.2 515.3h0M301.5 518.0h0M289.9 519.5h0M296.7 526.2h0M309.9 505.2h0M300.1 510.4h0M292.2 515.0h0M296.4 506.5h0M293.7 516.7h0M292.5 520.1h0M299.1 516.3h0M293.1 523.9h0M288.8 525.1h0M302.2 512.0h0M287.7 522.4h0M287.4 525.9h0M313.5 502.9h0M293.8 515.4h0M303.3 526.0h0M302.8 515.8h0M310.2 510.1h0M304.8 508.0h0M298.7 507.7h0M308.8 506.7h0M307.8 516.9h0M291.7 526.3h0M295.0 517.6h0M308.8 511.2h0M310.1 508.5h0M308.8 507.1h0M302.6 517.7h0M294.8 520.2h0M301.2 517.5h0M292.9 511.4h0M297.5 515.4h0M286.5 525.6h0M309.4 509.0h0M297.6 516.8h0M292.9 523.3h0M298.2 523.8h0M299.1 507.1h0M304.4 516.3h0M287.2 526.5h0M297.1 511.1h0M298.6 520.4h0M299.3 513.9h0M310.6 496.8h0M295.2 511.6h0M288.7 527.9h0M289.9 517.1h0M292.8 518.0h0M298.7 516.2h0M307.4 508.0h0M300.9 515.5h0M288.4 524.0h0M292.9 520.6h0M311.8 504.5h0M304.4 514.4h0M316.3 515.3h0M295.7 526.6h0M299.5 520.6h0M311.8 511.9h0M304.4 510.1h0M294.7 521.0h0M295.6 521.8h0M293.0 525.0h0M293.3 518.1h0M292.0 525.3h0M302.7 507.2h0M307.3 505.1h0M287.6 524.7h0M287.2 515.4h0M312.8 506.0h0M314.5 511.1h0M292.7 523.5h0M292.9 516.9h0M294.0 513.8h0M288.2 527.6h0M300.2 514.5h0M298.6 519.4h0M295.0 511.0h0M312.5 502.8h0M301.4 519.4h0M308.6 506.1h0M311.7 504.5h0M292.5 521.6h0M286.7 525.5h0M295.2 517.3h0M288.7 522.2h0M302.3 508.1h0M295.5 522.5h0M296.9 517.1h0M307.7 504.5h0M289.4 526.4h0M316.4 503.4h0M287.4 527.8h0M289.4 522.9h0M313.7 502.6h0M293.5 522.3h0M295.1 519.2h0M301.3 507.4h0M295.5 527.0h0M294.9 524.2h0M295.8 521.8h0M294.9 515.2h0M299.8 514.2h0M304.2 512.6h0M294.5 512.0h0M290.2 519.9h0M289.6 517.9h0M306.3 513.2h0M305.1 513.9h0M304.4 508.4h0M287.3 527.3h0M296.9 518.4h0M302.7 507.6h0M307.2 512.1h0M316.3 503.3h0M306.8 506.3h0M307.1 514.9h0M305.9 511.2h0M311.7 508.6h0M289.1 526.1h0M288.5 527.8h0M299.5 516.5h0M291.2 521.1h0M292.1 516.4h0M308.9 506.9h0M295.4 520.8h0M295.1 516.8h0M301.8 514.0h0M292.2 524.6h0M316.3 500.4h0M287.1 524.4h0M298.8 519.4h0M294.3 524.9h0M298.0 513.7h0M293.6 518.2h0M293.3 518.1h0M304.0 513.3h0M302.5 506.6h0M288.5 519.9h0M297.1 515.6h0M318.8 501.1h0M316.2 496.8h0M315.9 497.6h0M297.5 513.9h0M295.1 514.4h0M295.7 514.6h0M298.5 521.8h0M319.8 504.0h0M299.5 511.4h0M309.3 509.3h0M292.2 521.5h0M291.4 526.2h0M297.2 516.9h0M297.8 508.1h0M311.9 509.0h0M293.8 527.6h0M294.6 521.1h0M293.6 522.5h0M294.6 519.1h0M297.1 527.0h0M297.3 513.9h0M296.2 508.8h0M304.4 502.5h0M301.5 515.0h0M305.4 505.3h0M310.3 506.9h0M287.7 524.8h0M288.5 524.2h0M290.4 519.8h0M305.3 525.6h0M299.5 519.5h0M300.9 523.4h0M291.4 521.3h0M296.7 517.5h0M302.9 516.6h0M290.3 522.4h0M287.7 524.6h0M287.5 517.2h0M311.3 501.6h0M304.4 500.7h0M293.4 523.1h0M306.3 504.8h0M290.0 520.7h0M287.8 525.8h0M293.0 524.2h0M292.1 521.9h0M305.5 512.6h0M287.8 520.5h0M303.1 509.7h0M306.6 518.7h0M311.3 503.5h0M315.7 501.8h0M297.3 521.5h0M306.2 514.5h0M303.0 507.8h0M309.4 510.4h0M305.4 507.6h0M287.9 524.5h0M304.9 506.3h0M293.8 515.3h0M297.2 517.3h0M297.5 515.6h0M300.3 518.7h0M295.7 515.7h0M310.5 496.3h0M297.0 507.8h0M292.9 517.9h0M304.7 508.8h0M314.1 502.6h0M295.9 512.7h0M300.3 510.9h0M301.6 515.5h0M305.8 510.4h0M293.4 523.6h0M294.5 527.2h0M294.2 522.0h0M296.9 516.5h0M304.0 504.6h0M304.3 504.9h0M298.0 513.5h0M288.7 528.1h0M302.1 513.6h0M303.1 502.9h0M290.4 522.6h0M297.5 512.0h0M286.2 526.5h0M312.1 498.4h0M296.1 519.9h0M296.0 515.4h0M303.0 505.9h0M315.5 507.5h0M310.3 506.1h0M294.2 525.9h0M291.5 525.7h0M300.8 520.3h0M308.0 517.2h0M286.5 522.7h0M309.4 502.5h0M290.4 523.3h0M298.1 518.6h0M293.0 525.9h0M300.6 524.5h0M289.8 525.4h0M297.6 524.2h0M299.2 508.2h0M304.5 521.4h0M296.4 521.4h0M303.2 517.6h0M298.5 520.4h0M296.7 521.3h0M293.1 517.3h0M291.6 521.7h0M322.6 499.7h0M287.8 517.9h0M309.4 508.7h0M297.8 506.3h0M289.4 522.6h0M294.7 525.8h0M311.8 516.7h0M299.8 514.8h0M309.0 503.4h0M299.7 517.6h0M307.4 514.2h0M290.3 513.7h0M286.2 527.1h0M293.3 517.5h0M299.7 506.5h0M290.6 520.9h0M286.3 524.9h0M294.8 513.3h0M291.3 521.0h0M299.7 515.9h0M302.9 516.4h0M292.2 515.8h0M298.2 516.1h0M288.0 520.3h0M304.0 506.1h0M305.0 513.7h0M301.3 516.3h0M313.6 511.0h0M301.2 514.6h0M293.6 525.6h0M300.1 517.3h0M294.6 519.1h0M288.0 527.9h0M303.1 519.7h0M292.0 513.2h0M294.8 519.2h0M303.1 506.2h0M295.5 508.2h0M303.6 508.3h0M310.3 498.1h0M294.9 517.5h0M294.2 520.4h0M300.3 523.3h0M301.6 525.1h0M292.7 523.5h0M299.7 522.4h0M310.5 504.4h0M293.8 520.0h0M298.8 514.5h0M296.1 513.3h0M290.3 523.6h0M313.8 502.8h0M298.8 520.1h0M304.4 509.5h0M317.8 493.2h0M296.7 525.9h0M306.7 507.5h0M314.5 506.3h0M289.0 523.2h0M303.2 516.9h0M310.2 508.9h0M296.5 517.1h0M286.3 527.3h0M294.1 523.4h0M301.6 513.7h0M302.1 514.0h0M308.1 500.8h0M290.7 521.6h0M301.4 513.5h0M299.7 524.5h0M294.2 514.5h0M287.3 520.7h0M287.8 520.9h0M296.1 520.9h0M299.8 517.1h0M293.7 508.1h0M308.1 503.0h0M295.7 522.8h0M290.8 525.9h0M294.9 511.2h0M303.2 509.7h0M291.7 522.2h0M302.5 516.6h0M293.1 524.0h0M286.4 521.7h0M296.8 520.6h0M298.4 514.9h0M321.5 497.5h0M292.0 522.5h0M295.6 521.6h0M304.9 511.4h0M300.0 510.6h0M286.8 521.2h0M305.2 515.0h0M291.2 521.6h0M293.2 524.9h0M294.3 514.6h0M287.0 522.8h0M313.0 511.6h0M294.2 518.3h0M303.6 510.1h0M297.9 518.2h0M291.1 521.9h0M302.2 516.3h0M310.5 498.0h0M292.8 517.9h0M286.0 518.6h0M287.9 526.2h0M308.0 497.2h0M302.4 508.2h0M292.8 522.3h0M303.0 512.2h0M292.6 517.2h0M292.4 519.6h0M309.8 515.1h0M303.2 517.4h0M303.4 510.8h0M302.3 505.6h0M286.5 526.6h0M303.8 515.1h0M287.9 520.6h0M305.5 509.8h0M300.2 511.4h0M293.1 524.7h0M300.9 508.7h0M307.8 501.5h0M318.0 503.7h0M296.2 510.9h0M294.2 527.0h0M305.0 514.0h0M301.6 517.7h0M288.0 525.4h0M310.2 503.7h0M290.4 523.3h0M319.2 500.1h0M290.6 520.3h0M296.8 515.3h0M302.6 519.3h0M299.8 516.1h0M294.6 515.6h0M297.2 522.2h0M294.0 522.6h0M288.6 527.1h0M291.2 521.6h0M300.7 517.6h0M302.0 503.7h0" fill="none" stroke="#ea3c44" stroke-opacity="0.5" stroke-width="0.72" stroke-linecap="round"/>
<line x1="280.8" y1="532.8" x2="331.4" y2="483.1" stroke="#4b63d8" stroke-width="0.4"/>
<rect x="280.8" y="483.1" width="50.6" height="49.7" fill="none" stroke="#a8a8a8" stroke-width="0.4"/>
<text x="280.8" y="535.6" font-size="2.25" font-weight="bold" fill="#111" text-anchor="middle" stroke="#111" stroke-width="0.1">0</text>
<text x="280" y="533.6" font-size="2.25" font-weight="bold" fill="#111" text-anchor="end" stroke="#111" stroke-width="0.1">0</text>
<text x="288.03" y="535.6" font-size="2.25" font-weight="bold" fill="#111" text-anchor="middle" stroke="#111" stroke-width="0.1">2</text>
<text x="280" y="526.5" font-size="2.25" font-weight="bold" fill="#111" text-anchor="end" stroke="#111" stroke-width="0.1">2</text>
<text x="295.26" y="535.6" font-size="2.25" font-weight="bold" fill="#111" text-anchor="middle" stroke="#111" stroke-width="0.1">4</text>
<text x="280" y="519.4" font-size="2.25" font-weight="bold" fill="#111" text-anchor="end" stroke="#111" stroke-width="0.1">4</text>
<text x="302.49" y="535.6" font-size="2.25" font-weight="bold" fill="#111" text-anchor="middle" stroke="#111" stroke-width="0.1">6</text>
<text x="280" y="512.3" font-size="2.25" font-weight="bold" fill="#111" text-anchor="end" stroke="#111" stroke-width="0.1">6</text>
<text x="309.71" y="535.6" font-size="2.25" font-weight="bold" fill="#111" text-anchor="middle" stroke="#111" stroke-width="0.1">8</text>
<text x="280" y="505.2" font-size="2.25" font-weight="bold" fill="#111" text-anchor="end" stroke="#111" stroke-width="0.1">8</text>
<text x="316.94" y="535.6" font-size="2.25" font-weight="bold" fill="#111" text-anchor="middle" stroke="#111" stroke-width="0.1">10</text>
<text x="280" y="498.1" font-size="2.25" font-weight="bold" fill="#111" text-anchor="end" stroke="#111" stroke-width="0.1">10</text>
<text x="324.17" y="535.6" font-size="2.25" font-weight="bold" fill="#111" text-anchor="middle" stroke="#111" stroke-width="0.1">12</text>
<text x="280" y="491" font-size="2.25" font-weight="bold" fill="#111" text-anchor="end" stroke="#111" stroke-width="0.1">12</text>
<text x="331.4" y="535.6" font-size="2.25" font-weight="bold" fill="#111" text-anchor="middle" stroke="#111" stroke-width="0.1">14</text>
<text x="280" y="483.9" font-size="2.25" font-weight="bold" fill="#111" text-anchor="end" stroke="#111" stroke-width="0.1">14</text>
<text x="306.1" y="540.1" font-size="2.8" font-weight="bold" fill="#111" text-anchor="middle" stroke="#111" stroke-width="0.1">Sub-model 5</text>
<text x="277.8" y="508.35" font-size="2.65" font-weight="bold" fill="#111" text-anchor="middle" transform="rotate(-90 277.8 508.35)" stroke="#111" stroke-width="0.1">Actual Data</text>
<circle cx="285.5" cy="485.3" r="0.35" fill="#ea3c44"/>
<text x="290.2" y="486" font-size="2.3" font-weight="bold" fill="#222" text-anchor="start" stroke="#222" stroke-width="0.1">Sub-model 5 vs. Actual Data</text>
<line x1="283.8" y1="487.8" x2="287.4" y2="487.8" stroke="#4b63d8" stroke-width="0.4"/>
<text x="290.2" y="488.5" font-size="2.3" font-weight="bold" fill="#222" text-anchor="start" stroke="#222" stroke-width="0.1">Actual Data</text>
<line x1="283.8" y1="490.3" x2="287.4" y2="490.3" stroke="#8a93a8" stroke-width="0.35" stroke-dasharray="0.5 0.4"/>
<text x="290.2" y="491" font-size="2.3" font-weight="bold" fill="#222" text-anchor="start" stroke="#222" stroke-width="0.1">Pred bnds (95%)</text>
</g>
</svg>
</body></html>
